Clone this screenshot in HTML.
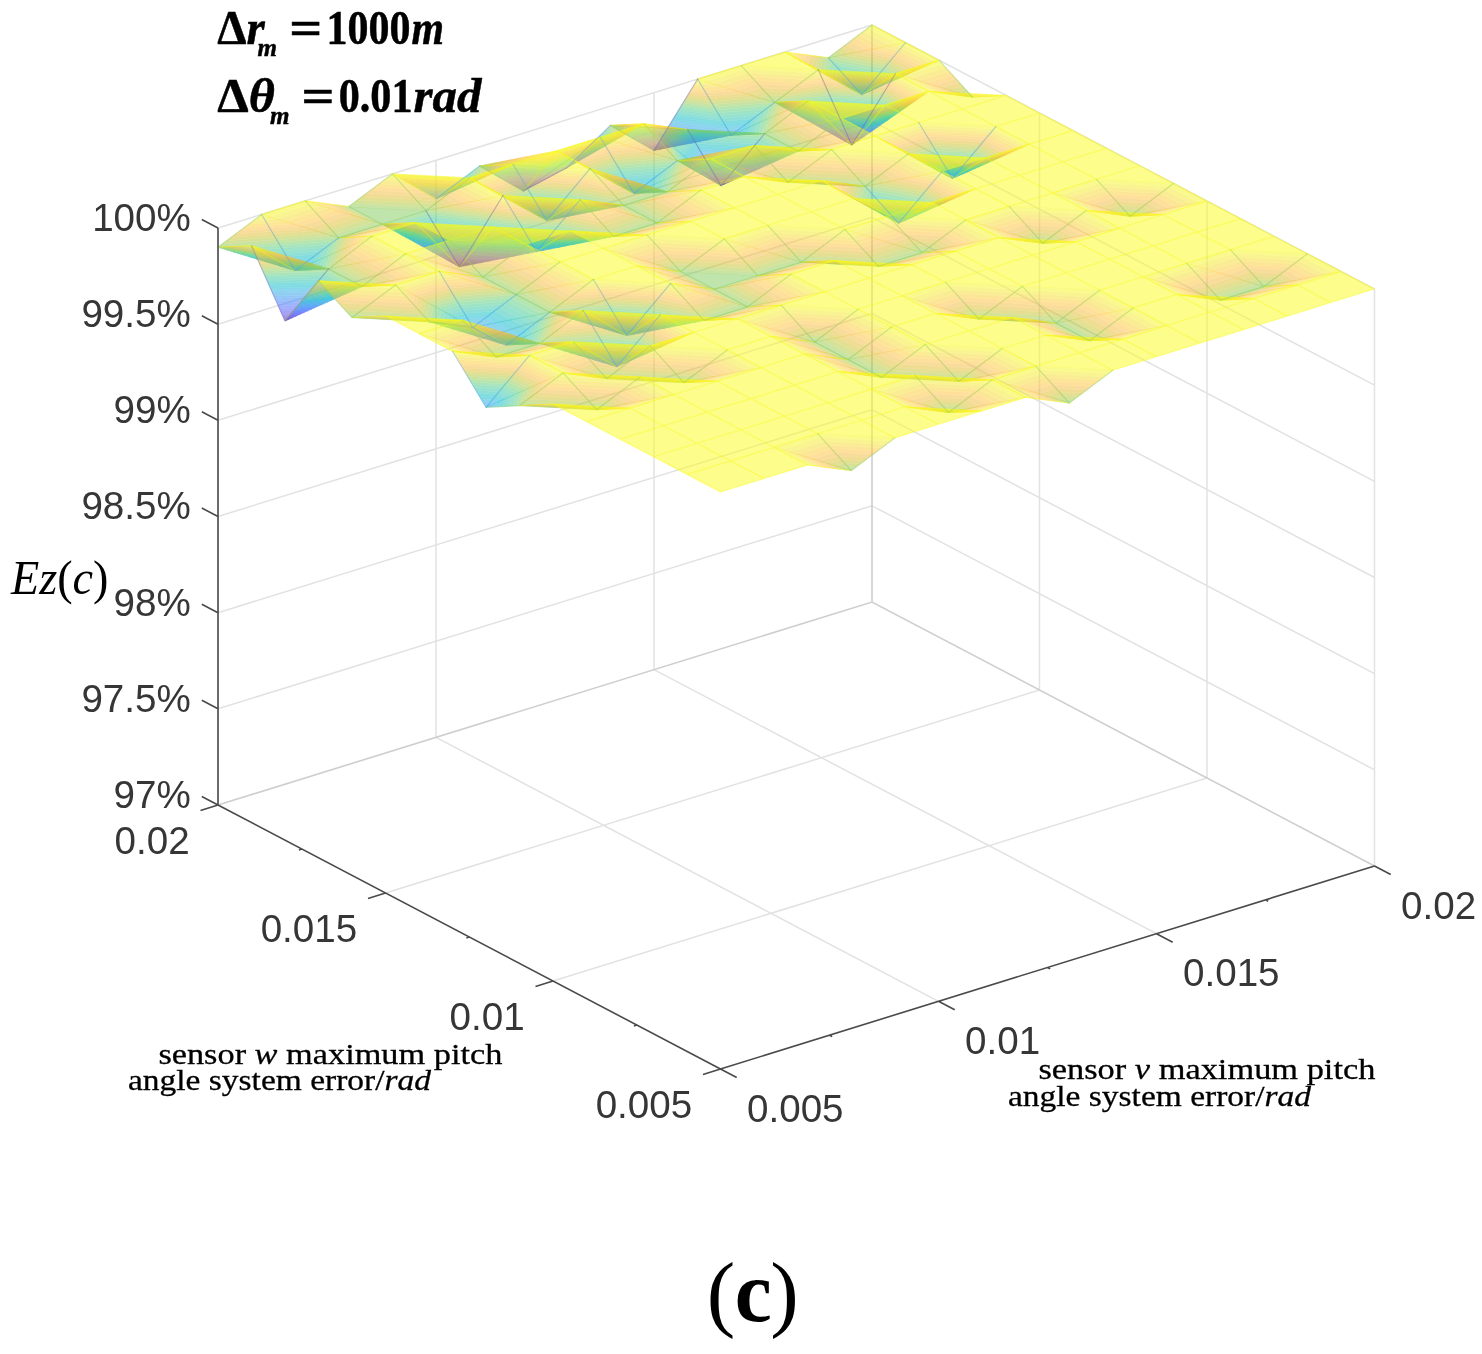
<!DOCTYPE html>
<html lang="en"><head><meta charset="utf-8"><title>Figure (c)</title><style>html,body{margin:0;padding:0;background:#fff}body{width:1482px;height:1354px;overflow:hidden}svg{display:block}</style></head><body>
<svg width="1482" height="1354" viewBox="0 0 1482 1354">
<rect width="1482" height="1354" fill="#fff"/>
<g stroke="#e2e2e2" stroke-width="1.5" fill="none">
<path d="M938.5,1001.3L436,737.3M553,981L1207,778M1156.5,933.7L654,669.7M385.5,893L1039.5,690M436,737.3L436,160.3M654,669.7L654,92.7M1207,778L1207,201M1039.5,690L1039.5,113M218,708.8L872,505.8M872,505.8L1374.5,769.8M218,612.7L872,409.7M872,409.7L1374.5,673.7M218,516.5L872,313.5M872,313.5L1374.5,577.5M218,420.3L872,217.3M872,217.3L1374.5,481.3M218,324.2L872,121.2M872,121.2L1374.5,385.2M218,228L872,25M872,25L1374.5,289M1374.5,866L1374.5,289"/>
</g>
<path d="M218,805L872,602L1374.5,866M872,602L872,25" stroke="#cecece" stroke-width="1.6" fill="none"/>
<path d="M918.8 122.5l43.6-13.6 -33.5-17.6 -43.6 13.6zM995.9 126.5l43.6-13.5 -33.5-17.6 -43.6 13.5zM875.2 136l43.6-13.5 -33.5-17.6 -43.6 13.5zM1029.4 144.1l43.6-13.5 -33.5-17.6 -43.6 13.5zM1062.9 161.7l43.6-13.5 -33.5-17.6 -43.6 13.5zM1019.3 175.3l43.6-13.6 -33.5-17.6 -43.6 13.6zM1096.4 179.3l43.6-13.5 -33.5-17.6 -43.6 13.5zM975.7 188.8l43.6-13.5 -33.5-17.6 -43.6 13.5zM1052.8 192.9l43.6-13.6 -33.5-17.6 -43.6 13.6zM1009.2 206.4l43.6-13.5 -33.5-17.6 -43.6 13.5zM734.3 207.7l43.6-13.5 -33.5-17.6 -43.6 13.5zM811.4 211.8l43.6-13.5 -33.5-17.6 -43.6 13.5zM965.6 219.9l43.6-13.5 -33.5-17.6 -43.6 13.5zM1196.9 232.1l43.6-13.5 -33.5-17.6 -43.6 13.5zM767.8 225.3l43.6-13.5 -33.5-17.6 -43.6 13.5zM844.9 229.4l43.6-13.5 -33.5-17.6 -43.6 13.5zM1153.3 245.7l43.6-13.6 -33.5-17.6 -43.6 13.6zM1230.4 249.7l43.6-13.5 -33.5-17.6 -43.6 13.5zM724.2 238.9l43.6-13.6 -33.5-17.6 -43.6 13.6zM1109.7 259.2l43.6-13.5 -33.5-17.6 -43.6 13.5zM1186.8 263.3l43.6-13.6 -33.5-17.6 -43.6 13.6zM989 268.7l43.6-13.6 -33.5-17.6 -43.6 13.6zM1066.1 272.7l43.6-13.5 -33.5-17.6 -43.6 13.5zM1143.2 276.8l43.6-13.5 -33.5-17.6 -43.6 13.5zM405.7 253.7l43.6-13.5 -33.5-17.6 -43.6 13.5zM559.9 261.9l43.6-13.6 -33.5-17.6 -43.6 13.6zM945.4 282.2l43.6-13.5 -33.5-17.6 -43.6 13.5zM1022.5 286.3l43.6-13.6 -33.5-17.6 -43.6 13.6zM1099.6 290.3l43.6-13.5 -33.5-17.6 -43.6 13.5zM1330.9 302.5l43.6-13.5 -33.5-17.6 -43.6 13.5zM593.4 279.5l43.6-13.6 -33.5-17.6 -43.6 13.6zM824.7 291.7l43.6-13.6 -33.5-17.6 -43.6 13.6zM901.8 295.7l43.6-13.5 -33.5-17.6 -43.6 13.5zM1133.1 307.9l43.6-13.5 -33.5-17.6 -43.6 13.5zM1287.3 316.1l43.6-13.6 -33.5-17.6 -43.6 13.6zM858.2 309.3l43.6-13.6 -33.5-17.6 -43.6 13.6zM1166.6 325.5l43.6-13.5 -33.5-17.6 -43.6 13.5zM1243.7 329.6l43.6-13.5 -33.5-17.6 -43.6 13.5zM891.7 326.9l43.6-13.6 -33.5-17.6 -43.6 13.6zM1200.1 343.1l43.6-13.5 -33.5-17.6 -43.6 13.5zM925.2 344.5l43.6-13.6 -33.5-17.6 -43.6 13.6zM1002.3 348.5l43.6-13.5 -33.5-17.6 -43.6 13.5zM1156.5 356.7l43.6-13.6 -33.5-17.6 -43.6 13.6zM727.4 349.9l43.6-13.6 -33.5-17.6 -43.6 13.6zM1035.8 366.1l43.6-13.5 -33.5-17.6 -43.6 13.5zM1112.9 370.2l43.6-13.5 -33.5-17.6 -43.6 13.5zM760.9 367.5l43.6-13.6 -33.5-17.6 -43.6 13.6zM794.4 385.1l43.6-13.6 -33.5-17.6 -43.6 13.6zM750.8 398.6l43.6-13.5 -33.5-17.6 -43.6 13.5zM827.9 402.7l43.6-13.6 -33.5-17.6 -43.6 13.6zM707.2 412.1l43.6-13.5 -33.5-17.6 -43.6 13.5zM784.3 416.2l43.6-13.5 -33.5-17.6 -43.6 13.5zM861.4 420.3l43.6-13.6 -33.5-17.6 -43.6 13.6zM663.6 425.7l43.6-13.6 -33.5-17.6 -43.6 13.6zM740.7 429.7l43.6-13.5 -33.5-17.6 -43.6 13.5zM817.8 433.8l43.6-13.5 -33.5-17.6 -43.6 13.5zM894.9 437.9l43.6-13.6 -33.5-17.6 -43.6 13.6zM620 439.2l43.6-13.5 -33.5-17.6 -43.6 13.5zM697.1 443.3l43.6-13.6 -33.5-17.6 -43.6 13.6zM774.2 447.3l43.6-13.5 -33.5-17.6 -43.6 13.5zM653.5 456.8l43.6-13.5 -33.5-17.6 -43.6 13.5zM730.6 460.9l43.6-13.6 -33.5-17.6 -43.6 13.6zM687 474.4l43.6-13.5 -33.5-17.6 -43.6 13.5zM764.1 478.5l43.6-13.6 -33.5-17.6 -43.6 13.6zM720.5 492l43.6-13.5 -33.5-17.6 -43.6 13.5z" fill="#f9fb15" fill-opacity="0.5"/>
<g stroke-width=".6" stroke-linejoin="round">
<g opacity="0.5">
<path d="M832.8 54.5l-4.4 3.3 7.7-1.5z" fill="#90ca4d" stroke="#90ca4d"/>
<path d="M837.1 51.2l-4.3 3.3 3.3 1.8 7.7-1.6z" fill="#adc638" stroke="#adc638"/>
<path d="M841.5 47.9l-4.4 3.3 6.7 3.5 7.7-1.5z" fill="#c8c129" stroke="#c8c129"/>
<path d="M845.8 44.7l-4.3 3.2 10 5.3 7.7-1.5z" fill="#e0bc2a" stroke="#e0bc2a"/>
<path d="M850.2 41.4l-4.4 3.3 13.4 7 7.8-1.5z" fill="#f3ba39" stroke="#f3ba39"/>
<path d="M854.6 38.1l-4.4 3.3 16.8 8.8 7.7-1.5z" fill="#fec13a" stroke="#fec13a"/>
<path d="M858.9 34.8l-4.3 3.3 20.1 10.6 7.7-1.5z" fill="#fdcd31" stroke="#fdcd31"/>
<path d="M863.3 31.6l-4.4 3.2 23.5 12.4 7.7-1.6z" fill="#f7db2b" stroke="#f7db2b"/>
<path d="M867.6 28.3l-4.3 3.3 26.8 14 7.7-1.5z" fill="#f5e825" stroke="#f5e825"/>
<path d="M905.5 42.6l-33.5-17.6 -4.4 3.3 30.2 15.8z" fill="#f7f51b" stroke="#f7f51b"/>
</g>
<g opacity="0.5">
<path d="M861.9 94.6l2.2-2.6 -5.6-1.1z" fill="#259ce7" stroke="#259ce7"/>
<path d="M864.1 92l2.2-2.6 -11.1-2.2 3.3 3.7z" fill="#1fa5e2" stroke="#1fa5e2"/>
<path d="M866.3 89.4l2.1-2.6 -16.5-3.2 3.3 3.6z" fill="#17aeda" stroke="#17aeda"/>
<path d="M868.4 86.8l2.2-2.6 -22.1-4.3 3.4 3.7z" fill="#05b6ce" stroke="#05b6ce"/>
<path d="M870.6 84.2l2.2-2.6 -27.7-5.4 3.4 3.7z" fill="#06bcc0" stroke="#06bcc0"/>
<path d="M872.8 81.6l2.2-2.6 -33.2-6.5 3.3 3.7z" fill="#1fc0b2" stroke="#1fc0b2"/>
<path d="M875 79l2.2-2.6 -38.8-7.6 3.4 3.7z" fill="#2fc5a2" stroke="#2fc5a2"/>
<path d="M877.2 76.4l2.1-2.6 -44.2-8.7 3.3 3.7z" fill="#3dc990" stroke="#3dc990"/>
<path d="M879.3 73.8l2.2-2.6 -49.7-9.7 3.3 3.6z" fill="#55cc7c" stroke="#55cc7c"/>
<path d="M881.5 71.2l2.2-2.6 -55.3-10.8 0 0 3.4 3.7z" fill="#71cd64" stroke="#71cd64"/>
<path d="M883.7 68.6l2.2-2.6 -49.8-9.7 -7.7 1.5 0 0z" fill="#90ca4d" stroke="#90ca4d"/>
<path d="M885.9 66l2.2-2.6 -44.3-8.7 -7.7 1.6z" fill="#adc638" stroke="#adc638"/>
<path d="M888.1 63.4l2.1-2.6 -38.7-7.6 -7.7 1.5z" fill="#c8c129" stroke="#c8c129"/>
<path d="M890.2 60.8l2.2-2.6 -33.2-6.5 -7.7 1.5z" fill="#e0bc2a" stroke="#e0bc2a"/>
<path d="M892.4 58.2l2.2-2.6 -27.6-5.4 -7.8 1.5z" fill="#f3ba39" stroke="#f3ba39"/>
<path d="M894.6 55.6l2.2-2.6 -22.1-4.3 -7.7 1.5z" fill="#fec13a" stroke="#fec13a"/>
<path d="M896.8 53l2.2-2.6 -16.6-3.2 -7.7 1.5z" fill="#fdcd31" stroke="#fdcd31"/>
<path d="M899 50.4l2.1-2.6 -11-2.2 -7.7 1.6z" fill="#f7db2b" stroke="#f7db2b"/>
<path d="M901.1 47.8l2.2-2.6 -5.5-1.1 -7.7 1.5z" fill="#f5e825" stroke="#f5e825"/>
<path d="M903.3 45.2l2.2-2.6 -7.7 1.5z" fill="#f7f51b" stroke="#f7f51b"/>
</g>
<g opacity="0.5">
<path d="M861.9 94.6l-3.4-3.7 -.5 1.6z" fill="#259ce7" stroke="#259ce7"/>
<path d="M858.5 90.9l-3.3-3.7 -1 3.1 3.8 2.2z" fill="#1fa5e2" stroke="#1fa5e2"/>
<path d="M855.2 87.2l-3.3-3.6 -1.6 4.6 3.9 2.1z" fill="#17aeda" stroke="#17aeda"/>
<path d="M851.9 83.6l-3.4-3.7 -2 6.2 3.8 2.1z" fill="#05b6ce" stroke="#05b6ce"/>
<path d="M848.5 79.9l-3.4-3.7 -2.5 7.8 3.9 2.1z" fill="#06bcc0" stroke="#06bcc0"/>
<path d="M845.1 76.2l-3.3-3.7 -3 9.3 3.8 2.2z" fill="#1fc0b2" stroke="#1fc0b2"/>
<path d="M841.8 72.5l-3.4-3.7 -3.5 10.9 3.9 2.1z" fill="#2fc5a2" stroke="#2fc5a2"/>
<path d="M838.4 68.8l-3.3-3.7 -4 12.5 3.8 2.1z" fill="#3dc990" stroke="#3dc990"/>
<path d="M835.1 65.1l-3.3-3.6 -4.6 14 3.9 2.1z" fill="#55cc7c" stroke="#55cc7c"/>
<path d="M831.8 61.5l-3.4-3.7 0 0 -5.1 15.5 3.9 2.2z" fill="#71cd64" stroke="#71cd64"/>
<path d="M828.4 57.8l0 0 -4.4-.6 -4.5 14 3.8 2.1z" fill="#90ca4d" stroke="#90ca4d"/>
<path d="M824 57.2l-4.3-.6 -4.1 12.5 3.9 2.1z" fill="#adc638" stroke="#adc638"/>
<path d="M819.7 56.6l-4.4-.5 -3.5 10.9 3.8 2.1z" fill="#c8c129" stroke="#c8c129"/>
<path d="M815.3 56.1l-4.3-.6 -3.1 9.3 3.9 2.2z" fill="#e0bc2a" stroke="#e0bc2a"/>
<path d="M811 55.5l-4.4-.6 -2.5 7.8 3.8 2.1z" fill="#f3ba39" stroke="#f3ba39"/>
<path d="M806.6 54.9l-4.4-.6 -2 6.3 3.9 2.1z" fill="#fec13a" stroke="#fec13a"/>
<path d="M802.2 54.3l-4.3-.5 -1.5 4.6 3.8 2.2z" fill="#fdcd31" stroke="#fdcd31"/>
<path d="M797.9 53.8l-4.4-.6 -1 3.1 3.9 2.1z" fill="#f7db2b" stroke="#f7db2b"/>
<path d="M793.5 53.2l-4.3-.6 -.5 1.6 3.8 2.1z" fill="#f5e825" stroke="#f5e825"/>
<path d="M789.2 52.6l-4.4-.5 3.9 2.1z" fill="#f7f51b" stroke="#f7f51b"/>
</g>
<g opacity="0.5">
<path d="M859.7 93.4l2.2 1.2 -3.9-2.1z" fill="#259ce7" stroke="#259ce7"/>
<path d="M857.5 92.1l2.2 1.3 -1.7-.9 -3.8-2.2z" fill="#1fa5e2" stroke="#1fa5e2"/>
<path d="M855.4 90.9l2.1 1.2 -3.3-1.8 -3.9-2.1z" fill="#17aeda" stroke="#17aeda"/>
<path d="M853.2 89.6l2.2 1.3 -5.1-2.7 -3.8-2.1z" fill="#05b6ce" stroke="#05b6ce"/>
<path d="M851 88.4l2.2 1.2 -6.7-3.5 -3.9-2.1z" fill="#06bcc0" stroke="#06bcc0"/>
<path d="M848.8 87.1l2.2 1.3 -8.4-4.4 -3.8-2.2z" fill="#1fc0b2" stroke="#1fc0b2"/>
<path d="M846.6 85.9l2.2 1.2 -10-5.3 -3.9-2.1z" fill="#2fc5a2" stroke="#2fc5a2"/>
<path d="M844.5 84.6l2.1 1.3 -11.7-6.2 -3.8-2.1z" fill="#3dc990" stroke="#3dc990"/>
<path d="M842.3 83.4l2.2 1.2 -13.4-7 -3.9-2.1z" fill="#55cc7c" stroke="#55cc7c"/>
<path d="M840.1 82.1l2.2 1.3 -15.1-7.9 -3.9-2.2z" fill="#71cd64" stroke="#71cd64"/>
<path d="M837.9 80.9l2.2 1.2 -16.8-8.8 -3.8-2.1z" fill="#90ca4d" stroke="#90ca4d"/>
<path d="M835.7 79.6l2.2 1.3 -18.4-9.7 -3.9-2.1z" fill="#adc638" stroke="#adc638"/>
<path d="M833.6 78.4l2.1 1.2 -20.1-10.5 -3.8-2.1z" fill="#c8c129" stroke="#c8c129"/>
<path d="M831.4 77.1l2.2 1.3 -21.8-11.4 -3.9-2.2z" fill="#e0bc2a" stroke="#e0bc2a"/>
<path d="M829.2 75.9l2.2 1.2 -23.5-12.3 -3.8-2.1z" fill="#f3ba39" stroke="#f3ba39"/>
<path d="M827 74.7l2.2 1.2 -25.1-13.2 -3.9-2.1z" fill="#fec13a" stroke="#fec13a"/>
<path d="M824.8 73.4l2.2 1.3 -26.8-14.1 -3.8-2.2z" fill="#fdcd31" stroke="#fdcd31"/>
<path d="M822.7 72.2l2.1 1.2 -28.4-15 -3.9-2.1z" fill="#f7db2b" stroke="#f7db2b"/>
<path d="M820.5 70.9l2.2 1.3 -30.2-15.9 -3.8-2.1z" fill="#f5e825" stroke="#f5e825"/>
<path d="M818.3 69.7l2.2 1.2 -31.8-16.7 -3.9-2.1z" fill="#f7f51b" stroke="#f7f51b"/>
</g>
<g opacity="0.5">
<path d="M864.1 92l-2.2 2.6 3.9-1.7z" fill="#259ce7" stroke="#259ce7"/>
<path d="M866.3 89.4l-2.2 2.6 1.7 .9 3.8-1.7z" fill="#1fa5e2" stroke="#1fa5e2"/>
<path d="M868.4 86.8l-2.1 2.6 3.3 1.8 3.9-1.8z" fill="#17aeda" stroke="#17aeda"/>
<path d="M870.6 84.2l-2.2 2.6 5.1 2.6 3.8-1.7z" fill="#05b6ce" stroke="#05b6ce"/>
<path d="M872.8 81.6l-2.2 2.6 6.7 3.5 3.9-1.7z" fill="#06bcc0" stroke="#06bcc0"/>
<path d="M875 79l-2.2 2.6 8.4 4.4 3.8-1.7z" fill="#1fc0b2" stroke="#1fc0b2"/>
<path d="M877.2 76.4l-2.2 2.6 10 5.3 3.9-1.7z" fill="#2fc5a2" stroke="#2fc5a2"/>
<path d="M879.3 73.8l-2.1 2.6 11.7 6.2 3.8-1.8z" fill="#3dc990" stroke="#3dc990"/>
<path d="M881.5 71.2l-2.2 2.6 13.4 7 3.9-1.7z" fill="#55cc7c" stroke="#55cc7c"/>
<path d="M883.7 68.6l-2.2 2.6 15.1 7.9 3.9-1.7z" fill="#71cd64" stroke="#71cd64"/>
<path d="M885.9 66l-2.2 2.6 16.8 8.8 3.8-1.7z" fill="#90ca4d" stroke="#90ca4d"/>
<path d="M888.1 63.4l-2.2 2.6 18.4 9.7 3.9-1.7z" fill="#adc638" stroke="#adc638"/>
<path d="M890.2 60.8l-2.1 2.6 20.1 10.6 3.8-1.8z" fill="#c8c129" stroke="#c8c129"/>
<path d="M892.4 58.2l-2.2 2.6 21.8 11.4 3.9-1.7z" fill="#e0bc2a" stroke="#e0bc2a"/>
<path d="M894.6 55.6l-2.2 2.6 23.5 12.3 3.8-1.7z" fill="#f3ba39" stroke="#f3ba39"/>
<path d="M896.8 53l-2.2 2.6 25.1 13.2 3.9-1.7z" fill="#fec13a" stroke="#fec13a"/>
<path d="M899 50.4l-2.2 2.6 26.8 14.1 3.8-1.7z" fill="#fdcd31" stroke="#fdcd31"/>
<path d="M901.1 47.8l-2.1 2.6 28.4 15 3.9-1.8z" fill="#f7db2b" stroke="#f7db2b"/>
<path d="M903.3 45.2l-2.2 2.6 30.2 15.8 3.8-1.7z" fill="#f5e825" stroke="#f5e825"/>
<path d="M939 60.2l-33.5-17.6 -2.2 2.6 31.8 16.7z" fill="#f7f51b" stroke="#f7f51b"/>
</g>
<g opacity="0.5">
<path d="M865.8 92.9l-3.9 1.7 1.7-1z" fill="#259ce7" stroke="#259ce7"/>
<path d="M869.6 91.2l-3.8 1.7 -2.2 .7 1.7-1.1z" fill="#1fa5e2" stroke="#1fa5e2"/>
<path d="M873.5 89.4l-3.9 1.8 -4.3 1.3 1.6-1z" fill="#17aeda" stroke="#17aeda"/>
<path d="M877.3 87.7l-3.8 1.7 -6.6 2.1 1.7-1.1z" fill="#05b6ce" stroke="#05b6ce"/>
<path d="M881.2 86l-3.9 1.7 -8.7 2.7 1.7-1z" fill="#06bcc0" stroke="#06bcc0"/>
<path d="M885 84.3l-3.8 1.7 -10.9 3.4 1.7-1.1z" fill="#1fc0b2" stroke="#1fc0b2"/>
<path d="M888.9 82.6l-3.9 1.7 -13 4 1.6-1z" fill="#2fc5a2" stroke="#2fc5a2"/>
<path d="M892.7 80.8l-3.8 1.8 -15.3 4.7 1.7-1z" fill="#3dc990" stroke="#3dc990"/>
<path d="M896.6 79.1l-3.9 1.7 -17.4 5.5 1.7-1.1z" fill="#55cc7c" stroke="#55cc7c"/>
<path d="M900.5 77.4l-3.9 1.7 -19.6 6.1 1.7-1z" fill="#71cd64" stroke="#71cd64"/>
<path d="M904.3 75.7l-3.8 1.7 -21.8 6.8 1.6-1.1z" fill="#90ca4d" stroke="#90ca4d"/>
<path d="M908.2 74l-3.9 1.7 -24 7.4 1.7-1z" fill="#adc638" stroke="#adc638"/>
<path d="M912 72.2l-3.8 1.8 -26.2 8.1 1.7-1.1z" fill="#c8c129" stroke="#c8c129"/>
<path d="M915.9 70.5l-3.9 1.7 -28.3 8.8 1.7-1z" fill="#e0bc2a" stroke="#e0bc2a"/>
<path d="M919.7 68.8l-3.8 1.7 -30.5 9.5 1.6-1.1z" fill="#f3ba39" stroke="#f3ba39"/>
<path d="M923.6 67.1l-3.9 1.7 -32.7 10.1 1.7-1z" fill="#fec13a" stroke="#fec13a"/>
<path d="M927.4 65.4l-3.8 1.7 -34.9 10.8 1.7-1z" fill="#fdcd31" stroke="#fdcd31"/>
<path d="M931.3 63.6l-3.9 1.8 -37 11.5 1.7-1.1z" fill="#f7db2b" stroke="#f7db2b"/>
<path d="M935.1 61.9l-3.8 1.7 -39.2 12.2 1.6-1z" fill="#f5e825" stroke="#f5e825"/>
<path d="M895.4 73.7l43.6-13.5 -3.9 1.7 -41.4 12.9z" fill="#f7f51b" stroke="#f7f51b"/>
</g>
<path d="M818.3 69.7l-33.5-17.6 -43.6 13.5z" fill="#f9fb15" fill-opacity="0.5" stroke="none"/>
<g opacity="0.5">
<path d="M774.7 102.4l4.4-3.2 -7.7-.4z" fill="#90ca4d" stroke="#90ca4d"/>
<path d="M779.1 99.2l4.3-3.3 -15.4-.8 3.4 3.7z" fill="#adc638" stroke="#adc638"/>
<path d="M783.4 95.9l4.4-3.3 -23.2-1.2 3.4 3.7z" fill="#c8c129" stroke="#c8c129"/>
<path d="M787.8 92.6l4.3-3.3 -30.8-1.6 3.3 3.7z" fill="#e0bc2a" stroke="#e0bc2a"/>
<path d="M792.1 89.3l4.4-3.3 -38.5-2 3.3 3.7z" fill="#f3ba39" stroke="#f3ba39"/>
<path d="M796.5 86l4.4-3.2 -46.3-2.5 3.4 3.7z" fill="#fec13a" stroke="#fec13a"/>
<path d="M800.9 82.8l4.3-3.3 -53.9-2.8 3.3 3.6z" fill="#fdcd31" stroke="#fdcd31"/>
<path d="M805.2 79.5l4.4-3.3 -61.7-3.2 3.4 3.7z" fill="#f7db2b" stroke="#f7db2b"/>
<path d="M809.6 76.2l4.3-3.3 -69.4-3.6 3.4 3.7z" fill="#f5e825" stroke="#f5e825"/>
<path d="M813.9 72.9l4.4-3.2 -77.1-4.1 3.3 3.7z" fill="#f7f51b" stroke="#f7f51b"/>
</g>
<g opacity="0.5">
<path d="M863.6 93.6l-1.7 1 -2.2-1.2z" fill="#259ce7" stroke="#259ce7"/>
<path d="M865.3 92.5l-1.7 1.1 -3.9-.2 -2.2-1.3z" fill="#1fa5e2" stroke="#1fa5e2"/>
<path d="M866.9 91.5l-1.6 1 -7.8-.4 -2.1-1.2z" fill="#17aeda" stroke="#17aeda"/>
<path d="M868.6 90.4l-1.7 1.1 -11.5-.6 -2.2-1.3z" fill="#05b6ce" stroke="#05b6ce"/>
<path d="M870.3 89.4l-1.7 1 -15.4-.8 -2.2-1.2z" fill="#06bcc0" stroke="#06bcc0"/>
<path d="M872 88.3l-1.7 1.1 -19.3-1 -2.2-1.3z" fill="#1fc0b2" stroke="#1fc0b2"/>
<path d="M873.6 87.3l-1.6 1 -23.2-1.2 -2.2-1.2z" fill="#2fc5a2" stroke="#2fc5a2"/>
<path d="M875.3 86.3l-1.7 1 -27-1.4 -2.1-1.3z" fill="#3dc990" stroke="#3dc990"/>
<path d="M877 85.2l-1.7 1.1 -30.8-1.7 -2.2-1.2z" fill="#55cc7c" stroke="#55cc7c"/>
<path d="M878.7 84.2l-1.7 1 -34.7-1.8 -2.2-1.3z" fill="#71cd64" stroke="#71cd64"/>
<path d="M880.3 83.1l-1.6 1.1 -38.6-2.1 -2.2-1.2z" fill="#90ca4d" stroke="#90ca4d"/>
<path d="M882 82.1l-1.7 1 -42.4-2.2 -2.2-1.3z" fill="#adc638" stroke="#adc638"/>
<path d="M883.7 81l-1.7 1.1 -46.3-2.5 -2.1-1.2z" fill="#c8c129" stroke="#c8c129"/>
<path d="M885.4 80l-1.7 1 -50.1-2.6 -2.2-1.3z" fill="#e0bc2a" stroke="#e0bc2a"/>
<path d="M887 78.9l-1.6 1.1 -54-2.9 -2.2-1.2z" fill="#f3ba39" stroke="#f3ba39"/>
<path d="M888.7 77.9l-1.7 1 -57.8-3 -2.2-1.2z" fill="#fec13a" stroke="#fec13a"/>
<path d="M890.4 76.9l-1.7 1 -61.7-3.2 -2.2-1.3z" fill="#fdcd31" stroke="#fdcd31"/>
<path d="M892.1 75.8l-1.7 1.1 -65.6-3.5 -2.1-1.2z" fill="#f7db2b" stroke="#f7db2b"/>
<path d="M893.7 74.8l-1.6 1 -69.4-3.6 -2.2-1.3z" fill="#f5e825" stroke="#f5e825"/>
<path d="M895.4 73.7l-1.7 1.1 -73.2-3.9 -2.2-1.2z" fill="#f7f51b" stroke="#f7f51b"/>
</g>
<g opacity="0.5">
<path d="M851.8 145l1.5-2.4 -2.6-.1z" fill="#402ab5" stroke="#402ab5"/>
<path d="M853.3 142.6l1.4-2.4 -5.1-.3 1.1 2.6z" fill="#4433cc" stroke="#4433cc"/>
<path d="M854.7 140.2l1.5-2.4 -7.8-.4 1.2 2.5z" fill="#463de0" stroke="#463de0"/>
<path d="M856.2 137.8l1.4-2.3 -10.3-.6 1.1 2.5z" fill="#4849ed" stroke="#4849ed"/>
<path d="M857.6 135.5l1.5-2.4 -12.9-.7 1.1 2.5z" fill="#4755f6" stroke="#4755f6"/>
<path d="M859.1 133.1l1.4-2.4 -15.4-.8 1.1 2.5z" fill="#4661fc" stroke="#4661fc"/>
<path d="M860.5 130.7l1.5-2.4 -18-.9 1.1 2.5z" fill="#406dfe" stroke="#406dfe"/>
<path d="M862 128.3l1.4-2.3 -20.5-1.1 1.1 2.5z" fill="#347afd" stroke="#347afd"/>
<path d="M863.4 126l1.5-2.4 -23.2-1.2 1.2 2.5z" fill="#2e86f7" stroke="#2e86f7"/>
<path d="M864.9 123.6l1.4-2.4 -25.7-1.3 1.1 2.5z" fill="#2b91ef" stroke="#2b91ef"/>
<path d="M866.3 121.2l1.5-2.4 -28.3-1.4 1.1 2.5z" fill="#259ce7" stroke="#259ce7"/>
<path d="M867.8 118.8l1.4-2.3 -30.8-1.7 1.1 2.6z" fill="#1fa5e2" stroke="#1fa5e2"/>
<path d="M869.2 116.5l1.5-2.4 -33.4-1.8 1.1 2.5z" fill="#17aeda" stroke="#17aeda"/>
<path d="M870.7 114.1l1.4-2.4 -35.9-1.9 1.1 2.5z" fill="#05b6ce" stroke="#05b6ce"/>
<path d="M872.1 111.7l1.5-2.4 -38.6-2 1.2 2.5z" fill="#06bcc0" stroke="#06bcc0"/>
<path d="M873.6 109.3l1.5-2.3 -41.2-2.2 1.1 2.5z" fill="#1fc0b2" stroke="#1fc0b2"/>
<path d="M875.1 107l1.4-2.4 -43.7-2.3 1.1 2.5z" fill="#2fc5a2" stroke="#2fc5a2"/>
<path d="M876.5 104.6l1.5-2.4 -46.3-2.4 1.1 2.5z" fill="#3dc990" stroke="#3dc990"/>
<path d="M878 102.2l1.4-2.3 -48.8-2.6 1.1 2.5z" fill="#55cc7c" stroke="#55cc7c"/>
<path d="M879.4 99.9l1.5-2.4 -51.4-2.7 1.1 2.5z" fill="#71cd64" stroke="#71cd64"/>
<path d="M880.9 97.5l1.4-2.4 -53.9-2.8 1.1 2.5z" fill="#90ca4d" stroke="#90ca4d"/>
<path d="M882.3 95.1l1.5-2.4 -56.6-3 1.2 2.6z" fill="#adc638" stroke="#adc638"/>
<path d="M883.8 92.7l1.4-2.3 -59.1-3.2 1.1 2.5z" fill="#c8c129" stroke="#c8c129"/>
<path d="M885.2 90.4l1.5-2.4 -61.7-3.3 1.1 2.5z" fill="#e0bc2a" stroke="#e0bc2a"/>
<path d="M886.7 88l1.4-2.4 -64.2-3.4 1.1 2.5z" fill="#f3ba39" stroke="#f3ba39"/>
<path d="M888.1 85.6l1.5-2.4 -66.8-3.5 1.1 2.5z" fill="#fec13a" stroke="#fec13a"/>
<path d="M889.6 83.2l1.4-2.3 -69.3-3.7 1.1 2.5z" fill="#fdcd31" stroke="#fdcd31"/>
<path d="M891 80.9l1.5-2.4 -72-3.8 1.2 2.5z" fill="#f7db2b" stroke="#f7db2b"/>
<path d="M892.5 78.5l1.4-2.4 -74.5-3.9 1.1 2.5z" fill="#f5e825" stroke="#f5e825"/>
<path d="M893.9 76.1l1.5-2.4 -77.1-4 1.1 2.5z" fill="#f7f51b" stroke="#f7f51b"/>
</g>
<g opacity="0.5">
<path d="M972.5 97l-3.3-3.6 -4.4 1.3z" fill="#90ca4d" stroke="#90ca4d"/>
<path d="M969.2 93.4l-3.4-3.7 -8.7 2.7 7.7 2.3z" fill="#adc638" stroke="#adc638"/>
<path d="M965.8 89.7l-3.4-3.7 -13 4 7.7 2.4z" fill="#c8c129" stroke="#c8c129"/>
<path d="M962.4 86l-3.3-3.7 -17.4 5.4 7.7 2.3z" fill="#e0bc2a" stroke="#e0bc2a"/>
<path d="M959.1 82.3l-3.3-3.7 -21.8 6.8 7.7 2.3z" fill="#f3ba39" stroke="#f3ba39"/>
<path d="M955.8 78.6l-3.4-3.7 -26.2 8.2 7.8 2.3z" fill="#fec13a" stroke="#fec13a"/>
<path d="M952.4 74.9l-3.3-3.6 -30.6 9.4 7.7 2.4z" fill="#fdcd31" stroke="#fdcd31"/>
<path d="M949.1 71.3l-3.4-3.7 -34.9 10.8 7.7 2.3z" fill="#f7db2b" stroke="#f7db2b"/>
<path d="M945.7 67.6l-3.4-3.7 -39.2 12.2 7.7 2.3z" fill="#f5e825" stroke="#f5e825"/>
<path d="M942.3 63.9l-3.3-3.7 -43.6 13.5 7.7 2.4z" fill="#f7f51b" stroke="#f7f51b"/>
</g>
<g opacity="0.5">
<path d="M968.1 96.5l4.4 .5 -7.7-2.3z" fill="#90ca4d" stroke="#90ca4d"/>
<path d="M963.8 95.9l4.3 .6 -3.3-1.8 -7.7-2.3z" fill="#adc638" stroke="#adc638"/>
<path d="M959.4 95.3l4.4 .6 -6.7-3.5 -7.7-2.4z" fill="#c8c129" stroke="#c8c129"/>
<path d="M955.1 94.8l4.3 .5 -10-5.3 -7.7-2.3z" fill="#e0bc2a" stroke="#e0bc2a"/>
<path d="M950.7 94.2l4.4 .6 -13.4-7.1 -7.7-2.3z" fill="#f3ba39" stroke="#f3ba39"/>
<path d="M946.3 93.6l4.4 .6 -16.7-8.8 -7.8-2.3z" fill="#fec13a" stroke="#fec13a"/>
<path d="M942 93l4.3 .6 -20.1-10.5 -7.7-2.4z" fill="#fdcd31" stroke="#fdcd31"/>
<path d="M937.6 92.5l4.4 .5 -23.5-12.3 -7.7-2.3z" fill="#f7db2b" stroke="#f7db2b"/>
<path d="M933.3 91.9l4.3 .6 -26.8-14.1 -7.7-2.3z" fill="#f5e825" stroke="#f5e825"/>
<path d="M928.9 91.3l4.4 .6 -30.2-15.8 -7.7-2.4z" fill="#f7f51b" stroke="#f7f51b"/>
</g>
<g opacity="0.5">
<path d="M774.7 102.4l-3.3-3.6 -4.4 1.3z" fill="#90ca4d" stroke="#90ca4d"/>
<path d="M771.4 98.8l-3.4-3.7 -8.7 2.7 7.7 2.3z" fill="#adc638" stroke="#adc638"/>
<path d="M768 95.1l-3.4-3.7 -13 4 7.7 2.4z" fill="#c8c129" stroke="#c8c129"/>
<path d="M764.6 91.4l-3.3-3.7 -17.4 5.4 7.7 2.3z" fill="#e0bc2a" stroke="#e0bc2a"/>
<path d="M761.3 87.7l-3.3-3.7 -21.8 6.8 7.7 2.3z" fill="#f3ba39" stroke="#f3ba39"/>
<path d="M758 84l-3.4-3.7 -26.2 8.2 7.8 2.3z" fill="#fec13a" stroke="#fec13a"/>
<path d="M754.6 80.3l-3.3-3.6 -30.6 9.4 7.7 2.4z" fill="#fdcd31" stroke="#fdcd31"/>
<path d="M751.3 76.7l-3.4-3.7 -34.9 10.8 7.7 2.3z" fill="#f7db2b" stroke="#f7db2b"/>
<path d="M747.9 73l-3.4-3.7 -39.2 12.2 7.7 2.3z" fill="#f5e825" stroke="#f5e825"/>
<path d="M744.5 69.3l-3.3-3.7 -43.6 13.5 7.7 2.4z" fill="#f7f51b" stroke="#f7f51b"/>
</g>
<g opacity="0.5">
<path d="M731.1 135.2l4.4-3.3 -6.1 .5z" fill="#259ce7" stroke="#259ce7"/>
<path d="M735.5 131.9l4.3-3.3 -12.1 1 1.7 2.8z" fill="#1fa5e2" stroke="#1fa5e2"/>
<path d="M739.8 128.6l4.4-3.2 -18.1 1.4 1.6 2.8z" fill="#17aeda" stroke="#17aeda"/>
<path d="M744.2 125.4l4.3-3.3 -24.1 1.9 1.7 2.8z" fill="#05b6ce" stroke="#05b6ce"/>
<path d="M748.5 122.1l4.4-3.3 -30.2 2.4 1.7 2.8z" fill="#06bcc0" stroke="#06bcc0"/>
<path d="M752.9 118.8l4.4-3.3 -36.3 2.9 1.7 2.8z" fill="#1fc0b2" stroke="#1fc0b2"/>
<path d="M757.3 115.5l4.3-3.2 -42.2 3.3 1.6 2.8z" fill="#2fc5a2" stroke="#2fc5a2"/>
<path d="M761.6 112.3l4.4-3.3 -48.3 3.8 1.7 2.8z" fill="#3dc990" stroke="#3dc990"/>
<path d="M766 109l4.3-3.3 -54.3 4.3 1.7 2.8z" fill="#55cc7c" stroke="#55cc7c"/>
<path d="M770.3 105.7l4.4-3.3 0 0 -60.4 4.8 1.7 2.8z" fill="#71cd64" stroke="#71cd64"/>
<path d="M774.7 102.4l0 0 -7.7-2.3 -54.3 4.3 1.6 2.8z" fill="#90ca4d" stroke="#90ca4d"/>
<path d="M767 100.1l-7.7-2.3 -48.3 3.8 1.7 2.8z" fill="#adc638" stroke="#adc638"/>
<path d="M759.3 97.8l-7.7-2.4 -42.3 3.4 1.7 2.8z" fill="#c8c129" stroke="#c8c129"/>
<path d="M751.6 95.4l-7.7-2.3 -36.2 2.9 1.6 2.8z" fill="#e0bc2a" stroke="#e0bc2a"/>
<path d="M743.9 93.1l-7.7-2.3 -30.2 2.3 1.7 2.9z" fill="#f3ba39" stroke="#f3ba39"/>
<path d="M736.2 90.8l-7.8-2.3 -24.1 1.8 1.7 2.8z" fill="#fec13a" stroke="#fec13a"/>
<path d="M728.4 88.5l-7.7-2.4 -18.1 1.4 1.7 2.8z" fill="#fdcd31" stroke="#fdcd31"/>
<path d="M720.7 86.1l-7.7-2.3 -12.1 .9 1.7 2.8z" fill="#f7db2b" stroke="#f7db2b"/>
<path d="M713 83.8l-7.7-2.3 -6 .4 1.6 2.8z" fill="#f5e825" stroke="#f5e825"/>
<path d="M705.3 81.5l-7.7-2.4 1.7 2.8z" fill="#f7f51b" stroke="#f7f51b"/>
</g>
<g opacity="0.5">
<path d="M851.8 145l-1.1-2.5 -2.8 .3z" fill="#402ab5" stroke="#402ab5"/>
<path d="M850.7 142.5l-1.1-2.6 -5.5 .8 3.8 2.1z" fill="#4433cc" stroke="#4433cc"/>
<path d="M849.6 139.9l-1.2-2.5 -8.2 1.2 3.9 2.1z" fill="#463de0" stroke="#463de0"/>
<path d="M848.4 137.4l-1.1-2.5 -10.9 1.6 3.8 2.1z" fill="#4849ed" stroke="#4849ed"/>
<path d="M847.3 134.9l-1.1-2.5 -13.7 1.9 3.9 2.2z" fill="#4755f6" stroke="#4755f6"/>
<path d="M846.2 132.4l-1.1-2.5 -16.4 2.3 3.8 2.1z" fill="#4661fc" stroke="#4661fc"/>
<path d="M845.1 129.9l-1.1-2.5 -19.2 2.7 3.9 2.1z" fill="#406dfe" stroke="#406dfe"/>
<path d="M844 127.4l-1.1-2.5 -21.9 3.1 3.8 2.1z" fill="#347afd" stroke="#347afd"/>
<path d="M842.9 124.9l-1.2-2.5 -24.6 3.4 3.9 2.2z" fill="#2e86f7" stroke="#2e86f7"/>
<path d="M841.7 122.4l-1.1-2.5 -27.3 3.8 3.8 2.1z" fill="#2b91ef" stroke="#2b91ef"/>
<path d="M840.6 119.9l-1.1-2.5 -30.1 4.2 3.9 2.1z" fill="#259ce7" stroke="#259ce7"/>
<path d="M839.5 117.4l-1.1-2.6 -32.9 4.6 3.9 2.2z" fill="#1fa5e2" stroke="#1fa5e2"/>
<path d="M838.4 114.8l-1.1-2.5 -35.6 5 3.8 2.1z" fill="#17aeda" stroke="#17aeda"/>
<path d="M837.3 112.3l-1.1-2.5 -38.4 5.4 3.9 2.1z" fill="#05b6ce" stroke="#05b6ce"/>
<path d="M836.2 109.8l-1.2-2.5 -41 5.8 3.8 2.1z" fill="#06bcc0" stroke="#06bcc0"/>
<path d="M835 107.3l-1.1-2.5 -43.8 6.1 3.9 2.2z" fill="#1fc0b2" stroke="#1fc0b2"/>
<path d="M833.9 104.8l-1.1-2.5 -46.5 6.5 3.8 2.1z" fill="#2fc5a2" stroke="#2fc5a2"/>
<path d="M832.8 102.3l-1.1-2.5 -49.3 6.9 3.9 2.1z" fill="#3dc990" stroke="#3dc990"/>
<path d="M831.7 99.8l-1.1-2.5 -52 7.3 3.8 2.1z" fill="#55cc7c" stroke="#55cc7c"/>
<path d="M830.6 97.3l-1.1-2.5 -54.8 7.6 0 0 3.9 2.2z" fill="#71cd64" stroke="#71cd64"/>
<path d="M829.5 94.8l-1.1-2.5 -49.3 6.9 -4.4 3.2 0 0z" fill="#90ca4d" stroke="#90ca4d"/>
<path d="M828.4 92.3l-1.2-2.6 -43.8 6.2 -4.3 3.3z" fill="#adc638" stroke="#adc638"/>
<path d="M827.2 89.7l-1.1-2.5 -38.3 5.4 -4.4 3.3z" fill="#c8c129" stroke="#c8c129"/>
<path d="M826.1 87.2l-1.1-2.5 -32.9 4.6 -4.3 3.3z" fill="#e0bc2a" stroke="#e0bc2a"/>
<path d="M825 84.7l-1.1-2.5 -27.4 3.8 -4.4 3.3z" fill="#f3ba39" stroke="#f3ba39"/>
<path d="M823.9 82.2l-1.1-2.5 -21.9 3.1 -4.4 3.2z" fill="#fec13a" stroke="#fec13a"/>
<path d="M822.8 79.7l-1.1-2.5 -16.5 2.3 -4.3 3.3z" fill="#fdcd31" stroke="#fdcd31"/>
<path d="M821.7 77.2l-1.2-2.5 -10.9 1.5 -4.4 3.3z" fill="#f7db2b" stroke="#f7db2b"/>
<path d="M820.5 74.7l-1.1-2.5 -5.5 .7 -4.3 3.3z" fill="#f5e825" stroke="#f5e825"/>
<path d="M819.4 72.2l-1.1-2.5 -4.4 3.2z" fill="#f7f51b" stroke="#f7f51b"/>
</g>
<g opacity="0.5">
<path d="M850.3 143.5l1.5 1.5 -3.9-2.2z" fill="#402ab5" stroke="#402ab5"/>
<path d="M848.9 142l1.4 1.5 -2.4-.7 -3.8-2.1z" fill="#4433cc" stroke="#4433cc"/>
<path d="M847.4 140.5l1.5 1.5 -4.8-1.3 -3.9-2.1z" fill="#463de0" stroke="#463de0"/>
<path d="M846 139.1l1.4 1.4 -7.2-1.9 -3.8-2.1z" fill="#4849ed" stroke="#4849ed"/>
<path d="M844.5 137.6l1.5 1.5 -9.6-2.6 -3.9-2.2z" fill="#4755f6" stroke="#4755f6"/>
<path d="M843.1 136.1l1.4 1.5 -12-3.3 -3.8-2.1z" fill="#4661fc" stroke="#4661fc"/>
<path d="M841.6 134.7l1.5 1.4 -14.4-3.9 -3.9-2.1z" fill="#406dfe" stroke="#406dfe"/>
<path d="M840.2 133.2l1.4 1.5 -16.8-4.6 -3.8-2.1z" fill="#347afd" stroke="#347afd"/>
<path d="M838.7 131.7l1.5 1.5 -19.2-5.2 -3.9-2.2z" fill="#2e86f7" stroke="#2e86f7"/>
<path d="M837.3 130.2l1.4 1.5 -21.6-5.9 -3.8-2.1z" fill="#2b91ef" stroke="#2b91ef"/>
<path d="M835.8 128.8l1.5 1.4 -24-6.5 -3.9-2.1z" fill="#259ce7" stroke="#259ce7"/>
<path d="M834.4 127.3l1.4 1.5 -26.4-7.2 -3.9-2.2z" fill="#1fa5e2" stroke="#1fa5e2"/>
<path d="M832.9 125.8l1.5 1.5 -28.9-7.9 -3.8-2.1z" fill="#17aeda" stroke="#17aeda"/>
<path d="M831.5 124.4l1.4 1.4 -31.2-8.5 -3.9-2.1z" fill="#05b6ce" stroke="#05b6ce"/>
<path d="M830 122.9l1.5 1.5 -33.7-9.2 -3.8-2.1z" fill="#06bcc0" stroke="#06bcc0"/>
<path d="M828.5 121.4l1.5 1.5 -36-9.8 -3.9-2.2z" fill="#1fc0b2" stroke="#1fc0b2"/>
<path d="M827.1 119.9l1.4 1.5 -38.4-10.5 -3.8-2.1z" fill="#2fc5a2" stroke="#2fc5a2"/>
<path d="M825.6 118.5l1.5 1.4 -40.8-11.1 -3.9-2.1z" fill="#3dc990" stroke="#3dc990"/>
<path d="M824.2 117l1.4 1.5 -43.2-11.8 -3.8-2.1z" fill="#55cc7c" stroke="#55cc7c"/>
<path d="M822.7 115.5l1.5 1.5 -45.6-12.4 -3.9-2.2 0 0z" fill="#71cd64" stroke="#71cd64"/>
<path d="M821.3 114.1l1.4 1.4 -48-13.1 0 0 3.3-.1z" fill="#90ca4d" stroke="#90ca4d"/>
<path d="M819.8 112.6l1.5 1.5 -43.3-11.8 3.4-.2z" fill="#adc638" stroke="#adc638"/>
<path d="M818.4 111.1l1.4 1.5 -38.4-10.5 3.4-.2z" fill="#c8c129" stroke="#c8c129"/>
<path d="M816.9 109.6l1.5 1.5 -33.6-9.2 3.3-.1z" fill="#e0bc2a" stroke="#e0bc2a"/>
<path d="M815.5 108.2l1.4 1.4 -28.8-7.8 3.3-.2z" fill="#f3ba39" stroke="#f3ba39"/>
<path d="M814 106.7l1.5 1.5 -24.1-6.6 3.4-.1z" fill="#fec13a" stroke="#fec13a"/>
<path d="M812.6 105.2l1.4 1.5 -19.2-5.2 3.3-.2z" fill="#fdcd31" stroke="#fdcd31"/>
<path d="M811.1 103.7l1.5 1.5 -14.5-3.9 3.4-.2z" fill="#f7db2b" stroke="#f7db2b"/>
<path d="M809.7 102.3l1.4 1.4 -9.6-2.6 3.4-.1z" fill="#f5e825" stroke="#f5e825"/>
<path d="M808.2 100.8l1.5 1.5 -4.8-1.3z" fill="#f7f51b" stroke="#f7f51b"/>
</g>
<g opacity="0.5">
<path d="M853.3 142.6l-1.5 2.4 2.6-1.8z" fill="#402ab5" stroke="#402ab5"/>
<path d="M854.7 140.2l-1.4 2.4 1.1 .6 2.5-1.8z" fill="#4433cc" stroke="#4433cc"/>
<path d="M856.2 137.8l-1.5 2.4 2.2 1.2 2.6-1.8z" fill="#463de0" stroke="#463de0"/>
<path d="M857.6 135.5l-1.4 2.3 3.3 1.8 2.6-1.8z" fill="#4849ed" stroke="#4849ed"/>
<path d="M859.1 133.1l-1.5 2.4 4.5 2.3 2.5-1.8z" fill="#4755f6" stroke="#4755f6"/>
<path d="M860.5 130.7l-1.4 2.4 5.5 2.9 2.6-1.8z" fill="#4661fc" stroke="#4661fc"/>
<path d="M862 128.3l-1.5 2.4 6.7 3.5 2.6-1.7z" fill="#406dfe" stroke="#406dfe"/>
<path d="M863.4 126l-1.4 2.3 7.8 4.2 2.6-1.8z" fill="#347afd" stroke="#347afd"/>
<path d="M864.9 123.6l-1.5 2.4 9 4.7 2.5-1.8z" fill="#2e86f7" stroke="#2e86f7"/>
<path d="M866.3 121.2l-1.4 2.4 10 5.3 2.6-1.8z" fill="#2b91ef" stroke="#2b91ef"/>
<path d="M867.8 118.8l-1.5 2.4 11.2 5.9 2.6-1.8z" fill="#259ce7" stroke="#259ce7"/>
<path d="M869.2 116.5l-1.4 2.3 12.3 6.5 2.5-1.8z" fill="#1fa5e2" stroke="#1fa5e2"/>
<path d="M870.7 114.1l-1.5 2.4 13.4 7 2.6-1.8z" fill="#17aeda" stroke="#17aeda"/>
<path d="M872.1 111.7l-1.4 2.4 14.5 7.6 2.6-1.8z" fill="#05b6ce" stroke="#05b6ce"/>
<path d="M873.6 109.3l-1.5 2.4 15.7 8.2 2.6-1.8z" fill="#06bcc0" stroke="#06bcc0"/>
<path d="M875.1 107l-1.5 2.3 16.8 8.8 2.5-1.7z" fill="#1fc0b2" stroke="#1fc0b2"/>
<path d="M876.5 104.6l-1.4 2.4 17.8 9.4 2.6-1.8z" fill="#2fc5a2" stroke="#2fc5a2"/>
<path d="M878 102.2l-1.5 2.4 19 10 2.6-1.8z" fill="#3dc990" stroke="#3dc990"/>
<path d="M879.4 99.9l-1.4 2.3 20.1 10.6 2.5-1.8z" fill="#55cc7c" stroke="#55cc7c"/>
<path d="M880.9 97.5l-1.5 2.4 21.2 11.1 2.6-1.8z" fill="#71cd64" stroke="#71cd64"/>
<path d="M882.3 95.1l-1.4 2.4 22.3 11.7 2.6-1.8z" fill="#90ca4d" stroke="#90ca4d"/>
<path d="M883.8 92.7l-1.5 2.4 23.5 12.3 2.5-1.8z" fill="#adc638" stroke="#adc638"/>
<path d="M885.2 90.4l-1.4 2.3 24.5 12.9 2.6-1.8z" fill="#c8c129" stroke="#c8c129"/>
<path d="M886.7 88l-1.5 2.4 25.7 13.4 2.6-1.7z" fill="#e0bc2a" stroke="#e0bc2a"/>
<path d="M888.1 85.6l-1.4 2.4 26.8 14.1 2.6-1.8z" fill="#f3ba39" stroke="#f3ba39"/>
<path d="M889.6 83.2l-1.5 2.4 28 14.7 2.5-1.8z" fill="#fec13a" stroke="#fec13a"/>
<path d="M891 80.9l-1.4 2.3 29 15.3 2.6-1.8z" fill="#fdcd31" stroke="#fdcd31"/>
<path d="M892.5 78.5l-1.5 2.4 30.2 15.8 2.6-1.8z" fill="#f7db2b" stroke="#f7db2b"/>
<path d="M893.9 76.1l-1.4 2.4 31.3 16.4 2.5-1.8z" fill="#f5e825" stroke="#f5e825"/>
<path d="M928.9 91.3l-33.5-17.6 -1.5 2.4 32.4 17z" fill="#f7f51b" stroke="#f7f51b"/>
</g>
<g opacity="0.5">
<path d="M854.4 143.2l-2.6 1.8 1.1-1.4z" fill="#402ab5" stroke="#402ab5"/>
<path d="M856.9 141.4l-2.5 1.8 -1.5 .4 1.1-1.3z" fill="#4433cc" stroke="#4433cc"/>
<path d="M859.5 139.6l-2.6 1.8 -2.9 .9 1.2-1.3z" fill="#463de0" stroke="#463de0"/>
<path d="M862.1 137.8l-2.6 1.8 -4.3 1.4 1.1-1.4z" fill="#4849ed" stroke="#4849ed"/>
<path d="M864.6 136l-2.5 1.8 -5.8 1.8 1.1-1.3z" fill="#4755f6" stroke="#4755f6"/>
<path d="M867.2 134.2l-2.6 1.8 -7.2 2.3 1.1-1.4z" fill="#4661fc" stroke="#4661fc"/>
<path d="M869.8 132.5l-2.6 1.7 -8.7 2.7 1.1-1.3z" fill="#406dfe" stroke="#406dfe"/>
<path d="M872.4 130.7l-2.6 1.8 -10.2 3.1 1.1-1.3z" fill="#347afd" stroke="#347afd"/>
<path d="M874.9 128.9l-2.5 1.8 -11.7 3.6 1.2-1.4z" fill="#2e86f7" stroke="#2e86f7"/>
<path d="M877.5 127.1l-2.6 1.8 -13 4 1.1-1.3z" fill="#2b91ef" stroke="#2b91ef"/>
<path d="M880.1 125.3l-2.6 1.8 -14.5 4.5 1.1-1.3z" fill="#259ce7" stroke="#259ce7"/>
<path d="M882.6 123.5l-2.5 1.8 -16 5 1.1-1.4z" fill="#1fa5e2" stroke="#1fa5e2"/>
<path d="M885.2 121.7l-2.6 1.8 -17.4 5.4 1.1-1.3z" fill="#17aeda" stroke="#17aeda"/>
<path d="M887.8 119.9l-2.6 1.8 -18.9 5.9 1.1-1.3z" fill="#05b6ce" stroke="#05b6ce"/>
<path d="M890.4 118.1l-2.6 1.8 -20.4 6.4 1.2-1.4z" fill="#06bcc0" stroke="#06bcc0"/>
<path d="M892.9 116.4l-2.5 1.7 -21.8 6.8 1.1-1.3z" fill="#1fc0b2" stroke="#1fc0b2"/>
<path d="M895.5 114.6l-2.6 1.8 -23.2 7.2 1.1-1.4z" fill="#2fc5a2" stroke="#2fc5a2"/>
<path d="M898.1 112.8l-2.6 1.8 -24.7 7.6 1.1-1.3z" fill="#3dc990" stroke="#3dc990"/>
<path d="M900.6 111l-2.5 1.8 -26.2 8.1 1.1-1.3z" fill="#55cc7c" stroke="#55cc7c"/>
<path d="M903.2 109.2l-2.6 1.8 -27.6 8.6 1.1-1.4z" fill="#71cd64" stroke="#71cd64"/>
<path d="M905.8 107.4l-2.6 1.8 -29.1 9 1.1-1.3z" fill="#90ca4d" stroke="#90ca4d"/>
<path d="M908.3 105.6l-2.5 1.8 -30.6 9.5 1.2-1.3z" fill="#adc638" stroke="#adc638"/>
<path d="M910.9 103.8l-2.6 1.8 -31.9 10 1.1-1.4z" fill="#c8c129" stroke="#c8c129"/>
<path d="M913.5 102.1l-2.6 1.7 -33.4 10.4 1.1-1.3z" fill="#e0bc2a" stroke="#e0bc2a"/>
<path d="M916.1 100.3l-2.6 1.8 -34.9 10.8 1.1-1.4z" fill="#f3ba39" stroke="#f3ba39"/>
<path d="M918.6 98.5l-2.5 1.8 -36.4 11.2 1.1-1.3z" fill="#fec13a" stroke="#fec13a"/>
<path d="M921.2 96.7l-2.6 1.8 -37.8 11.7 1.2-1.3z" fill="#fdcd31" stroke="#fdcd31"/>
<path d="M923.8 94.9l-2.6 1.8 -39.2 12.2 1.1-1.4z" fill="#f7db2b" stroke="#f7db2b"/>
<path d="M926.3 93.1l-2.5 1.8 -40.7 12.6 1.1-1.3z" fill="#f5e825" stroke="#f5e825"/>
<path d="M885.3 104.9l43.6-13.6 -2.6 1.8 -42.1 13.1z" fill="#f7f51b" stroke="#f7f51b"/>
</g>
<g opacity="0.5">
<path d="M975.8 96.9l-3.3 .1 -4.4-.5z" fill="#90ca4d" stroke="#90ca4d"/>
<path d="M979.2 96.7l-3.4 .2 -7.7-.4 -4.3-.6z" fill="#adc638" stroke="#adc638"/>
<path d="M982.6 96.5l-3.4 .2 -15.4-.8 -4.4-.6z" fill="#c8c129" stroke="#c8c129"/>
<path d="M985.9 96.4l-3.3 .1 -23.2-1.2 -4.3-.5z" fill="#e0bc2a" stroke="#e0bc2a"/>
<path d="M989.2 96.2l-3.3 .2 -30.8-1.6 -4.4-.6z" fill="#f3ba39" stroke="#f3ba39"/>
<path d="M992.6 96.1l-3.4 .1 -38.5-2 -4.4-.6z" fill="#fec13a" stroke="#fec13a"/>
<path d="M995.9 95.9l-3.3 .2 -46.3-2.5 -4.3-.6z" fill="#fdcd31" stroke="#fdcd31"/>
<path d="M999.3 95.7l-3.4 .2 -53.9-2.9 -4.4-.5z" fill="#f7db2b" stroke="#f7db2b"/>
<path d="M1002.7 95.6l-3.4 .1 -61.7-3.2 -4.3-.6z" fill="#f5e825" stroke="#f5e825"/>
<path d="M1006 95.4l-3.3 .2 -69.4-3.7 -4.4-.6z" fill="#f7f51b" stroke="#f7f51b"/>
</g>
<path d="M962.4 108.9l43.6-13.5 -77.1-4.1z" fill="#f9fb15" fill-opacity="0.5" stroke="none"/>
<g opacity="0.5">
<path d="M655.5 148l-1.5 2.4 7.7-1.6z" fill="#402ab5" stroke="#402ab5"/>
<path d="M656.9 145.6l-1.4 2.4 6.2 .8 7.7-1.5z" fill="#4433cc" stroke="#4433cc"/>
<path d="M658.4 143.2l-1.5 2.4 12.5 1.7 7.7-1.5z" fill="#463de0" stroke="#463de0"/>
<path d="M659.8 140.9l-1.4 2.3 18.7 2.6 7.7-1.5z" fill="#4849ed" stroke="#4849ed"/>
<path d="M661.3 138.5l-1.5 2.4 25 3.4 7.8-1.5z" fill="#4755f6" stroke="#4755f6"/>
<path d="M662.7 136.1l-1.4 2.4 31.3 4.3 7.7-1.5z" fill="#4661fc" stroke="#4661fc"/>
<path d="M664.2 133.7l-1.5 2.4 37.6 5.2 7.7-1.5z" fill="#406dfe" stroke="#406dfe"/>
<path d="M665.6 131.4l-1.4 2.3 43.8 6.1 7.7-1.6z" fill="#347afd" stroke="#347afd"/>
<path d="M667.1 129l-1.5 2.4 50.1 6.8 7.7-1.5z" fill="#2e86f7" stroke="#2e86f7"/>
<path d="M731.1 135.2l0 0 -62.6-8.6 -1.4 2.4 56.3 7.7z" fill="#2b91ef" stroke="#2b91ef"/>
<path d="M731.1 135.2l-1.7-2.8 -59.4-8.2 -1.5 2.4 62.6 8.6z" fill="#259ce7" stroke="#259ce7"/>
<path d="M729.4 132.4l-1.7-2.8 -56.3-7.7 -1.4 2.3z" fill="#1fa5e2" stroke="#1fa5e2"/>
<path d="M727.7 129.6l-1.6-2.8 -53.2-7.3 -1.5 2.4z" fill="#17aeda" stroke="#17aeda"/>
<path d="M726.1 126.8l-1.7-2.8 -50.1-6.9 -1.4 2.4z" fill="#05b6ce" stroke="#05b6ce"/>
<path d="M724.4 124l-1.7-2.8 -46.9-6.5 -1.5 2.4z" fill="#06bcc0" stroke="#06bcc0"/>
<path d="M722.7 121.2l-1.7-2.8 -43.7-6 -1.5 2.3z" fill="#1fc0b2" stroke="#1fc0b2"/>
<path d="M721 118.4l-1.6-2.8 -40.7-5.6 -1.4 2.4z" fill="#2fc5a2" stroke="#2fc5a2"/>
<path d="M719.4 115.6l-1.7-2.8 -37.5-5.2 -1.5 2.4z" fill="#3dc990" stroke="#3dc990"/>
<path d="M717.7 112.8l-1.7-2.8 -34.4-4.7 -1.4 2.3z" fill="#55cc7c" stroke="#55cc7c"/>
<path d="M716 110l-1.7-2.8 -31.2-4.3 -1.5 2.4z" fill="#71cd64" stroke="#71cd64"/>
<path d="M714.3 107.2l-1.6-2.8 -28.2-3.9 -1.4 2.4z" fill="#90ca4d" stroke="#90ca4d"/>
<path d="M712.7 104.4l-1.7-2.8 -25-3.5 -1.5 2.4z" fill="#adc638" stroke="#adc638"/>
<path d="M711 101.6l-1.7-2.8 -21.9-3 -1.4 2.3z" fill="#c8c129" stroke="#c8c129"/>
<path d="M709.3 98.8l-1.6-2.8 -18.8-2.6 -1.5 2.4z" fill="#e0bc2a" stroke="#e0bc2a"/>
<path d="M707.7 96l-1.7-2.9 -15.7-2.1 -1.4 2.4z" fill="#f3ba39" stroke="#f3ba39"/>
<path d="M706 93.1l-1.7-2.8 -12.5-1.7 -1.5 2.4z" fill="#fec13a" stroke="#fec13a"/>
<path d="M704.3 90.3l-1.7-2.8 -9.4-1.2 -1.4 2.3z" fill="#fdcd31" stroke="#fdcd31"/>
<path d="M702.6 87.5l-1.7-2.8 -6.2-.8 -1.5 2.4z" fill="#f7db2b" stroke="#f7db2b"/>
<path d="M700.9 84.7l-1.6-2.8 -3.2-.4 -1.4 2.4z" fill="#f5e825" stroke="#f5e825"/>
<path d="M699.3 81.9l-1.7-2.8 -1.5 2.4z" fill="#f7f51b" stroke="#f7f51b"/>
</g>
<g opacity="0.5">
<path d="M661.7 148.8l-7.7 1.6 1.7-1.1z" fill="#402ab5" stroke="#402ab5"/>
<path d="M669.4 147.3l-7.7 1.5 -6 .5 1.6-1z" fill="#4433cc" stroke="#4433cc"/>
<path d="M677.1 145.8l-7.7 1.5 -12.1 1 1.7-1.1z" fill="#463de0" stroke="#463de0"/>
<path d="M684.8 144.3l-7.7 1.5 -18.1 1.4 1.7-1z" fill="#4849ed" stroke="#4849ed"/>
<path d="M692.6 142.8l-7.8 1.5 -24.1 1.9 1.7-1.1z" fill="#4755f6" stroke="#4755f6"/>
<path d="M700.3 141.3l-7.7 1.5 -30.2 2.3 1.7-1z" fill="#4661fc" stroke="#4661fc"/>
<path d="M708 139.8l-7.7 1.5 -36.2 2.8 1.6-1z" fill="#406dfe" stroke="#406dfe"/>
<path d="M715.7 138.2l-7.7 1.6 -42.3 3.3 1.7-1.1z" fill="#347afd" stroke="#347afd"/>
<path d="M723.4 136.7l-7.7 1.5 -48.3 3.8 1.7-1z" fill="#2e86f7" stroke="#2e86f7"/>
<path d="M731.1 135.2l0 0 -7.7 1.5 -54.3 4.3 1.6-1.1z" fill="#2b91ef" stroke="#2b91ef"/>
<path d="M726.7 134.6l4.4 .6 0 0 -60.4 4.7 1.7-1z" fill="#259ce7" stroke="#259ce7"/>
<path d="M722.4 134.1l4.3 .5 -54.3 4.3 1.7-1.1z" fill="#1fa5e2" stroke="#1fa5e2"/>
<path d="M718 133.5l4.4 .6 -48.3 3.7 1.7-1z" fill="#17aeda" stroke="#17aeda"/>
<path d="M713.7 132.9l4.3 .6 -42.2 3.3 1.6-1z" fill="#05b6ce" stroke="#05b6ce"/>
<path d="M709.3 132.3l4.4 .6 -36.3 2.9 1.7-1.1z" fill="#06bcc0" stroke="#06bcc0"/>
<path d="M704.9 131.8l4.4 .5 -30.2 2.4 1.7-1z" fill="#1fc0b2" stroke="#1fc0b2"/>
<path d="M700.6 131.2l4.3 .6 -24.1 1.9 1.7-1.1z" fill="#2fc5a2" stroke="#2fc5a2"/>
<path d="M696.2 130.6l4.4 .6 -18.1 1.4 1.6-1z" fill="#3dc990" stroke="#3dc990"/>
<path d="M691.9 130.1l4.3 .5 -12.1 1 1.7-1.1z" fill="#55cc7c" stroke="#55cc7c"/>
<path d="M687.5 129.5l4.4 .6 -6.1 .4z" fill="#71cd64" stroke="#71cd64"/>
</g>
<g opacity="0.5">
<path d="M735.5 131.9l-4.4 3.3 3.9-1.7z" fill="#259ce7" stroke="#259ce7"/>
<path d="M739.8 128.6l-4.3 3.3 -.5 1.6 3.8-1.7z" fill="#1fa5e2" stroke="#1fa5e2"/>
<path d="M744.2 125.4l-4.4 3.2 -1 3.2 3.9-1.8z" fill="#17aeda" stroke="#17aeda"/>
<path d="M748.5 122.1l-4.3 3.3 -1.5 4.6 3.8-1.7z" fill="#05b6ce" stroke="#05b6ce"/>
<path d="M752.9 118.8l-4.4 3.3 -2 6.2 3.9-1.7z" fill="#06bcc0" stroke="#06bcc0"/>
<path d="M757.3 115.5l-4.4 3.3 -2.5 7.8 3.8-1.7z" fill="#1fc0b2" stroke="#1fc0b2"/>
<path d="M761.6 112.3l-4.3 3.2 -3.1 9.4 3.9-1.7z" fill="#2fc5a2" stroke="#2fc5a2"/>
<path d="M766 109l-4.4 3.3 -3.5 10.9 3.8-1.8z" fill="#3dc990" stroke="#3dc990"/>
<path d="M770.3 105.7l-4.3 3.3 -4.1 12.4 3.9-1.7z" fill="#55cc7c" stroke="#55cc7c"/>
<path d="M774.7 102.4l0 0 -4.4 3.3 -4.5 14 3.9-1.7z" fill="#71cd64" stroke="#71cd64"/>
<path d="M778 102.3l-3.3 .1 0 0 -5 15.6 3.8-1.7z" fill="#90ca4d" stroke="#90ca4d"/>
<path d="M781.4 102.1l-3.4 .2 -4.5 14 3.9-1.7z" fill="#adc638" stroke="#adc638"/>
<path d="M784.8 101.9l-3.4 .2 -4 12.5 3.8-1.8z" fill="#c8c129" stroke="#c8c129"/>
<path d="M788.1 101.8l-3.3 .1 -3.6 10.9 3.9-1.7z" fill="#e0bc2a" stroke="#e0bc2a"/>
<path d="M791.4 101.6l-3.3 .2 -3 9.3 3.8-1.7z" fill="#f3ba39" stroke="#f3ba39"/>
<path d="M794.8 101.5l-3.4 .1 -2.5 7.8 3.9-1.7z" fill="#fec13a" stroke="#fec13a"/>
<path d="M798.1 101.3l-3.3 .2 -2 6.2 3.8-1.7z" fill="#fdcd31" stroke="#fdcd31"/>
<path d="M801.5 101.1l-3.4 .2 -1.5 4.7 3.9-1.8z" fill="#f7db2b" stroke="#f7db2b"/>
<path d="M804.9 101l-3.4 .1 -1 3.1 3.8-1.7z" fill="#f5e825" stroke="#f5e825"/>
<path d="M808.2 100.8l-3.3 .2 -.6 1.5z" fill="#f7f51b" stroke="#f7f51b"/>
</g>
<g opacity="0.5">
<path d="M735 133.5l-3.9 1.7 3.4-.2z" fill="#259ce7" stroke="#259ce7"/>
<path d="M738.8 131.8l-3.8 1.7 -.5 1.5 3.3-.1z" fill="#1fa5e2" stroke="#1fa5e2"/>
<path d="M742.7 130l-3.9 1.8 -1 3.1 3.3-.2z" fill="#17aeda" stroke="#17aeda"/>
<path d="M746.5 128.3l-3.8 1.7 -1.6 4.7 3.4-.2z" fill="#05b6ce" stroke="#05b6ce"/>
<path d="M750.4 126.6l-3.9 1.7 -2 6.2 3.4-.1z" fill="#06bcc0" stroke="#06bcc0"/>
<path d="M754.2 124.9l-3.8 1.7 -2.5 7.8 3.3-.2z" fill="#1fc0b2" stroke="#1fc0b2"/>
<path d="M758.1 123.2l-3.9 1.7 -3 9.3 3.4-.1z" fill="#2fc5a2" stroke="#2fc5a2"/>
<path d="M761.9 121.4l-3.8 1.8 -3.5 10.9 3.3-.2z" fill="#3dc990" stroke="#3dc990"/>
<path d="M765.8 119.7l-3.9 1.7 -4 12.5 3.3-.2z" fill="#55cc7c" stroke="#55cc7c"/>
<path d="M764.6 133.6l0 0 5.1-15.6 -3.9 1.7 -4.6 14z" fill="#71cd64" stroke="#71cd64"/>
<path d="M764.6 133.6l4.4-3.3 4.5-14 -3.8 1.7 -5.1 15.6z" fill="#90ca4d" stroke="#90ca4d"/>
<path d="M769 130.3l4.3-3.3 4.1-12.4 -3.9 1.7z" fill="#adc638" stroke="#adc638"/>
<path d="M773.3 127l4.4-3.3 3.5-10.9 -3.8 1.8z" fill="#c8c129" stroke="#c8c129"/>
<path d="M777.7 123.7l4.3-3.2 3.1-9.4 -3.9 1.7z" fill="#e0bc2a" stroke="#e0bc2a"/>
<path d="M782 120.5l4.4-3.3 2.5-7.8 -3.8 1.7z" fill="#f3ba39" stroke="#f3ba39"/>
<path d="M786.4 117.2l4.4-3.3 2-6.2 -3.9 1.7z" fill="#fec13a" stroke="#fec13a"/>
<path d="M790.8 113.9l4.3-3.3 1.5-4.6 -3.8 1.7z" fill="#fdcd31" stroke="#fdcd31"/>
<path d="M795.1 110.6l4.4-3.2 1-3.2 -3.9 1.8z" fill="#f7db2b" stroke="#f7db2b"/>
<path d="M799.5 107.4l4.3-3.3 .5-1.6 -3.8 1.7z" fill="#f5e825" stroke="#f5e825"/>
<path d="M803.8 104.1l4.4-3.3 -3.9 1.7z" fill="#f7f51b" stroke="#f7f51b"/>
</g>
<g opacity="0.5">
<path d="M852.9 143.6l-1.1 1.4 -1.5-1.5z" fill="#402ab5" stroke="#402ab5"/>
<path d="M854 142.3l-1.1 1.3 -2.6-.1 -1.4-1.5z" fill="#4433cc" stroke="#4433cc"/>
<path d="M855.2 141l-1.2 1.3 -5.1-.3 -1.5-1.5z" fill="#463de0" stroke="#463de0"/>
<path d="M856.3 139.6l-1.1 1.4 -7.8-.5 -1.4-1.4z" fill="#4849ed" stroke="#4849ed"/>
<path d="M857.4 138.3l-1.1 1.3 -10.3-.5 -1.5-1.5z" fill="#4755f6" stroke="#4755f6"/>
<path d="M858.5 136.9l-1.1 1.4 -12.9-.7 -1.4-1.5z" fill="#4661fc" stroke="#4661fc"/>
<path d="M859.6 135.6l-1.1 1.3 -15.4-.8 -1.5-1.4z" fill="#406dfe" stroke="#406dfe"/>
<path d="M860.7 134.3l-1.1 1.3 -18-.9 -1.4-1.5z" fill="#347afd" stroke="#347afd"/>
<path d="M861.9 132.9l-1.2 1.4 -20.5-1.1 -1.5-1.5z" fill="#2e86f7" stroke="#2e86f7"/>
<path d="M863 131.6l-1.1 1.3 -23.2-1.2 -1.4-1.5z" fill="#2b91ef" stroke="#2b91ef"/>
<path d="M864.1 130.3l-1.1 1.3 -25.7-1.4 -1.5-1.4z" fill="#259ce7" stroke="#259ce7"/>
<path d="M865.2 128.9l-1.1 1.4 -28.3-1.5 -1.4-1.5z" fill="#1fa5e2" stroke="#1fa5e2"/>
<path d="M866.3 127.6l-1.1 1.3 -30.8-1.6 -1.5-1.5z" fill="#17aeda" stroke="#17aeda"/>
<path d="M867.4 126.3l-1.1 1.3 -33.4-1.8 -1.4-1.4z" fill="#05b6ce" stroke="#05b6ce"/>
<path d="M868.6 124.9l-1.2 1.4 -35.9-1.9 -1.5-1.5z" fill="#06bcc0" stroke="#06bcc0"/>
<path d="M869.7 123.6l-1.1 1.3 -38.6-2 -1.5-1.5z" fill="#1fc0b2" stroke="#1fc0b2"/>
<path d="M870.8 122.2l-1.1 1.4 -41.2-2.2 -1.4-1.5z" fill="#2fc5a2" stroke="#2fc5a2"/>
<path d="M871.9 120.9l-1.1 1.3 -43.7-2.3 -1.5-1.4z" fill="#3dc990" stroke="#3dc990"/>
<path d="M873 119.6l-1.1 1.3 -46.3-2.4 -1.4-1.5z" fill="#55cc7c" stroke="#55cc7c"/>
<path d="M874.1 118.2l-1.1 1.4 -48.8-2.6 -1.5-1.5z" fill="#71cd64" stroke="#71cd64"/>
<path d="M875.2 116.9l-1.1 1.3 -51.4-2.7 -1.4-1.4z" fill="#90ca4d" stroke="#90ca4d"/>
<path d="M876.4 115.6l-1.2 1.3 -53.9-2.8 -1.5-1.5z" fill="#adc638" stroke="#adc638"/>
<path d="M877.5 114.2l-1.1 1.4 -56.6-3 -1.4-1.5z" fill="#c8c129" stroke="#c8c129"/>
<path d="M878.6 112.9l-1.1 1.3 -59.1-3.1 -1.5-1.5z" fill="#e0bc2a" stroke="#e0bc2a"/>
<path d="M879.7 111.5l-1.1 1.4 -61.7-3.3 -1.4-1.4z" fill="#f3ba39" stroke="#f3ba39"/>
<path d="M880.8 110.2l-1.1 1.3 -64.2-3.3 -1.5-1.5z" fill="#fec13a" stroke="#fec13a"/>
<path d="M882 108.9l-1.2 1.3 -66.8-3.5 -1.4-1.5z" fill="#fdcd31" stroke="#fdcd31"/>
<path d="M883.1 107.5l-1.1 1.4 -69.4-3.7 -1.5-1.5z" fill="#f7db2b" stroke="#f7db2b"/>
<path d="M884.2 106.2l-1.1 1.3 -72-3.8 -1.4-1.4z" fill="#f5e825" stroke="#f5e825"/>
<path d="M885.3 104.9l-1.1 1.3 -74.5-3.9 -1.5-1.5z" fill="#f7f51b" stroke="#f7f51b"/>
</g>
<path d="M841.7 118.4l43.6-13.5 -77.1-4.1z" fill="#f9fb15" fill-opacity="0.5" stroke="none"/>
<g opacity="0.5">
<path d="M655.7 149.3l-1.7 1.1 -2.2-1.3z" fill="#402ab5" stroke="#402ab5"/>
<path d="M657.3 148.3l-1.6 1 -3.9-.2 -2.2-1.2z" fill="#4433cc" stroke="#4433cc"/>
<path d="M659 147.2l-1.7 1.1 -7.7-.4 -2.1-1.3z" fill="#463de0" stroke="#463de0"/>
<path d="M660.7 146.2l-1.7 1 -11.5-.6 -2.2-1.2z" fill="#4849ed" stroke="#4849ed"/>
<path d="M662.4 145.1l-1.7 1.1 -15.4-.8 -2.2-1.3z" fill="#4755f6" stroke="#4755f6"/>
<path d="M664.1 144.1l-1.7 1 -19.3-1 -2.2-1.2z" fill="#4661fc" stroke="#4661fc"/>
<path d="M665.7 143.1l-1.6 1 -23.2-1.2 -2.2-1.3z" fill="#406dfe" stroke="#406dfe"/>
<path d="M667.4 142l-1.7 1.1 -27-1.5 -2.1-1.2z" fill="#347afd" stroke="#347afd"/>
<path d="M669.1 141l-1.7 1 -30.8-1.6 -2.2-1.3z" fill="#2e86f7" stroke="#2e86f7"/>
<path d="M670.7 139.9l-1.6 1.1 -34.7-1.9 -2.2-1.2z" fill="#2b91ef" stroke="#2b91ef"/>
<path d="M672.4 138.9l-1.7 1 -38.5-2 -2.2-1.2z" fill="#259ce7" stroke="#259ce7"/>
<path d="M674.1 137.8l-1.7 1.1 -42.4-2.2 -2.2-1.3z" fill="#1fa5e2" stroke="#1fa5e2"/>
<path d="M675.8 136.8l-1.7 1 -46.3-2.4 -2.1-1.2z" fill="#17aeda" stroke="#17aeda"/>
<path d="M677.4 135.8l-1.6 1 -50.1-2.6 -2.2-1.3z" fill="#05b6ce" stroke="#05b6ce"/>
<path d="M679.1 134.7l-1.7 1.1 -53.9-2.9 -2.2-1.2z" fill="#06bcc0" stroke="#06bcc0"/>
<path d="M680.8 133.7l-1.7 1 -57.8-3 -2.2-1.3z" fill="#1fc0b2" stroke="#1fc0b2"/>
<path d="M682.5 132.6l-1.7 1.1 -61.7-3.3 -2.2-1.2z" fill="#2fc5a2" stroke="#2fc5a2"/>
<path d="M684.1 131.6l-1.6 1 -65.6-3.4 -2.1-1.3z" fill="#3dc990" stroke="#3dc990"/>
<path d="M685.8 130.5l-1.7 1.1 -69.3-3.7 -2.2-1.2z" fill="#55cc7c" stroke="#55cc7c"/>
<path d="M687.5 129.5l-1.7 1 -73.2-3.8 -2.2-1.3z" fill="#71cd64" stroke="#71cd64"/>
</g>
<g opacity="0.5">
<path d="M683.1 128.9l4.4 .6 -77.1-4.1 3.3-.1z" fill="#90ca4d" stroke="#90ca4d"/>
<path d="M678.8 128.4l4.3 .5 -69.4-3.6 3.4-.2z" fill="#adc638" stroke="#adc638"/>
<path d="M674.4 127.8l4.4 .6 -61.7-3.3 3.4-.2z" fill="#c8c129" stroke="#c8c129"/>
<path d="M670.1 127.2l4.3 .6 -53.9-2.9 3.3-.1z" fill="#e0bc2a" stroke="#e0bc2a"/>
<path d="M665.7 126.6l4.4 .6 -46.3-2.4 3.4-.2z" fill="#f3ba39" stroke="#f3ba39"/>
<path d="M661.3 126.1l4.4 .5 -38.5-2 3.3-.1z" fill="#fec13a" stroke="#fec13a"/>
<path d="M657 125.5l4.3 .6 -30.8-1.6 3.3-.2z" fill="#fdcd31" stroke="#fdcd31"/>
<path d="M652.6 124.9l4.4 .6 -23.2-1.2 3.4-.2z" fill="#f7db2b" stroke="#f7db2b"/>
<path d="M648.3 124.4l4.3 .5 -15.4-.8 3.4-.1z" fill="#f5e825" stroke="#f5e825"/>
<path d="M643.9 123.8l4.4 .6 -7.7-.4z" fill="#f7f51b" stroke="#f7f51b"/>
</g>
<g opacity="0.5">
<path d="M734.5 135l-3.4 .2 -4.4-.6z" fill="#259ce7" stroke="#259ce7"/>
<path d="M737.8 134.9l-3.3 .1 -7.8-.4 -4.3-.5z" fill="#1fa5e2" stroke="#1fa5e2"/>
<path d="M741.1 134.7l-3.3 .2 -15.4-.8 -4.4-.6z" fill="#17aeda" stroke="#17aeda"/>
<path d="M744.5 134.5l-3.4 .2 -23.1-1.2 -4.3-.6z" fill="#05b6ce" stroke="#05b6ce"/>
<path d="M747.9 134.4l-3.4 .1 -30.8-1.6 -4.4-.6z" fill="#06bcc0" stroke="#06bcc0"/>
<path d="M751.2 134.2l-3.3 .2 -38.6-2.1 -4.4-.5z" fill="#1fc0b2" stroke="#1fc0b2"/>
<path d="M754.6 134.1l-3.4 .1 -46.3-2.4 -4.3-.6z" fill="#2fc5a2" stroke="#2fc5a2"/>
<path d="M757.9 133.9l-3.3 .2 -54-2.9 -4.4-.6z" fill="#3dc990" stroke="#3dc990"/>
<path d="M761.2 133.7l-3.3 .2 -61.7-3.3 -4.3-.5z" fill="#55cc7c" stroke="#55cc7c"/>
<path d="M764.6 133.6l-3.4 .1 -69.3-3.6 -4.4-.6z" fill="#71cd64" stroke="#71cd64"/>
</g>
<g opacity="0.5">
<path d="M721 185.6l2.2-2.6 -3.9-.2z" fill="#402ab5" stroke="#402ab5"/>
<path d="M723.2 183l2.2-2.6 -7.7-.4 1.6 2.8z" fill="#4433cc" stroke="#4433cc"/>
<path d="M725.4 180.4l2.1-2.6 -11.5-.6 1.7 2.8z" fill="#463de0" stroke="#463de0"/>
<path d="M727.5 177.8l2.2-2.6 -15.4-.8 1.7 2.8z" fill="#4849ed" stroke="#4849ed"/>
<path d="M729.7 175.2l2.2-2.6 -19.3-1 1.7 2.8z" fill="#4755f6" stroke="#4755f6"/>
<path d="M731.9 172.6l2.2-2.6 -23.2-1.3 1.7 2.9z" fill="#4661fc" stroke="#4661fc"/>
<path d="M734.1 170l2.2-2.6 -27-1.5 1.6 2.8z" fill="#406dfe" stroke="#406dfe"/>
<path d="M736.3 167.4l2.1-2.6 -30.8-1.7 1.7 2.8z" fill="#347afd" stroke="#347afd"/>
<path d="M738.4 164.8l2.2-2.6 -34.7-1.9 1.7 2.8z" fill="#2e86f7" stroke="#2e86f7"/>
<path d="M740.6 162.2l2.2-2.6 -38.5-2.1 1.6 2.8z" fill="#2b91ef" stroke="#2b91ef"/>
<path d="M742.8 159.6l2.2-2.6 -42.4-2.3 1.7 2.8z" fill="#259ce7" stroke="#259ce7"/>
<path d="M745 157l2.2-2.6 -46.3-2.5 1.7 2.8z" fill="#1fa5e2" stroke="#1fa5e2"/>
<path d="M747.2 154.4l2.1-2.6 -50.1-2.7 1.7 2.8z" fill="#17aeda" stroke="#17aeda"/>
<path d="M749.3 151.8l2.2-2.6 -53.9-2.9 1.6 2.8z" fill="#05b6ce" stroke="#05b6ce"/>
<path d="M751.5 149.2l2.2-2.6 -57.8-3.1 1.7 2.8z" fill="#06bcc0" stroke="#06bcc0"/>
<path d="M753.7 146.6l2.2-2.6 -61.7-3.3 1.7 2.8z" fill="#1fc0b2" stroke="#1fc0b2"/>
<path d="M755.9 144l2.2-2.6 -65.6-3.5 1.7 2.8z" fill="#2fc5a2" stroke="#2fc5a2"/>
<path d="M758.1 141.4l2.1-2.6 -69.3-3.7 1.6 2.8z" fill="#3dc990" stroke="#3dc990"/>
<path d="M760.2 138.8l2.2-2.6 -73.2-3.9 1.7 2.8z" fill="#55cc7c" stroke="#55cc7c"/>
<path d="M762.4 136.2l2.2-2.6 -77.1-4.1 1.7 2.8z" fill="#71cd64" stroke="#71cd64"/>
</g>
<g opacity="0.5">
<path d="M769 130.3l-4.4 3.3 7.7-1.5z" fill="#90ca4d" stroke="#90ca4d"/>
<path d="M773.3 127l-4.3 3.3 3.3 1.8 7.7-1.6z" fill="#adc638" stroke="#adc638"/>
<path d="M777.7 123.7l-4.4 3.3 6.7 3.5 7.7-1.5z" fill="#c8c129" stroke="#c8c129"/>
<path d="M782 120.5l-4.3 3.2 10 5.3 7.7-1.5z" fill="#e0bc2a" stroke="#e0bc2a"/>
<path d="M786.4 117.2l-4.4 3.3 13.4 7 7.8-1.5z" fill="#f3ba39" stroke="#f3ba39"/>
<path d="M790.8 113.9l-4.4 3.3 16.8 8.8 7.7-1.5z" fill="#fec13a" stroke="#fec13a"/>
<path d="M795.1 110.6l-4.3 3.3 20.1 10.6 7.7-1.5z" fill="#fdcd31" stroke="#fdcd31"/>
<path d="M799.5 107.4l-4.4 3.2 23.5 12.4 7.7-1.6z" fill="#f7db2b" stroke="#f7db2b"/>
<path d="M803.8 104.1l-4.3 3.3 26.8 14 7.7-1.5z" fill="#f5e825" stroke="#f5e825"/>
<path d="M841.7 118.4l-33.5-17.6 -4.4 3.3 30.2 15.8z" fill="#f7f51b" stroke="#f7f51b"/>
</g>
<g opacity="0.5">
<path d="M798.1 151.2l4.4-3.3 -30.2-15.8 -7.7 1.5z" fill="#90ca4d" stroke="#90ca4d"/>
<path d="M802.5 147.9l4.3-3.3 -26.8-14.1 -7.7 1.6z" fill="#adc638" stroke="#adc638"/>
<path d="M806.8 144.6l4.4-3.3 -23.5-12.3 -7.7 1.5z" fill="#c8c129" stroke="#c8c129"/>
<path d="M811.2 141.3l4.3-3.2 -20.1-10.6 -7.7 1.5z" fill="#e0bc2a" stroke="#e0bc2a"/>
<path d="M815.5 138.1l4.4-3.3 -16.7-8.8 -7.8 1.5z" fill="#f3ba39" stroke="#f3ba39"/>
<path d="M819.9 134.8l4.4-3.3 -13.4-7 -7.7 1.5z" fill="#fec13a" stroke="#fec13a"/>
<path d="M824.3 131.5l4.3-3.3 -10-5.2 -7.7 1.5z" fill="#fdcd31" stroke="#fdcd31"/>
<path d="M828.6 128.2l4.4-3.2 -6.7-3.6 -7.7 1.6z" fill="#f7db2b" stroke="#f7db2b"/>
<path d="M833 125l4.3-3.3 -3.3-1.8 -7.7 1.5z" fill="#f5e825" stroke="#f5e825"/>
<path d="M837.3 121.7l4.4-3.3 -7.7 1.5z" fill="#f7f51b" stroke="#f7f51b"/>
</g>
<path d="M995.9 126.5l-33.5-17.6 -43.6 13.6z" fill="#f9fb15" fill-opacity="0.5" stroke="none"/>
<g opacity="0.5">
<path d="M952.3 178.5l2.2-2.6 -3.9-.2z" fill="#259ce7" stroke="#259ce7"/>
<path d="M954.5 175.9l2.2-2.6 -7.8-.4 1.7 2.8z" fill="#1fa5e2" stroke="#1fa5e2"/>
<path d="M956.7 173.3l2.1-2.6 -11.5-.6 1.6 2.8z" fill="#17aeda" stroke="#17aeda"/>
<path d="M958.8 170.7l2.2-2.6 -15.4-.8 1.7 2.8z" fill="#05b6ce" stroke="#05b6ce"/>
<path d="M961 168.1l2.2-2.6 -19.3-1 1.7 2.8z" fill="#06bcc0" stroke="#06bcc0"/>
<path d="M963.2 165.5l2.2-2.6 -23.2-1.2 1.7 2.8z" fill="#1fc0b2" stroke="#1fc0b2"/>
<path d="M965.4 162.9l2.2-2.6 -27-1.4 1.6 2.8z" fill="#2fc5a2" stroke="#2fc5a2"/>
<path d="M967.6 160.3l2.1-2.6 -30.8-1.6 1.7 2.8z" fill="#3dc990" stroke="#3dc990"/>
<path d="M969.7 157.7l2.2-2.6 -34.7-1.8 1.7 2.8z" fill="#55cc7c" stroke="#55cc7c"/>
<path d="M971.9 155.1l2.2-2.6 -38.6-2 1.7 2.8z" fill="#71cd64" stroke="#71cd64"/>
<path d="M974.1 152.5l2.2-2.6 -42.4-2.2 1.6 2.8z" fill="#90ca4d" stroke="#90ca4d"/>
<path d="M976.3 149.9l2.2-2.6 -46.3-2.4 1.7 2.8z" fill="#adc638" stroke="#adc638"/>
<path d="M978.5 147.3l2.1-2.6 -50.1-2.6 1.7 2.8z" fill="#c8c129" stroke="#c8c129"/>
<path d="M980.6 144.7l2.2-2.6 -53.9-2.8 1.6 2.8z" fill="#e0bc2a" stroke="#e0bc2a"/>
<path d="M982.8 142.1l2.2-2.6 -57.8-3 1.7 2.8z" fill="#f3ba39" stroke="#f3ba39"/>
<path d="M985 139.5l2.2-2.6 -61.7-3.2 1.7 2.8z" fill="#fec13a" stroke="#fec13a"/>
<path d="M987.2 136.9l2.2-2.6 -65.6-3.4 1.7 2.8z" fill="#fdcd31" stroke="#fdcd31"/>
<path d="M989.4 134.3l2.1-2.6 -69.4-3.6 1.7 2.8z" fill="#f7db2b" stroke="#f7db2b"/>
<path d="M991.5 131.7l2.2-2.6 -73.2-3.8 1.6 2.8z" fill="#f5e825" stroke="#f5e825"/>
<path d="M993.7 129.1l2.2-2.6 -77.1-4 1.7 2.8z" fill="#f7f51b" stroke="#f7f51b"/>
</g>
<g opacity="0.5">
<path d="M569.7 165l-2.9 2.8 3.1-1.7z" fill="#4661fc" stroke="#4661fc"/>
<path d="M572.6 162.2l-2.9 2.8 .2 1.1 3.1-1.8z" fill="#406dfe" stroke="#406dfe"/>
<path d="M575.5 159.3l-2.9 2.9 .4 2.1 3.1-1.8z" fill="#347afd" stroke="#347afd"/>
<path d="M578.4 156.5l-2.9 2.8 .6 3.2 3-1.7z" fill="#2e86f7" stroke="#2e86f7"/>
<path d="M581.3 153.7l-2.9 2.8 .7 4.3 3.1-1.8z" fill="#2b91ef" stroke="#2b91ef"/>
<path d="M584.2 150.9l-2.9 2.8 .9 5.3 3.1-1.7z" fill="#259ce7" stroke="#259ce7"/>
<path d="M587.1 148l-2.9 2.9 1.1 6.4 3.1-1.8z" fill="#1fa5e2" stroke="#1fa5e2"/>
<path d="M590.1 145.2l-3 2.8 1.3 7.5 3.1-1.8z" fill="#17aeda" stroke="#17aeda"/>
<path d="M593 142.4l-2.9 2.8 1.4 8.5 3.1-1.7z" fill="#05b6ce" stroke="#05b6ce"/>
<path d="M595.9 139.6l-2.9 2.8 1.6 9.6 3-1.8z" fill="#06bcc0" stroke="#06bcc0"/>
<path d="M598.8 136.7l-2.9 2.9 1.7 10.6 3.1-1.8z" fill="#1fc0b2" stroke="#1fc0b2"/>
<path d="M601.7 133.9l-2.9 2.8 1.9 11.7 3.1-1.7z" fill="#2fc5a2" stroke="#2fc5a2"/>
<path d="M604.6 131.1l-2.9 2.8 2.1 12.8 3.1-1.8z" fill="#3dc990" stroke="#3dc990"/>
<path d="M607.5 128.3l-2.9 2.8 2.3 13.8 3.1-1.7z" fill="#55cc7c" stroke="#55cc7c"/>
<path d="M610.4 125.4l0 0 -2.9 2.9 2.5 14.9 3.1-1.8z" fill="#71cd64" stroke="#71cd64"/>
<path d="M613.7 125.3l-3.3 .1 0 0 2.7 16 3-1.8z" fill="#90ca4d" stroke="#90ca4d"/>
<path d="M617.1 125.1l-3.4 .2 2.4 14.3 3.1-1.7z" fill="#adc638" stroke="#adc638"/>
<path d="M620.5 124.9l-3.4 .2 2.1 12.8 3.1-1.8z" fill="#c8c129" stroke="#c8c129"/>
<path d="M623.8 124.8l-3.3 .1 1.8 11.2 3.1-1.7z" fill="#e0bc2a" stroke="#e0bc2a"/>
<path d="M627.2 124.6l-3.4 .2 1.6 9.6 3.1-1.8z" fill="#f3ba39" stroke="#f3ba39"/>
<path d="M630.5 124.5l-3.3 .1 1.3 8 3.1-1.8z" fill="#fec13a" stroke="#fec13a"/>
<path d="M633.8 124.3l-3.3 .2 1.1 6.3 3-1.7z" fill="#fdcd31" stroke="#fdcd31"/>
<path d="M637.2 124.1l-3.4 .2 .8 4.8 3.1-1.8z" fill="#f7db2b" stroke="#f7db2b"/>
<path d="M640.6 124l-3.4 .1 .5 3.2 3.1-1.7z" fill="#f5e825" stroke="#f5e825"/>
<path d="M643.9 123.8l-3.3 .2 .2 1.6z" fill="#f7f51b" stroke="#f7f51b"/>
</g>
<g opacity="0.5">
<path d="M569.9 166.1l-3.1 1.7 1.3-1.2z" fill="#4661fc" stroke="#4661fc"/>
<path d="M573 164.3l-3.1 1.8 -1.8 .5 1.4-1.2z" fill="#406dfe" stroke="#406dfe"/>
<path d="M576.1 162.5l-3.1 1.8 -3.5 1.1 1.3-1.2z" fill="#347afd" stroke="#347afd"/>
<path d="M579.1 160.8l-3 1.7 -5.3 1.7 1.4-1.3z" fill="#2e86f7" stroke="#2e86f7"/>
<path d="M582.2 159l-3.1 1.8 -6.9 2.1 1.3-1.2z" fill="#2b91ef" stroke="#2b91ef"/>
<path d="M585.3 157.3l-3.1 1.7 -8.7 2.7 1.3-1.2z" fill="#259ce7" stroke="#259ce7"/>
<path d="M588.4 155.5l-3.1 1.8 -10.5 3.2 1.4-1.2z" fill="#1fa5e2" stroke="#1fa5e2"/>
<path d="M591.5 153.7l-3.1 1.8 -12.2 3.8 1.3-1.2z" fill="#17aeda" stroke="#17aeda"/>
<path d="M594.6 152l-3.1 1.7 -14 4.4 1.4-1.3z" fill="#05b6ce" stroke="#05b6ce"/>
<path d="M597.6 150.2l-3 1.8 -15.7 4.8 1.3-1.2z" fill="#06bcc0" stroke="#06bcc0"/>
<path d="M600.7 148.4l-3.1 1.8 -17.4 5.4 1.3-1.2z" fill="#1fc0b2" stroke="#1fc0b2"/>
<path d="M603.8 146.7l-3.1 1.7 -19.2 6 1.4-1.2z" fill="#2fc5a2" stroke="#2fc5a2"/>
<path d="M606.9 144.9l-3.1 1.8 -20.9 6.5 1.3-1.2z" fill="#3dc990" stroke="#3dc990"/>
<path d="M610 143.2l-3.1 1.7 -22.7 7.1 1.4-1.3z" fill="#55cc7c" stroke="#55cc7c"/>
<path d="M613.1 141.4l-3.1 1.8 -24.4 7.5 1.3-1.2z" fill="#71cd64" stroke="#71cd64"/>
<path d="M616.1 139.6l-3 1.8 -26.2 8.1 1.3-1.2z" fill="#90ca4d" stroke="#90ca4d"/>
<path d="M619.2 137.9l-3.1 1.7 -27.9 8.7 1.4-1.2z" fill="#adc638" stroke="#adc638"/>
<path d="M622.3 136.1l-3.1 1.8 -29.6 9.2 1.3-1.2z" fill="#c8c129" stroke="#c8c129"/>
<path d="M625.4 134.4l-3.1 1.7 -31.4 9.8 1.4-1.3z" fill="#e0bc2a" stroke="#e0bc2a"/>
<path d="M628.5 132.6l-3.1 1.8 -33.1 10.2 1.3-1.2z" fill="#f3ba39" stroke="#f3ba39"/>
<path d="M631.6 130.8l-3.1 1.8 -34.9 10.8 1.3-1.2z" fill="#fec13a" stroke="#fec13a"/>
<path d="M634.6 129.1l-3 1.7 -36.7 11.4 1.4-1.2z" fill="#fdcd31" stroke="#fdcd31"/>
<path d="M637.7 127.3l-3.1 1.8 -38.3 11.9 1.3-1.2z" fill="#f7db2b" stroke="#f7db2b"/>
<path d="M640.8 125.6l-3.1 1.7 -40.1 12.5 1.4-1.2z" fill="#f5e825" stroke="#f5e825"/>
<path d="M600.3 137.3l43.6-13.5 -3.1 1.8 -41.8 13z" fill="#f7f51b" stroke="#f7f51b"/>
</g>
<g opacity="0.5">
<path d="M721 185.6l-1.7-2.8 -.9 .7z" fill="#402ab5" stroke="#402ab5"/>
<path d="M719.3 182.8l-1.6-2.8 -1.8 1.4 2.5 2.1z" fill="#4433cc" stroke="#4433cc"/>
<path d="M717.7 180l-1.7-2.8 -2.7 2.2 2.6 2z" fill="#463de0" stroke="#463de0"/>
<path d="M716 177.2l-1.7-2.8 -3.6 2.9 2.6 2.1z" fill="#4849ed" stroke="#4849ed"/>
<path d="M714.3 174.4l-1.7-2.8 -4.4 3.7 2.5 2z" fill="#4755f6" stroke="#4755f6"/>
<path d="M712.6 171.6l-1.7-2.9 -5.3 4.5 2.6 2.1z" fill="#4661fc" stroke="#4661fc"/>
<path d="M710.9 168.7l-1.6-2.8 -6.3 5.3 2.6 2z" fill="#406dfe" stroke="#406dfe"/>
<path d="M709.3 165.9l-1.7-2.8 -7.2 6 2.6 2.1z" fill="#347afd" stroke="#347afd"/>
<path d="M707.6 163.1l-1.7-2.8 -8 6.7 2.5 2.1z" fill="#2e86f7" stroke="#2e86f7"/>
<path d="M705.9 160.3l-1.6-2.8 -9 7.5 2.6 2z" fill="#2b91ef" stroke="#2b91ef"/>
<path d="M704.3 157.5l-1.7-2.8 -9.9 8.2 2.6 2.1z" fill="#259ce7" stroke="#259ce7"/>
<path d="M702.6 154.7l-1.7-2.8 -10.7 9 2.5 2z" fill="#1fa5e2" stroke="#1fa5e2"/>
<path d="M700.9 151.9l-1.7-2.8 -11.6 9.7 2.6 2.1z" fill="#17aeda" stroke="#17aeda"/>
<path d="M699.2 149.1l-1.6-2.8 -12.6 10.4 2.6 2.1z" fill="#05b6ce" stroke="#05b6ce"/>
<path d="M697.6 146.3l-1.7-2.8 -13.5 11.2 2.6 2z" fill="#06bcc0" stroke="#06bcc0"/>
<path d="M695.9 143.5l-1.7-2.8 -14.3 11.9 2.5 2.1z" fill="#1fc0b2" stroke="#1fc0b2"/>
<path d="M694.2 140.7l-1.7-2.8 -15.2 12.7 2.6 2z" fill="#2fc5a2" stroke="#2fc5a2"/>
<path d="M692.5 137.9l-1.6-2.8 -16.2 13.4 2.6 2.1z" fill="#3dc990" stroke="#3dc990"/>
<path d="M690.9 135.1l-1.7-2.8 -17 14.1 2.5 2.1z" fill="#55cc7c" stroke="#55cc7c"/>
<path d="M689.2 132.3l-1.7-2.8 0 0 -17.9 14.9 2.6 2z" fill="#71cd64" stroke="#71cd64"/>
<path d="M687.5 129.5l0 0 -4.4-.6 -16.1 13.4 2.6 2.1z" fill="#90ca4d" stroke="#90ca4d"/>
<path d="M683.1 128.9l-4.3-.5 -14.3 11.9 2.5 2z" fill="#adc638" stroke="#adc638"/>
<path d="M678.8 128.4l-4.4-.6 -12.5 10.4 2.6 2.1z" fill="#c8c129" stroke="#c8c129"/>
<path d="M674.4 127.8l-4.3-.6 -10.8 9 2.6 2z" fill="#e0bc2a" stroke="#e0bc2a"/>
<path d="M670.1 127.2l-4.4-.6 -9 7.5 2.6 2.1z" fill="#f3ba39" stroke="#f3ba39"/>
<path d="M665.7 126.6l-4.4-.5 -7.1 5.9 2.5 2.1z" fill="#fec13a" stroke="#fec13a"/>
<path d="M661.3 126.1l-4.3-.6 -5.4 4.5 2.6 2z" fill="#fdcd31" stroke="#fdcd31"/>
<path d="M657 125.5l-4.4-.6 -3.6 3 2.6 2.1z" fill="#f7db2b" stroke="#f7db2b"/>
<path d="M652.6 124.9l-4.3-.5 -1.8 1.5 2.5 2z" fill="#f5e825" stroke="#f5e825"/>
<path d="M648.3 124.4l-4.4-.6 2.6 2.1z" fill="#f7f51b" stroke="#f7f51b"/>
</g>
<g opacity="0.5">
<path d="M718.8 184.3l2.2 1.3 -2.6-2.1z" fill="#402ab5" stroke="#402ab5"/>
<path d="M716.6 183.1l2.2 1.2 -.4-.8 -2.5-2.1z" fill="#4433cc" stroke="#4433cc"/>
<path d="M714.5 181.8l2.1 1.3 -.7-1.7 -2.6-2z" fill="#463de0" stroke="#463de0"/>
<path d="M712.3 180.6l2.2 1.2 -1.2-2.4 -2.6-2.1z" fill="#4849ed" stroke="#4849ed"/>
<path d="M710.1 179.3l2.2 1.3 -1.6-3.3 -2.5-2z" fill="#4755f6" stroke="#4755f6"/>
<path d="M707.9 178.1l2.2 1.2 -1.9-4 -2.6-2.1z" fill="#4661fc" stroke="#4661fc"/>
<path d="M705.7 176.8l2.2 1.3 -2.3-4.9 -2.6-2z" fill="#406dfe" stroke="#406dfe"/>
<path d="M703.6 175.6l2.1 1.2 -2.7-5.6 -2.6-2.1z" fill="#347afd" stroke="#347afd"/>
<path d="M701.4 174.3l2.2 1.3 -3.2-6.5 -2.5-2.1z" fill="#2e86f7" stroke="#2e86f7"/>
<path d="M699.2 173.1l2.2 1.2 -3.5-7.3 -2.6-2z" fill="#2b91ef" stroke="#2b91ef"/>
<path d="M697 171.9l2.2 1.2 -3.9-8.1 -2.6-2.1z" fill="#259ce7" stroke="#259ce7"/>
<path d="M694.8 170.6l2.2 1.3 -4.3-9 -2.5-2z" fill="#1fa5e2" stroke="#1fa5e2"/>
<path d="M692.7 169.4l2.1 1.2 -4.6-9.7 -2.6-2.1z" fill="#17aeda" stroke="#17aeda"/>
<path d="M690.5 168.1l2.2 1.3 -5.1-10.6 -2.6-2.1z" fill="#05b6ce" stroke="#05b6ce"/>
<path d="M688.3 166.9l2.2 1.2 -5.5-11.4 -2.6-2z" fill="#06bcc0" stroke="#06bcc0"/>
<path d="M686.1 165.6l2.2 1.3 -5.9-12.2 -2.5-2.1z" fill="#1fc0b2" stroke="#1fc0b2"/>
<path d="M683.9 164.4l2.2 1.2 -6.2-13 -2.6-2z" fill="#2fc5a2" stroke="#2fc5a2"/>
<path d="M681.8 163.1l2.1 1.3 -6.6-13.8 -2.6-2.1z" fill="#3dc990" stroke="#3dc990"/>
<path d="M679.6 161.9l2.2 1.2 -7.1-14.6 -2.5-2.1z" fill="#55cc7c" stroke="#55cc7c"/>
<path d="M677.4 160.6l2.2 1.3 -7.4-15.5 -2.6-2 7.8 16.2z" fill="#71cd64" stroke="#71cd64"/>
<path d="M677.4 160.6l0 0 -7.8-16.2 -2.6-2.1 7.1 14.7z" fill="#90ca4d" stroke="#90ca4d"/>
<path d="M667 142.3l-2.5-2 6.2 13 3.4 3.7z" fill="#adc638" stroke="#adc638"/>
<path d="M664.5 140.3l-2.6-2.1 5.4 11.4 3.4 3.7z" fill="#c8c129" stroke="#c8c129"/>
<path d="M661.9 138.2l-2.6-2 4.7 9.7 3.3 3.7z" fill="#e0bc2a" stroke="#e0bc2a"/>
<path d="M659.3 136.2l-2.6-2.1 4 8.1 3.3 3.7z" fill="#f3ba39" stroke="#f3ba39"/>
<path d="M656.7 134.1l-2.5-2.1 3.1 6.5 3.4 3.7z" fill="#fec13a" stroke="#fec13a"/>
<path d="M654.2 132l-2.6-2 2.4 4.9 3.3 3.6z" fill="#fdcd31" stroke="#fdcd31"/>
<path d="M651.6 130l-2.6-2.1 1.6 3.3 3.4 3.7z" fill="#f7db2b" stroke="#f7db2b"/>
<path d="M649 127.9l-2.5-2 .7 1.6 3.4 3.7z" fill="#f5e825" stroke="#f5e825"/>
<path d="M646.5 125.9l-2.6-2.1 3.3 3.7z" fill="#f7f51b" stroke="#f7f51b"/>
</g>
<g opacity="0.5">
<path d="M723.2 183l-2.2 2.6 3.9-1.8z" fill="#402ab5" stroke="#402ab5"/>
<path d="M725.4 180.4l-2.2 2.6 1.7 .8 3.8-1.7z" fill="#4433cc" stroke="#4433cc"/>
<path d="M727.5 177.8l-2.1 2.6 3.3 1.7 3.9-1.7z" fill="#463de0" stroke="#463de0"/>
<path d="M729.7 175.2l-2.2 2.6 5.1 2.6 3.8-1.7z" fill="#4849ed" stroke="#4849ed"/>
<path d="M731.9 172.6l-2.2 2.6 6.7 3.5 3.9-1.7z" fill="#4755f6" stroke="#4755f6"/>
<path d="M734.1 170l-2.2 2.6 8.4 4.4 3.8-1.8z" fill="#4661fc" stroke="#4661fc"/>
<path d="M736.3 167.4l-2.2 2.6 10 5.2 3.9-1.7z" fill="#406dfe" stroke="#406dfe"/>
<path d="M738.4 164.8l-2.1 2.6 11.7 6.1 3.8-1.7z" fill="#347afd" stroke="#347afd"/>
<path d="M740.6 162.2l-2.2 2.6 13.4 7 3.9-1.7z" fill="#2e86f7" stroke="#2e86f7"/>
<path d="M742.8 159.6l-2.2 2.6 15.1 7.9 3.8-1.7z" fill="#2b91ef" stroke="#2b91ef"/>
<path d="M745 157l-2.2 2.6 16.7 8.8 3.9-1.8z" fill="#259ce7" stroke="#259ce7"/>
<path d="M747.2 154.4l-2.2 2.6 18.4 9.6 3.9-1.7z" fill="#1fa5e2" stroke="#1fa5e2"/>
<path d="M749.3 151.8l-2.1 2.6 20.1 10.5 3.8-1.7z" fill="#17aeda" stroke="#17aeda"/>
<path d="M751.5 149.2l-2.2 2.6 21.8 11.4 3.9-1.7z" fill="#05b6ce" stroke="#05b6ce"/>
<path d="M753.7 146.6l-2.2 2.6 23.5 12.3 3.8-1.7z" fill="#06bcc0" stroke="#06bcc0"/>
<path d="M755.9 144l-2.2 2.6 25.1 13.2 3.9-1.8z" fill="#1fc0b2" stroke="#1fc0b2"/>
<path d="M758.1 141.4l-2.2 2.6 26.8 14 3.8-1.7z" fill="#2fc5a2" stroke="#2fc5a2"/>
<path d="M760.2 138.8l-2.1 2.6 28.4 14.9 3.9-1.7z" fill="#3dc990" stroke="#3dc990"/>
<path d="M762.4 136.2l-2.2 2.6 30.2 15.8 3.8-1.7z" fill="#55cc7c" stroke="#55cc7c"/>
<path d="M798.1 151.2l-33.5-17.6 -2.2 2.6 31.8 16.7z" fill="#71cd64" stroke="#71cd64"/>
</g>
<g opacity="0.5">
<path d="M724.9 183.8l-3.9 1.8 1.1-1.4z" fill="#402ab5" stroke="#402ab5"/>
<path d="M728.7 182.1l-3.8 1.7 -2.8 .4 1.1-1.3z" fill="#4433cc" stroke="#4433cc"/>
<path d="M732.6 180.4l-3.9 1.7 -5.5 .8 1.2-1.3z" fill="#463de0" stroke="#463de0"/>
<path d="M736.4 178.7l-3.8 1.7 -8.2 1.2 1.1-1.4z" fill="#4849ed" stroke="#4849ed"/>
<path d="M740.3 177l-3.9 1.7 -10.9 1.5 1.1-1.3z" fill="#4755f6" stroke="#4755f6"/>
<path d="M744.1 175.2l-3.8 1.8 -13.7 1.9 1.1-1.4z" fill="#4661fc" stroke="#4661fc"/>
<path d="M748 173.5l-3.9 1.7 -16.4 2.3 1.1-1.3z" fill="#406dfe" stroke="#406dfe"/>
<path d="M751.8 171.8l-3.8 1.7 -19.2 2.7 1.1-1.3z" fill="#347afd" stroke="#347afd"/>
<path d="M755.7 170.1l-3.9 1.7 -21.9 3.1 1.2-1.4z" fill="#2e86f7" stroke="#2e86f7"/>
<path d="M759.5 168.4l-3.8 1.7 -24.6 3.4 1.1-1.3z" fill="#2b91ef" stroke="#2b91ef"/>
<path d="M763.4 166.6l-3.9 1.8 -27.3 3.8 1.1-1.3z" fill="#259ce7" stroke="#259ce7"/>
<path d="M767.3 164.9l-3.9 1.7 -30.1 4.3 1.1-1.4z" fill="#1fa5e2" stroke="#1fa5e2"/>
<path d="M771.1 163.2l-3.8 1.7 -32.9 4.6 1.1-1.3z" fill="#17aeda" stroke="#17aeda"/>
<path d="M775 161.5l-3.9 1.7 -35.6 5 1.1-1.3z" fill="#05b6ce" stroke="#05b6ce"/>
<path d="M778.8 159.8l-3.8 1.7 -38.4 5.4 1.2-1.4z" fill="#06bcc0" stroke="#06bcc0"/>
<path d="M782.7 158l-3.9 1.8 -41 5.7 1.1-1.3z" fill="#1fc0b2" stroke="#1fc0b2"/>
<path d="M786.5 156.3l-3.8 1.7 -43.8 6.2 1.1-1.4z" fill="#2fc5a2" stroke="#2fc5a2"/>
<path d="M790.4 154.6l-3.9 1.7 -46.5 6.5 1.1-1.3z" fill="#3dc990" stroke="#3dc990"/>
<path d="M794.2 152.9l-3.8 1.7 -49.3 6.9 1.1-1.3z" fill="#55cc7c" stroke="#55cc7c"/>
<path d="M798.1 151.2l0 0 -3.9 1.7 -52 7.3 1.1-1.4z" fill="#71cd64" stroke="#71cd64"/>
<path d="M793.7 150.6l4.4 .6 0 0 -54.8 7.6 1.1-1.3z" fill="#90ca4d" stroke="#90ca4d"/>
<path d="M789.4 150l4.3 .6 -49.3 6.9 1.2-1.3z" fill="#adc638" stroke="#adc638"/>
<path d="M785 149.5l4.4 .5 -43.8 6.2 1.1-1.4z" fill="#c8c129" stroke="#c8c129"/>
<path d="M780.7 148.9l4.3 .6 -38.3 5.3 1.1-1.3z" fill="#e0bc2a" stroke="#e0bc2a"/>
<path d="M776.3 148.3l4.4 .6 -32.9 4.6 1.1-1.4z" fill="#f3ba39" stroke="#f3ba39"/>
<path d="M771.9 147.7l4.4 .6 -27.4 3.8 1.1-1.3z" fill="#fec13a" stroke="#fec13a"/>
<path d="M767.6 147.2l4.3 .5 -21.9 3.1 1.1-1.3z" fill="#fdcd31" stroke="#fdcd31"/>
<path d="M763.2 146.6l4.4 .6 -16.5 2.3 1.2-1.4z" fill="#f7db2b" stroke="#f7db2b"/>
<path d="M758.9 146l4.3 .6 -10.9 1.5 1.1-1.3z" fill="#f5e825" stroke="#f5e825"/>
<path d="M754.5 145.5l4.4 .5 -5.5 .8z" fill="#f7f51b" stroke="#f7f51b"/>
</g>
<g opacity="0.5">
<path d="M802.5 147.9l-4.4 3.3 7.7-1.5z" fill="#90ca4d" stroke="#90ca4d"/>
<path d="M806.8 144.6l-4.3 3.3 3.3 1.8 7.7-1.6z" fill="#adc638" stroke="#adc638"/>
<path d="M811.2 141.3l-4.4 3.3 6.7 3.5 7.7-1.5z" fill="#c8c129" stroke="#c8c129"/>
<path d="M815.5 138.1l-4.3 3.2 10 5.3 7.7-1.5z" fill="#e0bc2a" stroke="#e0bc2a"/>
<path d="M819.9 134.8l-4.4 3.3 13.4 7 7.7-1.5z" fill="#f3ba39" stroke="#f3ba39"/>
<path d="M824.3 131.5l-4.4 3.3 16.7 8.8 7.8-1.5z" fill="#fec13a" stroke="#fec13a"/>
<path d="M828.6 128.2l-4.3 3.3 20.1 10.6 7.7-1.5z" fill="#fdcd31" stroke="#fdcd31"/>
<path d="M833 125l-4.4 3.2 23.5 12.4 7.7-1.6z" fill="#f7db2b" stroke="#f7db2b"/>
<path d="M837.3 121.7l-4.3 3.3 26.8 14 7.7-1.5z" fill="#f5e825" stroke="#f5e825"/>
<path d="M875.2 136l-33.5-17.6 -4.4 3.3 30.2 15.8z" fill="#f7f51b" stroke="#f7f51b"/>
</g>
<g opacity="0.5">
<path d="M805.8 149.7l-7.7 1.5 3.3-.2z" fill="#90ca4d" stroke="#90ca4d"/>
<path d="M813.5 148.1l-7.7 1.6 -4.4 1.3 3.4-.2z" fill="#adc638" stroke="#adc638"/>
<path d="M821.2 146.6l-7.7 1.5 -8.7 2.7 3.4-.1z" fill="#c8c129" stroke="#c8c129"/>
<path d="M828.9 145.1l-7.7 1.5 -13 4.1 3.3-.2z" fill="#e0bc2a" stroke="#e0bc2a"/>
<path d="M836.6 143.6l-7.7 1.5 -17.4 5.4 3.3-.2z" fill="#f3ba39" stroke="#f3ba39"/>
<path d="M844.4 142.1l-7.8 1.5 -21.8 6.7 3.4-.1z" fill="#fec13a" stroke="#fec13a"/>
<path d="M852.1 140.6l-7.7 1.5 -26.2 8.1 3.3-.2z" fill="#fdcd31" stroke="#fdcd31"/>
<path d="M859.8 139l-7.7 1.6 -30.6 9.4 3.4-.1z" fill="#f7db2b" stroke="#f7db2b"/>
<path d="M867.5 137.5l-7.7 1.5 -34.9 10.9 3.4-.2z" fill="#f5e825" stroke="#f5e825"/>
<path d="M831.6 149.5l43.6-13.5 -7.7 1.5 -39.2 12.2z" fill="#f7f51b" stroke="#f7f51b"/>
</g>
<g opacity="0.5">
<path d="M952.3 178.5l-1.7-2.8 -2.2 .7z" fill="#259ce7" stroke="#259ce7"/>
<path d="M950.6 175.7l-1.7-2.8 -4.3 1.4 3.8 2.1z" fill="#1fa5e2" stroke="#1fa5e2"/>
<path d="M948.9 172.9l-1.6-2.8 -6.6 2.1 3.9 2.1z" fill="#17aeda" stroke="#17aeda"/>
<path d="M947.3 170.1l-1.7-2.8 -8.7 2.7 3.8 2.2z" fill="#05b6ce" stroke="#05b6ce"/>
<path d="M945.6 167.3l-1.7-2.8 -10.9 3.4 3.9 2.1z" fill="#06bcc0" stroke="#06bcc0"/>
<path d="M943.9 164.5l-1.7-2.8 -13 4.1 3.8 2.1z" fill="#1fc0b2" stroke="#1fc0b2"/>
<path d="M942.2 161.7l-1.6-2.8 -15.3 4.7 3.9 2.2z" fill="#2fc5a2" stroke="#2fc5a2"/>
<path d="M940.6 158.9l-1.7-2.8 -17.4 5.4 3.8 2.1z" fill="#3dc990" stroke="#3dc990"/>
<path d="M938.9 156.1l-1.7-2.8 -19.6 6.1 3.9 2.1z" fill="#55cc7c" stroke="#55cc7c"/>
<path d="M937.2 153.3l-1.7-2.8 -21.8 6.8 3.9 2.1z" fill="#71cd64" stroke="#71cd64"/>
<path d="M935.5 150.5l-1.6-2.8 -24 7.4 3.8 2.2z" fill="#90ca4d" stroke="#90ca4d"/>
<path d="M933.9 147.7l-1.7-2.8 -26.2 8.1 3.9 2.1z" fill="#adc638" stroke="#adc638"/>
<path d="M932.2 144.9l-1.7-2.8 -28.3 8.8 3.8 2.1z" fill="#c8c129" stroke="#c8c129"/>
<path d="M930.5 142.1l-1.6-2.8 -30.6 9.5 3.9 2.1z" fill="#e0bc2a" stroke="#e0bc2a"/>
<path d="M928.9 139.3l-1.7-2.8 -32.7 10.1 3.8 2.2z" fill="#f3ba39" stroke="#f3ba39"/>
<path d="M927.2 136.5l-1.7-2.8 -34.9 10.8 3.9 2.1z" fill="#fec13a" stroke="#fec13a"/>
<path d="M925.5 133.7l-1.7-2.8 -37 11.5 3.8 2.1z" fill="#fdcd31" stroke="#fdcd31"/>
<path d="M923.8 130.9l-1.7-2.8 -39.2 12.2 3.9 2.1z" fill="#f7db2b" stroke="#f7db2b"/>
<path d="M922.1 128.1l-1.6-2.8 -41.4 12.8 3.8 2.2z" fill="#f5e825" stroke="#f5e825"/>
<path d="M920.5 125.3l-1.7-2.8 -43.6 13.5 3.9 2.1z" fill="#f7f51b" stroke="#f7f51b"/>
</g>
<g opacity="0.5">
<path d="M950.1 177.3l2.2 1.2 -3.9-2.1z" fill="#259ce7" stroke="#259ce7"/>
<path d="M947.9 176l2.2 1.3 -1.7-.9 -3.8-2.1z" fill="#1fa5e2" stroke="#1fa5e2"/>
<path d="M945.8 174.8l2.1 1.2 -3.3-1.7 -3.9-2.1z" fill="#17aeda" stroke="#17aeda"/>
<path d="M943.6 173.5l2.2 1.3 -5.1-2.6 -3.8-2.2z" fill="#05b6ce" stroke="#05b6ce"/>
<path d="M941.4 172.3l2.2 1.2 -6.7-3.5 -3.9-2.1z" fill="#06bcc0" stroke="#06bcc0"/>
<path d="M939.2 171.1l2.2 1.2 -8.4-4.4 -3.8-2.1z" fill="#1fc0b2" stroke="#1fc0b2"/>
<path d="M937 169.8l2.2 1.3 -10-5.3 -3.9-2.2z" fill="#2fc5a2" stroke="#2fc5a2"/>
<path d="M934.9 168.6l2.1 1.2 -11.7-6.2 -3.8-2.1z" fill="#3dc990" stroke="#3dc990"/>
<path d="M932.7 167.3l2.2 1.3 -13.4-7.1 -3.9-2.1z" fill="#55cc7c" stroke="#55cc7c"/>
<path d="M930.5 166.1l2.2 1.2 -15.1-7.9 -3.9-2.1z" fill="#71cd64" stroke="#71cd64"/>
<path d="M928.3 164.8l2.2 1.3 -16.8-8.8 -3.8-2.2z" fill="#90ca4d" stroke="#90ca4d"/>
<path d="M926.1 163.6l2.2 1.2 -18.4-9.7 -3.9-2.1z" fill="#adc638" stroke="#adc638"/>
<path d="M924 162.3l2.1 1.3 -20.1-10.6 -3.8-2.1z" fill="#c8c129" stroke="#c8c129"/>
<path d="M921.8 161.1l2.2 1.2 -21.8-11.4 -3.9-2.1z" fill="#e0bc2a" stroke="#e0bc2a"/>
<path d="M919.6 159.8l2.2 1.3 -23.5-12.3 -3.8-2.2z" fill="#f3ba39" stroke="#f3ba39"/>
<path d="M917.4 158.6l2.2 1.2 -25.1-13.2 -3.9-2.1z" fill="#fec13a" stroke="#fec13a"/>
<path d="M915.2 157.3l2.2 1.3 -26.8-14.1 -3.8-2.1z" fill="#fdcd31" stroke="#fdcd31"/>
<path d="M913.1 156.1l2.1 1.2 -28.4-14.9 -3.9-2.1z" fill="#f7db2b" stroke="#f7db2b"/>
<path d="M910.9 154.8l2.2 1.3 -30.2-15.8 -3.8-2.2z" fill="#f5e825" stroke="#f5e825"/>
<path d="M908.7 153.6l2.2 1.2 -31.8-16.7 -3.9-2.1z" fill="#f7f51b" stroke="#f7f51b"/>
</g>
<g opacity="0.5">
<path d="M954.5 175.9l-2.2 2.6 3.9-1.7z" fill="#259ce7" stroke="#259ce7"/>
<path d="M956.7 173.3l-2.2 2.6 1.7 .9 3.8-1.7z" fill="#1fa5e2" stroke="#1fa5e2"/>
<path d="M958.8 170.7l-2.1 2.6 3.3 1.8 3.9-1.7z" fill="#17aeda" stroke="#17aeda"/>
<path d="M961 168.1l-2.2 2.6 5.1 2.7 3.8-1.7z" fill="#05b6ce" stroke="#05b6ce"/>
<path d="M963.2 165.5l-2.2 2.6 6.7 3.6 3.9-1.8z" fill="#06bcc0" stroke="#06bcc0"/>
<path d="M965.4 162.9l-2.2 2.6 8.4 4.4 3.8-1.7z" fill="#1fc0b2" stroke="#1fc0b2"/>
<path d="M967.6 160.3l-2.2 2.6 10 5.3 3.9-1.7z" fill="#2fc5a2" stroke="#2fc5a2"/>
<path d="M969.7 157.7l-2.1 2.6 11.7 6.2 3.8-1.7z" fill="#3dc990" stroke="#3dc990"/>
<path d="M971.9 155.1l-2.2 2.6 13.4 7.1 3.9-1.7z" fill="#55cc7c" stroke="#55cc7c"/>
<path d="M974.1 152.5l-2.2 2.6 15.1 8 3.9-1.8z" fill="#71cd64" stroke="#71cd64"/>
<path d="M976.3 149.9l-2.2 2.6 16.8 8.8 3.8-1.7z" fill="#90ca4d" stroke="#90ca4d"/>
<path d="M978.5 147.3l-2.2 2.6 18.4 9.7 3.9-1.7z" fill="#adc638" stroke="#adc638"/>
<path d="M980.6 144.7l-2.1 2.6 20.1 10.6 3.8-1.7z" fill="#c8c129" stroke="#c8c129"/>
<path d="M982.8 142.1l-2.2 2.6 21.8 11.5 3.9-1.7z" fill="#e0bc2a" stroke="#e0bc2a"/>
<path d="M985 139.5l-2.2 2.6 23.5 12.4 3.8-1.8z" fill="#f3ba39" stroke="#f3ba39"/>
<path d="M987.2 136.9l-2.2 2.6 25.1 13.2 3.9-1.7z" fill="#fec13a" stroke="#fec13a"/>
<path d="M989.4 134.3l-2.2 2.6 26.8 14.1 3.8-1.7z" fill="#fdcd31" stroke="#fdcd31"/>
<path d="M991.5 131.7l-2.1 2.6 28.4 15 3.9-1.7z" fill="#f7db2b" stroke="#f7db2b"/>
<path d="M993.7 129.1l-2.2 2.6 30.2 15.9 3.8-1.7z" fill="#f5e825" stroke="#f5e825"/>
<path d="M1029.4 144.1l-33.5-17.6 -2.2 2.6 31.8 16.8z" fill="#f7f51b" stroke="#f7f51b"/>
</g>
<g opacity="0.5">
<path d="M956.2 176.8l-3.9 1.7 1.7-1z" fill="#259ce7" stroke="#259ce7"/>
<path d="M960 175.1l-3.8 1.7 -2.2 .7 1.7-1.1z" fill="#1fa5e2" stroke="#1fa5e2"/>
<path d="M963.9 173.4l-3.9 1.7 -4.3 1.3 1.6-1z" fill="#17aeda" stroke="#17aeda"/>
<path d="M967.7 171.7l-3.8 1.7 -6.6 2 1.7-1z" fill="#05b6ce" stroke="#05b6ce"/>
<path d="M971.6 169.9l-3.9 1.8 -8.7 2.7 1.7-1.1z" fill="#06bcc0" stroke="#06bcc0"/>
<path d="M975.4 168.2l-3.8 1.7 -10.9 3.4 1.7-1z" fill="#1fc0b2" stroke="#1fc0b2"/>
<path d="M979.3 166.5l-3.9 1.7 -13 4.1 1.6-1.1z" fill="#2fc5a2" stroke="#2fc5a2"/>
<path d="M983.1 164.8l-3.8 1.7 -15.3 4.7 1.7-1z" fill="#3dc990" stroke="#3dc990"/>
<path d="M987 163.1l-3.9 1.7 -17.4 5.4 1.7-1.1z" fill="#55cc7c" stroke="#55cc7c"/>
<path d="M990.9 161.3l-3.9 1.8 -19.6 6 1.7-1z" fill="#71cd64" stroke="#71cd64"/>
<path d="M994.7 159.6l-3.8 1.7 -21.8 6.8 1.6-1z" fill="#90ca4d" stroke="#90ca4d"/>
<path d="M998.6 157.9l-3.9 1.7 -24 7.5 1.7-1.1z" fill="#adc638" stroke="#adc638"/>
<path d="M1002.4 156.2l-3.8 1.7 -26.2 8.1 1.7-1z" fill="#c8c129" stroke="#c8c129"/>
<path d="M1006.3 154.5l-3.9 1.7 -28.3 8.8 1.7-1.1z" fill="#e0bc2a" stroke="#e0bc2a"/>
<path d="M1010.1 152.7l-3.8 1.8 -30.5 9.4 1.6-1z" fill="#f3ba39" stroke="#f3ba39"/>
<path d="M1014 151l-3.9 1.7 -32.7 10.2 1.7-1.1z" fill="#fec13a" stroke="#fec13a"/>
<path d="M1017.8 149.3l-3.8 1.7 -34.9 10.8 1.7-1z" fill="#fdcd31" stroke="#fdcd31"/>
<path d="M1021.7 147.6l-3.9 1.7 -37 11.5 1.7-1z" fill="#f7db2b" stroke="#f7db2b"/>
<path d="M1025.5 145.9l-3.8 1.7 -39.2 12.2 1.6-1.1z" fill="#f5e825" stroke="#f5e825"/>
<path d="M985.8 157.7l43.6-13.6 -3.9 1.8 -41.4 12.8z" fill="#f7f51b" stroke="#f7f51b"/>
</g>
<g opacity="0.5">
<path d="M531.9 186.3l-8.7 4.7 2.6-1.8z" fill="#402ab5" stroke="#402ab5"/>
<path d="M540.6 181.7l-8.7 4.6 -6.1 2.9 2.5-1.8z" fill="#4433cc" stroke="#4433cc"/>
<path d="M549.4 177.1l-8.8 4.6 -12.3 5.7 2.6-1.8z" fill="#463de0" stroke="#463de0"/>
<path d="M558.1 172.4l-8.7 4.7 -18.5 8.5 2.6-1.8z" fill="#4849ed" stroke="#4849ed"/>
<path d="M566.8 167.8l0 0 -8.7 4.6 -24.6 11.4 2.5-1.8z" fill="#4755f6" stroke="#4755f6"/>
<path d="M568.1 166.6l-1.3 1.2 0 0 -30.8 14.2 2.6-1.8z" fill="#4661fc" stroke="#4661fc"/>
<path d="M569.5 165.4l-1.4 1.2 -29.5 13.6 2.6-1.7z" fill="#406dfe" stroke="#406dfe"/>
<path d="M570.8 164.2l-1.3 1.2 -28.3 13.1 2.6-1.8z" fill="#347afd" stroke="#347afd"/>
<path d="M572.2 162.9l-1.4 1.3 -27 12.5 2.5-1.8z" fill="#2e86f7" stroke="#2e86f7"/>
<path d="M573.5 161.7l-1.3 1.2 -25.9 12 2.6-1.8z" fill="#2b91ef" stroke="#2b91ef"/>
<path d="M574.8 160.5l-1.3 1.2 -24.6 11.4 2.6-1.8z" fill="#259ce7" stroke="#259ce7"/>
<path d="M576.2 159.3l-1.4 1.2 -23.3 10.8 2.5-1.8z" fill="#1fa5e2" stroke="#1fa5e2"/>
<path d="M577.5 158.1l-1.3 1.2 -22.2 10.2 2.6-1.8z" fill="#17aeda" stroke="#17aeda"/>
<path d="M578.9 156.8l-1.4 1.3 -20.9 9.6 2.6-1.8z" fill="#05b6ce" stroke="#05b6ce"/>
<path d="M580.2 155.6l-1.3 1.2 -19.7 9.1 2.6-1.8z" fill="#06bcc0" stroke="#06bcc0"/>
<path d="M581.5 154.4l-1.3 1.2 -18.4 8.5 2.5-1.7z" fill="#1fc0b2" stroke="#1fc0b2"/>
<path d="M582.9 153.2l-1.4 1.2 -17.2 8 2.6-1.8z" fill="#2fc5a2" stroke="#2fc5a2"/>
<path d="M584.2 152l-1.3 1.2 -16 7.4 2.6-1.8z" fill="#3dc990" stroke="#3dc990"/>
<path d="M585.6 150.7l-1.4 1.3 -14.7 6.8 2.5-1.8z" fill="#55cc7c" stroke="#55cc7c"/>
<path d="M586.9 149.5l-1.3 1.2 -13.6 6.3 2.6-1.8z" fill="#71cd64" stroke="#71cd64"/>
<path d="M588.2 148.3l-1.3 1.2 -12.3 5.7 2.6-1.8z" fill="#90ca4d" stroke="#90ca4d"/>
<path d="M589.6 147.1l-1.4 1.2 -11 5.1 2.5-1.8z" fill="#adc638" stroke="#adc638"/>
<path d="M590.9 145.9l-1.3 1.2 -9.9 4.5 2.6-1.8z" fill="#c8c129" stroke="#c8c129"/>
<path d="M592.3 144.6l-1.4 1.3 -8.6 3.9 2.6-1.7z" fill="#e0bc2a" stroke="#e0bc2a"/>
<path d="M593.6 143.4l-1.3 1.2 -7.4 3.5 2.6-1.8z" fill="#f3ba39" stroke="#f3ba39"/>
<path d="M594.9 142.2l-1.3 1.2 -6.1 2.9 2.5-1.8z" fill="#fec13a" stroke="#fec13a"/>
<path d="M596.3 141l-1.4 1.2 -4.9 2.3 2.6-1.8z" fill="#fdcd31" stroke="#fdcd31"/>
<path d="M597.6 139.8l-1.3 1.2 -3.7 1.7 2.6-1.8z" fill="#f7db2b" stroke="#f7db2b"/>
<path d="M599 138.6l-1.4 1.2 -2.4 1.1 2.5-1.8z" fill="#f5e825" stroke="#f5e825"/>
<path d="M600.3 137.3l-1.3 1.3 -1.3 .5z" fill="#f7f51b" stroke="#f7f51b"/>
</g>
<g opacity="0.5">
<path d="M525.8 189.2l-2.6 1.8 1.1-1.4z" fill="#402ab5" stroke="#402ab5"/>
<path d="M528.3 187.4l-2.5 1.8 -1.5 .4 1.1-1.3z" fill="#4433cc" stroke="#4433cc"/>
<path d="M530.9 185.6l-2.6 1.8 -2.9 .9 1.2-1.3z" fill="#463de0" stroke="#463de0"/>
<path d="M533.5 183.8l-2.6 1.8 -4.3 1.4 1.1-1.4z" fill="#4849ed" stroke="#4849ed"/>
<path d="M536 182l-2.5 1.8 -5.8 1.8 1.1-1.3z" fill="#4755f6" stroke="#4755f6"/>
<path d="M538.6 180.2l-2.6 1.8 -7.2 2.3 1.1-1.4z" fill="#4661fc" stroke="#4661fc"/>
<path d="M541.2 178.5l-2.6 1.7 -8.7 2.7 1.1-1.3z" fill="#406dfe" stroke="#406dfe"/>
<path d="M543.8 176.7l-2.6 1.8 -10.2 3.1 1.1-1.3z" fill="#347afd" stroke="#347afd"/>
<path d="M546.3 174.9l-2.5 1.8 -11.7 3.6 1.2-1.4z" fill="#2e86f7" stroke="#2e86f7"/>
<path d="M548.9 173.1l-2.6 1.8 -13 4 1.1-1.3z" fill="#2b91ef" stroke="#2b91ef"/>
<path d="M551.5 171.3l-2.6 1.8 -14.5 4.5 1.1-1.3z" fill="#259ce7" stroke="#259ce7"/>
<path d="M554 169.5l-2.5 1.8 -16 5 1.1-1.4z" fill="#1fa5e2" stroke="#1fa5e2"/>
<path d="M556.6 167.7l-2.6 1.8 -17.4 5.4 1.1-1.3z" fill="#17aeda" stroke="#17aeda"/>
<path d="M559.2 165.9l-2.6 1.8 -18.9 5.9 1.1-1.3z" fill="#05b6ce" stroke="#05b6ce"/>
<path d="M561.8 164.1l-2.6 1.8 -20.4 6.4 1.2-1.4z" fill="#06bcc0" stroke="#06bcc0"/>
<path d="M564.3 162.4l-2.5 1.7 -21.8 6.8 1.1-1.3z" fill="#1fc0b2" stroke="#1fc0b2"/>
<path d="M566.9 160.6l-2.6 1.8 -23.2 7.2 1.1-1.4z" fill="#2fc5a2" stroke="#2fc5a2"/>
<path d="M569.5 158.8l-2.6 1.8 -24.7 7.6 1.1-1.3z" fill="#3dc990" stroke="#3dc990"/>
<path d="M572 157l-2.5 1.8 -26.2 8.1 1.1-1.3z" fill="#55cc7c" stroke="#55cc7c"/>
<path d="M574.6 155.2l-2.6 1.8 -27.6 8.6 1.1-1.4z" fill="#71cd64" stroke="#71cd64"/>
<path d="M577.2 153.4l-2.6 1.8 -29.1 9 1.1-1.3z" fill="#90ca4d" stroke="#90ca4d"/>
<path d="M579.7 151.6l-2.5 1.8 -30.6 9.5 1.2-1.3z" fill="#adc638" stroke="#adc638"/>
<path d="M582.3 149.8l-2.6 1.8 -31.9 10 1.1-1.4z" fill="#c8c129" stroke="#c8c129"/>
<path d="M584.9 148.1l-2.6 1.7 -33.4 10.4 1.1-1.3z" fill="#e0bc2a" stroke="#e0bc2a"/>
<path d="M587.5 146.3l-2.6 1.8 -34.9 10.8 1.1-1.4z" fill="#f3ba39" stroke="#f3ba39"/>
<path d="M590 144.5l-2.5 1.8 -36.4 11.2 1.1-1.3z" fill="#fec13a" stroke="#fec13a"/>
<path d="M592.6 142.7l-2.6 1.8 -37.8 11.7 1.1-1.3z" fill="#fdcd31" stroke="#fdcd31"/>
<path d="M595.2 140.9l-2.6 1.8 -39.3 12.2 1.2-1.4z" fill="#f7db2b" stroke="#f7db2b"/>
<path d="M597.7 139.1l-2.5 1.8 -40.7 12.6 1.1-1.3z" fill="#f5e825" stroke="#f5e825"/>
<path d="M556.7 150.9l43.6-13.6 -2.6 1.8 -42.1 13.1z" fill="#f7f51b" stroke="#f7f51b"/>
</g>
<g opacity="0.5">
<path d="M677.4 160.6l-3.3-3.6 -4.4 1.3z" fill="#90ca4d" stroke="#90ca4d"/>
<path d="M674.1 157l-3.4-3.7 -8.7 2.7 7.7 2.3z" fill="#adc638" stroke="#adc638"/>
<path d="M670.7 153.3l-3.4-3.7 -13 4 7.7 2.4z" fill="#c8c129" stroke="#c8c129"/>
<path d="M667.3 149.6l-3.3-3.7 -17.4 5.4 7.7 2.3z" fill="#e0bc2a" stroke="#e0bc2a"/>
<path d="M664 145.9l-3.3-3.7 -21.9 6.8 7.8 2.3z" fill="#f3ba39" stroke="#f3ba39"/>
<path d="M660.7 142.2l-3.4-3.7 -26.2 8.2 7.7 2.3z" fill="#fec13a" stroke="#fec13a"/>
<path d="M657.3 138.5l-3.3-3.6 -30.6 9.4 7.7 2.4z" fill="#fdcd31" stroke="#fdcd31"/>
<path d="M654 134.9l-3.4-3.7 -34.9 10.8 7.7 2.3z" fill="#f7db2b" stroke="#f7db2b"/>
<path d="M650.6 131.2l-3.4-3.7 -39.2 12.2 7.7 2.3z" fill="#f5e825" stroke="#f5e825"/>
<path d="M647.2 127.5l-3.3-3.7 -43.6 13.5 7.7 2.4z" fill="#f7f51b" stroke="#f7f51b"/>
</g>
<g opacity="0.5">
<path d="M633.8 193.4l4.4-3.3 -6.1 .5z" fill="#259ce7" stroke="#259ce7"/>
<path d="M638.2 190.1l4.3-3.3 -12.1 1 1.7 2.8z" fill="#1fa5e2" stroke="#1fa5e2"/>
<path d="M642.5 186.8l4.4-3.2 -18.1 1.4 1.6 2.8z" fill="#17aeda" stroke="#17aeda"/>
<path d="M646.9 183.6l4.3-3.3 -24.1 1.9 1.7 2.8z" fill="#05b6ce" stroke="#05b6ce"/>
<path d="M651.2 180.3l4.4-3.3 -30.2 2.4 1.7 2.8z" fill="#06bcc0" stroke="#06bcc0"/>
<path d="M655.6 177l4.4-3.3 -36.3 2.9 1.7 2.8z" fill="#1fc0b2" stroke="#1fc0b2"/>
<path d="M660 173.7l4.3-3.2 -42.2 3.3 1.6 2.8z" fill="#2fc5a2" stroke="#2fc5a2"/>
<path d="M664.3 170.5l4.4-3.3 -48.3 3.8 1.7 2.8z" fill="#3dc990" stroke="#3dc990"/>
<path d="M668.7 167.2l4.3-3.3 -54.3 4.3 1.7 2.8z" fill="#55cc7c" stroke="#55cc7c"/>
<path d="M673 163.9l4.4-3.3 0 0 -60.4 4.8 1.7 2.8z" fill="#71cd64" stroke="#71cd64"/>
<path d="M677.4 160.6l0 0 -7.7-2.3 -54.3 4.3 1.6 2.8z" fill="#90ca4d" stroke="#90ca4d"/>
<path d="M669.7 158.3l-7.7-2.3 -48.3 3.8 1.7 2.8z" fill="#adc638" stroke="#adc638"/>
<path d="M662 156l-7.7-2.4 -42.3 3.4 1.7 2.8z" fill="#c8c129" stroke="#c8c129"/>
<path d="M654.3 153.6l-7.7-2.3 -36.2 2.9 1.6 2.8z" fill="#e0bc2a" stroke="#e0bc2a"/>
<path d="M646.6 151.3l-7.8-2.3 -30.1 2.3 1.7 2.9z" fill="#f3ba39" stroke="#f3ba39"/>
<path d="M638.8 149l-7.7-2.3 -24.1 1.8 1.7 2.8z" fill="#fec13a" stroke="#fec13a"/>
<path d="M631.1 146.7l-7.7-2.4 -18.1 1.4 1.7 2.8z" fill="#fdcd31" stroke="#fdcd31"/>
<path d="M623.4 144.3l-7.7-2.3 -12.1 .9 1.7 2.8z" fill="#f7db2b" stroke="#f7db2b"/>
<path d="M615.7 142l-7.7-2.3 -6 .4 1.6 2.8z" fill="#f5e825" stroke="#f5e825"/>
<path d="M608 139.7l-7.7-2.4 1.7 2.8z" fill="#f7f51b" stroke="#f7f51b"/>
</g>
<g opacity="0.5">
<path d="M722.1 184.2l-1.1 1.4 -2.2-1.3z" fill="#402ab5" stroke="#402ab5"/>
<path d="M723.2 182.9l-1.1 1.3 -3.3 .1 -2.2-1.2z" fill="#4433cc" stroke="#4433cc"/>
<path d="M724.4 181.6l-1.2 1.3 -6.6 .2 -2.1-1.3z" fill="#463de0" stroke="#463de0"/>
<path d="M725.5 180.2l-1.1 1.4 -9.9 .2 -2.2-1.2z" fill="#4849ed" stroke="#4849ed"/>
<path d="M726.6 178.9l-1.1 1.3 -13.2 .4 -2.2-1.3z" fill="#4755f6" stroke="#4755f6"/>
<path d="M727.7 177.5l-1.1 1.4 -16.5 .4 -2.2-1.2z" fill="#4661fc" stroke="#4661fc"/>
<path d="M728.8 176.2l-1.1 1.3 -19.8 .6 -2.2-1.3z" fill="#406dfe" stroke="#406dfe"/>
<path d="M729.9 174.9l-1.1 1.3 -23.1 .6 -2.1-1.2z" fill="#347afd" stroke="#347afd"/>
<path d="M731.1 173.5l-1.2 1.4 -26.3 .7 -2.2-1.3z" fill="#2e86f7" stroke="#2e86f7"/>
<path d="M732.2 172.2l-1.1 1.3 -29.7 .8 -2.2-1.2z" fill="#2b91ef" stroke="#2b91ef"/>
<path d="M733.3 170.9l-1.1 1.3 -33 .9 -2.2-1.2z" fill="#259ce7" stroke="#259ce7"/>
<path d="M734.4 169.5l-1.1 1.4 -36.3 1 -2.2-1.3z" fill="#1fa5e2" stroke="#1fa5e2"/>
<path d="M735.5 168.2l-1.1 1.3 -39.6 1.1 -2.1-1.2z" fill="#17aeda" stroke="#17aeda"/>
<path d="M736.6 166.9l-1.1 1.3 -42.8 1.2 -2.2-1.3z" fill="#05b6ce" stroke="#05b6ce"/>
<path d="M737.8 165.5l-1.2 1.4 -46.1 1.2 -2.2-1.2z" fill="#06bcc0" stroke="#06bcc0"/>
<path d="M738.9 164.2l-1.1 1.3 -49.5 1.4 -2.2-1.3z" fill="#1fc0b2" stroke="#1fc0b2"/>
<path d="M740 162.8l-1.1 1.4 -52.8 1.4 -2.2-1.2z" fill="#2fc5a2" stroke="#2fc5a2"/>
<path d="M741.1 161.5l-1.1 1.3 -56.1 1.6 -2.1-1.3z" fill="#3dc990" stroke="#3dc990"/>
<path d="M742.2 160.2l-1.1 1.3 -59.3 1.6 -2.2-1.2z" fill="#55cc7c" stroke="#55cc7c"/>
<path d="M743.3 158.8l-1.1 1.4 -62.6 1.7 -2.2-1.3 0 0z" fill="#71cd64" stroke="#71cd64"/>
<path d="M744.4 157.5l-1.1 1.3 -65.9 1.8 0 0 7.7-1.5z" fill="#90ca4d" stroke="#90ca4d"/>
<path d="M745.6 156.2l-1.2 1.3 -59.3 1.6 7.7-1.5z" fill="#adc638" stroke="#adc638"/>
<path d="M746.7 154.8l-1.1 1.4 -52.8 1.4 7.7-1.5z" fill="#c8c129" stroke="#c8c129"/>
<path d="M747.8 153.5l-1.1 1.3 -46.2 1.3 7.7-1.5z" fill="#e0bc2a" stroke="#e0bc2a"/>
<path d="M748.9 152.1l-1.1 1.4 -39.6 1.1 7.8-1.6z" fill="#f3ba39" stroke="#f3ba39"/>
<path d="M750 150.8l-1.1 1.3 -32.9 .9 7.7-1.5z" fill="#fec13a" stroke="#fec13a"/>
<path d="M751.1 149.5l-1.1 1.3 -26.3 .7 7.7-1.5z" fill="#fdcd31" stroke="#fdcd31"/>
<path d="M752.3 148.1l-1.2 1.4 -19.7 .5 7.7-1.5z" fill="#f7db2b" stroke="#f7db2b"/>
<path d="M753.4 146.8l-1.1 1.3 -13.2 .4 7.7-1.5z" fill="#f5e825" stroke="#f5e825"/>
<path d="M754.5 145.5l-1.1 1.3 -6.6 .2z" fill="#f7f51b" stroke="#f7f51b"/>
</g>
<g opacity="0.5">
<path d="M685.1 159.1l-7.7 1.5 3.3-.1z" fill="#90ca4d" stroke="#90ca4d"/>
<path d="M692.8 157.6l-7.7 1.5 -4.4 1.4 3.4-.2z" fill="#adc638" stroke="#adc638"/>
<path d="M700.5 156.1l-7.7 1.5 -8.7 2.7 3.4-.2z" fill="#c8c129" stroke="#c8c129"/>
<path d="M708.2 154.6l-7.7 1.5 -13 4 3.3-.1z" fill="#e0bc2a" stroke="#e0bc2a"/>
<path d="M716 153l-7.8 1.6 -17.4 5.4 3.4-.2z" fill="#f3ba39" stroke="#f3ba39"/>
<path d="M723.7 151.5l-7.7 1.5 -21.8 6.8 3.3-.1z" fill="#fec13a" stroke="#fec13a"/>
<path d="M731.4 150l-7.7 1.5 -26.2 8.2 3.3-.2z" fill="#fdcd31" stroke="#fdcd31"/>
<path d="M739.1 148.5l-7.7 1.5 -30.6 9.5 3.4-.2z" fill="#f7db2b" stroke="#f7db2b"/>
<path d="M746.8 147l-7.7 1.5 -34.9 10.8 3.4-.1z" fill="#f5e825" stroke="#f5e825"/>
<path d="M710.9 159l43.6-13.5 -7.7 1.5 -39.2 12.2z" fill="#f7f51b" stroke="#f7f51b"/>
</g>
<g opacity="0.5">
<path d="M801.4 151l-3.3 .2 -4.4-.6z" fill="#90ca4d" stroke="#90ca4d"/>
<path d="M804.8 150.8l-3.4 .2 -7.7-.4 -4.3-.6z" fill="#adc638" stroke="#adc638"/>
<path d="M808.2 150.7l-3.4 .1 -15.4-.8 -4.4-.5z" fill="#c8c129" stroke="#c8c129"/>
<path d="M811.5 150.5l-3.3 .2 -23.2-1.2 -4.3-.6z" fill="#e0bc2a" stroke="#e0bc2a"/>
<path d="M814.8 150.3l-3.3 .2 -30.8-1.6 -4.4-.6z" fill="#f3ba39" stroke="#f3ba39"/>
<path d="M818.2 150.2l-3.4 .1 -38.5-2 -4.4-.6z" fill="#fec13a" stroke="#fec13a"/>
<path d="M821.5 150l-3.3 .2 -46.3-2.5 -4.3-.5z" fill="#fdcd31" stroke="#fdcd31"/>
<path d="M824.9 149.9l-3.4 .1 -53.9-2.8 -4.4-.6z" fill="#f7db2b" stroke="#f7db2b"/>
<path d="M828.3 149.7l-3.4 .2 -61.7-3.3 -4.3-.6z" fill="#f5e825" stroke="#f5e825"/>
<path d="M831.6 149.5l-3.3 .2 -69.4-3.7 -4.4-.5z" fill="#f7f51b" stroke="#f7f51b"/>
</g>
<g opacity="0.5">
<path d="M788 182.3l4.4-3.3 -7.7-.4z" fill="#90ca4d" stroke="#90ca4d"/>
<path d="M792.4 179l4.3-3.3 -15.4-.8 3.4 3.7z" fill="#adc638" stroke="#adc638"/>
<path d="M796.7 175.7l4.4-3.2 -23.2-1.3 3.4 3.7z" fill="#c8c129" stroke="#c8c129"/>
<path d="M801.1 172.5l4.3-3.3 -30.8-1.6 3.3 3.6z" fill="#e0bc2a" stroke="#e0bc2a"/>
<path d="M805.4 169.2l4.4-3.3 -38.6-2 3.4 3.7z" fill="#f3ba39" stroke="#f3ba39"/>
<path d="M809.8 165.9l4.4-3.3 -46.3-2.4 3.3 3.7z" fill="#fec13a" stroke="#fec13a"/>
<path d="M814.2 162.6l4.3-3.2 -53.9-2.9 3.3 3.7z" fill="#fdcd31" stroke="#fdcd31"/>
<path d="M818.5 159.4l4.4-3.3 -61.7-3.3 3.4 3.7z" fill="#f7db2b" stroke="#f7db2b"/>
<path d="M822.9 156.1l4.3-3.3 -69.4-3.7 3.4 3.7z" fill="#f5e825" stroke="#f5e825"/>
<path d="M827.2 152.8l4.4-3.3 -77.1-4 3.3 3.6z" fill="#f7f51b" stroke="#f7f51b"/>
</g>
<path d="M908.7 153.6l-33.5-17.6 -43.6 13.5z" fill="#f9fb15" fill-opacity="0.5" stroke="none"/>
<g opacity="0.5">
<path d="M865.1 186.4l4.4-3.3 -7.7-.4z" fill="#90ca4d" stroke="#90ca4d"/>
<path d="M869.5 183.1l4.3-3.3 -15.4-.8 3.4 3.7z" fill="#adc638" stroke="#adc638"/>
<path d="M873.8 179.8l4.4-3.3 -23.2-1.2 3.4 3.7z" fill="#c8c129" stroke="#c8c129"/>
<path d="M878.2 176.5l4.3-3.2 -30.8-1.7 3.3 3.7z" fill="#e0bc2a" stroke="#e0bc2a"/>
<path d="M882.5 173.3l4.4-3.3 -38.5-2.1 3.3 3.7z" fill="#f3ba39" stroke="#f3ba39"/>
<path d="M886.9 170l4.4-3.3 -46.3-2.4 3.4 3.6z" fill="#fec13a" stroke="#fec13a"/>
<path d="M891.3 166.7l4.3-3.3 -53.9-2.8 3.3 3.7z" fill="#fdcd31" stroke="#fdcd31"/>
<path d="M895.6 163.4l4.4-3.2 -61.7-3.3 3.4 3.7z" fill="#f7db2b" stroke="#f7db2b"/>
<path d="M900 160.2l4.3-3.3 -69.4-3.7 3.4 3.7z" fill="#f5e825" stroke="#f5e825"/>
<path d="M904.3 156.9l4.4-3.3 -77.1-4.1 3.3 3.7z" fill="#f7f51b" stroke="#f7f51b"/>
</g>
<g opacity="0.5">
<path d="M954 177.5l-1.7 1 -2.2-1.2z" fill="#259ce7" stroke="#259ce7"/>
<path d="M955.7 176.4l-1.7 1.1 -3.9-.2 -2.2-1.3z" fill="#1fa5e2" stroke="#1fa5e2"/>
<path d="M957.3 175.4l-1.6 1 -7.8-.4 -2.1-1.2z" fill="#17aeda" stroke="#17aeda"/>
<path d="M959 174.4l-1.7 1 -11.5-.6 -2.2-1.3z" fill="#05b6ce" stroke="#05b6ce"/>
<path d="M960.7 173.3l-1.7 1.1 -15.4-.9 -2.2-1.2z" fill="#06bcc0" stroke="#06bcc0"/>
<path d="M962.4 172.3l-1.7 1 -19.3-1 -2.2-1.2z" fill="#1fc0b2" stroke="#1fc0b2"/>
<path d="M964 171.2l-1.6 1.1 -23.2-1.2 -2.2-1.3z" fill="#2fc5a2" stroke="#2fc5a2"/>
<path d="M965.7 170.2l-1.7 1 -27-1.4 -2.1-1.2z" fill="#3dc990" stroke="#3dc990"/>
<path d="M967.4 169.1l-1.7 1.1 -30.8-1.6 -2.2-1.3z" fill="#55cc7c" stroke="#55cc7c"/>
<path d="M969.1 168.1l-1.7 1 -34.7-1.8 -2.2-1.2z" fill="#71cd64" stroke="#71cd64"/>
<path d="M970.7 167.1l-1.6 1 -38.6-2 -2.2-1.3z" fill="#90ca4d" stroke="#90ca4d"/>
<path d="M972.4 166l-1.7 1.1 -42.4-2.3 -2.2-1.2z" fill="#adc638" stroke="#adc638"/>
<path d="M974.1 165l-1.7 1 -46.3-2.4 -2.1-1.3z" fill="#c8c129" stroke="#c8c129"/>
<path d="M975.8 163.9l-1.7 1.1 -50.1-2.7 -2.2-1.2z" fill="#e0bc2a" stroke="#e0bc2a"/>
<path d="M977.4 162.9l-1.6 1 -54-2.8 -2.2-1.3z" fill="#f3ba39" stroke="#f3ba39"/>
<path d="M979.1 161.8l-1.7 1.1 -57.8-3.1 -2.2-1.2z" fill="#fec13a" stroke="#fec13a"/>
<path d="M980.8 160.8l-1.7 1 -61.7-3.2 -2.2-1.3z" fill="#fdcd31" stroke="#fdcd31"/>
<path d="M982.5 159.8l-1.7 1 -65.6-3.5 -2.1-1.2z" fill="#f7db2b" stroke="#f7db2b"/>
<path d="M984.1 158.7l-1.6 1.1 -69.4-3.7 -2.2-1.3z" fill="#f5e825" stroke="#f5e825"/>
<path d="M985.8 157.7l-1.7 1 -73.2-3.9 -2.2-1.2z" fill="#f7f51b" stroke="#f7f51b"/>
</g>
<path d="M942.2 171.2l43.6-13.5 -77.1-4.1z" fill="#f9fb15" fill-opacity="0.5" stroke="none"/>
<g opacity="0.5">
<path d="M524.3 189.6l-1.1 1.4 -2.2-1.3z" fill="#402ab5" stroke="#402ab5"/>
<path d="M525.4 188.3l-1.1 1.3 -3.3 .1 -2.2-1.2z" fill="#4433cc" stroke="#4433cc"/>
<path d="M526.6 187l-1.2 1.3 -6.6 .2 -2.1-1.3z" fill="#463de0" stroke="#463de0"/>
<path d="M527.7 185.6l-1.1 1.4 -9.9 .2 -2.2-1.2z" fill="#4849ed" stroke="#4849ed"/>
<path d="M528.8 184.3l-1.1 1.3 -13.2 .4 -2.2-1.3z" fill="#4755f6" stroke="#4755f6"/>
<path d="M529.9 182.9l-1.1 1.4 -16.5 .4 -2.2-1.2z" fill="#4661fc" stroke="#4661fc"/>
<path d="M531 181.6l-1.1 1.3 -19.8 .6 -2.2-1.3z" fill="#406dfe" stroke="#406dfe"/>
<path d="M532.1 180.3l-1.1 1.3 -23.1 .6 -2.1-1.2z" fill="#347afd" stroke="#347afd"/>
<path d="M533.3 178.9l-1.2 1.4 -26.3 .7 -2.2-1.3z" fill="#2e86f7" stroke="#2e86f7"/>
<path d="M534.4 177.6l-1.1 1.3 -29.7 .8 -2.2-1.2z" fill="#2b91ef" stroke="#2b91ef"/>
<path d="M535.5 176.3l-1.1 1.3 -33 .9 -2.2-1.2z" fill="#259ce7" stroke="#259ce7"/>
<path d="M536.6 174.9l-1.1 1.4 -36.3 1 -2.2-1.3z" fill="#1fa5e2" stroke="#1fa5e2"/>
<path d="M537.7 173.6l-1.1 1.3 -39.6 1.1 -2.1-1.2z" fill="#17aeda" stroke="#17aeda"/>
<path d="M538.8 172.3l-1.1 1.3 -42.8 1.2 -2.2-1.3z" fill="#05b6ce" stroke="#05b6ce"/>
<path d="M540 170.9l-1.2 1.4 -46.1 1.2 -2.2-1.2z" fill="#06bcc0" stroke="#06bcc0"/>
<path d="M541.1 169.6l-1.1 1.3 -49.5 1.4 -2.2-1.3z" fill="#1fc0b2" stroke="#1fc0b2"/>
<path d="M542.2 168.2l-1.1 1.4 -52.8 1.4 -2.2-1.2z" fill="#2fc5a2" stroke="#2fc5a2"/>
<path d="M543.3 166.9l-1.1 1.3 -56.1 1.6 -2.1-1.3z" fill="#3dc990" stroke="#3dc990"/>
<path d="M544.4 165.6l-1.1 1.3 -59.3 1.6 -2.2-1.2z" fill="#55cc7c" stroke="#55cc7c"/>
<path d="M545.5 164.2l-1.1 1.4 -62.6 1.7 -2.2-1.3 0 0z" fill="#71cd64" stroke="#71cd64"/>
<path d="M546.6 162.9l-1.1 1.3 -65.9 1.8 0 0 7.7-1.5z" fill="#90ca4d" stroke="#90ca4d"/>
<path d="M547.8 161.6l-1.2 1.3 -59.3 1.6 7.7-1.5z" fill="#adc638" stroke="#adc638"/>
<path d="M548.9 160.2l-1.1 1.4 -52.8 1.4 7.7-1.5z" fill="#c8c129" stroke="#c8c129"/>
<path d="M550 158.9l-1.1 1.3 -46.2 1.3 7.7-1.5z" fill="#e0bc2a" stroke="#e0bc2a"/>
<path d="M551.1 157.5l-1.1 1.4 -39.6 1.1 7.8-1.6z" fill="#f3ba39" stroke="#f3ba39"/>
<path d="M552.2 156.2l-1.1 1.3 -32.9 .9 7.7-1.5z" fill="#fec13a" stroke="#fec13a"/>
<path d="M553.3 154.9l-1.1 1.3 -26.3 .7 7.7-1.5z" fill="#fdcd31" stroke="#fdcd31"/>
<path d="M554.5 153.5l-1.2 1.4 -19.7 .5 7.7-1.5z" fill="#f7db2b" stroke="#f7db2b"/>
<path d="M555.6 152.2l-1.1 1.3 -13.2 .4 7.7-1.5z" fill="#f5e825" stroke="#f5e825"/>
<path d="M556.7 150.9l-1.1 1.3 -6.6 .2z" fill="#f7f51b" stroke="#f7f51b"/>
</g>
<g opacity="0.5">
<path d="M487.3 164.5l-7.7 1.5 3.3-.1z" fill="#90ca4d" stroke="#90ca4d"/>
<path d="M495 163l-7.7 1.5 -4.4 1.4 3.4-.2z" fill="#adc638" stroke="#adc638"/>
<path d="M502.7 161.5l-7.7 1.5 -8.7 2.7 3.4-.2z" fill="#c8c129" stroke="#c8c129"/>
<path d="M510.4 160l-7.7 1.5 -13 4 3.3-.1z" fill="#e0bc2a" stroke="#e0bc2a"/>
<path d="M518.2 158.4l-7.8 1.6 -17.4 5.4 3.4-.2z" fill="#f3ba39" stroke="#f3ba39"/>
<path d="M525.9 156.9l-7.7 1.5 -21.8 6.8 3.3-.1z" fill="#fec13a" stroke="#fec13a"/>
<path d="M533.6 155.4l-7.7 1.5 -26.2 8.2 3.3-.2z" fill="#fdcd31" stroke="#fdcd31"/>
<path d="M541.3 153.9l-7.7 1.5 -30.6 9.5 3.4-.2z" fill="#f7db2b" stroke="#f7db2b"/>
<path d="M549 152.4l-7.7 1.5 -34.9 10.8 3.4-.1z" fill="#f5e825" stroke="#f5e825"/>
<path d="M513.1 164.4l43.6-13.5 -7.7 1.5 -39.2 12.2z" fill="#f7f51b" stroke="#f7f51b"/>
</g>
<g opacity="0.5">
<path d="M633.8 193.4l-1.7-2.8 -2.2 .7z" fill="#259ce7" stroke="#259ce7"/>
<path d="M632.1 190.6l-1.7-2.8 -4.3 1.3 3.8 2.2z" fill="#1fa5e2" stroke="#1fa5e2"/>
<path d="M630.4 187.8l-1.6-2.8 -6.6 2 3.9 2.1z" fill="#17aeda" stroke="#17aeda"/>
<path d="M628.8 185l-1.7-2.8 -8.7 2.7 3.8 2.1z" fill="#05b6ce" stroke="#05b6ce"/>
<path d="M627.1 182.2l-1.7-2.8 -10.9 3.4 3.9 2.1z" fill="#06bcc0" stroke="#06bcc0"/>
<path d="M625.4 179.4l-1.7-2.8 -13 4 3.8 2.2z" fill="#1fc0b2" stroke="#1fc0b2"/>
<path d="M623.7 176.6l-1.6-2.8 -15.3 4.7 3.9 2.1z" fill="#2fc5a2" stroke="#2fc5a2"/>
<path d="M622.1 173.8l-1.7-2.8 -17.4 5.4 3.8 2.1z" fill="#3dc990" stroke="#3dc990"/>
<path d="M620.4 171l-1.7-2.8 -19.6 6.1 3.9 2.1z" fill="#55cc7c" stroke="#55cc7c"/>
<path d="M618.7 168.2l-1.7-2.8 -21.8 6.7 3.9 2.2z" fill="#71cd64" stroke="#71cd64"/>
<path d="M617 165.4l-1.6-2.8 -24 7.4 3.8 2.1z" fill="#90ca4d" stroke="#90ca4d"/>
<path d="M615.4 162.6l-1.7-2.8 -26.2 8.1 3.9 2.1z" fill="#adc638" stroke="#adc638"/>
<path d="M613.7 159.8l-1.7-2.8 -28.3 8.8 3.8 2.1z" fill="#c8c129" stroke="#c8c129"/>
<path d="M612 157l-1.6-2.8 -30.6 9.4 3.9 2.2z" fill="#e0bc2a" stroke="#e0bc2a"/>
<path d="M610.4 154.2l-1.7-2.9 -32.7 10.2 3.8 2.1z" fill="#f3ba39" stroke="#f3ba39"/>
<path d="M608.7 151.3l-1.7-2.8 -34.9 10.9 3.9 2.1z" fill="#fec13a" stroke="#fec13a"/>
<path d="M607 148.5l-1.7-2.8 -37 11.5 3.8 2.2z" fill="#fdcd31" stroke="#fdcd31"/>
<path d="M605.3 145.7l-1.7-2.8 -39.2 12.2 3.9 2.1z" fill="#f7db2b" stroke="#f7db2b"/>
<path d="M603.6 142.9l-1.6-2.8 -41.4 12.9 3.8 2.1z" fill="#f5e825" stroke="#f5e825"/>
<path d="M602 140.1l-1.7-2.8 -43.6 13.6 3.9 2.1z" fill="#f7f51b" stroke="#f7f51b"/>
</g>
<g opacity="0.5">
<path d="M631.6 192.2l2.2 1.2 -3.9-2.1z" fill="#259ce7" stroke="#259ce7"/>
<path d="M629.4 190.9l2.2 1.3 -1.7-.9 -3.8-2.2z" fill="#1fa5e2" stroke="#1fa5e2"/>
<path d="M627.3 189.7l2.1 1.2 -3.3-1.8 -3.9-2.1z" fill="#17aeda" stroke="#17aeda"/>
<path d="M625.1 188.4l2.2 1.3 -5.1-2.7 -3.8-2.1z" fill="#05b6ce" stroke="#05b6ce"/>
<path d="M622.9 187.2l2.2 1.2 -6.7-3.5 -3.9-2.1z" fill="#06bcc0" stroke="#06bcc0"/>
<path d="M620.7 185.9l2.2 1.3 -8.4-4.4 -3.8-2.2z" fill="#1fc0b2" stroke="#1fc0b2"/>
<path d="M618.5 184.7l2.2 1.2 -10-5.3 -3.9-2.1z" fill="#2fc5a2" stroke="#2fc5a2"/>
<path d="M616.4 183.4l2.1 1.3 -11.7-6.2 -3.8-2.1z" fill="#3dc990" stroke="#3dc990"/>
<path d="M614.2 182.2l2.2 1.2 -13.4-7 -3.9-2.1z" fill="#55cc7c" stroke="#55cc7c"/>
<path d="M612 180.9l2.2 1.3 -15.1-7.9 -3.9-2.2z" fill="#71cd64" stroke="#71cd64"/>
<path d="M609.8 179.7l2.2 1.2 -16.8-8.8 -3.8-2.1z" fill="#90ca4d" stroke="#90ca4d"/>
<path d="M607.6 178.4l2.2 1.3 -18.4-9.7 -3.9-2.1z" fill="#adc638" stroke="#adc638"/>
<path d="M605.5 177.2l2.1 1.2 -20.1-10.5 -3.8-2.1z" fill="#c8c129" stroke="#c8c129"/>
<path d="M603.3 175.9l2.2 1.3 -21.8-11.4 -3.9-2.2z" fill="#e0bc2a" stroke="#e0bc2a"/>
<path d="M601.1 174.7l2.2 1.2 -23.5-12.3 -3.8-2.1z" fill="#f3ba39" stroke="#f3ba39"/>
<path d="M598.9 173.5l2.2 1.2 -25.1-13.2 -3.9-2.1z" fill="#fec13a" stroke="#fec13a"/>
<path d="M596.7 172.2l2.2 1.3 -26.8-14.1 -3.8-2.2z" fill="#fdcd31" stroke="#fdcd31"/>
<path d="M594.6 171l2.1 1.2 -28.4-15 -3.9-2.1z" fill="#f7db2b" stroke="#f7db2b"/>
<path d="M592.4 169.7l2.2 1.3 -30.2-15.9 -3.8-2.1z" fill="#f5e825" stroke="#f5e825"/>
<path d="M590.2 168.5l2.2 1.2 -31.8-16.7 -3.9-2.1z" fill="#f7f51b" stroke="#f7f51b"/>
</g>
<g opacity="0.5">
<path d="M638.2 190.1l-4.4 3.3 3.9-1.7z" fill="#259ce7" stroke="#259ce7"/>
<path d="M642.5 186.8l-4.3 3.3 -.5 1.6 3.8-1.7z" fill="#1fa5e2" stroke="#1fa5e2"/>
<path d="M646.9 183.6l-4.4 3.2 -1 3.2 3.9-1.8z" fill="#17aeda" stroke="#17aeda"/>
<path d="M651.2 180.3l-4.3 3.3 -1.5 4.6 3.8-1.7z" fill="#05b6ce" stroke="#05b6ce"/>
<path d="M655.6 177l-4.4 3.3 -2 6.2 3.9-1.7z" fill="#06bcc0" stroke="#06bcc0"/>
<path d="M660 173.7l-4.4 3.3 -2.5 7.8 3.8-1.7z" fill="#1fc0b2" stroke="#1fc0b2"/>
<path d="M664.3 170.5l-4.3 3.2 -3.1 9.4 3.9-1.7z" fill="#2fc5a2" stroke="#2fc5a2"/>
<path d="M668.7 167.2l-4.4 3.3 -3.5 10.9 3.8-1.8z" fill="#3dc990" stroke="#3dc990"/>
<path d="M673 163.9l-4.3 3.3 -4.1 12.4 3.9-1.7z" fill="#55cc7c" stroke="#55cc7c"/>
<path d="M677.4 160.6l0 0 -4.4 3.3 -4.5 14 3.9-1.7z" fill="#71cd64" stroke="#71cd64"/>
<path d="M680.7 160.5l-3.3 .1 0 0 -5 15.6 3.8-1.7z" fill="#90ca4d" stroke="#90ca4d"/>
<path d="M684.1 160.3l-3.4 .2 -4.5 14 3.9-1.7z" fill="#adc638" stroke="#adc638"/>
<path d="M687.5 160.1l-3.4 .2 -4 12.5 3.8-1.8z" fill="#c8c129" stroke="#c8c129"/>
<path d="M690.8 160l-3.3 .1 -3.6 10.9 3.9-1.7z" fill="#e0bc2a" stroke="#e0bc2a"/>
<path d="M694.2 159.8l-3.4 .2 -3 9.3 3.8-1.7z" fill="#f3ba39" stroke="#f3ba39"/>
<path d="M697.5 159.7l-3.3 .1 -2.6 7.8 3.9-1.7z" fill="#fec13a" stroke="#fec13a"/>
<path d="M700.8 159.5l-3.3 .2 -2 6.2 3.8-1.7z" fill="#fdcd31" stroke="#fdcd31"/>
<path d="M704.2 159.3l-3.4 .2 -1.5 4.7 3.9-1.8z" fill="#f7db2b" stroke="#f7db2b"/>
<path d="M707.6 159.2l-3.4 .1 -1 3.1 3.8-1.7z" fill="#f5e825" stroke="#f5e825"/>
<path d="M710.9 159l-3.3 .2 -.6 1.5z" fill="#f7f51b" stroke="#f7f51b"/>
</g>
<g opacity="0.5">
<path d="M637.7 191.7l-3.9 1.7 3.4-.2z" fill="#259ce7" stroke="#259ce7"/>
<path d="M641.5 190l-3.8 1.7 -.5 1.5 3.3-.1z" fill="#1fa5e2" stroke="#1fa5e2"/>
<path d="M645.4 188.2l-3.9 1.8 -1 3.1 3.3-.2z" fill="#17aeda" stroke="#17aeda"/>
<path d="M649.2 186.5l-3.8 1.7 -1.6 4.7 3.4-.2z" fill="#05b6ce" stroke="#05b6ce"/>
<path d="M653.1 184.8l-3.9 1.7 -2 6.2 3.4-.1z" fill="#06bcc0" stroke="#06bcc0"/>
<path d="M656.9 183.1l-3.8 1.7 -2.5 7.8 3.3-.2z" fill="#1fc0b2" stroke="#1fc0b2"/>
<path d="M660.8 181.4l-3.9 1.7 -3 9.3 3.4-.1z" fill="#2fc5a2" stroke="#2fc5a2"/>
<path d="M664.6 179.6l-3.8 1.8 -3.5 10.9 3.3-.2z" fill="#3dc990" stroke="#3dc990"/>
<path d="M668.5 177.9l-3.9 1.7 -4 12.5 3.3-.2z" fill="#55cc7c" stroke="#55cc7c"/>
<path d="M667.3 191.8l0 0 5.1-15.6 -3.9 1.7 -4.6 14z" fill="#71cd64" stroke="#71cd64"/>
<path d="M667.3 191.8l4.4-3.3 4.5-14 -3.8 1.7 -5.1 15.6z" fill="#90ca4d" stroke="#90ca4d"/>
<path d="M671.7 188.5l4.3-3.3 4.1-12.4 -3.9 1.7z" fill="#adc638" stroke="#adc638"/>
<path d="M676 185.2l4.4-3.3 3.5-10.9 -3.8 1.8z" fill="#c8c129" stroke="#c8c129"/>
<path d="M680.4 181.9l4.3-3.2 3.1-9.4 -3.9 1.7z" fill="#e0bc2a" stroke="#e0bc2a"/>
<path d="M684.7 178.7l4.4-3.3 2.5-7.8 -3.8 1.7z" fill="#f3ba39" stroke="#f3ba39"/>
<path d="M689.1 175.4l4.4-3.3 2-6.2 -3.9 1.7z" fill="#fec13a" stroke="#fec13a"/>
<path d="M693.5 172.1l4.3-3.3 1.5-4.6 -3.8 1.7z" fill="#fdcd31" stroke="#fdcd31"/>
<path d="M697.8 168.8l4.4-3.2 1-3.2 -3.9 1.8z" fill="#f7db2b" stroke="#f7db2b"/>
<path d="M702.2 165.6l4.3-3.3 .5-1.6 -3.8 1.7z" fill="#f5e825" stroke="#f5e825"/>
<path d="M706.5 162.3l4.4-3.3 -3.9 1.7z" fill="#f7f51b" stroke="#f7f51b"/>
</g>
<g opacity="0.5">
<path d="M788 182.3l-3.3-3.7 -4.4 1.4z" fill="#90ca4d" stroke="#90ca4d"/>
<path d="M784.7 178.6l-3.4-3.7 -8.7 2.7 7.7 2.4z" fill="#adc638" stroke="#adc638"/>
<path d="M781.3 174.9l-3.4-3.7 -13 4.1 7.7 2.3z" fill="#c8c129" stroke="#c8c129"/>
<path d="M777.9 171.2l-3.3-3.6 -17.4 5.4 7.7 2.3z" fill="#e0bc2a" stroke="#e0bc2a"/>
<path d="M774.6 167.6l-3.4-3.7 -21.8 6.7 7.8 2.4z" fill="#f3ba39" stroke="#f3ba39"/>
<path d="M771.2 163.9l-3.3-3.7 -26.2 8.1 7.7 2.3z" fill="#fec13a" stroke="#fec13a"/>
<path d="M767.9 160.2l-3.3-3.7 -30.6 9.5 7.7 2.3z" fill="#fdcd31" stroke="#fdcd31"/>
<path d="M764.6 156.5l-3.4-3.7 -34.9 10.9 7.7 2.3z" fill="#f7db2b" stroke="#f7db2b"/>
<path d="M761.2 152.8l-3.4-3.7 -39.2 12.2 7.7 2.4z" fill="#f5e825" stroke="#f5e825"/>
<path d="M757.8 149.1l-3.3-3.6 -43.6 13.5 7.7 2.3z" fill="#f7f51b" stroke="#f7f51b"/>
</g>
<g opacity="0.5">
<path d="M783.6 181.7l4.4 .6 -7.7-2.3z" fill="#90ca4d" stroke="#90ca4d"/>
<path d="M779.3 181.2l4.3 .5 -3.3-1.7 -7.7-2.4z" fill="#adc638" stroke="#adc638"/>
<path d="M774.9 180.6l4.4 .6 -6.7-3.6 -7.7-2.3z" fill="#c8c129" stroke="#c8c129"/>
<path d="M770.6 180l4.3 .6 -10-5.3 -7.7-2.3z" fill="#e0bc2a" stroke="#e0bc2a"/>
<path d="M766.2 179.4l4.4 .6 -13.4-7 -7.8-2.4z" fill="#f3ba39" stroke="#f3ba39"/>
<path d="M761.8 178.9l4.4 .5 -16.8-8.8 -7.7-2.3z" fill="#fec13a" stroke="#fec13a"/>
<path d="M757.5 178.3l4.3 .6 -20.1-10.6 -7.7-2.3z" fill="#fdcd31" stroke="#fdcd31"/>
<path d="M753.1 177.7l4.4 .6 -23.5-12.3 -7.7-2.3z" fill="#f7db2b" stroke="#f7db2b"/>
<path d="M748.8 177.2l4.3 .5 -26.8-14 -7.7-2.4z" fill="#f5e825" stroke="#f5e825"/>
<path d="M744.4 176.6l4.4 .6 -30.2-15.9 -7.7-2.3z" fill="#f7f51b" stroke="#f7f51b"/>
</g>
<g opacity="0.5">
<path d="M865.1 186.4l-3.3-3.7 -69.4-3.7 -4.4 3.3z" fill="#90ca4d" stroke="#90ca4d"/>
<path d="M861.8 182.7l-3.4-3.7 -61.7-3.3 -4.3 3.3z" fill="#adc638" stroke="#adc638"/>
<path d="M858.4 179l-3.4-3.7 -53.9-2.8 -4.4 3.2z" fill="#c8c129" stroke="#c8c129"/>
<path d="M855 175.3l-3.3-3.7 -46.3-2.4 -4.3 3.3z" fill="#e0bc2a" stroke="#e0bc2a"/>
<path d="M851.7 171.6l-3.3-3.7 -38.6-2 -4.4 3.3z" fill="#f3ba39" stroke="#f3ba39"/>
<path d="M848.4 167.9l-3.4-3.6 -30.8-1.7 -4.4 3.3z" fill="#fec13a" stroke="#fec13a"/>
<path d="M845 164.3l-3.3-3.7 -23.2-1.2 -4.3 3.2z" fill="#fdcd31" stroke="#fdcd31"/>
<path d="M841.7 160.6l-3.4-3.7 -15.4-.8 -4.4 3.3z" fill="#f7db2b" stroke="#f7db2b"/>
<path d="M838.3 156.9l-3.4-3.7 -7.7-.4 -4.3 3.3z" fill="#f5e825" stroke="#f5e825"/>
<path d="M834.9 153.2l-3.3-3.7 -4.4 3.3z" fill="#f7f51b" stroke="#f7f51b"/>
</g>
<g opacity="0.5">
<path d="M860.7 185.8l4.4 .6 -77.1-4.1 3.3-.2z" fill="#90ca4d" stroke="#90ca4d"/>
<path d="M856.4 185.2l4.3 .6 -69.4-3.7 3.4-.1z" fill="#adc638" stroke="#adc638"/>
<path d="M852 184.7l4.4 .5 -61.7-3.2 3.4-.2z" fill="#c8c129" stroke="#c8c129"/>
<path d="M847.7 184.1l4.3 .6 -53.9-2.9 3.3-.2z" fill="#e0bc2a" stroke="#e0bc2a"/>
<path d="M843.3 183.5l4.4 .6 -46.3-2.5 3.4-.1z" fill="#f3ba39" stroke="#f3ba39"/>
<path d="M838.9 182.9l4.4 .6 -38.5-2 3.3-.2z" fill="#fec13a" stroke="#fec13a"/>
<path d="M834.6 182.4l4.3 .5 -30.8-1.6 3.3-.1z" fill="#fdcd31" stroke="#fdcd31"/>
<path d="M830.2 181.8l4.4 .6 -23.2-1.2 3.4-.2z" fill="#f7db2b" stroke="#f7db2b"/>
<path d="M825.9 181.2l4.3 .6 -15.4-.8 3.4-.2z" fill="#f5e825" stroke="#f5e825"/>
<path d="M821.5 180.7l4.4 .5 -7.7-.4z" fill="#f7f51b" stroke="#f7f51b"/>
</g>
<g opacity="0.5">
<path d="M869.5 183.1l-4.4 3.3 7.7-1.5z" fill="#90ca4d" stroke="#90ca4d"/>
<path d="M873.8 179.8l-4.3 3.3 3.3 1.8 7.7-1.6z" fill="#adc638" stroke="#adc638"/>
<path d="M878.2 176.5l-4.4 3.3 6.7 3.5 7.7-1.5z" fill="#c8c129" stroke="#c8c129"/>
<path d="M882.5 173.3l-4.3 3.2 10 5.3 7.7-1.5z" fill="#e0bc2a" stroke="#e0bc2a"/>
<path d="M886.9 170l-4.4 3.3 13.4 7 7.7-1.5z" fill="#f3ba39" stroke="#f3ba39"/>
<path d="M891.3 166.7l-4.4 3.3 16.7 8.8 7.8-1.5z" fill="#fec13a" stroke="#fec13a"/>
<path d="M895.6 163.4l-4.3 3.3 20.1 10.6 7.7-1.5z" fill="#fdcd31" stroke="#fdcd31"/>
<path d="M900 160.2l-4.4 3.2 23.5 12.4 7.7-1.6z" fill="#f7db2b" stroke="#f7db2b"/>
<path d="M904.3 156.9l-4.3 3.3 26.8 14 7.7-1.5z" fill="#f5e825" stroke="#f5e825"/>
<path d="M942.2 171.2l-33.5-17.6 -4.4 3.3 30.2 15.8z" fill="#f7f51b" stroke="#f7f51b"/>
</g>
<g opacity="0.5">
<path d="M898.6 223.2l2.2-2.6 -5.6-1.1z" fill="#259ce7" stroke="#259ce7"/>
<path d="M900.8 220.6l2.2-2.6 -11.1-2.2 3.3 3.7z" fill="#1fa5e2" stroke="#1fa5e2"/>
<path d="M903 218l2.1-2.6 -16.5-3.2 3.3 3.6z" fill="#17aeda" stroke="#17aeda"/>
<path d="M905.1 215.4l2.2-2.6 -22.1-4.3 3.4 3.7z" fill="#05b6ce" stroke="#05b6ce"/>
<path d="M907.3 212.8l2.2-2.6 -27.7-5.4 3.4 3.7z" fill="#06bcc0" stroke="#06bcc0"/>
<path d="M909.5 210.2l2.2-2.6 -33.2-6.5 3.3 3.7z" fill="#1fc0b2" stroke="#1fc0b2"/>
<path d="M911.7 207.6l2.2-2.6 -38.8-7.6 3.4 3.7z" fill="#2fc5a2" stroke="#2fc5a2"/>
<path d="M913.9 205l2.1-2.6 -44.2-8.7 3.3 3.7z" fill="#3dc990" stroke="#3dc990"/>
<path d="M916 202.4l2.2-2.6 -49.7-9.7 3.3 3.6z" fill="#55cc7c" stroke="#55cc7c"/>
<path d="M918.2 199.8l2.2-2.6 -55.3-10.8 0 0 3.4 3.7z" fill="#71cd64" stroke="#71cd64"/>
<path d="M920.4 197.2l2.2-2.6 -49.8-9.7 -7.7 1.5 0 0z" fill="#90ca4d" stroke="#90ca4d"/>
<path d="M922.6 194.6l2.2-2.6 -44.3-8.7 -7.7 1.6z" fill="#adc638" stroke="#adc638"/>
<path d="M924.8 192l2.1-2.6 -38.7-7.6 -7.7 1.5z" fill="#c8c129" stroke="#c8c129"/>
<path d="M926.9 189.4l2.2-2.6 -33.2-6.5 -7.7 1.5z" fill="#e0bc2a" stroke="#e0bc2a"/>
<path d="M929.1 186.8l2.2-2.6 -27.7-5.4 -7.7 1.5z" fill="#f3ba39" stroke="#f3ba39"/>
<path d="M931.3 184.2l2.2-2.6 -22.1-4.3 -7.8 1.5z" fill="#fec13a" stroke="#fec13a"/>
<path d="M933.5 181.6l2.2-2.6 -16.6-3.2 -7.7 1.5z" fill="#fdcd31" stroke="#fdcd31"/>
<path d="M935.7 179l2.1-2.6 -11-2.2 -7.7 1.6z" fill="#f7db2b" stroke="#f7db2b"/>
<path d="M937.8 176.4l2.2-2.6 -5.5-1.1 -7.7 1.5z" fill="#f5e825" stroke="#f5e825"/>
<path d="M940 173.8l2.2-2.6 -7.7 1.5z" fill="#f7f51b" stroke="#f7f51b"/>
</g>
<path d="M1173.5 183.4l-33.5-17.6 -43.6 13.5z" fill="#f9fb15" fill-opacity="0.5" stroke="none"/>
<g opacity="0.5">
<path d="M1129.9 216.2l4.4-3.3 -7.7-.4z" fill="#90ca4d" stroke="#90ca4d"/>
<path d="M1134.3 212.9l4.3-3.3 -15.4-.8 3.4 3.7z" fill="#adc638" stroke="#adc638"/>
<path d="M1138.6 209.6l4.4-3.3 -23.2-1.2 3.4 3.7z" fill="#c8c129" stroke="#c8c129"/>
<path d="M1143 206.3l4.3-3.2 -30.8-1.7 3.3 3.7z" fill="#e0bc2a" stroke="#e0bc2a"/>
<path d="M1147.3 203.1l4.4-3.3 -38.5-2.1 3.3 3.7z" fill="#f3ba39" stroke="#f3ba39"/>
<path d="M1151.7 199.8l4.4-3.3 -46.3-2.4 3.4 3.6z" fill="#fec13a" stroke="#fec13a"/>
<path d="M1156.1 196.5l4.3-3.3 -53.9-2.8 3.3 3.7z" fill="#fdcd31" stroke="#fdcd31"/>
<path d="M1160.4 193.2l4.4-3.2 -61.7-3.3 3.4 3.7z" fill="#f7db2b" stroke="#f7db2b"/>
<path d="M1164.8 190l4.3-3.3 -69.4-3.7 3.4 3.7z" fill="#f5e825" stroke="#f5e825"/>
<path d="M1169.1 186.7l4.4-3.3 -77.1-4.1 3.3 3.7z" fill="#f7f51b" stroke="#f7f51b"/>
</g>
<g opacity="0.5">
<path d="M440.4 195.5l-4.4 3.3 3.9-1.7z" fill="#259ce7" stroke="#259ce7"/>
<path d="M444.7 192.2l-4.3 3.3 -.5 1.6 3.8-1.7z" fill="#1fa5e2" stroke="#1fa5e2"/>
<path d="M449.1 189l-4.4 3.2 -1 3.2 3.9-1.8z" fill="#17aeda" stroke="#17aeda"/>
<path d="M453.4 185.7l-4.3 3.3 -1.5 4.6 3.8-1.7z" fill="#05b6ce" stroke="#05b6ce"/>
<path d="M457.8 182.4l-4.4 3.3 -2 6.2 3.9-1.7z" fill="#06bcc0" stroke="#06bcc0"/>
<path d="M462.2 179.1l-4.4 3.3 -2.5 7.8 3.8-1.7z" fill="#1fc0b2" stroke="#1fc0b2"/>
<path d="M466.5 175.9l-4.3 3.2 -3.1 9.4 3.9-1.7z" fill="#2fc5a2" stroke="#2fc5a2"/>
<path d="M470.9 172.6l-4.4 3.3 -3.5 10.9 3.8-1.8z" fill="#3dc990" stroke="#3dc990"/>
<path d="M475.2 169.3l-4.3 3.3 -4.1 12.4 3.9-1.7z" fill="#55cc7c" stroke="#55cc7c"/>
<path d="M479.6 166l0 0 -4.4 3.3 -4.5 14 3.9-1.7z" fill="#71cd64" stroke="#71cd64"/>
<path d="M482.9 165.9l-3.3 .1 0 0 -5 15.6 3.8-1.7z" fill="#90ca4d" stroke="#90ca4d"/>
<path d="M486.3 165.7l-3.4 .2 -4.5 14 3.9-1.7z" fill="#adc638" stroke="#adc638"/>
<path d="M489.7 165.5l-3.4 .2 -4 12.5 3.8-1.8z" fill="#c8c129" stroke="#c8c129"/>
<path d="M493 165.4l-3.3 .1 -3.6 10.9 3.9-1.7z" fill="#e0bc2a" stroke="#e0bc2a"/>
<path d="M496.4 165.2l-3.4 .2 -3 9.3 3.8-1.7z" fill="#f3ba39" stroke="#f3ba39"/>
<path d="M499.7 165.1l-3.3 .1 -2.6 7.8 3.9-1.7z" fill="#fec13a" stroke="#fec13a"/>
<path d="M503 164.9l-3.3 .2 -2 6.2 3.8-1.7z" fill="#fdcd31" stroke="#fdcd31"/>
<path d="M506.4 164.7l-3.4 .2 -1.5 4.7 3.9-1.8z" fill="#f7db2b" stroke="#f7db2b"/>
<path d="M509.8 164.6l-3.4 .1 -1 3.1 3.8-1.7z" fill="#f5e825" stroke="#f5e825"/>
<path d="M513.1 164.4l-3.3 .2 -.6 1.5z" fill="#f7f51b" stroke="#f7f51b"/>
</g>
<g opacity="0.5">
<path d="M439.9 197.1l-3.9 1.7 1.7-1z" fill="#259ce7" stroke="#259ce7"/>
<path d="M443.7 195.4l-3.8 1.7 -2.2 .7 1.7-1.1z" fill="#1fa5e2" stroke="#1fa5e2"/>
<path d="M447.6 193.6l-3.9 1.8 -4.3 1.3 1.6-1z" fill="#17aeda" stroke="#17aeda"/>
<path d="M451.4 191.9l-3.8 1.7 -6.6 2.1 1.7-1.1z" fill="#05b6ce" stroke="#05b6ce"/>
<path d="M455.3 190.2l-3.9 1.7 -8.7 2.7 1.7-1z" fill="#06bcc0" stroke="#06bcc0"/>
<path d="M459.1 188.5l-3.8 1.7 -10.9 3.4 1.7-1.1z" fill="#1fc0b2" stroke="#1fc0b2"/>
<path d="M463 186.8l-3.9 1.7 -13 4 1.6-1z" fill="#2fc5a2" stroke="#2fc5a2"/>
<path d="M466.8 185l-3.8 1.8 -15.3 4.7 1.7-1z" fill="#3dc990" stroke="#3dc990"/>
<path d="M470.7 183.3l-3.9 1.7 -17.4 5.5 1.7-1.1z" fill="#55cc7c" stroke="#55cc7c"/>
<path d="M474.6 181.6l-3.9 1.7 -19.6 6.1 1.7-1z" fill="#71cd64" stroke="#71cd64"/>
<path d="M478.4 179.9l-3.8 1.7 -21.8 6.8 1.6-1.1z" fill="#90ca4d" stroke="#90ca4d"/>
<path d="M482.3 178.2l-3.9 1.7 -24 7.4 1.7-1z" fill="#adc638" stroke="#adc638"/>
<path d="M486.1 176.4l-3.8 1.8 -26.2 8.1 1.7-1.1z" fill="#c8c129" stroke="#c8c129"/>
<path d="M490 174.7l-3.9 1.7 -28.3 8.8 1.6-1z" fill="#e0bc2a" stroke="#e0bc2a"/>
<path d="M493.8 173l-3.8 1.7 -30.6 9.5 1.7-1.1z" fill="#f3ba39" stroke="#f3ba39"/>
<path d="M497.7 171.3l-3.9 1.7 -32.7 10.1 1.7-1z" fill="#fec13a" stroke="#fec13a"/>
<path d="M501.5 169.6l-3.8 1.7 -34.9 10.8 1.7-1z" fill="#fdcd31" stroke="#fdcd31"/>
<path d="M505.4 167.8l-3.9 1.8 -37 11.5 1.7-1.1z" fill="#f7db2b" stroke="#f7db2b"/>
<path d="M509.2 166.1l-3.8 1.7 -39.2 12.2 1.6-1z" fill="#f5e825" stroke="#f5e825"/>
<path d="M469.5 177.9l43.6-13.5 -3.9 1.7 -41.4 12.9z" fill="#f7f51b" stroke="#f7f51b"/>
</g>
<path d="M590.2 168.5l-33.5-17.6 -43.6 13.5z" fill="#f9fb15" fill-opacity="0.5" stroke="none"/>
<g opacity="0.5">
<path d="M546.6 220.5l2.2-2.6 -3.9-.2z" fill="#259ce7" stroke="#259ce7"/>
<path d="M548.8 217.9l2.2-2.6 -7.8-.4 1.7 2.8z" fill="#1fa5e2" stroke="#1fa5e2"/>
<path d="M551 215.3l2.1-2.6 -11.5-.6 1.6 2.8z" fill="#17aeda" stroke="#17aeda"/>
<path d="M553.1 212.7l2.2-2.6 -15.4-.8 1.7 2.8z" fill="#05b6ce" stroke="#05b6ce"/>
<path d="M555.3 210.1l2.2-2.6 -19.3-1.1 1.7 2.9z" fill="#06bcc0" stroke="#06bcc0"/>
<path d="M557.5 207.5l2.2-2.6 -23.2-1.3 1.7 2.8z" fill="#1fc0b2" stroke="#1fc0b2"/>
<path d="M559.7 204.9l2.2-2.6 -27-1.5 1.6 2.8z" fill="#2fc5a2" stroke="#2fc5a2"/>
<path d="M561.9 202.3l2.1-2.6 -30.8-1.7 1.7 2.8z" fill="#3dc990" stroke="#3dc990"/>
<path d="M564 199.7l2.2-2.6 -34.7-1.9 1.7 2.8z" fill="#55cc7c" stroke="#55cc7c"/>
<path d="M566.2 197.1l2.2-2.6 -38.6-2.1 1.7 2.8z" fill="#71cd64" stroke="#71cd64"/>
<path d="M568.4 194.5l2.2-2.6 -42.4-2.3 1.6 2.8z" fill="#90ca4d" stroke="#90ca4d"/>
<path d="M570.6 191.9l2.2-2.6 -46.3-2.5 1.7 2.8z" fill="#adc638" stroke="#adc638"/>
<path d="M572.8 189.3l2.1-2.6 -50.1-2.7 1.7 2.8z" fill="#c8c129" stroke="#c8c129"/>
<path d="M574.9 186.7l2.2-2.6 -53.9-2.9 1.6 2.8z" fill="#e0bc2a" stroke="#e0bc2a"/>
<path d="M577.1 184.1l2.2-2.6 -57.8-3.1 1.7 2.8z" fill="#f3ba39" stroke="#f3ba39"/>
<path d="M579.3 181.5l2.2-2.6 -61.7-3.3 1.7 2.8z" fill="#fec13a" stroke="#fec13a"/>
<path d="M581.5 178.9l2.2-2.6 -65.6-3.5 1.7 2.8z" fill="#fdcd31" stroke="#fdcd31"/>
<path d="M583.7 176.3l2.1-2.6 -69.4-3.7 1.7 2.8z" fill="#f7db2b" stroke="#f7db2b"/>
<path d="M585.8 173.7l2.2-2.6 -73.2-3.9 1.6 2.8z" fill="#f5e825" stroke="#f5e825"/>
<path d="M588 171.1l2.2-2.6 -77.1-4.1 1.7 2.8z" fill="#f7f51b" stroke="#f7f51b"/>
</g>
<g opacity="0.5">
<path d="M637.2 193.2l-3.4 .2 -2.2-1.2z" fill="#259ce7" stroke="#259ce7"/>
<path d="M640.5 193.1l-3.3 .1 -5.6-1 -2.2-1.3z" fill="#1fa5e2" stroke="#1fa5e2"/>
<path d="M643.8 192.9l-3.3 .2 -11.1-2.2 -2.1-1.2z" fill="#17aeda" stroke="#17aeda"/>
<path d="M647.2 192.7l-3.4 .2 -16.5-3.2 -2.2-1.3z" fill="#05b6ce" stroke="#05b6ce"/>
<path d="M650.6 192.6l-3.4 .1 -22.1-4.3 -2.2-1.2z" fill="#06bcc0" stroke="#06bcc0"/>
<path d="M653.9 192.4l-3.3 .2 -27.7-5.4 -2.2-1.3z" fill="#1fc0b2" stroke="#1fc0b2"/>
<path d="M657.3 192.3l-3.4 .1 -33.2-6.5 -2.2-1.2z" fill="#2fc5a2" stroke="#2fc5a2"/>
<path d="M660.6 192.1l-3.3 .2 -38.8-7.6 -2.1-1.3z" fill="#3dc990" stroke="#3dc990"/>
<path d="M663.9 191.9l-3.3 .2 -44.2-8.7 -2.2-1.2z" fill="#55cc7c" stroke="#55cc7c"/>
<path d="M667.3 191.8l-3.4 .1 -49.7-9.7 -2.2-1.3 55.3 10.9z" fill="#71cd64" stroke="#71cd64"/>
<path d="M667.3 191.8l0 0 -55.3-10.9 -2.2-1.2 49.8 9.7z" fill="#90ca4d" stroke="#90ca4d"/>
<path d="M609.8 179.7l-2.2-1.3 44.3 8.7 7.7 2.3z" fill="#adc638" stroke="#adc638"/>
<path d="M607.6 178.4l-2.1-1.2 38.7 7.6 7.7 2.3z" fill="#c8c129" stroke="#c8c129"/>
<path d="M605.5 177.2l-2.2-1.3 33.2 6.5 7.7 2.4z" fill="#e0bc2a" stroke="#e0bc2a"/>
<path d="M603.3 175.9l-2.2-1.2 27.7 5.4 7.7 2.3z" fill="#f3ba39" stroke="#f3ba39"/>
<path d="M601.1 174.7l-2.2-1.2 22.1 4.3 7.8 2.3z" fill="#fec13a" stroke="#fec13a"/>
<path d="M598.9 173.5l-2.2-1.3 16.6 3.3 7.7 2.3z" fill="#fdcd31" stroke="#fdcd31"/>
<path d="M596.7 172.2l-2.1-1.2 11 2.1 7.7 2.4z" fill="#f7db2b" stroke="#f7db2b"/>
<path d="M594.6 171l-2.2-1.3 5.5 1.1 7.7 2.3z" fill="#f5e825" stroke="#f5e825"/>
<path d="M592.4 169.7l-2.2-1.2 7.7 2.3z" fill="#f7f51b" stroke="#f7f51b"/>
</g>
<g opacity="0.5">
<path d="M623.7 205.3l43.6-13.5 -7.7-2.4 -39.2 12.2z" fill="#90ca4d" stroke="#90ca4d"/>
<path d="M659.6 189.4l-7.7-2.3 -34.9 10.8 3.4 3.7z" fill="#adc638" stroke="#adc638"/>
<path d="M651.9 187.1l-7.7-2.3 -30.6 9.4 3.4 3.7z" fill="#c8c129" stroke="#c8c129"/>
<path d="M644.2 184.8l-7.7-2.4 -26.2 8.2 3.3 3.6z" fill="#e0bc2a" stroke="#e0bc2a"/>
<path d="M636.5 182.4l-7.7-2.3 -21.8 6.8 3.3 3.7z" fill="#f3ba39" stroke="#f3ba39"/>
<path d="M628.8 180.1l-7.8-2.3 -17.4 5.4 3.4 3.7z" fill="#fec13a" stroke="#fec13a"/>
<path d="M621 177.8l-7.7-2.3 -13 4 3.3 3.7z" fill="#fdcd31" stroke="#fdcd31"/>
<path d="M613.3 175.5l-7.7-2.4 -8.7 2.7 3.4 3.7z" fill="#f7db2b" stroke="#f7db2b"/>
<path d="M605.6 173.1l-7.7-2.3 -4.4 1.3 3.4 3.7z" fill="#f5e825" stroke="#f5e825"/>
<path d="M597.9 170.8l-7.7-2.3 3.3 3.6z" fill="#f7f51b" stroke="#f7f51b"/>
</g>
<g opacity="0.5">
<path d="M671.7 188.5l-4.4 3.3 7.7-1.5z" fill="#90ca4d" stroke="#90ca4d"/>
<path d="M676 185.2l-4.3 3.3 3.3 1.8 7.7-1.6z" fill="#adc638" stroke="#adc638"/>
<path d="M680.4 181.9l-4.4 3.3 6.7 3.5 7.7-1.5z" fill="#c8c129" stroke="#c8c129"/>
<path d="M684.7 178.7l-4.3 3.2 10 5.3 7.7-1.5z" fill="#e0bc2a" stroke="#e0bc2a"/>
<path d="M689.1 175.4l-4.4 3.3 13.4 7 7.7-1.5z" fill="#f3ba39" stroke="#f3ba39"/>
<path d="M693.5 172.1l-4.4 3.3 16.7 8.8 7.8-1.5z" fill="#fec13a" stroke="#fec13a"/>
<path d="M697.8 168.8l-4.3 3.3 20.1 10.6 7.7-1.5z" fill="#fdcd31" stroke="#fdcd31"/>
<path d="M702.2 165.6l-4.4 3.2 23.5 12.4 7.7-1.6z" fill="#f7db2b" stroke="#f7db2b"/>
<path d="M706.5 162.3l-4.3 3.3 26.8 14 7.7-1.5z" fill="#f5e825" stroke="#f5e825"/>
<path d="M744.4 176.6l-33.5-17.6 -4.4 3.3 30.2 15.8z" fill="#f7f51b" stroke="#f7f51b"/>
</g>
<g opacity="0.5">
<path d="M675 190.3l-7.7 1.5 3.3-.2z" fill="#90ca4d" stroke="#90ca4d"/>
<path d="M682.7 188.7l-7.7 1.6 -4.4 1.3 3.4-.2z" fill="#adc638" stroke="#adc638"/>
<path d="M690.4 187.2l-7.7 1.5 -8.7 2.7 3.4-.1z" fill="#c8c129" stroke="#c8c129"/>
<path d="M698.1 185.7l-7.7 1.5 -13 4.1 3.3-.2z" fill="#e0bc2a" stroke="#e0bc2a"/>
<path d="M705.8 184.2l-7.7 1.5 -17.4 5.4 3.3-.2z" fill="#f3ba39" stroke="#f3ba39"/>
<path d="M713.6 182.7l-7.8 1.5 -21.8 6.7 3.4-.1z" fill="#fec13a" stroke="#fec13a"/>
<path d="M721.3 181.2l-7.7 1.5 -26.2 8.1 3.3-.2z" fill="#fdcd31" stroke="#fdcd31"/>
<path d="M729 179.6l-7.7 1.6 -30.6 9.4 3.4-.1z" fill="#f7db2b" stroke="#f7db2b"/>
<path d="M736.7 178.1l-7.7 1.5 -34.9 10.9 3.4-.2z" fill="#f5e825" stroke="#f5e825"/>
<path d="M700.8 190.1l43.6-13.5 -7.7 1.5 -39.2 12.2z" fill="#f7f51b" stroke="#f7f51b"/>
</g>
<g opacity="0.5">
<path d="M791.3 182.1l-3.3 .2 -4.4-.6z" fill="#90ca4d" stroke="#90ca4d"/>
<path d="M794.7 182l-3.4 .1 -7.7-.4 -4.3-.5z" fill="#adc638" stroke="#adc638"/>
<path d="M798.1 181.8l-3.4 .2 -15.4-.8 -4.4-.6z" fill="#c8c129" stroke="#c8c129"/>
<path d="M801.4 181.6l-3.3 .2 -23.2-1.2 -4.3-.6z" fill="#e0bc2a" stroke="#e0bc2a"/>
<path d="M804.8 181.5l-3.4 .1 -30.8-1.6 -4.4-.6z" fill="#f3ba39" stroke="#f3ba39"/>
<path d="M808.1 181.3l-3.3 .2 -38.6-2.1 -4.4-.5z" fill="#fec13a" stroke="#fec13a"/>
<path d="M811.4 181.2l-3.3 .1 -46.3-2.4 -4.3-.6z" fill="#fdcd31" stroke="#fdcd31"/>
<path d="M814.8 181l-3.4 .2 -53.9-2.9 -4.4-.6z" fill="#f7db2b" stroke="#f7db2b"/>
<path d="M818.2 180.8l-3.4 .2 -61.7-3.3 -4.3-.5z" fill="#f5e825" stroke="#f5e825"/>
<path d="M821.5 180.7l-3.3 .1 -69.4-3.6 -4.4-.6z" fill="#f7f51b" stroke="#f7f51b"/>
</g>
<path d="M777.9 194.2l43.6-13.5 -77.1-4.1z" fill="#f9fb15" fill-opacity="0.5" stroke="none"/>
<g opacity="0.5">
<path d="M898.6 223.2l-3.4-3.7 -.5 1.6z" fill="#259ce7" stroke="#259ce7"/>
<path d="M895.2 219.5l-3.3-3.7 -1 3.1 3.8 2.2z" fill="#1fa5e2" stroke="#1fa5e2"/>
<path d="M891.9 215.8l-3.3-3.6 -1.6 4.6 3.9 2.1z" fill="#17aeda" stroke="#17aeda"/>
<path d="M888.6 212.2l-3.4-3.7 -2 6.2 3.8 2.1z" fill="#05b6ce" stroke="#05b6ce"/>
<path d="M885.2 208.5l-3.4-3.7 -2.5 7.8 3.9 2.1z" fill="#06bcc0" stroke="#06bcc0"/>
<path d="M881.8 204.8l-3.3-3.7 -3 9.3 3.8 2.2z" fill="#1fc0b2" stroke="#1fc0b2"/>
<path d="M878.5 201.1l-3.4-3.7 -3.5 10.9 3.9 2.1z" fill="#2fc5a2" stroke="#2fc5a2"/>
<path d="M875.1 197.4l-3.3-3.7 -4 12.5 3.8 2.1z" fill="#3dc990" stroke="#3dc990"/>
<path d="M871.8 193.7l-3.3-3.6 -4.6 14 3.9 2.1z" fill="#55cc7c" stroke="#55cc7c"/>
<path d="M868.5 190.1l-3.4-3.7 0 0 -5.1 15.5 3.9 2.2z" fill="#71cd64" stroke="#71cd64"/>
<path d="M865.1 186.4l0 0 -4.4-.6 -4.5 14 3.8 2.1z" fill="#90ca4d" stroke="#90ca4d"/>
<path d="M860.7 185.8l-4.3-.6 -4.1 12.5 3.9 2.1z" fill="#adc638" stroke="#adc638"/>
<path d="M856.4 185.2l-4.4-.5 -3.5 10.9 3.8 2.1z" fill="#c8c129" stroke="#c8c129"/>
<path d="M852 184.7l-4.3-.6 -3.1 9.3 3.9 2.2z" fill="#e0bc2a" stroke="#e0bc2a"/>
<path d="M847.7 184.1l-4.4-.6 -2.5 7.8 3.8 2.1z" fill="#f3ba39" stroke="#f3ba39"/>
<path d="M843.3 183.5l-4.4-.6 -2 6.3 3.9 2.1z" fill="#fec13a" stroke="#fec13a"/>
<path d="M838.9 182.9l-4.3-.5 -1.5 4.6 3.8 2.2z" fill="#fdcd31" stroke="#fdcd31"/>
<path d="M834.6 182.4l-4.4-.6 -1 3.1 3.9 2.1z" fill="#f7db2b" stroke="#f7db2b"/>
<path d="M830.2 181.8l-4.3-.6 -.5 1.6 3.8 2.1z" fill="#f5e825" stroke="#f5e825"/>
<path d="M825.9 181.2l-4.4-.5 3.9 2.1z" fill="#f7f51b" stroke="#f7f51b"/>
</g>
<g opacity="0.5">
<path d="M896.4 222l2.2 1.2 -3.9-2.1z" fill="#259ce7" stroke="#259ce7"/>
<path d="M894.2 220.7l2.2 1.3 -1.7-.9 -3.8-2.2z" fill="#1fa5e2" stroke="#1fa5e2"/>
<path d="M892.1 219.5l2.1 1.2 -3.3-1.8 -3.9-2.1z" fill="#17aeda" stroke="#17aeda"/>
<path d="M889.9 218.2l2.2 1.3 -5.1-2.7 -3.8-2.1z" fill="#05b6ce" stroke="#05b6ce"/>
<path d="M887.7 217l2.2 1.2 -6.7-3.5 -3.9-2.1z" fill="#06bcc0" stroke="#06bcc0"/>
<path d="M885.5 215.7l2.2 1.3 -8.4-4.4 -3.8-2.2z" fill="#1fc0b2" stroke="#1fc0b2"/>
<path d="M883.3 214.5l2.2 1.2 -10-5.3 -3.9-2.1z" fill="#2fc5a2" stroke="#2fc5a2"/>
<path d="M881.2 213.2l2.1 1.3 -11.7-6.2 -3.8-2.1z" fill="#3dc990" stroke="#3dc990"/>
<path d="M879 212l2.2 1.2 -13.4-7 -3.9-2.1z" fill="#55cc7c" stroke="#55cc7c"/>
<path d="M876.8 210.7l2.2 1.3 -15.1-7.9 -3.9-2.2z" fill="#71cd64" stroke="#71cd64"/>
<path d="M874.6 209.5l2.2 1.2 -16.8-8.8 -3.8-2.1z" fill="#90ca4d" stroke="#90ca4d"/>
<path d="M872.4 208.2l2.2 1.3 -18.4-9.7 -3.9-2.1z" fill="#adc638" stroke="#adc638"/>
<path d="M870.3 207l2.1 1.2 -20.1-10.5 -3.8-2.1z" fill="#c8c129" stroke="#c8c129"/>
<path d="M868.1 205.7l2.2 1.3 -21.8-11.4 -3.9-2.2z" fill="#e0bc2a" stroke="#e0bc2a"/>
<path d="M865.9 204.5l2.2 1.2 -23.5-12.3 -3.8-2.1z" fill="#f3ba39" stroke="#f3ba39"/>
<path d="M863.7 203.3l2.2 1.2 -25.1-13.2 -3.9-2.1z" fill="#fec13a" stroke="#fec13a"/>
<path d="M861.5 202l2.2 1.3 -26.8-14.1 -3.8-2.2z" fill="#fdcd31" stroke="#fdcd31"/>
<path d="M859.4 200.8l2.1 1.2 -28.4-15 -3.9-2.1z" fill="#f7db2b" stroke="#f7db2b"/>
<path d="M857.2 199.5l2.2 1.3 -30.2-15.9 -3.8-2.1z" fill="#f5e825" stroke="#f5e825"/>
<path d="M855 198.3l2.2 1.2 -31.8-16.7 -3.9-2.1z" fill="#f7f51b" stroke="#f7f51b"/>
</g>
<g opacity="0.5">
<path d="M900.8 220.6l-2.2 2.6 3.9-1.7z" fill="#259ce7" stroke="#259ce7"/>
<path d="M903 218l-2.2 2.6 1.7 .9 3.8-1.7z" fill="#1fa5e2" stroke="#1fa5e2"/>
<path d="M905.1 215.4l-2.1 2.6 3.3 1.8 3.9-1.8z" fill="#17aeda" stroke="#17aeda"/>
<path d="M907.3 212.8l-2.2 2.6 5.1 2.6 3.8-1.7z" fill="#05b6ce" stroke="#05b6ce"/>
<path d="M909.5 210.2l-2.2 2.6 6.7 3.5 3.9-1.7z" fill="#06bcc0" stroke="#06bcc0"/>
<path d="M911.7 207.6l-2.2 2.6 8.4 4.4 3.8-1.7z" fill="#1fc0b2" stroke="#1fc0b2"/>
<path d="M913.9 205l-2.2 2.6 10 5.3 3.9-1.7z" fill="#2fc5a2" stroke="#2fc5a2"/>
<path d="M916 202.4l-2.1 2.6 11.7 6.2 3.8-1.8z" fill="#3dc990" stroke="#3dc990"/>
<path d="M918.2 199.8l-2.2 2.6 13.4 7 3.9-1.7z" fill="#55cc7c" stroke="#55cc7c"/>
<path d="M920.4 197.2l-2.2 2.6 15.1 7.9 3.9-1.7z" fill="#71cd64" stroke="#71cd64"/>
<path d="M922.6 194.6l-2.2 2.6 16.8 8.8 3.8-1.7z" fill="#90ca4d" stroke="#90ca4d"/>
<path d="M924.8 192l-2.2 2.6 18.4 9.7 3.9-1.7z" fill="#adc638" stroke="#adc638"/>
<path d="M926.9 189.4l-2.1 2.6 20.1 10.6 3.8-1.8z" fill="#c8c129" stroke="#c8c129"/>
<path d="M929.1 186.8l-2.2 2.6 21.8 11.4 3.9-1.7z" fill="#e0bc2a" stroke="#e0bc2a"/>
<path d="M931.3 184.2l-2.2 2.6 23.5 12.3 3.8-1.7z" fill="#f3ba39" stroke="#f3ba39"/>
<path d="M933.5 181.6l-2.2 2.6 25.1 13.2 3.9-1.7z" fill="#fec13a" stroke="#fec13a"/>
<path d="M935.7 179l-2.2 2.6 26.8 14.1 3.8-1.7z" fill="#fdcd31" stroke="#fdcd31"/>
<path d="M937.8 176.4l-2.1 2.6 28.4 15 3.9-1.8z" fill="#f7db2b" stroke="#f7db2b"/>
<path d="M940 173.8l-2.2 2.6 30.2 15.8 3.8-1.7z" fill="#f5e825" stroke="#f5e825"/>
<path d="M975.7 188.8l-33.5-17.6 -2.2 2.6 31.8 16.7z" fill="#f7f51b" stroke="#f7f51b"/>
</g>
<g opacity="0.5">
<path d="M902.5 221.5l-3.9 1.7 1.7-1z" fill="#259ce7" stroke="#259ce7"/>
<path d="M906.3 219.8l-3.8 1.7 -2.2 .7 1.7-1.1z" fill="#1fa5e2" stroke="#1fa5e2"/>
<path d="M910.2 218l-3.9 1.8 -4.3 1.3 1.6-1z" fill="#17aeda" stroke="#17aeda"/>
<path d="M914 216.3l-3.8 1.7 -6.6 2.1 1.7-1.1z" fill="#05b6ce" stroke="#05b6ce"/>
<path d="M917.9 214.6l-3.9 1.7 -8.7 2.7 1.7-1z" fill="#06bcc0" stroke="#06bcc0"/>
<path d="M921.7 212.9l-3.8 1.7 -10.9 3.4 1.7-1.1z" fill="#1fc0b2" stroke="#1fc0b2"/>
<path d="M925.6 211.2l-3.9 1.7 -13.1 4 1.7-1z" fill="#2fc5a2" stroke="#2fc5a2"/>
<path d="M929.4 209.4l-3.8 1.8 -15.3 4.7 1.7-1z" fill="#3dc990" stroke="#3dc990"/>
<path d="M933.3 207.7l-3.9 1.7 -17.4 5.5 1.7-1.1z" fill="#55cc7c" stroke="#55cc7c"/>
<path d="M937.2 206l-3.9 1.7 -19.6 6.1 1.7-1z" fill="#71cd64" stroke="#71cd64"/>
<path d="M941 204.3l-3.8 1.7 -21.8 6.8 1.6-1.1z" fill="#90ca4d" stroke="#90ca4d"/>
<path d="M944.9 202.6l-3.9 1.7 -24 7.4 1.7-1z" fill="#adc638" stroke="#adc638"/>
<path d="M948.7 200.8l-3.8 1.8 -26.2 8.1 1.7-1.1z" fill="#c8c129" stroke="#c8c129"/>
<path d="M952.6 199.1l-3.9 1.7 -28.3 8.8 1.6-1z" fill="#e0bc2a" stroke="#e0bc2a"/>
<path d="M956.4 197.4l-3.8 1.7 -30.6 9.5 1.7-1.1z" fill="#f3ba39" stroke="#f3ba39"/>
<path d="M960.3 195.7l-3.9 1.7 -32.7 10.1 1.7-1z" fill="#fec13a" stroke="#fec13a"/>
<path d="M964.1 194l-3.8 1.7 -34.9 10.8 1.7-1z" fill="#fdcd31" stroke="#fdcd31"/>
<path d="M968 192.2l-3.9 1.8 -37 11.5 1.7-1.1z" fill="#f7db2b" stroke="#f7db2b"/>
<path d="M971.8 190.5l-3.8 1.7 -39.2 12.2 1.6-1z" fill="#f5e825" stroke="#f5e825"/>
<path d="M932.1 202.3l43.6-13.5 -3.9 1.7 -41.4 12.9z" fill="#f7f51b" stroke="#f7f51b"/>
</g>
<g opacity="0.5">
<path d="M1129.9 216.2l-3.3-3.7 -4.4 1.3z" fill="#90ca4d" stroke="#90ca4d"/>
<path d="M1126.6 212.5l-3.4-3.7 -8.7 2.7 7.7 2.3z" fill="#adc638" stroke="#adc638"/>
<path d="M1123.2 208.8l-3.4-3.7 -13 4.1 7.7 2.3z" fill="#c8c129" stroke="#c8c129"/>
<path d="M1119.8 205.1l-3.3-3.7 -17.4 5.4 7.7 2.4z" fill="#e0bc2a" stroke="#e0bc2a"/>
<path d="M1116.5 201.4l-3.3-3.7 -21.8 6.8 7.7 2.3z" fill="#f3ba39" stroke="#f3ba39"/>
<path d="M1113.2 197.7l-3.4-3.6 -26.2 8.1 7.8 2.3z" fill="#fec13a" stroke="#fec13a"/>
<path d="M1109.8 194.1l-3.3-3.7 -30.6 9.5 7.7 2.3z" fill="#fdcd31" stroke="#fdcd31"/>
<path d="M1106.5 190.4l-3.4-3.7 -34.9 10.8 7.7 2.4z" fill="#f7db2b" stroke="#f7db2b"/>
<path d="M1103.1 186.7l-3.4-3.7 -39.2 12.2 7.7 2.3z" fill="#f5e825" stroke="#f5e825"/>
<path d="M1099.7 183l-3.3-3.7 -43.6 13.6 7.7 2.3z" fill="#f7f51b" stroke="#f7f51b"/>
</g>
<g opacity="0.5">
<path d="M1125.5 215.6l4.4 .6 -7.7-2.4z" fill="#90ca4d" stroke="#90ca4d"/>
<path d="M1121.2 215l4.3 .6 -3.3-1.8 -7.7-2.3z" fill="#adc638" stroke="#adc638"/>
<path d="M1116.8 214.5l4.4 .5 -6.7-3.5 -7.7-2.3z" fill="#c8c129" stroke="#c8c129"/>
<path d="M1112.5 213.9l4.3 .6 -10-5.3 -7.7-2.4z" fill="#e0bc2a" stroke="#e0bc2a"/>
<path d="M1108.1 213.3l4.4 .6 -13.4-7.1 -7.7-2.3z" fill="#f3ba39" stroke="#f3ba39"/>
<path d="M1103.7 212.7l4.4 .6 -16.7-8.8 -7.8-2.3z" fill="#fec13a" stroke="#fec13a"/>
<path d="M1099.4 212.2l4.3 .5 -20.1-10.5 -7.7-2.3z" fill="#fdcd31" stroke="#fdcd31"/>
<path d="M1095 211.6l4.4 .6 -23.5-12.3 -7.7-2.4z" fill="#f7db2b" stroke="#f7db2b"/>
<path d="M1090.7 211l4.3 .6 -26.8-14.1 -7.7-2.3z" fill="#f5e825" stroke="#f5e825"/>
<path d="M1086.3 210.5l4.4 .5 -30.2-15.8 -7.7-2.3z" fill="#f7f51b" stroke="#f7f51b"/>
</g>
<g opacity="0.5">
<path d="M1134.3 212.9l-4.4 3.3 7.7-1.5z" fill="#90ca4d" stroke="#90ca4d"/>
<path d="M1138.6 209.6l-4.3 3.3 3.3 1.8 7.7-1.6z" fill="#adc638" stroke="#adc638"/>
<path d="M1143 206.3l-4.4 3.3 6.7 3.5 7.7-1.5z" fill="#c8c129" stroke="#c8c129"/>
<path d="M1147.3 203.1l-4.3 3.2 10 5.3 7.7-1.5z" fill="#e0bc2a" stroke="#e0bc2a"/>
<path d="M1151.7 199.8l-4.4 3.3 13.4 7 7.7-1.5z" fill="#f3ba39" stroke="#f3ba39"/>
<path d="M1156.1 196.5l-4.4 3.3 16.7 8.8 7.8-1.5z" fill="#fec13a" stroke="#fec13a"/>
<path d="M1160.4 193.2l-4.3 3.3 20.1 10.6 7.7-1.5z" fill="#fdcd31" stroke="#fdcd31"/>
<path d="M1164.8 190l-4.4 3.2 23.5 12.4 7.7-1.6z" fill="#f7db2b" stroke="#f7db2b"/>
<path d="M1169.1 186.7l-4.3 3.3 26.8 14 7.7-1.5z" fill="#f5e825" stroke="#f5e825"/>
<path d="M1207 201l-33.5-17.6 -4.4 3.3 30.2 15.8z" fill="#f7f51b" stroke="#f7f51b"/>
</g>
<g opacity="0.5">
<path d="M1137.6 214.7l-7.7 1.5 3.3-.2z" fill="#90ca4d" stroke="#90ca4d"/>
<path d="M1145.3 213.1l-7.7 1.6 -4.4 1.3 3.4-.2z" fill="#adc638" stroke="#adc638"/>
<path d="M1153 211.6l-7.7 1.5 -8.7 2.7 3.4-.1z" fill="#c8c129" stroke="#c8c129"/>
<path d="M1160.7 210.1l-7.7 1.5 -13 4.1 3.3-.2z" fill="#e0bc2a" stroke="#e0bc2a"/>
<path d="M1168.4 208.6l-7.7 1.5 -17.4 5.4 3.3-.2z" fill="#f3ba39" stroke="#f3ba39"/>
<path d="M1176.2 207.1l-7.8 1.5 -21.8 6.7 3.4-.1z" fill="#fec13a" stroke="#fec13a"/>
<path d="M1183.9 205.6l-7.7 1.5 -26.2 8.1 3.3-.2z" fill="#fdcd31" stroke="#fdcd31"/>
<path d="M1191.6 204l-7.7 1.6 -30.6 9.4 3.4-.1z" fill="#f7db2b" stroke="#f7db2b"/>
<path d="M1199.3 202.5l-7.7 1.5 -34.9 10.9 3.4-.2z" fill="#f5e825" stroke="#f5e825"/>
<path d="M1163.4 214.5l43.6-13.5 -7.7 1.5 -39.2 12.2z" fill="#f7f51b" stroke="#f7f51b"/>
</g>
<g opacity="0.5">
<path d="M437.7 197.8l-1.7 1 -2.2-1.2z" fill="#259ce7" stroke="#259ce7"/>
<path d="M439.4 196.7l-1.7 1.1 -3.9-.2 -2.2-1.3z" fill="#1fa5e2" stroke="#1fa5e2"/>
<path d="M441 195.7l-1.6 1 -7.8-.4 -2.1-1.2z" fill="#17aeda" stroke="#17aeda"/>
<path d="M442.7 194.6l-1.7 1.1 -11.5-.6 -2.2-1.3z" fill="#05b6ce" stroke="#05b6ce"/>
<path d="M444.4 193.6l-1.7 1 -15.4-.8 -2.2-1.2z" fill="#06bcc0" stroke="#06bcc0"/>
<path d="M446.1 192.5l-1.7 1.1 -19.3-1 -2.2-1.3z" fill="#1fc0b2" stroke="#1fc0b2"/>
<path d="M447.7 191.5l-1.6 1 -23.2-1.2 -2.2-1.2z" fill="#2fc5a2" stroke="#2fc5a2"/>
<path d="M449.4 190.5l-1.7 1 -27-1.4 -2.1-1.3z" fill="#3dc990" stroke="#3dc990"/>
<path d="M451.1 189.4l-1.7 1.1 -30.8-1.7 -2.2-1.2z" fill="#55cc7c" stroke="#55cc7c"/>
<path d="M452.8 188.4l-1.7 1 -34.7-1.8 -2.2-1.3z" fill="#71cd64" stroke="#71cd64"/>
<path d="M454.4 187.3l-1.6 1.1 -38.6-2.1 -2.2-1.2z" fill="#90ca4d" stroke="#90ca4d"/>
<path d="M456.1 186.3l-1.7 1 -42.4-2.2 -2.2-1.3z" fill="#adc638" stroke="#adc638"/>
<path d="M457.8 185.2l-1.7 1.1 -46.3-2.5 -2.1-1.2z" fill="#c8c129" stroke="#c8c129"/>
<path d="M459.4 184.2l-1.6 1 -50.1-2.6 -2.2-1.3z" fill="#e0bc2a" stroke="#e0bc2a"/>
<path d="M461.1 183.1l-1.7 1.1 -53.9-2.9 -2.2-1.2z" fill="#f3ba39" stroke="#f3ba39"/>
<path d="M462.8 182.1l-1.7 1 -57.8-3 -2.2-1.2z" fill="#fec13a" stroke="#fec13a"/>
<path d="M464.5 181.1l-1.7 1 -61.7-3.2 -2.2-1.3z" fill="#fdcd31" stroke="#fdcd31"/>
<path d="M466.2 180l-1.7 1.1 -65.6-3.5 -2.1-1.2z" fill="#f7db2b" stroke="#f7db2b"/>
<path d="M467.8 179l-1.6 1 -69.4-3.6 -2.2-1.3z" fill="#f5e825" stroke="#f5e825"/>
<path d="M469.5 177.9l-1.7 1.1 -73.2-3.9 -2.2-1.2z" fill="#f7f51b" stroke="#f7f51b"/>
</g>
<g opacity="0.5">
<path d="M425.9 210.7l4.4-3.3 -7.7-.4z" fill="#90ca4d" stroke="#90ca4d"/>
<path d="M430.3 207.4l4.3-3.3 -15.4-.8 3.4 3.7z" fill="#adc638" stroke="#adc638"/>
<path d="M434.6 204.1l4.4-3.2 -23.2-1.3 3.4 3.7z" fill="#c8c129" stroke="#c8c129"/>
<path d="M439 200.9l4.3-3.3 -30.8-1.6 3.3 3.6z" fill="#e0bc2a" stroke="#e0bc2a"/>
<path d="M443.3 197.6l4.4-3.3 -38.5-2 3.3 3.7z" fill="#f3ba39" stroke="#f3ba39"/>
<path d="M447.7 194.3l4.4-3.3 -46.3-2.4 3.4 3.7z" fill="#fec13a" stroke="#fec13a"/>
<path d="M452.1 191l4.3-3.2 -53.9-2.9 3.3 3.7z" fill="#fdcd31" stroke="#fdcd31"/>
<path d="M456.4 187.8l4.4-3.3 -61.7-3.3 3.4 3.7z" fill="#f7db2b" stroke="#f7db2b"/>
<path d="M460.8 184.5l4.3-3.3 -69.4-3.7 3.4 3.7z" fill="#f5e825" stroke="#f5e825"/>
<path d="M465.1 181.2l4.4-3.3 -77.1-4 3.3 3.6z" fill="#f7f51b" stroke="#f7f51b"/>
</g>
<g opacity="0.5">
<path d="M546.6 220.5l-1.7-2.8 -2.2 .6z" fill="#259ce7" stroke="#259ce7"/>
<path d="M544.9 217.7l-1.7-2.8 -4.3 1.3 3.8 2.1z" fill="#1fa5e2" stroke="#1fa5e2"/>
<path d="M543.2 214.9l-1.6-2.8 -6.6 2 3.9 2.1z" fill="#17aeda" stroke="#17aeda"/>
<path d="M541.6 212.1l-1.7-2.8 -8.7 2.7 3.8 2.1z" fill="#05b6ce" stroke="#05b6ce"/>
<path d="M539.9 209.3l-1.7-2.9 -10.9 3.4 3.9 2.2z" fill="#06bcc0" stroke="#06bcc0"/>
<path d="M538.2 206.4l-1.7-2.8 -13 4.1 3.8 2.1z" fill="#1fc0b2" stroke="#1fc0b2"/>
<path d="M536.5 203.6l-1.6-2.8 -15.3 4.8 3.9 2.1z" fill="#2fc5a2" stroke="#2fc5a2"/>
<path d="M534.9 200.8l-1.7-2.8 -17.4 5.5 3.8 2.1z" fill="#3dc990" stroke="#3dc990"/>
<path d="M533.2 198l-1.7-2.8 -19.6 6.1 3.9 2.2z" fill="#55cc7c" stroke="#55cc7c"/>
<path d="M531.5 195.2l-1.7-2.8 -21.8 6.8 3.9 2.1z" fill="#71cd64" stroke="#71cd64"/>
<path d="M529.8 192.4l-1.6-2.8 -24 7.5 3.8 2.1z" fill="#90ca4d" stroke="#90ca4d"/>
<path d="M528.2 189.6l-1.7-2.8 -26.2 8.1 3.9 2.2z" fill="#adc638" stroke="#adc638"/>
<path d="M526.5 186.8l-1.7-2.8 -28.3 8.8 3.8 2.1z" fill="#c8c129" stroke="#c8c129"/>
<path d="M524.8 184l-1.6-2.8 -30.6 9.5 3.9 2.1z" fill="#e0bc2a" stroke="#e0bc2a"/>
<path d="M523.2 181.2l-1.7-2.8 -32.7 10.2 3.8 2.1z" fill="#f3ba39" stroke="#f3ba39"/>
<path d="M521.5 178.4l-1.7-2.8 -34.9 10.8 3.9 2.2z" fill="#fec13a" stroke="#fec13a"/>
<path d="M519.8 175.6l-1.7-2.8 -37 11.5 3.8 2.1z" fill="#fdcd31" stroke="#fdcd31"/>
<path d="M518.1 172.8l-1.7-2.8 -39.2 12.2 3.9 2.1z" fill="#f7db2b" stroke="#f7db2b"/>
<path d="M516.4 170l-1.6-2.8 -41.4 12.9 3.8 2.1z" fill="#f5e825" stroke="#f5e825"/>
<path d="M514.8 167.2l-1.7-2.8 -43.6 13.5 3.9 2.2z" fill="#f7f51b" stroke="#f7f51b"/>
</g>
<g opacity="0.5">
<path d="M544.4 219.2l2.2 1.3 -3.9-2.2z" fill="#259ce7" stroke="#259ce7"/>
<path d="M542.2 218l2.2 1.2 -1.7-.9 -3.8-2.1z" fill="#1fa5e2" stroke="#1fa5e2"/>
<path d="M540.1 216.7l2.1 1.3 -3.3-1.8 -3.9-2.1z" fill="#17aeda" stroke="#17aeda"/>
<path d="M537.9 215.5l2.2 1.2 -5.1-2.6 -3.8-2.1z" fill="#05b6ce" stroke="#05b6ce"/>
<path d="M535.7 214.2l2.2 1.3 -6.7-3.5 -3.9-2.2z" fill="#06bcc0" stroke="#06bcc0"/>
<path d="M533.5 213l2.2 1.2 -8.4-4.4 -3.8-2.1z" fill="#1fc0b2" stroke="#1fc0b2"/>
<path d="M531.3 211.7l2.2 1.3 -10-5.3 -3.9-2.1z" fill="#2fc5a2" stroke="#2fc5a2"/>
<path d="M529.2 210.5l2.1 1.2 -11.7-6.1 -3.8-2.1z" fill="#3dc990" stroke="#3dc990"/>
<path d="M527 209.2l2.2 1.3 -13.4-7 -3.9-2.2z" fill="#55cc7c" stroke="#55cc7c"/>
<path d="M524.8 208l2.2 1.2 -15.1-7.9 -3.9-2.1z" fill="#71cd64" stroke="#71cd64"/>
<path d="M522.6 206.8l2.2 1.2 -16.8-8.8 -3.8-2.1z" fill="#90ca4d" stroke="#90ca4d"/>
<path d="M520.4 205.5l2.2 1.3 -18.4-9.7 -3.9-2.2z" fill="#adc638" stroke="#adc638"/>
<path d="M518.3 204.3l2.1 1.2 -20.1-10.6 -3.8-2.1z" fill="#c8c129" stroke="#c8c129"/>
<path d="M516.1 203l2.2 1.3 -21.8-11.5 -3.9-2.1z" fill="#e0bc2a" stroke="#e0bc2a"/>
<path d="M513.9 201.8l2.2 1.2 -23.5-12.3 -3.8-2.1z" fill="#f3ba39" stroke="#f3ba39"/>
<path d="M511.7 200.5l2.2 1.3 -25.1-13.2 -3.9-2.2z" fill="#fec13a" stroke="#fec13a"/>
<path d="M509.5 199.3l2.2 1.2 -26.8-14.1 -3.8-2.1z" fill="#fdcd31" stroke="#fdcd31"/>
<path d="M507.4 198l2.1 1.3 -28.4-15 -3.9-2.1z" fill="#f7db2b" stroke="#f7db2b"/>
<path d="M505.2 196.8l2.2 1.2 -30.2-15.8 -3.8-2.1z" fill="#f5e825" stroke="#f5e825"/>
<path d="M503 195.5l2.2 1.3 -31.8-16.7 -3.9-2.2z" fill="#f7f51b" stroke="#f7f51b"/>
</g>
<g opacity="0.5">
<path d="M548.8 217.9l-2.2 2.6 7.7-1.6z" fill="#259ce7" stroke="#259ce7"/>
<path d="M551 215.3l-2.2 2.6 5.5 1 7.7-1.5z" fill="#1fa5e2" stroke="#1fa5e2"/>
<path d="M553.1 212.7l-2.1 2.6 11 2.1 7.7-1.5z" fill="#17aeda" stroke="#17aeda"/>
<path d="M555.3 210.1l-2.2 2.6 16.6 3.2 7.7-1.5z" fill="#05b6ce" stroke="#05b6ce"/>
<path d="M557.5 207.5l-2.2 2.6 22.1 4.3 7.8-1.5z" fill="#06bcc0" stroke="#06bcc0"/>
<path d="M559.7 204.9l-2.2 2.6 27.7 5.4 7.7-1.5z" fill="#1fc0b2" stroke="#1fc0b2"/>
<path d="M561.9 202.3l-2.2 2.6 33.2 6.5 7.7-1.6z" fill="#2fc5a2" stroke="#2fc5a2"/>
<path d="M564 199.7l-2.1 2.6 38.7 7.5 7.7-1.5z" fill="#3dc990" stroke="#3dc990"/>
<path d="M566.2 197.1l-2.2 2.6 44.3 8.6 7.7-1.5z" fill="#55cc7c" stroke="#55cc7c"/>
<path d="M623.7 205.3l0 0 -55.3-10.8 -2.2 2.6 49.8 9.7z" fill="#71cd64" stroke="#71cd64"/>
<path d="M623.7 205.3l-3.3-3.7 -49.8-9.7 -2.2 2.6 55.3 10.8z" fill="#90ca4d" stroke="#90ca4d"/>
<path d="M620.4 201.6l-3.4-3.7 -44.2-8.6 -2.2 2.6z" fill="#adc638" stroke="#adc638"/>
<path d="M617 197.9l-3.4-3.7 -38.7-7.5 -2.1 2.6z" fill="#c8c129" stroke="#c8c129"/>
<path d="M613.6 194.2l-3.3-3.6 -33.2-6.5 -2.2 2.6z" fill="#e0bc2a" stroke="#e0bc2a"/>
<path d="M610.3 190.6l-3.3-3.7 -27.7-5.4 -2.2 2.6z" fill="#f3ba39" stroke="#f3ba39"/>
<path d="M607 186.9l-3.4-3.7 -22.1-4.3 -2.2 2.6z" fill="#fec13a" stroke="#fec13a"/>
<path d="M603.6 183.2l-3.3-3.7 -16.6-3.2 -2.2 2.6z" fill="#fdcd31" stroke="#fdcd31"/>
<path d="M600.3 179.5l-3.4-3.7 -11.1-2.1 -2.1 2.6z" fill="#f7db2b" stroke="#f7db2b"/>
<path d="M596.9 175.8l-3.4-3.7 -5.5-1 -2.2 2.6z" fill="#f5e825" stroke="#f5e825"/>
<path d="M593.5 172.1l-3.3-3.6 -2.2 2.6z" fill="#f7f51b" stroke="#f7f51b"/>
</g>
<g opacity="0.5">
<path d="M554.3 218.9l-7.7 1.6 1.7-1.1z" fill="#259ce7" stroke="#259ce7"/>
<path d="M562 217.4l-7.7 1.5 -6 .5 1.7-1z" fill="#1fa5e2" stroke="#1fa5e2"/>
<path d="M569.7 215.9l-7.7 1.5 -12 1 1.6-1.1z" fill="#17aeda" stroke="#17aeda"/>
<path d="M577.4 214.4l-7.7 1.5 -18.1 1.4 1.7-1z" fill="#05b6ce" stroke="#05b6ce"/>
<path d="M585.2 212.9l-7.8 1.5 -24.1 1.9 1.7-1.1z" fill="#06bcc0" stroke="#06bcc0"/>
<path d="M592.9 211.4l-7.7 1.5 -30.2 2.3 1.7-1z" fill="#1fc0b2" stroke="#1fc0b2"/>
<path d="M600.6 209.8l-7.7 1.6 -36.2 2.8 1.6-1z" fill="#2fc5a2" stroke="#2fc5a2"/>
<path d="M608.3 208.3l-7.7 1.5 -42.3 3.4 1.7-1.1z" fill="#3dc990" stroke="#3dc990"/>
<path d="M616 206.8l-7.7 1.5 -48.3 3.8 1.7-1z" fill="#55cc7c" stroke="#55cc7c"/>
<path d="M623.7 205.3l0 0 -7.7 1.5 -54.3 4.3 1.7-1.1z" fill="#71cd64" stroke="#71cd64"/>
<path d="M619.3 204.7l4.4 .6 0 0 -60.3 4.7 1.6-1z" fill="#90ca4d" stroke="#90ca4d"/>
<path d="M615 204.2l4.3 .5 -54.3 4.3 1.7-1.1z" fill="#adc638" stroke="#adc638"/>
<path d="M610.6 203.6l4.4 .6 -48.3 3.7 1.7-1z" fill="#c8c129" stroke="#c8c129"/>
<path d="M606.3 203l4.3 .6 -42.2 3.3 1.6-1z" fill="#e0bc2a" stroke="#e0bc2a"/>
<path d="M601.9 202.4l4.4 .6 -36.3 2.9 1.7-1.1z" fill="#f3ba39" stroke="#f3ba39"/>
<path d="M597.5 201.9l4.4 .5 -30.2 2.4 1.7-1z" fill="#fec13a" stroke="#fec13a"/>
<path d="M593.2 201.3l4.3 .6 -24.1 1.9 1.7-1.1z" fill="#fdcd31" stroke="#fdcd31"/>
<path d="M588.8 200.7l4.4 .6 -18.1 1.4 1.7-1z" fill="#f7db2b" stroke="#f7db2b"/>
<path d="M584.5 200.2l4.3 .5 -12 1 1.6-1.1z" fill="#f5e825" stroke="#f5e825"/>
<path d="M580.1 199.6l4.4 .6 -6.1 .4z" fill="#f7f51b" stroke="#f7f51b"/>
</g>
<g opacity="0.5">
<path d="M670.6 191.6l-3.3 .2 -43.6 13.5 7.7-1.5z" fill="#90ca4d" stroke="#90ca4d"/>
<path d="M674 191.4l-3.4 .2 -39.2 12.2 7.7-1.5z" fill="#adc638" stroke="#adc638"/>
<path d="M677.4 191.3l-3.4 .1 -34.9 10.9 7.7-1.6z" fill="#c8c129" stroke="#c8c129"/>
<path d="M680.7 191.1l-3.3 .2 -30.6 9.4 7.7-1.5z" fill="#e0bc2a" stroke="#e0bc2a"/>
<path d="M684 190.9l-3.3 .2 -26.2 8.1 7.7-1.5z" fill="#f3ba39" stroke="#f3ba39"/>
<path d="M687.4 190.8l-3.4 .1 -21.8 6.8 7.8-1.5z" fill="#fec13a" stroke="#fec13a"/>
<path d="M690.7 190.6l-3.3 .2 -17.4 5.4 7.7-1.5z" fill="#fdcd31" stroke="#fdcd31"/>
<path d="M694.1 190.5l-3.4 .1 -13 4.1 7.7-1.5z" fill="#f7db2b" stroke="#f7db2b"/>
<path d="M697.5 190.3l-3.4 .2 -8.7 2.7 7.7-1.6z" fill="#f5e825" stroke="#f5e825"/>
<path d="M700.8 190.1l-3.3 .2 -4.4 1.3z" fill="#f7f51b" stroke="#f7f51b"/>
</g>
<g opacity="0.5">
<path d="M657.2 222.9l4.4-3.3 -30.2-15.8 -7.7 1.5z" fill="#90ca4d" stroke="#90ca4d"/>
<path d="M661.6 219.6l4.3-3.3 -26.8-14 -7.7 1.5z" fill="#adc638" stroke="#adc638"/>
<path d="M665.9 216.3l4.4-3.2 -23.5-12.4 -7.7 1.6z" fill="#c8c129" stroke="#c8c129"/>
<path d="M670.3 213.1l4.3-3.3 -20.1-10.6 -7.7 1.5z" fill="#e0bc2a" stroke="#e0bc2a"/>
<path d="M674.6 209.8l4.4-3.3 -16.8-8.8 -7.7 1.5z" fill="#f3ba39" stroke="#f3ba39"/>
<path d="M679 206.5l4.4-3.3 -13.4-7 -7.8 1.5z" fill="#fec13a" stroke="#fec13a"/>
<path d="M683.4 203.2l4.3-3.2 -10-5.3 -7.7 1.5z" fill="#fdcd31" stroke="#fdcd31"/>
<path d="M687.7 200l4.4-3.3 -6.7-3.5 -7.7 1.5z" fill="#f7db2b" stroke="#f7db2b"/>
<path d="M692.1 196.7l4.3-3.3 -3.3-1.8 -7.7 1.6z" fill="#f5e825" stroke="#f5e825"/>
<path d="M696.4 193.4l4.4-3.3 -7.7 1.5z" fill="#f7f51b" stroke="#f7f51b"/>
</g>
<g opacity="0.5">
<path d="M900.3 222.2l-1.7 1 -2.2-1.2z" fill="#259ce7" stroke="#259ce7"/>
<path d="M902 221.1l-1.7 1.1 -3.9-.2 -2.2-1.3z" fill="#1fa5e2" stroke="#1fa5e2"/>
<path d="M903.6 220.1l-1.6 1 -7.8-.4 -2.1-1.2z" fill="#17aeda" stroke="#17aeda"/>
<path d="M905.3 219l-1.7 1.1 -11.5-.6 -2.2-1.3z" fill="#05b6ce" stroke="#05b6ce"/>
<path d="M907 218l-1.7 1 -15.4-.8 -2.2-1.2z" fill="#06bcc0" stroke="#06bcc0"/>
<path d="M908.7 216.9l-1.7 1.1 -19.3-1 -2.2-1.3z" fill="#1fc0b2" stroke="#1fc0b2"/>
<path d="M910.3 215.9l-1.7 1 -23.1-1.2 -2.2-1.2z" fill="#2fc5a2" stroke="#2fc5a2"/>
<path d="M912 214.9l-1.7 1 -27-1.4 -2.1-1.3z" fill="#3dc990" stroke="#3dc990"/>
<path d="M913.7 213.8l-1.7 1.1 -30.8-1.7 -2.2-1.2z" fill="#55cc7c" stroke="#55cc7c"/>
<path d="M915.4 212.8l-1.7 1 -34.7-1.8 -2.2-1.3z" fill="#71cd64" stroke="#71cd64"/>
<path d="M917 211.7l-1.6 1.1 -38.6-2.1 -2.2-1.2z" fill="#90ca4d" stroke="#90ca4d"/>
<path d="M918.7 210.7l-1.7 1 -42.4-2.2 -2.2-1.3z" fill="#adc638" stroke="#adc638"/>
<path d="M920.4 209.6l-1.7 1.1 -46.3-2.5 -2.1-1.2z" fill="#c8c129" stroke="#c8c129"/>
<path d="M922 208.6l-1.6 1 -50.1-2.6 -2.2-1.3z" fill="#e0bc2a" stroke="#e0bc2a"/>
<path d="M923.7 207.5l-1.7 1.1 -53.9-2.9 -2.2-1.2z" fill="#f3ba39" stroke="#f3ba39"/>
<path d="M925.4 206.5l-1.7 1 -57.8-3 -2.2-1.2z" fill="#fec13a" stroke="#fec13a"/>
<path d="M927.1 205.5l-1.7 1 -61.7-3.2 -2.2-1.3z" fill="#fdcd31" stroke="#fdcd31"/>
<path d="M928.8 204.4l-1.7 1.1 -65.6-3.5 -2.1-1.2z" fill="#f7db2b" stroke="#f7db2b"/>
<path d="M930.4 203.4l-1.6 1 -69.4-3.6 -2.2-1.3z" fill="#f5e825" stroke="#f5e825"/>
<path d="M932.1 202.3l-1.7 1.1 -73.2-3.9 -2.2-1.2z" fill="#f7f51b" stroke="#f7f51b"/>
</g>
<path d="M888.5 215.9l43.6-13.6 -77.1-4z" fill="#f9fb15" fill-opacity="0.5" stroke="none"/>
<path d="M1086.3 210.5l-33.5-17.6 -43.6 13.5z" fill="#f9fb15" fill-opacity="0.5" stroke="none"/>
<g opacity="0.5">
<path d="M1042.7 243.2l4.4-3.2 -7.7-.4z" fill="#90ca4d" stroke="#90ca4d"/>
<path d="M1047.1 240l4.3-3.3 -15.4-.8 3.4 3.7z" fill="#adc638" stroke="#adc638"/>
<path d="M1051.4 236.7l4.4-3.3 -23.2-1.2 3.4 3.7z" fill="#c8c129" stroke="#c8c129"/>
<path d="M1055.8 233.4l4.3-3.3 -30.8-1.6 3.3 3.7z" fill="#e0bc2a" stroke="#e0bc2a"/>
<path d="M1060.1 230.1l4.4-3.3 -38.5-2 3.3 3.7z" fill="#f3ba39" stroke="#f3ba39"/>
<path d="M1064.5 226.8l4.4-3.2 -46.3-2.5 3.4 3.7z" fill="#fec13a" stroke="#fec13a"/>
<path d="M1068.9 223.6l4.3-3.3 -53.9-2.8 3.3 3.6z" fill="#fdcd31" stroke="#fdcd31"/>
<path d="M1073.2 220.3l4.4-3.3 -61.7-3.2 3.4 3.7z" fill="#f7db2b" stroke="#f7db2b"/>
<path d="M1077.6 217l4.3-3.3 -69.4-3.6 3.4 3.7z" fill="#f5e825" stroke="#f5e825"/>
<path d="M1081.9 213.7l4.4-3.2 -77.1-4.1 3.3 3.7z" fill="#f7f51b" stroke="#f7f51b"/>
</g>
<g opacity="0.5">
<path d="M1133.2 216l-3.3 .2 -4.4-.6z" fill="#90ca4d" stroke="#90ca4d"/>
<path d="M1136.6 215.8l-3.4 .2 -7.7-.4 -4.3-.6z" fill="#adc638" stroke="#adc638"/>
<path d="M1140 215.7l-3.4 .1 -15.4-.8 -4.4-.5z" fill="#c8c129" stroke="#c8c129"/>
<path d="M1143.3 215.5l-3.3 .2 -23.2-1.2 -4.3-.6z" fill="#e0bc2a" stroke="#e0bc2a"/>
<path d="M1146.6 215.3l-3.3 .2 -30.8-1.6 -4.4-.6z" fill="#f3ba39" stroke="#f3ba39"/>
<path d="M1150 215.2l-3.4 .1 -38.5-2 -4.4-.6z" fill="#fec13a" stroke="#fec13a"/>
<path d="M1153.3 215l-3.3 .2 -46.3-2.5 -4.3-.5z" fill="#fdcd31" stroke="#fdcd31"/>
<path d="M1156.7 214.9l-3.4 .1 -53.9-2.8 -4.4-.6z" fill="#f7db2b" stroke="#f7db2b"/>
<path d="M1160.1 214.7l-3.4 .2 -61.7-3.3 -4.3-.6z" fill="#f5e825" stroke="#f5e825"/>
<path d="M1163.4 214.5l-3.3 .2 -69.4-3.7 -4.4-.5z" fill="#f7f51b" stroke="#f7f51b"/>
</g>
<path d="M1119.8 228.1l43.6-13.6 -77.1-4z" fill="#f9fb15" fill-opacity="0.5" stroke="none"/>
<g opacity="0.5">
<path d="M425.9 210.7l-3.3-3.7 -69.4-3.6 -4.4 3.2z" fill="#90ca4d" stroke="#90ca4d"/>
<path d="M422.6 207l-3.4-3.7 -61.7-3.2 -4.3 3.3z" fill="#adc638" stroke="#adc638"/>
<path d="M419.2 203.3l-3.4-3.7 -53.9-2.8 -4.4 3.3z" fill="#c8c129" stroke="#c8c129"/>
<path d="M415.8 199.6l-3.3-3.6 -46.3-2.5 -4.3 3.3z" fill="#e0bc2a" stroke="#e0bc2a"/>
<path d="M412.5 196l-3.3-3.7 -38.6-2.1 -4.4 3.3z" fill="#f3ba39" stroke="#f3ba39"/>
<path d="M409.2 192.3l-3.4-3.7 -30.8-1.6 -4.4 3.2z" fill="#fec13a" stroke="#fec13a"/>
<path d="M405.8 188.6l-3.3-3.7 -23.2-1.2 -4.3 3.3z" fill="#fdcd31" stroke="#fdcd31"/>
<path d="M402.5 184.9l-3.4-3.7 -15.4-.8 -4.4 3.3z" fill="#f7db2b" stroke="#f7db2b"/>
<path d="M399.1 181.2l-3.4-3.7 -7.7-.4 -4.3 3.3z" fill="#f5e825" stroke="#f5e825"/>
<path d="M395.7 177.5l-3.3-3.6 -4.4 3.2z" fill="#f7f51b" stroke="#f7f51b"/>
</g>
<path d="M382.3 224.2l43.6-13.5 -77.1-4.1z" fill="#81cc59" fill-opacity="0.5" stroke="none"/>
<g opacity="0.5">
<path d="M430.3 207.4l-4.4 3.3 7.7-1.5z" fill="#90ca4d" stroke="#90ca4d"/>
<path d="M434.6 204.1l-4.3 3.3 3.3 1.8 7.7-1.5z" fill="#adc638" stroke="#adc638"/>
<path d="M439 200.9l-4.4 3.2 6.7 3.6 7.7-1.6z" fill="#c8c129" stroke="#c8c129"/>
<path d="M443.3 197.6l-4.3 3.3 10 5.2 7.7-1.5z" fill="#e0bc2a" stroke="#e0bc2a"/>
<path d="M447.7 194.3l-4.4 3.3 13.4 7 7.7-1.5z" fill="#f3ba39" stroke="#f3ba39"/>
<path d="M452.1 191l-4.4 3.3 16.7 8.8 7.8-1.5z" fill="#fec13a" stroke="#fec13a"/>
<path d="M456.4 187.8l-4.3 3.2 20.1 10.6 7.7-1.5z" fill="#fdcd31" stroke="#fdcd31"/>
<path d="M460.8 184.5l-4.4 3.3 23.5 12.3 7.7-1.5z" fill="#f7db2b" stroke="#f7db2b"/>
<path d="M465.1 181.2l-4.3 3.3 26.8 14.1 7.7-1.6z" fill="#f5e825" stroke="#f5e825"/>
<path d="M503 195.5l-33.5-17.6 -4.4 3.3 30.2 15.8z" fill="#f7f51b" stroke="#f7f51b"/>
</g>
<g opacity="0.5">
<path d="M459.4 266.8l1.5-2.4 -3.2-.4z" fill="#402ab5" stroke="#402ab5"/>
<path d="M460.9 264.4l1.4-2.4 -6.2-.8 1.6 2.8z" fill="#4433cc" stroke="#4433cc"/>
<path d="M462.3 262l1.5-2.4 -9.4-1.2 1.7 2.8z" fill="#463de0" stroke="#463de0"/>
<path d="M463.8 259.6l1.4-2.3 -12.5-1.7 1.7 2.8z" fill="#4849ed" stroke="#4849ed"/>
<path d="M465.2 257.3l1.5-2.4 -15.7-2.1 1.7 2.8z" fill="#4755f6" stroke="#4755f6"/>
<path d="M466.7 254.9l1.4-2.4 -18.8-2.6 1.7 2.9z" fill="#4661fc" stroke="#4661fc"/>
<path d="M468.1 252.5l1.5-2.4 -21.9-3 1.6 2.8z" fill="#406dfe" stroke="#406dfe"/>
<path d="M469.6 250.1l1.4-2.3 -25-3.5 1.7 2.8z" fill="#347afd" stroke="#347afd"/>
<path d="M471 247.8l1.5-2.4 -28.2-3.9 1.7 2.8z" fill="#2e86f7" stroke="#2e86f7"/>
<path d="M472.5 245.4l1.4-2.4 -31.2-4.3 1.6 2.8z" fill="#2b91ef" stroke="#2b91ef"/>
<path d="M473.9 243l1.5-2.4 -34.4-4.7 1.7 2.8z" fill="#259ce7" stroke="#259ce7"/>
<path d="M475.4 240.6l1.4-2.3 -37.5-5.2 1.7 2.8z" fill="#1fa5e2" stroke="#1fa5e2"/>
<path d="M476.8 238.3l1.5-2.4 -40.7-5.6 1.7 2.8z" fill="#17aeda" stroke="#17aeda"/>
<path d="M478.3 235.9l1.4-2.4 -43.7-6 1.6 2.8z" fill="#05b6ce" stroke="#05b6ce"/>
<path d="M479.7 233.5l1.5-2.4 -46.9-6.4 1.7 2.8z" fill="#06bcc0" stroke="#06bcc0"/>
<path d="M481.2 231.1l1.5-2.3 -50.1-6.9 1.7 2.8z" fill="#1fc0b2" stroke="#1fc0b2"/>
<path d="M482.7 228.8l1.4-2.4 -53.2-7.3 1.7 2.8z" fill="#2fc5a2" stroke="#2fc5a2"/>
<path d="M484.1 226.4l1.5-2.4 -56.3-7.7 1.6 2.8z" fill="#3dc990" stroke="#3dc990"/>
<path d="M485.6 224l1.4-2.3 -59.4-8.2 1.7 2.8z" fill="#55cc7c" stroke="#55cc7c"/>
<path d="M487 221.7l1.5-2.4 -62.6-8.6 0 0 1.7 2.8z" fill="#71cd64" stroke="#71cd64"/>
<path d="M488.5 219.3l1.4-2.4 -56.3-7.7 -7.7 1.5 0 0z" fill="#90ca4d" stroke="#90ca4d"/>
<path d="M489.9 216.9l1.5-2.4 -50.1-6.8 -7.7 1.5z" fill="#adc638" stroke="#adc638"/>
<path d="M491.4 214.5l1.4-2.3 -43.8-6.1 -7.7 1.6z" fill="#c8c129" stroke="#c8c129"/>
<path d="M492.8 212.2l1.5-2.4 -37.6-5.2 -7.7 1.5z" fill="#e0bc2a" stroke="#e0bc2a"/>
<path d="M494.3 209.8l1.4-2.4 -31.3-4.3 -7.7 1.5z" fill="#f3ba39" stroke="#f3ba39"/>
<path d="M495.7 207.4l1.5-2.4 -25-3.4 -7.8 1.5z" fill="#fec13a" stroke="#fec13a"/>
<path d="M497.2 205l1.4-2.3 -18.7-2.6 -7.7 1.5z" fill="#fdcd31" stroke="#fdcd31"/>
<path d="M498.6 202.7l1.5-2.4 -12.5-1.7 -7.7 1.5z" fill="#f7db2b" stroke="#f7db2b"/>
<path d="M500.1 200.3l1.4-2.4 -6.2-.9 -7.7 1.6z" fill="#f5e825" stroke="#f5e825"/>
<path d="M501.5 197.9l1.5-2.4 -7.7 1.5z" fill="#f7f51b" stroke="#f7f51b"/>
</g>
<g opacity="0.5">
<path d="M548.3 219.4l-1.7 1.1 -2.2-1.3z" fill="#259ce7" stroke="#259ce7"/>
<path d="M550 218.4l-1.7 1 -3.9-.2 -2.2-1.2z" fill="#1fa5e2" stroke="#1fa5e2"/>
<path d="M551.6 217.3l-1.6 1.1 -7.8-.4 -2.1-1.3z" fill="#17aeda" stroke="#17aeda"/>
<path d="M553.3 216.3l-1.7 1 -11.5-.6 -2.2-1.2z" fill="#05b6ce" stroke="#05b6ce"/>
<path d="M555 215.2l-1.7 1.1 -15.4-.8 -2.2-1.3z" fill="#06bcc0" stroke="#06bcc0"/>
<path d="M556.7 214.2l-1.7 1 -19.3-1 -2.2-1.2z" fill="#1fc0b2" stroke="#1fc0b2"/>
<path d="M558.3 213.2l-1.6 1 -23.2-1.2 -2.2-1.3z" fill="#2fc5a2" stroke="#2fc5a2"/>
<path d="M560 212.1l-1.7 1.1 -27-1.5 -2.1-1.2z" fill="#3dc990" stroke="#3dc990"/>
<path d="M561.7 211.1l-1.7 1 -30.8-1.6 -2.2-1.3z" fill="#55cc7c" stroke="#55cc7c"/>
<path d="M563.4 210l-1.7 1.1 -34.7-1.9 -2.2-1.2z" fill="#71cd64" stroke="#71cd64"/>
<path d="M565 209l-1.6 1 -38.6-2 -2.2-1.2z" fill="#90ca4d" stroke="#90ca4d"/>
<path d="M566.7 207.9l-1.7 1.1 -42.4-2.2 -2.2-1.3z" fill="#adc638" stroke="#adc638"/>
<path d="M568.4 206.9l-1.7 1 -46.3-2.4 -2.1-1.2z" fill="#c8c129" stroke="#c8c129"/>
<path d="M570 205.9l-1.6 1 -50.1-2.6 -2.2-1.3z" fill="#e0bc2a" stroke="#e0bc2a"/>
<path d="M571.7 204.8l-1.7 1.1 -53.9-2.9 -2.2-1.2z" fill="#f3ba39" stroke="#f3ba39"/>
<path d="M573.4 203.8l-1.7 1 -57.8-3 -2.2-1.3z" fill="#fec13a" stroke="#fec13a"/>
<path d="M575.1 202.7l-1.7 1.1 -61.7-3.3 -2.2-1.2z" fill="#fdcd31" stroke="#fdcd31"/>
<path d="M576.8 201.7l-1.7 1 -65.6-3.4 -2.1-1.3z" fill="#f7db2b" stroke="#f7db2b"/>
<path d="M578.4 200.6l-1.6 1.1 -69.4-3.7 -2.2-1.2z" fill="#f5e825" stroke="#f5e825"/>
<path d="M580.1 199.6l-1.7 1 -73.2-3.8 -2.2-1.3z" fill="#f7f51b" stroke="#f7f51b"/>
</g>
<g opacity="0.5">
<path d="M536.5 251.6l2.2-2.6 -3.9-.2z" fill="#259ce7" stroke="#259ce7"/>
<path d="M538.7 249l2.2-2.6 -7.8-.4 1.7 2.8z" fill="#1fa5e2" stroke="#1fa5e2"/>
<path d="M540.9 246.4l2.1-2.6 -11.5-.6 1.6 2.8z" fill="#17aeda" stroke="#17aeda"/>
<path d="M543 243.8l2.2-2.6 -15.4-.8 1.7 2.8z" fill="#05b6ce" stroke="#05b6ce"/>
<path d="M545.2 241.2l2.2-2.6 -19.3-1 1.7 2.8z" fill="#06bcc0" stroke="#06bcc0"/>
<path d="M547.4 238.6l2.2-2.6 -23.2-1.2 1.7 2.8z" fill="#1fc0b2" stroke="#1fc0b2"/>
<path d="M549.6 236l2.2-2.6 -27-1.4 1.6 2.8z" fill="#2fc5a2" stroke="#2fc5a2"/>
<path d="M551.8 233.4l2.1-2.6 -30.8-1.6 1.7 2.8z" fill="#3dc990" stroke="#3dc990"/>
<path d="M553.9 230.8l2.2-2.6 -34.7-1.8 1.7 2.8z" fill="#55cc7c" stroke="#55cc7c"/>
<path d="M556.1 228.2l2.2-2.6 -38.6-2 1.7 2.8z" fill="#71cd64" stroke="#71cd64"/>
<path d="M558.3 225.6l2.2-2.6 -42.4-2.2 1.6 2.8z" fill="#90ca4d" stroke="#90ca4d"/>
<path d="M560.5 223l2.2-2.6 -46.3-2.4 1.7 2.8z" fill="#adc638" stroke="#adc638"/>
<path d="M562.7 220.4l2.1-2.6 -50.1-2.6 1.7 2.8z" fill="#c8c129" stroke="#c8c129"/>
<path d="M564.8 217.8l2.2-2.6 -53.9-2.8 1.6 2.8z" fill="#e0bc2a" stroke="#e0bc2a"/>
<path d="M567 215.2l2.2-2.6 -57.8-3.1 1.7 2.9z" fill="#f3ba39" stroke="#f3ba39"/>
<path d="M569.2 212.6l2.2-2.6 -61.7-3.3 1.7 2.8z" fill="#fec13a" stroke="#fec13a"/>
<path d="M571.4 210l2.2-2.6 -65.6-3.5 1.7 2.8z" fill="#fdcd31" stroke="#fdcd31"/>
<path d="M573.6 207.4l2.1-2.6 -69.4-3.7 1.7 2.8z" fill="#f7db2b" stroke="#f7db2b"/>
<path d="M575.7 204.8l2.2-2.6 -73.2-3.9 1.6 2.8z" fill="#f5e825" stroke="#f5e825"/>
<path d="M577.9 202.2l2.2-2.6 -77.1-4.1 1.7 2.8z" fill="#f7f51b" stroke="#f7f51b"/>
</g>
<g opacity="0.5">
<path d="M657.2 222.9l-33.5-17.6 -4.4-.6 30.2 15.9z" fill="#90ca4d" stroke="#90ca4d"/>
<path d="M619.3 204.7l-4.3-.5 26.8 14 7.7 2.4z" fill="#adc638" stroke="#adc638"/>
<path d="M615 204.2l-4.4-.6 23.5 12.3 7.7 2.3z" fill="#c8c129" stroke="#c8c129"/>
<path d="M610.6 203.6l-4.3-.6 20.1 10.6 7.7 2.3z" fill="#e0bc2a" stroke="#e0bc2a"/>
<path d="M606.3 203l-4.4-.6 16.8 8.8 7.7 2.4z" fill="#f3ba39" stroke="#f3ba39"/>
<path d="M601.9 202.4l-4.4-.5 13.4 7 7.8 2.3z" fill="#fec13a" stroke="#fec13a"/>
<path d="M597.5 201.9l-4.3-.6 10 5.3 7.7 2.3z" fill="#fdcd31" stroke="#fdcd31"/>
<path d="M593.2 201.3l-4.4-.6 6.7 3.6 7.7 2.3z" fill="#f7db2b" stroke="#f7db2b"/>
<path d="M588.8 200.7l-4.3-.5 3.3 1.7 7.7 2.4z" fill="#f5e825" stroke="#f5e825"/>
<path d="M584.5 200.2l-4.4-.6 7.7 2.3z" fill="#f7f51b" stroke="#f7f51b"/>
</g>
<g opacity="0.5">
<path d="M613.6 236.4l43.6-13.5 -7.7-2.3 -39.2 12.2z" fill="#90ca4d" stroke="#90ca4d"/>
<path d="M649.5 220.6l-7.7-2.4 -34.9 10.9 3.4 3.7z" fill="#adc638" stroke="#adc638"/>
<path d="M641.8 218.2l-7.7-2.3 -30.6 9.5 3.4 3.7z" fill="#c8c129" stroke="#c8c129"/>
<path d="M634.1 215.9l-7.7-2.3 -26.2 8.1 3.3 3.7z" fill="#e0bc2a" stroke="#e0bc2a"/>
<path d="M626.4 213.6l-7.7-2.4 -21.9 6.8 3.4 3.7z" fill="#f3ba39" stroke="#f3ba39"/>
<path d="M618.7 211.2l-7.8-2.3 -17.4 5.4 3.3 3.7z" fill="#fec13a" stroke="#fec13a"/>
<path d="M610.9 208.9l-7.7-2.3 -13 4.1 3.3 3.6z" fill="#fdcd31" stroke="#fdcd31"/>
<path d="M603.2 206.6l-7.7-2.3 -8.7 2.7 3.4 3.7z" fill="#f7db2b" stroke="#f7db2b"/>
<path d="M595.5 204.3l-7.7-2.4 -4.4 1.4 3.4 3.7z" fill="#f5e825" stroke="#f5e825"/>
<path d="M587.8 201.9l-7.7-2.3 3.3 3.7z" fill="#f7f51b" stroke="#f7f51b"/>
</g>
<g opacity="0.5">
<path d="M661.6 219.6l-4.4 3.3 7.7-1.5z" fill="#90ca4d" stroke="#90ca4d"/>
<path d="M665.9 216.3l-4.3 3.3 3.3 1.8 7.7-1.5z" fill="#adc638" stroke="#adc638"/>
<path d="M670.3 213.1l-4.4 3.2 6.7 3.6 7.7-1.6z" fill="#c8c129" stroke="#c8c129"/>
<path d="M674.6 209.8l-4.3 3.3 10 5.2 7.7-1.5z" fill="#e0bc2a" stroke="#e0bc2a"/>
<path d="M679 206.5l-4.4 3.3 13.4 7 7.8-1.5z" fill="#f3ba39" stroke="#f3ba39"/>
<path d="M683.4 203.2l-4.4 3.3 16.8 8.8 7.7-1.5z" fill="#fec13a" stroke="#fec13a"/>
<path d="M687.7 200l-4.3 3.2 20.1 10.6 7.7-1.5z" fill="#fdcd31" stroke="#fdcd31"/>
<path d="M692.1 196.7l-4.4 3.3 23.5 12.3 7.7-1.5z" fill="#f7db2b" stroke="#f7db2b"/>
<path d="M696.4 193.4l-4.3 3.3 26.8 14.1 7.7-1.6z" fill="#f5e825" stroke="#f5e825"/>
<path d="M734.3 207.7l-33.5-17.6 -4.4 3.3 30.2 15.8z" fill="#f7f51b" stroke="#f7f51b"/>
</g>
<g opacity="0.5">
<path d="M664.9 221.4l-7.7 1.5 3.3-.2z" fill="#90ca4d" stroke="#90ca4d"/>
<path d="M672.6 219.9l-7.7 1.5 -4.4 1.3 3.4-.1z" fill="#adc638" stroke="#adc638"/>
<path d="M680.3 218.3l-7.7 1.6 -8.7 2.7 3.4-.2z" fill="#c8c129" stroke="#c8c129"/>
<path d="M688 216.8l-7.7 1.5 -13 4.1 3.3-.2z" fill="#e0bc2a" stroke="#e0bc2a"/>
<path d="M695.8 215.3l-7.8 1.5 -17.4 5.4 3.4-.1z" fill="#f3ba39" stroke="#f3ba39"/>
<path d="M703.5 213.8l-7.7 1.5 -21.8 6.8 3.3-.2z" fill="#fec13a" stroke="#fec13a"/>
<path d="M711.2 212.3l-7.7 1.5 -26.2 8.1 3.3-.1z" fill="#fdcd31" stroke="#fdcd31"/>
<path d="M718.9 210.8l-7.7 1.5 -30.6 9.5 3.4-.2z" fill="#f7db2b" stroke="#f7db2b"/>
<path d="M726.6 209.2l-7.7 1.6 -34.9 10.8 3.4-.2z" fill="#f5e825" stroke="#f5e825"/>
<path d="M690.7 221.3l43.6-13.6 -7.7 1.5 -39.2 12.2z" fill="#f7f51b" stroke="#f7f51b"/>
</g>
<path d="M965.6 219.9l-33.5-17.6 -43.6 13.6z" fill="#f9fb15" fill-opacity="0.5" stroke="none"/>
<g opacity="0.5">
<path d="M922 252.7l4.4-3.3 -7.7-.4z" fill="#90ca4d" stroke="#90ca4d"/>
<path d="M926.4 249.4l4.3-3.3 -15.4-.8 3.4 3.7z" fill="#adc638" stroke="#adc638"/>
<path d="M930.7 246.1l4.4-3.2 -23.2-1.3 3.4 3.7z" fill="#c8c129" stroke="#c8c129"/>
<path d="M935.1 242.9l4.3-3.3 -30.8-1.6 3.3 3.6z" fill="#e0bc2a" stroke="#e0bc2a"/>
<path d="M939.4 239.6l4.4-3.3 -38.6-2 3.4 3.7z" fill="#f3ba39" stroke="#f3ba39"/>
<path d="M943.8 236.3l4.4-3.3 -46.3-2.4 3.3 3.7z" fill="#fec13a" stroke="#fec13a"/>
<path d="M948.2 233l4.3-3.2 -53.9-2.9 3.3 3.7z" fill="#fdcd31" stroke="#fdcd31"/>
<path d="M952.5 229.8l4.4-3.3 -61.7-3.3 3.4 3.7z" fill="#f7db2b" stroke="#f7db2b"/>
<path d="M956.9 226.5l4.3-3.3 -69.4-3.7 3.4 3.7z" fill="#f5e825" stroke="#f5e825"/>
<path d="M961.2 223.2l4.4-3.3 -77.1-4 3.3 3.6z" fill="#f7f51b" stroke="#f7f51b"/>
</g>
<g opacity="0.5">
<path d="M1042.7 243.2l-3.3-3.6 -4.4 1.3z" fill="#90ca4d" stroke="#90ca4d"/>
<path d="M1039.4 239.6l-3.4-3.7 -8.7 2.7 7.7 2.3z" fill="#adc638" stroke="#adc638"/>
<path d="M1036 235.9l-3.4-3.7 -13 4 7.7 2.4z" fill="#c8c129" stroke="#c8c129"/>
<path d="M1032.6 232.2l-3.3-3.7 -17.4 5.4 7.7 2.3z" fill="#e0bc2a" stroke="#e0bc2a"/>
<path d="M1029.3 228.5l-3.3-3.7 -21.8 6.8 7.7 2.3z" fill="#f3ba39" stroke="#f3ba39"/>
<path d="M1026 224.8l-3.4-3.7 -26.2 8.2 7.8 2.3z" fill="#fec13a" stroke="#fec13a"/>
<path d="M1022.6 221.1l-3.3-3.6 -30.6 9.4 7.7 2.4z" fill="#fdcd31" stroke="#fdcd31"/>
<path d="M1019.3 217.5l-3.4-3.7 -34.9 10.8 7.7 2.3z" fill="#f7db2b" stroke="#f7db2b"/>
<path d="M1015.9 213.8l-3.4-3.7 -39.2 12.2 7.7 2.3z" fill="#f5e825" stroke="#f5e825"/>
<path d="M1012.5 210.1l-3.3-3.7 -43.6 13.5 7.7 2.4z" fill="#f7f51b" stroke="#f7f51b"/>
</g>
<g opacity="0.5">
<path d="M1038.3 242.7l4.4 .5 -7.7-2.3z" fill="#90ca4d" stroke="#90ca4d"/>
<path d="M1034 242.1l4.3 .6 -3.3-1.8 -7.7-2.3z" fill="#adc638" stroke="#adc638"/>
<path d="M1029.6 241.5l4.4 .6 -6.7-3.5 -7.7-2.4z" fill="#c8c129" stroke="#c8c129"/>
<path d="M1025.3 241l4.3 .5 -10-5.3 -7.7-2.3z" fill="#e0bc2a" stroke="#e0bc2a"/>
<path d="M1020.9 240.4l4.4 .6 -13.4-7.1 -7.7-2.3z" fill="#f3ba39" stroke="#f3ba39"/>
<path d="M1016.5 239.8l4.4 .6 -16.7-8.8 -7.8-2.3z" fill="#fec13a" stroke="#fec13a"/>
<path d="M1012.2 239.2l4.3 .6 -20.1-10.5 -7.7-2.4z" fill="#fdcd31" stroke="#fdcd31"/>
<path d="M1007.8 238.7l4.4 .5 -23.5-12.3 -7.7-2.3z" fill="#f7db2b" stroke="#f7db2b"/>
<path d="M1003.5 238.1l4.3 .6 -26.8-14.1 -7.7-2.3z" fill="#f5e825" stroke="#f5e825"/>
<path d="M999.1 237.5l4.4 .6 -30.2-15.8 -7.7-2.4z" fill="#f7f51b" stroke="#f7f51b"/>
</g>
<g opacity="0.5">
<path d="M1047.1 240l-4.4 3.2 7.7-1.5z" fill="#90ca4d" stroke="#90ca4d"/>
<path d="M1051.4 236.7l-4.3 3.3 3.3 1.7 7.7-1.5z" fill="#adc638" stroke="#adc638"/>
<path d="M1055.8 233.4l-4.4 3.3 6.7 3.5 7.7-1.5z" fill="#c8c129" stroke="#c8c129"/>
<path d="M1060.1 230.1l-4.3 3.3 10 5.3 7.7-1.5z" fill="#e0bc2a" stroke="#e0bc2a"/>
<path d="M1064.5 226.8l-4.4 3.3 13.4 7.1 7.7-1.6z" fill="#f3ba39" stroke="#f3ba39"/>
<path d="M1068.9 223.6l-4.4 3.2 16.7 8.8 7.8-1.5z" fill="#fec13a" stroke="#fec13a"/>
<path d="M1073.2 220.3l-4.3 3.3 20.1 10.5 7.7-1.5z" fill="#fdcd31" stroke="#fdcd31"/>
<path d="M1077.6 217l-4.4 3.3 23.5 12.3 7.7-1.5z" fill="#f7db2b" stroke="#f7db2b"/>
<path d="M1081.9 213.7l-4.3 3.3 26.8 14.1 7.7-1.5z" fill="#f5e825" stroke="#f5e825"/>
<path d="M1119.8 228.1l-33.5-17.6 -4.4 3.2 30.2 15.9z" fill="#f7f51b" stroke="#f7f51b"/>
</g>
<g opacity="0.5">
<path d="M1050.4 241.7l-7.7 1.5 3.3-.1z" fill="#90ca4d" stroke="#90ca4d"/>
<path d="M1058.1 240.2l-7.7 1.5 -4.4 1.4 3.4-.2z" fill="#adc638" stroke="#adc638"/>
<path d="M1065.8 238.7l-7.7 1.5 -8.7 2.7 3.4-.2z" fill="#c8c129" stroke="#c8c129"/>
<path d="M1073.5 237.2l-7.7 1.5 -13 4 3.3-.1z" fill="#e0bc2a" stroke="#e0bc2a"/>
<path d="M1081.2 235.6l-7.7 1.6 -17.4 5.4 3.3-.2z" fill="#f3ba39" stroke="#f3ba39"/>
<path d="M1089 234.1l-7.8 1.5 -21.8 6.8 3.4-.1z" fill="#fec13a" stroke="#fec13a"/>
<path d="M1096.7 232.6l-7.7 1.5 -26.2 8.2 3.3-.2z" fill="#fdcd31" stroke="#fdcd31"/>
<path d="M1104.4 231.1l-7.7 1.5 -30.6 9.5 3.4-.2z" fill="#f7db2b" stroke="#f7db2b"/>
<path d="M1112.1 229.6l-7.7 1.5 -34.9 10.8 3.4-.1z" fill="#f5e825" stroke="#f5e825"/>
<path d="M1076.2 241.6l43.6-13.5 -7.7 1.5 -39.2 12.2z" fill="#f7f51b" stroke="#f7f51b"/>
</g>
<g opacity="0.5">
<path d="M382.3 224.2l-33.5-17.6 -4.4-.5 30.2 15.8z" fill="#90ca4d" stroke="#90ca4d"/>
<path d="M344.4 206.1l-4.3-.6 26.8 14.1 7.7 2.3z" fill="#adc638" stroke="#adc638"/>
<path d="M340.1 205.5l-4.4-.6 23.5 12.3 7.7 2.4z" fill="#c8c129" stroke="#c8c129"/>
<path d="M335.7 204.9l-4.3-.5 20.1 10.5 7.7 2.3z" fill="#e0bc2a" stroke="#e0bc2a"/>
<path d="M331.4 204.4l-4.4-.6 16.8 8.8 7.7 2.3z" fill="#f3ba39" stroke="#f3ba39"/>
<path d="M327 203.8l-4.4-.6 13.4 7.1 7.8 2.3z" fill="#fec13a" stroke="#fec13a"/>
<path d="M322.6 203.2l-4.3-.6 10 5.3 7.7 2.4z" fill="#fdcd31" stroke="#fdcd31"/>
<path d="M318.3 202.6l-4.4-.5 6.7 3.5 7.7 2.3z" fill="#f7db2b" stroke="#f7db2b"/>
<path d="M313.9 202.1l-4.3-.6 3.3 1.8 7.7 2.3z" fill="#f5e825" stroke="#f5e825"/>
<path d="M309.6 201.5l-4.4-.6 7.7 2.4z" fill="#f7f51b" stroke="#f7f51b"/>
</g>
<g opacity="0.5">
<path d="M338.7 237.8l43.6-13.6 -7.7-2.3 -39.2 12.2z" fill="#90ca4d" stroke="#90ca4d"/>
<path d="M374.6 221.9l-7.7-2.3 -34.9 10.8 3.4 3.7z" fill="#adc638" stroke="#adc638"/>
<path d="M366.9 219.6l-7.7-2.4 -30.6 9.5 3.4 3.7z" fill="#c8c129" stroke="#c8c129"/>
<path d="M359.2 217.2l-7.7-2.3 -26.2 8.1 3.3 3.7z" fill="#e0bc2a" stroke="#e0bc2a"/>
<path d="M351.5 214.9l-7.7-2.3 -21.8 6.7 3.3 3.7z" fill="#f3ba39" stroke="#f3ba39"/>
<path d="M343.8 212.6l-7.8-2.3 -17.4 5.4 3.4 3.6z" fill="#fec13a" stroke="#fec13a"/>
<path d="M336 210.3l-7.7-2.4 -13 4.1 3.3 3.7z" fill="#fdcd31" stroke="#fdcd31"/>
<path d="M328.3 207.9l-7.7-2.3 -8.7 2.7 3.4 3.7z" fill="#f7db2b" stroke="#f7db2b"/>
<path d="M320.6 205.6l-7.7-2.3 -4.4 1.3 3.4 3.7z" fill="#f5e825" stroke="#f5e825"/>
<path d="M312.9 203.3l-7.7-2.4 3.3 3.7z" fill="#f7f51b" stroke="#f7f51b"/>
</g>
<g opacity="0.5">
<path d="M459.4 266.8l-1.7-2.8 -2.2 .6z" fill="#402ab5" stroke="#402ab5"/>
<path d="M457.7 264l-1.6-2.8 -4.4 1.3 3.8 2.1z" fill="#4433cc" stroke="#4433cc"/>
<path d="M456.1 261.2l-1.7-2.8 -6.6 2 3.9 2.1z" fill="#463de0" stroke="#463de0"/>
<path d="M454.4 258.4l-1.7-2.8 -8.7 2.7 3.8 2.1z" fill="#4849ed" stroke="#4849ed"/>
<path d="M452.7 255.6l-1.7-2.8 -10.9 3.3 3.9 2.2z" fill="#4755f6" stroke="#4755f6"/>
<path d="M451 252.8l-1.7-2.9 -13 4.1 3.8 2.1z" fill="#4661fc" stroke="#4661fc"/>
<path d="M449.3 249.9l-1.6-2.8 -15.3 4.8 3.9 2.1z" fill="#406dfe" stroke="#406dfe"/>
<path d="M447.7 247.1l-1.7-2.8 -17.4 5.5 3.8 2.1z" fill="#347afd" stroke="#347afd"/>
<path d="M446 244.3l-1.7-2.8 -19.6 6.1 3.9 2.2z" fill="#2e86f7" stroke="#2e86f7"/>
<path d="M444.3 241.5l-1.6-2.8 -21.8 6.8 3.8 2.1z" fill="#2b91ef" stroke="#2b91ef"/>
<path d="M442.7 238.7l-1.7-2.8 -24 7.5 3.9 2.1z" fill="#259ce7" stroke="#259ce7"/>
<path d="M441 235.9l-1.7-2.8 -26.2 8.1 3.9 2.2z" fill="#1fa5e2" stroke="#1fa5e2"/>
<path d="M439.3 233.1l-1.7-2.8 -28.3 8.8 3.8 2.1z" fill="#17aeda" stroke="#17aeda"/>
<path d="M437.6 230.3l-1.6-2.8 -30.6 9.5 3.9 2.1z" fill="#05b6ce" stroke="#05b6ce"/>
<path d="M436 227.5l-1.7-2.8 -32.7 10.2 3.8 2.1z" fill="#06bcc0" stroke="#06bcc0"/>
<path d="M434.3 224.7l-1.7-2.8 -34.9 10.8 3.9 2.2z" fill="#1fc0b2" stroke="#1fc0b2"/>
<path d="M432.6 221.9l-1.7-2.8 -37 11.5 3.8 2.1z" fill="#2fc5a2" stroke="#2fc5a2"/>
<path d="M430.9 219.1l-1.6-2.8 -39.3 12.2 3.9 2.1z" fill="#3dc990" stroke="#3dc990"/>
<path d="M429.3 216.3l-1.7-2.8 -41.4 12.9 3.8 2.1z" fill="#55cc7c" stroke="#55cc7c"/>
<path d="M427.6 213.5l-1.7-2.8 -43.6 13.5 3.9 2.2z" fill="#71cd64" stroke="#71cd64"/>
</g>
<g opacity="0.5">
<path d="M457.9 265.3l1.5 1.5 -3.9-2.2z" fill="#402ab5" stroke="#402ab5"/>
<path d="M456.5 263.8l1.4 1.5 -2.4-.7 -3.8-2.1z" fill="#4433cc" stroke="#4433cc"/>
<path d="M455 262.3l1.5 1.5 -4.8-1.3 -3.9-2.1z" fill="#463de0" stroke="#463de0"/>
<path d="M453.6 260.9l1.4 1.4 -7.2-1.9 -3.8-2.1z" fill="#4849ed" stroke="#4849ed"/>
<path d="M452.1 259.4l1.5 1.5 -9.6-2.6 -3.9-2.2z" fill="#4755f6" stroke="#4755f6"/>
<path d="M450.7 257.9l1.4 1.5 -12-3.3 -3.8-2.1z" fill="#4661fc" stroke="#4661fc"/>
<path d="M449.2 256.5l1.5 1.4 -14.4-3.9 -3.9-2.1z" fill="#406dfe" stroke="#406dfe"/>
<path d="M447.8 255l1.4 1.5 -16.8-4.6 -3.8-2.1z" fill="#347afd" stroke="#347afd"/>
<path d="M446.3 253.5l1.5 1.5 -19.2-5.2 -3.9-2.2z" fill="#2e86f7" stroke="#2e86f7"/>
<path d="M444.9 252l1.4 1.5 -21.6-5.9 -3.8-2.1z" fill="#2b91ef" stroke="#2b91ef"/>
<path d="M443.4 250.6l1.5 1.4 -24-6.5 -3.9-2.1z" fill="#259ce7" stroke="#259ce7"/>
<path d="M442 249.1l1.4 1.5 -26.4-7.2 -3.9-2.2z" fill="#1fa5e2" stroke="#1fa5e2"/>
<path d="M440.5 247.6l1.5 1.5 -28.9-7.9 -3.8-2.1z" fill="#17aeda" stroke="#17aeda"/>
<path d="M439.1 246.2l1.4 1.4 -31.2-8.5 -3.9-2.1z" fill="#05b6ce" stroke="#05b6ce"/>
<path d="M437.6 244.7l1.5 1.5 -33.7-9.2 -3.8-2.1z" fill="#06bcc0" stroke="#06bcc0"/>
<path d="M436.1 243.2l1.5 1.5 -36-9.8 -3.9-2.2z" fill="#1fc0b2" stroke="#1fc0b2"/>
<path d="M434.7 241.7l1.4 1.5 -38.4-10.5 -3.8-2.1z" fill="#2fc5a2" stroke="#2fc5a2"/>
<path d="M433.2 240.3l1.5 1.4 -40.8-11.1 -3.9-2.1z" fill="#3dc990" stroke="#3dc990"/>
<path d="M431.8 238.8l1.4 1.5 -43.2-11.8 -3.8-2.1z" fill="#55cc7c" stroke="#55cc7c"/>
<path d="M430.3 237.3l1.5 1.5 -45.6-12.4 -3.9-2.2 0 0z" fill="#71cd64" stroke="#71cd64"/>
<path d="M428.9 235.9l1.4 1.4 -48-13.1 0 0 3.3-.1z" fill="#90ca4d" stroke="#90ca4d"/>
<path d="M427.4 234.4l1.5 1.5 -43.3-11.8 3.4-.2z" fill="#adc638" stroke="#adc638"/>
<path d="M426 232.9l1.4 1.5 -38.4-10.5 3.4-.2z" fill="#c8c129" stroke="#c8c129"/>
<path d="M424.5 231.4l1.5 1.5 -33.6-9.2 3.3-.1z" fill="#e0bc2a" stroke="#e0bc2a"/>
<path d="M423.1 230l1.4 1.4 -28.8-7.8 3.3-.2z" fill="#f3ba39" stroke="#f3ba39"/>
<path d="M421.6 228.5l1.5 1.5 -24.1-6.6 3.4-.1z" fill="#fec13a" stroke="#fec13a"/>
<path d="M420.2 227l1.4 1.5 -19.2-5.2 3.3-.2z" fill="#fdcd31" stroke="#fdcd31"/>
<path d="M418.7 225.5l1.5 1.5 -14.5-3.9 3.4-.2z" fill="#f7db2b" stroke="#f7db2b"/>
<path d="M417.3 224.1l1.4 1.4 -9.6-2.6 3.4-.1z" fill="#f5e825" stroke="#f5e825"/>
<path d="M415.8 222.6l1.5 1.5 -4.8-1.3z" fill="#f7f51b" stroke="#f7f51b"/>
</g>
<g opacity="0.5">
<path d="M460.9 264.4l-1.5 2.4 7.7-1.6z" fill="#402ab5" stroke="#402ab5"/>
<path d="M462.3 262l-1.4 2.4 6.2 .8 7.7-1.5z" fill="#4433cc" stroke="#4433cc"/>
<path d="M463.8 259.6l-1.5 2.4 12.5 1.7 7.7-1.5z" fill="#463de0" stroke="#463de0"/>
<path d="M465.2 257.3l-1.4 2.3 18.7 2.6 7.7-1.5z" fill="#4849ed" stroke="#4849ed"/>
<path d="M466.7 254.9l-1.5 2.4 25 3.4 7.8-1.5z" fill="#4755f6" stroke="#4755f6"/>
<path d="M468.1 252.5l-1.4 2.4 31.3 4.3 7.7-1.5z" fill="#4661fc" stroke="#4661fc"/>
<path d="M469.6 250.1l-1.5 2.4 37.6 5.2 7.7-1.5z" fill="#406dfe" stroke="#406dfe"/>
<path d="M471 247.8l-1.4 2.3 43.8 6.1 7.7-1.6z" fill="#347afd" stroke="#347afd"/>
<path d="M472.5 245.4l-1.5 2.4 50.1 6.8 7.7-1.5z" fill="#2e86f7" stroke="#2e86f7"/>
<path d="M536.5 251.6l0 0 -62.6-8.6 -1.4 2.4 56.3 7.7z" fill="#2b91ef" stroke="#2b91ef"/>
<path d="M536.5 251.6l-1.7-2.8 -59.4-8.2 -1.5 2.4 62.6 8.6z" fill="#259ce7" stroke="#259ce7"/>
<path d="M534.8 248.8l-1.7-2.8 -56.3-7.7 -1.4 2.3z" fill="#1fa5e2" stroke="#1fa5e2"/>
<path d="M533.1 246l-1.6-2.8 -53.2-7.3 -1.5 2.4z" fill="#17aeda" stroke="#17aeda"/>
<path d="M531.5 243.2l-1.7-2.8 -50.1-6.9 -1.4 2.4z" fill="#05b6ce" stroke="#05b6ce"/>
<path d="M529.8 240.4l-1.7-2.8 -46.9-6.5 -1.5 2.4z" fill="#06bcc0" stroke="#06bcc0"/>
<path d="M528.1 237.6l-1.7-2.8 -43.7-6 -1.5 2.3z" fill="#1fc0b2" stroke="#1fc0b2"/>
<path d="M526.4 234.8l-1.6-2.8 -40.7-5.6 -1.4 2.4z" fill="#2fc5a2" stroke="#2fc5a2"/>
<path d="M524.8 232l-1.7-2.8 -37.5-5.2 -1.5 2.4z" fill="#3dc990" stroke="#3dc990"/>
<path d="M523.1 229.2l-1.7-2.8 -34.4-4.7 -1.4 2.3z" fill="#55cc7c" stroke="#55cc7c"/>
<path d="M521.4 226.4l-1.7-2.8 -31.2-4.3 -1.5 2.4z" fill="#71cd64" stroke="#71cd64"/>
<path d="M519.7 223.6l-1.6-2.8 -28.2-3.9 -1.4 2.4z" fill="#90ca4d" stroke="#90ca4d"/>
<path d="M518.1 220.8l-1.7-2.8 -25-3.5 -1.5 2.4z" fill="#adc638" stroke="#adc638"/>
<path d="M516.4 218l-1.7-2.8 -21.9-3 -1.4 2.3z" fill="#c8c129" stroke="#c8c129"/>
<path d="M514.7 215.2l-1.6-2.8 -18.8-2.6 -1.5 2.4z" fill="#e0bc2a" stroke="#e0bc2a"/>
<path d="M513.1 212.4l-1.7-2.9 -15.7-2.1 -1.4 2.4z" fill="#f3ba39" stroke="#f3ba39"/>
<path d="M511.4 209.5l-1.7-2.8 -12.5-1.7 -1.5 2.4z" fill="#fec13a" stroke="#fec13a"/>
<path d="M509.7 206.7l-1.7-2.8 -9.4-1.2 -1.4 2.3z" fill="#fdcd31" stroke="#fdcd31"/>
<path d="M508 203.9l-1.7-2.8 -6.2-.8 -1.5 2.4z" fill="#f7db2b" stroke="#f7db2b"/>
<path d="M506.3 201.1l-1.6-2.8 -3.2-.4 -1.4 2.4z" fill="#f5e825" stroke="#f5e825"/>
<path d="M504.7 198.3l-1.7-2.8 -1.5 2.4z" fill="#f7f51b" stroke="#f7f51b"/>
</g>
<g opacity="0.5">
<path d="M467.1 265.2l-7.7 1.6 1.1-1.4z" fill="#402ab5" stroke="#402ab5"/>
<path d="M474.8 263.7l-7.7 1.5 -6.6 .2 1.1-1.3z" fill="#4433cc" stroke="#4433cc"/>
<path d="M482.5 262.2l-7.7 1.5 -13.2 .4 1.2-1.3z" fill="#463de0" stroke="#463de0"/>
<path d="M490.2 260.7l-7.7 1.5 -19.7 .6 1.1-1.4z" fill="#4849ed" stroke="#4849ed"/>
<path d="M498 259.2l-7.8 1.5 -26.3 .7 1.1-1.3z" fill="#4755f6" stroke="#4755f6"/>
<path d="M505.7 257.7l-7.7 1.5 -33 .9 1.1-1.4z" fill="#4661fc" stroke="#4661fc"/>
<path d="M513.4 256.2l-7.7 1.5 -39.6 1 1.1-1.3z" fill="#406dfe" stroke="#406dfe"/>
<path d="M521.1 254.6l-7.7 1.6 -46.2 1.2 1.1-1.3z" fill="#347afd" stroke="#347afd"/>
<path d="M528.8 253.1l-7.7 1.5 -52.8 1.5 1.2-1.4z" fill="#2e86f7" stroke="#2e86f7"/>
<path d="M536.5 251.6l0 0 -7.7 1.5 -59.3 1.6 1.1-1.3z" fill="#2b91ef" stroke="#2b91ef"/>
<path d="M534.3 250.4l2.2 1.2 0 0 -65.9 1.8 1.1-1.3z" fill="#259ce7" stroke="#259ce7"/>
<path d="M532.1 249.1l2.2 1.3 -62.6 1.7 1.1-1.4z" fill="#1fa5e2" stroke="#1fa5e2"/>
<path d="M530 247.9l2.1 1.2 -59.3 1.6 1.1-1.3z" fill="#17aeda" stroke="#17aeda"/>
<path d="M527.8 246.6l2.2 1.3 -56.1 1.5 1.1-1.3z" fill="#05b6ce" stroke="#05b6ce"/>
<path d="M525.6 245.4l2.2 1.2 -52.8 1.5 1.2-1.4z" fill="#06bcc0" stroke="#06bcc0"/>
<path d="M523.4 244.1l2.2 1.3 -49.4 1.3 1.1-1.3z" fill="#1fc0b2" stroke="#1fc0b2"/>
<path d="M521.2 242.9l2.2 1.2 -46.1 1.3 1.1-1.4z" fill="#2fc5a2" stroke="#2fc5a2"/>
<path d="M519.1 241.6l2.1 1.3 -42.8 1.1 1.1-1.3z" fill="#3dc990" stroke="#3dc990"/>
<path d="M516.9 240.4l2.2 1.2 -39.6 1.1 1.1-1.3z" fill="#55cc7c" stroke="#55cc7c"/>
<path d="M514.7 239.1l2.2 1.3 -36.3 1 1.1-1.4z" fill="#71cd64" stroke="#71cd64"/>
<path d="M512.5 237.9l2.2 1.2 -33 .9 1.1-1.3z" fill="#90ca4d" stroke="#90ca4d"/>
<path d="M510.3 236.6l2.2 1.3 -29.7 .8 1.2-1.3z" fill="#adc638" stroke="#adc638"/>
<path d="M508.2 235.4l2.1 1.2 -26.3 .8 1.1-1.4z" fill="#c8c129" stroke="#c8c129"/>
<path d="M506 234.1l2.2 1.3 -23.1 .6 1.1-1.3z" fill="#e0bc2a" stroke="#e0bc2a"/>
<path d="M503.8 232.9l2.2 1.2 -19.8 .6 1.1-1.4z" fill="#f3ba39" stroke="#f3ba39"/>
<path d="M501.6 231.7l2.2 1.2 -16.5 .4 1.1-1.3z" fill="#fec13a" stroke="#fec13a"/>
<path d="M499.4 230.4l2.2 1.3 -13.2 .3 1.1-1.3z" fill="#fdcd31" stroke="#fdcd31"/>
<path d="M497.3 229.2l2.1 1.2 -9.9 .3 1.2-1.4z" fill="#f7db2b" stroke="#f7db2b"/>
<path d="M495.1 227.9l2.2 1.3 -6.6 .1 1.1-1.3z" fill="#f5e825" stroke="#f5e825"/>
<path d="M492.9 226.7l2.2 1.2 -3.3 .1z" fill="#f7f51b" stroke="#f7f51b"/>
</g>
<g opacity="0.5">
<path d="M538.7 249l-2.2 2.6 7.7-1.5z" fill="#259ce7" stroke="#259ce7"/>
<path d="M540.9 246.4l-2.2 2.6 5.5 1.1 7.7-1.5z" fill="#1fa5e2" stroke="#1fa5e2"/>
<path d="M543 243.8l-2.1 2.6 11 2.2 7.7-1.5z" fill="#17aeda" stroke="#17aeda"/>
<path d="M545.2 241.2l-2.2 2.6 16.6 3.3 7.7-1.6z" fill="#05b6ce" stroke="#05b6ce"/>
<path d="M547.4 238.6l-2.2 2.6 22.1 4.3 7.8-1.5z" fill="#06bcc0" stroke="#06bcc0"/>
<path d="M549.6 236l-2.2 2.6 27.7 5.4 7.7-1.5z" fill="#1fc0b2" stroke="#1fc0b2"/>
<path d="M551.8 233.4l-2.2 2.6 33.2 6.5 7.7-1.5z" fill="#2fc5a2" stroke="#2fc5a2"/>
<path d="M553.9 230.8l-2.1 2.6 38.7 7.6 7.7-1.5z" fill="#3dc990" stroke="#3dc990"/>
<path d="M556.1 228.2l-2.2 2.6 44.3 8.7 7.7-1.6z" fill="#55cc7c" stroke="#55cc7c"/>
<path d="M613.6 236.4l0 0 -55.3-10.8 -2.2 2.6 49.8 9.7z" fill="#71cd64" stroke="#71cd64"/>
<path d="M613.6 236.4l-3.3-3.6 -49.8-9.8 -2.2 2.6 55.3 10.8z" fill="#90ca4d" stroke="#90ca4d"/>
<path d="M610.3 232.8l-3.4-3.7 -44.2-8.7 -2.2 2.6z" fill="#adc638" stroke="#adc638"/>
<path d="M606.9 229.1l-3.4-3.7 -38.7-7.6 -2.1 2.6z" fill="#c8c129" stroke="#c8c129"/>
<path d="M603.5 225.4l-3.3-3.7 -33.2-6.5 -2.2 2.6z" fill="#e0bc2a" stroke="#e0bc2a"/>
<path d="M600.2 221.7l-3.4-3.7 -27.6-5.4 -2.2 2.6z" fill="#f3ba39" stroke="#f3ba39"/>
<path d="M596.8 218l-3.3-3.7 -22.1-4.3 -2.2 2.6z" fill="#fec13a" stroke="#fec13a"/>
<path d="M593.5 214.3l-3.3-3.6 -16.6-3.3 -2.2 2.6z" fill="#fdcd31" stroke="#fdcd31"/>
<path d="M590.2 210.7l-3.4-3.7 -11.1-2.2 -2.1 2.6z" fill="#f7db2b" stroke="#f7db2b"/>
<path d="M586.8 207l-3.4-3.7 -5.5-1.1 -2.2 2.6z" fill="#f5e825" stroke="#f5e825"/>
<path d="M583.4 203.3l-3.3-3.7 -2.2 2.6z" fill="#f7f51b" stroke="#f7f51b"/>
</g>
<g opacity="0.5">
<path d="M544.2 250.1l-7.7 1.5 1.7-1z" fill="#259ce7" stroke="#259ce7"/>
<path d="M551.9 248.6l-7.7 1.5 -6 .5 1.7-1.1z" fill="#1fa5e2" stroke="#1fa5e2"/>
<path d="M559.6 247.1l-7.7 1.5 -12 .9 1.6-1z" fill="#17aeda" stroke="#17aeda"/>
<path d="M567.3 245.5l-7.7 1.6 -18.1 1.4 1.7-1.1z" fill="#05b6ce" stroke="#05b6ce"/>
<path d="M575.1 244l-7.8 1.5 -24.1 1.9 1.7-1z" fill="#06bcc0" stroke="#06bcc0"/>
<path d="M582.8 242.5l-7.7 1.5 -30.2 2.4 1.7-1.1z" fill="#1fc0b2" stroke="#1fc0b2"/>
<path d="M590.5 241l-7.7 1.5 -36.2 2.8 1.6-1z" fill="#2fc5a2" stroke="#2fc5a2"/>
<path d="M598.2 239.5l-7.7 1.5 -42.3 3.3 1.7-1z" fill="#3dc990" stroke="#3dc990"/>
<path d="M605.9 237.9l-7.7 1.6 -48.3 3.8 1.7-1.1z" fill="#55cc7c" stroke="#55cc7c"/>
<path d="M613.6 236.4l0 0 -7.7 1.5 -54.3 4.3 1.7-1z" fill="#71cd64" stroke="#71cd64"/>
<path d="M609.2 235.9l4.4 .5 0 0 -60.3 4.8 1.6-1.1z" fill="#90ca4d" stroke="#90ca4d"/>
<path d="M604.9 235.3l4.3 .6 -54.3 4.2 1.7-1z" fill="#adc638" stroke="#adc638"/>
<path d="M600.5 234.7l4.4 .6 -48.3 3.8 1.7-1.1z" fill="#c8c129" stroke="#c8c129"/>
<path d="M596.2 234.2l4.3 .5 -42.2 3.3 1.6-1z" fill="#e0bc2a" stroke="#e0bc2a"/>
<path d="M591.8 233.6l4.4 .6 -36.3 2.8 1.7-1.1z" fill="#f3ba39" stroke="#f3ba39"/>
<path d="M587.4 233l4.4 .6 -30.2 2.3 1.7-1z" fill="#fec13a" stroke="#fec13a"/>
<path d="M583.1 232.4l4.3 .6 -24.1 1.9 1.7-1z" fill="#fdcd31" stroke="#fdcd31"/>
<path d="M578.7 231.9l4.4 .5 -18.1 1.5 1.7-1.1z" fill="#f7db2b" stroke="#f7db2b"/>
<path d="M574.4 231.3l4.3 .6 -12 .9 1.6-1z" fill="#f5e825" stroke="#f5e825"/>
<path d="M570 230.7l4.4 .6 -6.1 .5z" fill="#f7f51b" stroke="#f7f51b"/>
</g>
<g opacity="0.5">
<path d="M660.5 222.7l-3.3 .2 -43.6 13.5 7.7-1.5z" fill="#90ca4d" stroke="#90ca4d"/>
<path d="M663.9 222.6l-3.4 .1 -39.2 12.2 7.7-1.5z" fill="#adc638" stroke="#adc638"/>
<path d="M667.3 222.4l-3.4 .2 -34.9 10.8 7.7-1.5z" fill="#c8c129" stroke="#c8c129"/>
<path d="M670.6 222.2l-3.3 .2 -30.6 9.5 7.7-1.5z" fill="#e0bc2a" stroke="#e0bc2a"/>
<path d="M674 222.1l-3.4 .1 -26.2 8.2 7.8-1.6z" fill="#f3ba39" stroke="#f3ba39"/>
<path d="M677.3 221.9l-3.3 .2 -21.8 6.7 7.7-1.5z" fill="#fec13a" stroke="#fec13a"/>
<path d="M680.6 221.8l-3.3 .1 -17.4 5.4 7.7-1.5z" fill="#fdcd31" stroke="#fdcd31"/>
<path d="M684 221.6l-3.4 .2 -13 4 7.7-1.5z" fill="#f7db2b" stroke="#f7db2b"/>
<path d="M687.4 221.4l-3.4 .2 -8.7 2.7 7.7-1.5z" fill="#f5e825" stroke="#f5e825"/>
<path d="M690.7 221.3l-3.3 .1 -4.4 1.4z" fill="#f7f51b" stroke="#f7f51b"/>
</g>
<g opacity="0.5">
<path d="M621.3 234.9l-7.7 1.5 3.3-.1z" fill="#90ca4d" stroke="#90ca4d"/>
<path d="M629 233.4l-7.7 1.5 -4.4 1.4 3.4-.2z" fill="#adc638" stroke="#adc638"/>
<path d="M636.7 231.9l-7.7 1.5 -8.7 2.7 3.4-.2z" fill="#c8c129" stroke="#c8c129"/>
<path d="M644.4 230.4l-7.7 1.5 -13 4 3.3-.1z" fill="#e0bc2a" stroke="#e0bc2a"/>
<path d="M652.2 228.8l-7.8 1.6 -17.4 5.4 3.4-.2z" fill="#f3ba39" stroke="#f3ba39"/>
<path d="M659.9 227.3l-7.7 1.5 -21.8 6.8 3.3-.1z" fill="#fec13a" stroke="#fec13a"/>
<path d="M667.6 225.8l-7.7 1.5 -26.2 8.2 3.3-.2z" fill="#fdcd31" stroke="#fdcd31"/>
<path d="M675.3 224.3l-7.7 1.5 -30.6 9.5 3.4-.2z" fill="#f7db2b" stroke="#f7db2b"/>
<path d="M683 222.8l-7.7 1.5 -34.9 10.8 3.4-.1z" fill="#f5e825" stroke="#f5e825"/>
<path d="M647.1 234.8l43.6-13.5 -7.7 1.5 -39.2 12.2z" fill="#f7f51b" stroke="#f7f51b"/>
</g>
<path d="M844.9 229.4l-33.5-17.6 -43.6 13.5z" fill="#f9fb15" fill-opacity="0.5" stroke="none"/>
<g opacity="0.5">
<path d="M801.3 262.2l4.4-3.3 -7.7-.4z" fill="#90ca4d" stroke="#90ca4d"/>
<path d="M805.7 258.9l4.3-3.3 -15.4-.8 3.4 3.7z" fill="#adc638" stroke="#adc638"/>
<path d="M810 255.6l4.4-3.3 -23.2-1.2 3.4 3.7z" fill="#c8c129" stroke="#c8c129"/>
<path d="M814.4 252.3l4.3-3.2 -30.8-1.7 3.3 3.7z" fill="#e0bc2a" stroke="#e0bc2a"/>
<path d="M818.7 249.1l4.4-3.3 -38.5-2.1 3.3 3.7z" fill="#f3ba39" stroke="#f3ba39"/>
<path d="M823.1 245.8l4.4-3.3 -46.3-2.4 3.4 3.6z" fill="#fec13a" stroke="#fec13a"/>
<path d="M827.5 242.5l4.3-3.3 -53.9-2.8 3.3 3.7z" fill="#fdcd31" stroke="#fdcd31"/>
<path d="M831.8 239.2l4.4-3.2 -61.7-3.3 3.4 3.7z" fill="#f7db2b" stroke="#f7db2b"/>
<path d="M836.2 236l4.3-3.3 -69.4-3.7 3.4 3.7z" fill="#f5e825" stroke="#f5e825"/>
<path d="M840.5 232.7l4.4-3.3 -77.1-4.1 3.3 3.7z" fill="#f7f51b" stroke="#f7f51b"/>
</g>
<g opacity="0.5">
<path d="M922 252.7l-3.3-3.7 -4.4 1.4z" fill="#90ca4d" stroke="#90ca4d"/>
<path d="M918.7 249l-3.4-3.7 -8.7 2.7 7.7 2.4z" fill="#adc638" stroke="#adc638"/>
<path d="M915.3 245.3l-3.4-3.7 -13 4.1 7.7 2.3z" fill="#c8c129" stroke="#c8c129"/>
<path d="M911.9 241.6l-3.3-3.6 -17.4 5.4 7.7 2.3z" fill="#e0bc2a" stroke="#e0bc2a"/>
<path d="M908.6 238l-3.4-3.7 -21.8 6.7 7.8 2.4z" fill="#f3ba39" stroke="#f3ba39"/>
<path d="M905.2 234.3l-3.3-3.7 -26.2 8.1 7.7 2.3z" fill="#fec13a" stroke="#fec13a"/>
<path d="M901.9 230.6l-3.3-3.7 -30.6 9.5 7.7 2.3z" fill="#fdcd31" stroke="#fdcd31"/>
<path d="M898.6 226.9l-3.4-3.7 -34.9 10.9 7.7 2.3z" fill="#f7db2b" stroke="#f7db2b"/>
<path d="M895.2 223.2l-3.4-3.7 -39.2 12.2 7.7 2.4z" fill="#f5e825" stroke="#f5e825"/>
<path d="M891.8 219.5l-3.3-3.6 -43.6 13.5 7.7 2.3z" fill="#f7f51b" stroke="#f7f51b"/>
</g>
<g opacity="0.5">
<path d="M878.4 266.2l43.6-13.5 -7.7-2.3 -39.2 12.2z" fill="#90ca4d" stroke="#90ca4d"/>
<path d="M914.3 250.4l-7.7-2.4 -34.9 10.9 3.4 3.7z" fill="#adc638" stroke="#adc638"/>
<path d="M906.6 248l-7.7-2.3 -30.6 9.5 3.4 3.7z" fill="#c8c129" stroke="#c8c129"/>
<path d="M898.9 245.7l-7.7-2.3 -26.2 8.1 3.3 3.7z" fill="#e0bc2a" stroke="#e0bc2a"/>
<path d="M891.2 243.4l-7.8-2.4 -21.8 6.8 3.4 3.7z" fill="#f3ba39" stroke="#f3ba39"/>
<path d="M883.4 241l-7.7-2.3 -17.4 5.4 3.3 3.7z" fill="#fec13a" stroke="#fec13a"/>
<path d="M875.7 238.7l-7.7-2.3 -13 4.1 3.3 3.6z" fill="#fdcd31" stroke="#fdcd31"/>
<path d="M868 236.4l-7.7-2.3 -8.7 2.7 3.4 3.7z" fill="#f7db2b" stroke="#f7db2b"/>
<path d="M860.3 234.1l-7.7-2.4 -4.4 1.4 3.4 3.7z" fill="#f5e825" stroke="#f5e825"/>
<path d="M852.6 231.7l-7.7-2.3 3.3 3.7z" fill="#f7f51b" stroke="#f7f51b"/>
</g>
<g opacity="0.5">
<path d="M926.4 249.4l-4.4 3.3 7.7-1.5z" fill="#90ca4d" stroke="#90ca4d"/>
<path d="M930.7 246.1l-4.3 3.3 3.3 1.8 7.7-1.5z" fill="#adc638" stroke="#adc638"/>
<path d="M935.1 242.9l-4.4 3.2 6.7 3.6 7.7-1.6z" fill="#c8c129" stroke="#c8c129"/>
<path d="M939.4 239.6l-4.3 3.3 10 5.2 7.7-1.5z" fill="#e0bc2a" stroke="#e0bc2a"/>
<path d="M943.8 236.3l-4.4 3.3 13.4 7 7.8-1.5z" fill="#f3ba39" stroke="#f3ba39"/>
<path d="M948.2 233l-4.4 3.3 16.8 8.8 7.7-1.5z" fill="#fec13a" stroke="#fec13a"/>
<path d="M952.5 229.8l-4.3 3.2 20.1 10.6 7.7-1.5z" fill="#fdcd31" stroke="#fdcd31"/>
<path d="M956.9 226.5l-4.4 3.3 23.5 12.3 7.7-1.5z" fill="#f7db2b" stroke="#f7db2b"/>
<path d="M961.2 223.2l-4.3 3.3 26.8 14.1 7.7-1.6z" fill="#f5e825" stroke="#f5e825"/>
<path d="M999.1 237.5l-33.5-17.6 -4.4 3.3 30.2 15.8z" fill="#f7f51b" stroke="#f7f51b"/>
</g>
<g opacity="0.5">
<path d="M929.7 251.2l-7.7 1.5 3.3-.2z" fill="#90ca4d" stroke="#90ca4d"/>
<path d="M937.4 249.7l-7.7 1.5 -4.4 1.3 3.4-.1z" fill="#adc638" stroke="#adc638"/>
<path d="M945.1 248.1l-7.7 1.6 -8.7 2.7 3.4-.2z" fill="#c8c129" stroke="#c8c129"/>
<path d="M952.8 246.6l-7.7 1.5 -13 4.1 3.3-.2z" fill="#e0bc2a" stroke="#e0bc2a"/>
<path d="M960.6 245.1l-7.8 1.5 -17.4 5.4 3.4-.1z" fill="#f3ba39" stroke="#f3ba39"/>
<path d="M968.3 243.6l-7.7 1.5 -21.8 6.8 3.3-.2z" fill="#fec13a" stroke="#fec13a"/>
<path d="M976 242.1l-7.7 1.5 -26.2 8.1 3.3-.1z" fill="#fdcd31" stroke="#fdcd31"/>
<path d="M983.7 240.6l-7.7 1.5 -30.6 9.5 3.4-.2z" fill="#f7db2b" stroke="#f7db2b"/>
<path d="M991.4 239l-7.7 1.6 -34.9 10.8 3.4-.2z" fill="#f5e825" stroke="#f5e825"/>
<path d="M955.5 251.1l43.6-13.6 -7.7 1.5 -39.2 12.2z" fill="#f7f51b" stroke="#f7f51b"/>
</g>
<g opacity="0.5">
<path d="M1046 243.1l-3.3 .1 -4.4-.5z" fill="#90ca4d" stroke="#90ca4d"/>
<path d="M1049.4 242.9l-3.4 .2 -7.7-.4 -4.3-.6z" fill="#adc638" stroke="#adc638"/>
<path d="M1052.8 242.7l-3.4 .2 -15.4-.8 -4.4-.6z" fill="#c8c129" stroke="#c8c129"/>
<path d="M1056.1 242.6l-3.3 .1 -23.2-1.2 -4.3-.5z" fill="#e0bc2a" stroke="#e0bc2a"/>
<path d="M1059.4 242.4l-3.3 .2 -30.8-1.6 -4.4-.6z" fill="#f3ba39" stroke="#f3ba39"/>
<path d="M1062.8 242.3l-3.4 .1 -38.5-2 -4.4-.6z" fill="#fec13a" stroke="#fec13a"/>
<path d="M1066.1 242.1l-3.3 .2 -46.3-2.5 -4.3-.6z" fill="#fdcd31" stroke="#fdcd31"/>
<path d="M1069.5 241.9l-3.4 .2 -53.9-2.9 -4.4-.5z" fill="#f7db2b" stroke="#f7db2b"/>
<path d="M1072.9 241.8l-3.4 .1 -61.7-3.2 -4.3-.6z" fill="#f5e825" stroke="#f5e825"/>
<path d="M1076.2 241.6l-3.3 .2 -69.4-3.7 -4.4-.6z" fill="#f7f51b" stroke="#f7f51b"/>
</g>
<path d="M1032.6 255.1l43.6-13.5 -77.1-4.1z" fill="#f9fb15" fill-opacity="0.5" stroke="none"/>
<path d="M1307.5 253.8l-33.5-17.6 -43.6 13.5z" fill="#f9fb15" fill-opacity="0.5" stroke="none"/>
<g opacity="0.5">
<path d="M1263.9 286.6l4.4-3.3 -7.7-.4z" fill="#90ca4d" stroke="#90ca4d"/>
<path d="M1268.3 283.3l4.3-3.3 -15.4-.8 3.4 3.7z" fill="#adc638" stroke="#adc638"/>
<path d="M1272.6 280l4.4-3.3 -23.2-1.2 3.4 3.7z" fill="#c8c129" stroke="#c8c129"/>
<path d="M1277 276.7l4.3-3.2 -30.8-1.7 3.3 3.7z" fill="#e0bc2a" stroke="#e0bc2a"/>
<path d="M1281.3 273.5l4.4-3.3 -38.5-2.1 3.3 3.7z" fill="#f3ba39" stroke="#f3ba39"/>
<path d="M1285.7 270.2l4.4-3.3 -46.3-2.4 3.4 3.6z" fill="#fec13a" stroke="#fec13a"/>
<path d="M1290.1 266.9l4.3-3.3 -53.9-2.8 3.3 3.7z" fill="#fdcd31" stroke="#fdcd31"/>
<path d="M1294.4 263.6l4.4-3.2 -61.7-3.3 3.4 3.7z" fill="#f7db2b" stroke="#f7db2b"/>
<path d="M1298.8 260.4l4.3-3.3 -69.4-3.7 3.4 3.7z" fill="#f5e825" stroke="#f5e825"/>
<path d="M1303.1 257.1l4.4-3.3 -77.1-4.1 3.3 3.7z" fill="#f7f51b" stroke="#f7f51b"/>
</g>
<g opacity="0.5">
<path d="M338.7 237.8l-3.3-3.7 -4.4 1.3z" fill="#90ca4d" stroke="#90ca4d"/>
<path d="M335.4 234.1l-3.4-3.7 -8.7 2.7 7.7 2.3z" fill="#adc638" stroke="#adc638"/>
<path d="M332 230.4l-3.4-3.7 -13 4.1 7.7 2.3z" fill="#c8c129" stroke="#c8c129"/>
<path d="M328.6 226.7l-3.3-3.7 -17.4 5.4 7.7 2.4z" fill="#e0bc2a" stroke="#e0bc2a"/>
<path d="M325.3 223l-3.3-3.7 -21.8 6.8 7.7 2.3z" fill="#f3ba39" stroke="#f3ba39"/>
<path d="M322 219.3l-3.4-3.6 -26.2 8.1 7.8 2.3z" fill="#fec13a" stroke="#fec13a"/>
<path d="M318.6 215.7l-3.3-3.7 -30.6 9.5 7.7 2.3z" fill="#fdcd31" stroke="#fdcd31"/>
<path d="M315.3 212l-3.4-3.7 -34.9 10.8 7.7 2.4z" fill="#f7db2b" stroke="#f7db2b"/>
<path d="M311.9 208.3l-3.4-3.7 -39.2 12.2 7.7 2.3z" fill="#f5e825" stroke="#f5e825"/>
<path d="M308.5 204.6l-3.3-3.7 -43.6 13.6 7.7 2.3z" fill="#f7f51b" stroke="#f7f51b"/>
</g>
<g opacity="0.5">
<path d="M295.1 270.5l4.4-3.2 -6.1 .4z" fill="#259ce7" stroke="#259ce7"/>
<path d="M299.5 267.3l4.3-3.3 -12.1 .9 1.7 2.8z" fill="#1fa5e2" stroke="#1fa5e2"/>
<path d="M303.8 264l4.4-3.3 -18.1 1.4 1.6 2.8z" fill="#17aeda" stroke="#17aeda"/>
<path d="M308.2 260.7l4.3-3.3 -24.1 1.9 1.7 2.8z" fill="#05b6ce" stroke="#05b6ce"/>
<path d="M312.5 257.4l4.4-3.3 -30.2 2.4 1.7 2.8z" fill="#06bcc0" stroke="#06bcc0"/>
<path d="M316.9 254.1l4.4-3.2 -36.3 2.8 1.7 2.8z" fill="#1fc0b2" stroke="#1fc0b2"/>
<path d="M321.3 250.9l4.3-3.3 -42.2 3.3 1.6 2.8z" fill="#2fc5a2" stroke="#2fc5a2"/>
<path d="M325.6 247.6l4.4-3.3 -48.3 3.8 1.7 2.8z" fill="#3dc990" stroke="#3dc990"/>
<path d="M330 244.3l4.3-3.3 -54.3 4.3 1.7 2.8z" fill="#55cc7c" stroke="#55cc7c"/>
<path d="M334.3 241l4.4-3.2 0 0 -60.4 4.7 1.7 2.8z" fill="#71cd64" stroke="#71cd64"/>
<path d="M338.7 237.8l0 0 -7.7-2.4 -54.3 4.3 1.6 2.8z" fill="#90ca4d" stroke="#90ca4d"/>
<path d="M331 235.4l-7.7-2.3 -48.3 3.8 1.7 2.8z" fill="#adc638" stroke="#adc638"/>
<path d="M323.3 233.1l-7.7-2.3 -42.3 3.3 1.7 2.8z" fill="#c8c129" stroke="#c8c129"/>
<path d="M315.6 230.8l-7.7-2.4 -36.2 2.9 1.6 2.8z" fill="#e0bc2a" stroke="#e0bc2a"/>
<path d="M307.9 228.4l-7.7-2.3 -30.2 2.4 1.7 2.8z" fill="#f3ba39" stroke="#f3ba39"/>
<path d="M300.2 226.1l-7.8-2.3 -24.1 1.9 1.7 2.8z" fill="#fec13a" stroke="#fec13a"/>
<path d="M292.4 223.8l-7.7-2.3 -18.1 1.4 1.7 2.8z" fill="#fdcd31" stroke="#fdcd31"/>
<path d="M284.7 221.5l-7.7-2.4 -12.1 1 1.7 2.8z" fill="#f7db2b" stroke="#f7db2b"/>
<path d="M277 219.1l-7.7-2.3 -6 .5 1.6 2.8z" fill="#f5e825" stroke="#f5e825"/>
<path d="M269.3 216.8l-7.7-2.3 1.7 2.8z" fill="#f7f51b" stroke="#f7f51b"/>
</g>
<g opacity="0.5">
<path d="M385.6 224.1l-3.3 .1 -43.6 13.6 7.7-1.5z" fill="#90ca4d" stroke="#90ca4d"/>
<path d="M389 223.9l-3.4 .2 -39.2 12.2 7.7-1.6z" fill="#adc638" stroke="#adc638"/>
<path d="M392.4 223.7l-3.4 .2 -34.9 10.8 7.7-1.5z" fill="#c8c129" stroke="#c8c129"/>
<path d="M395.7 223.6l-3.3 .1 -30.6 9.5 7.7-1.5z" fill="#e0bc2a" stroke="#e0bc2a"/>
<path d="M399 223.4l-3.3 .2 -26.2 8.1 7.7-1.5z" fill="#f3ba39" stroke="#f3ba39"/>
<path d="M402.4 223.3l-3.4 .1 -21.8 6.8 7.8-1.5z" fill="#fec13a" stroke="#fec13a"/>
<path d="M405.7 223.1l-3.3 .2 -17.4 5.4 7.7-1.5z" fill="#fdcd31" stroke="#fdcd31"/>
<path d="M409.1 222.9l-3.4 .2 -13 4.1 7.7-1.6z" fill="#f7db2b" stroke="#f7db2b"/>
<path d="M412.5 222.8l-3.4 .1 -8.7 2.7 7.7-1.5z" fill="#f5e825" stroke="#f5e825"/>
<path d="M415.8 222.6l-3.3 .2 -4.4 1.3z" fill="#f7f51b" stroke="#f7f51b"/>
</g>
<g opacity="0.5">
<path d="M346.4 236.3l-7.7 1.5 3.3-.2z" fill="#90ca4d" stroke="#90ca4d"/>
<path d="M354.1 234.7l-7.7 1.6 -4.4 1.3 3.4-.2z" fill="#adc638" stroke="#adc638"/>
<path d="M361.8 233.2l-7.7 1.5 -8.7 2.7 3.4-.1z" fill="#c8c129" stroke="#c8c129"/>
<path d="M369.5 231.7l-7.7 1.5 -13 4.1 3.3-.2z" fill="#e0bc2a" stroke="#e0bc2a"/>
<path d="M377.2 230.2l-7.7 1.5 -17.4 5.4 3.4-.2z" fill="#f3ba39" stroke="#f3ba39"/>
<path d="M385 228.7l-7.8 1.5 -21.7 6.7 3.3-.1z" fill="#fec13a" stroke="#fec13a"/>
<path d="M392.7 227.2l-7.7 1.5 -26.2 8.1 3.3-.2z" fill="#fdcd31" stroke="#fdcd31"/>
<path d="M400.4 225.6l-7.7 1.6 -30.6 9.4 3.4-.1z" fill="#f7db2b" stroke="#f7db2b"/>
<path d="M408.1 224.1l-7.7 1.5 -34.9 10.9 3.4-.2z" fill="#f5e825" stroke="#f5e825"/>
<path d="M372.2 236.1l43.6-13.5 -7.7 1.5 -39.2 12.2z" fill="#f7f51b" stroke="#f7f51b"/>
</g>
<g opacity="0.5">
<path d="M460.5 265.4l-1.1 1.4 -1.5-1.5z" fill="#402ab5" stroke="#402ab5"/>
<path d="M461.6 264.1l-1.1 1.3 -2.6-.1 -1.4-1.5z" fill="#4433cc" stroke="#4433cc"/>
<path d="M462.8 262.8l-1.2 1.3 -5.1-.3 -1.5-1.5z" fill="#463de0" stroke="#463de0"/>
<path d="M463.9 261.4l-1.1 1.4 -7.8-.5 -1.4-1.4z" fill="#4849ed" stroke="#4849ed"/>
<path d="M465 260.1l-1.1 1.3 -10.3-.5 -1.5-1.5z" fill="#4755f6" stroke="#4755f6"/>
<path d="M466.1 258.7l-1.1 1.4 -12.9-.7 -1.4-1.5z" fill="#4661fc" stroke="#4661fc"/>
<path d="M467.2 257.4l-1.1 1.3 -15.4-.8 -1.5-1.4z" fill="#406dfe" stroke="#406dfe"/>
<path d="M468.3 256.1l-1.1 1.3 -18-.9 -1.4-1.5z" fill="#347afd" stroke="#347afd"/>
<path d="M469.5 254.7l-1.2 1.4 -20.5-1.1 -1.5-1.5z" fill="#2e86f7" stroke="#2e86f7"/>
<path d="M470.6 253.4l-1.1 1.3 -23.2-1.2 -1.4-1.5z" fill="#2b91ef" stroke="#2b91ef"/>
<path d="M471.7 252.1l-1.1 1.3 -25.7-1.4 -1.5-1.4z" fill="#259ce7" stroke="#259ce7"/>
<path d="M472.8 250.7l-1.1 1.4 -28.3-1.5 -1.4-1.5z" fill="#1fa5e2" stroke="#1fa5e2"/>
<path d="M473.9 249.4l-1.1 1.3 -30.8-1.6 -1.5-1.5z" fill="#17aeda" stroke="#17aeda"/>
<path d="M475 248.1l-1.1 1.3 -33.4-1.8 -1.4-1.4z" fill="#05b6ce" stroke="#05b6ce"/>
<path d="M476.2 246.7l-1.2 1.4 -35.9-1.9 -1.5-1.5z" fill="#06bcc0" stroke="#06bcc0"/>
<path d="M477.3 245.4l-1.1 1.3 -38.6-2 -1.5-1.5z" fill="#1fc0b2" stroke="#1fc0b2"/>
<path d="M478.4 244l-1.1 1.4 -41.2-2.2 -1.4-1.5z" fill="#2fc5a2" stroke="#2fc5a2"/>
<path d="M479.5 242.7l-1.1 1.3 -43.7-2.3 -1.5-1.4z" fill="#3dc990" stroke="#3dc990"/>
<path d="M480.6 241.4l-1.1 1.3 -46.3-2.4 -1.4-1.5z" fill="#55cc7c" stroke="#55cc7c"/>
<path d="M481.7 240l-1.1 1.4 -48.8-2.6 -1.5-1.5z" fill="#71cd64" stroke="#71cd64"/>
<path d="M482.8 238.7l-1.1 1.3 -51.4-2.7 -1.4-1.4z" fill="#90ca4d" stroke="#90ca4d"/>
<path d="M484 237.4l-1.2 1.3 -53.9-2.8 -1.5-1.5z" fill="#adc638" stroke="#adc638"/>
<path d="M485.1 236l-1.1 1.4 -56.6-3 -1.4-1.5z" fill="#c8c129" stroke="#c8c129"/>
<path d="M486.2 234.7l-1.1 1.3 -59.1-3.1 -1.5-1.5z" fill="#e0bc2a" stroke="#e0bc2a"/>
<path d="M487.3 233.3l-1.1 1.4 -61.7-3.3 -1.4-1.4z" fill="#f3ba39" stroke="#f3ba39"/>
<path d="M488.4 232l-1.1 1.3 -64.2-3.3 -1.5-1.5z" fill="#fec13a" stroke="#fec13a"/>
<path d="M489.5 230.7l-1.1 1.3 -66.8-3.5 -1.4-1.5z" fill="#fdcd31" stroke="#fdcd31"/>
<path d="M490.7 229.3l-1.2 1.4 -69.3-3.7 -1.5-1.5z" fill="#f7db2b" stroke="#f7db2b"/>
<path d="M491.8 228l-1.1 1.3 -72-3.8 -1.4-1.4z" fill="#f5e825" stroke="#f5e825"/>
<path d="M492.9 226.7l-1.1 1.3 -74.5-3.9 -1.5-1.5z" fill="#f7f51b" stroke="#f7f51b"/>
</g>
<path d="M449.3 240.2l43.6-13.5 -77.1-4.1z" fill="#f9fb15" fill-opacity="0.5" stroke="none"/>
<g opacity="0.5">
<path d="M538.2 250.6l-1.7 1 -2.2-1.2z" fill="#259ce7" stroke="#259ce7"/>
<path d="M539.9 249.5l-1.7 1.1 -3.9-.2 -2.2-1.3z" fill="#1fa5e2" stroke="#1fa5e2"/>
<path d="M541.5 248.5l-1.6 1 -7.8-.4 -2.1-1.2z" fill="#17aeda" stroke="#17aeda"/>
<path d="M543.2 247.4l-1.7 1.1 -11.5-.6 -2.2-1.3z" fill="#05b6ce" stroke="#05b6ce"/>
<path d="M544.9 246.4l-1.7 1 -15.4-.8 -2.2-1.2z" fill="#06bcc0" stroke="#06bcc0"/>
<path d="M546.6 245.3l-1.7 1.1 -19.3-1 -2.2-1.3z" fill="#1fc0b2" stroke="#1fc0b2"/>
<path d="M548.2 244.3l-1.6 1 -23.2-1.2 -2.2-1.2z" fill="#2fc5a2" stroke="#2fc5a2"/>
<path d="M549.9 243.3l-1.7 1 -27-1.4 -2.1-1.3z" fill="#3dc990" stroke="#3dc990"/>
<path d="M551.6 242.2l-1.7 1.1 -30.8-1.7 -2.2-1.2z" fill="#55cc7c" stroke="#55cc7c"/>
<path d="M553.3 241.2l-1.7 1 -34.7-1.8 -2.2-1.3z" fill="#71cd64" stroke="#71cd64"/>
<path d="M554.9 240.1l-1.6 1.1 -38.6-2.1 -2.2-1.2z" fill="#90ca4d" stroke="#90ca4d"/>
<path d="M556.6 239.1l-1.7 1 -42.4-2.2 -2.2-1.3z" fill="#adc638" stroke="#adc638"/>
<path d="M558.3 238l-1.7 1.1 -46.3-2.5 -2.1-1.2z" fill="#c8c129" stroke="#c8c129"/>
<path d="M559.9 237l-1.6 1 -50.1-2.6 -2.2-1.3z" fill="#e0bc2a" stroke="#e0bc2a"/>
<path d="M561.6 235.9l-1.7 1.1 -53.9-2.9 -2.2-1.2z" fill="#f3ba39" stroke="#f3ba39"/>
<path d="M563.3 234.9l-1.7 1 -57.8-3 -2.2-1.2z" fill="#fec13a" stroke="#fec13a"/>
<path d="M565 233.9l-1.7 1 -61.7-3.2 -2.2-1.3z" fill="#fdcd31" stroke="#fdcd31"/>
<path d="M566.7 232.8l-1.7 1.1 -65.6-3.5 -2.1-1.2z" fill="#f7db2b" stroke="#f7db2b"/>
<path d="M568.3 231.8l-1.6 1 -69.4-3.6 -2.2-1.3z" fill="#f5e825" stroke="#f5e825"/>
<path d="M570 230.7l-1.7 1.1 -73.2-3.9 -2.2-1.2z" fill="#f7f51b" stroke="#f7f51b"/>
</g>
<path d="M526.4 244.3l43.6-13.6 -77.1-4z" fill="#f9fb15" fill-opacity="0.5" stroke="none"/>
<g opacity="0.5">
<path d="M616.9 236.3l-3.3 .1 -4.4-.5z" fill="#90ca4d" stroke="#90ca4d"/>
<path d="M620.3 236.1l-3.4 .2 -7.7-.4 -4.3-.6z" fill="#adc638" stroke="#adc638"/>
<path d="M623.7 235.9l-3.4 .2 -15.4-.8 -4.4-.6z" fill="#c8c129" stroke="#c8c129"/>
<path d="M627 235.8l-3.3 .1 -23.2-1.2 -4.3-.5z" fill="#e0bc2a" stroke="#e0bc2a"/>
<path d="M630.4 235.6l-3.4 .2 -30.8-1.6 -4.4-.6z" fill="#f3ba39" stroke="#f3ba39"/>
<path d="M633.7 235.5l-3.3 .1 -38.6-2 -4.4-.6z" fill="#fec13a" stroke="#fec13a"/>
<path d="M637 235.3l-3.3 .2 -46.3-2.5 -4.3-.6z" fill="#fdcd31" stroke="#fdcd31"/>
<path d="M640.4 235.1l-3.4 .2 -53.9-2.9 -4.4-.5z" fill="#f7db2b" stroke="#f7db2b"/>
<path d="M643.8 235l-3.4 .1 -61.7-3.2 -4.3-.6z" fill="#f5e825" stroke="#f5e825"/>
<path d="M647.1 234.8l-3.3 .2 -69.4-3.7 -4.4-.6z" fill="#f7f51b" stroke="#f7f51b"/>
</g>
<path d="M603.5 248.3l43.6-13.5 -77.1-4.1z" fill="#f9fb15" fill-opacity="0.5" stroke="none"/>
<path d="M724.2 238.9l-33.5-17.6 -43.6 13.5z" fill="#f9fb15" fill-opacity="0.5" stroke="none"/>
<g opacity="0.5">
<path d="M680.6 271.6l4.4-3.2 -7.7-.4z" fill="#90ca4d" stroke="#90ca4d"/>
<path d="M685 268.4l4.3-3.3 -15.4-.8 3.4 3.7z" fill="#adc638" stroke="#adc638"/>
<path d="M689.3 265.1l4.4-3.3 -23.2-1.2 3.4 3.7z" fill="#c8c129" stroke="#c8c129"/>
<path d="M693.7 261.8l4.3-3.3 -30.8-1.6 3.3 3.7z" fill="#e0bc2a" stroke="#e0bc2a"/>
<path d="M698 258.5l4.4-3.3 -38.6-2 3.4 3.7z" fill="#f3ba39" stroke="#f3ba39"/>
<path d="M702.4 255.2l4.4-3.2 -46.3-2.5 3.3 3.7z" fill="#fec13a" stroke="#fec13a"/>
<path d="M706.8 252l4.3-3.3 -53.9-2.8 3.3 3.6z" fill="#fdcd31" stroke="#fdcd31"/>
<path d="M711.1 248.7l4.4-3.3 -61.7-3.2 3.4 3.7z" fill="#f7db2b" stroke="#f7db2b"/>
<path d="M715.5 245.4l4.3-3.3 -69.4-3.6 3.4 3.7z" fill="#f5e825" stroke="#f5e825"/>
<path d="M719.8 242.1l4.4-3.2 -77.1-4.1 3.3 3.7z" fill="#f7f51b" stroke="#f7f51b"/>
</g>
<g opacity="0.5">
<path d="M801.3 262.2l-3.3-3.7 -4.4 1.3z" fill="#90ca4d" stroke="#90ca4d"/>
<path d="M798 258.5l-3.4-3.7 -8.7 2.7 7.7 2.3z" fill="#adc638" stroke="#adc638"/>
<path d="M794.6 254.8l-3.4-3.7 -13 4.1 7.7 2.3z" fill="#c8c129" stroke="#c8c129"/>
<path d="M791.2 251.1l-3.3-3.7 -17.4 5.4 7.7 2.4z" fill="#e0bc2a" stroke="#e0bc2a"/>
<path d="M787.9 247.4l-3.3-3.7 -21.8 6.8 7.7 2.3z" fill="#f3ba39" stroke="#f3ba39"/>
<path d="M784.6 243.7l-3.4-3.6 -26.2 8.1 7.8 2.3z" fill="#fec13a" stroke="#fec13a"/>
<path d="M781.2 240.1l-3.3-3.7 -30.6 9.5 7.7 2.3z" fill="#fdcd31" stroke="#fdcd31"/>
<path d="M777.9 236.4l-3.4-3.7 -34.9 10.8 7.7 2.4z" fill="#f7db2b" stroke="#f7db2b"/>
<path d="M774.5 232.7l-3.4-3.7 -39.2 12.2 7.7 2.3z" fill="#f5e825" stroke="#f5e825"/>
<path d="M771.1 229l-3.3-3.7 -43.6 13.6 7.7 2.3z" fill="#f7f51b" stroke="#f7f51b"/>
</g>
<g opacity="0.5">
<path d="M757.7 275.7l43.6-13.5 -7.7-2.4 -39.2 12.2z" fill="#90ca4d" stroke="#90ca4d"/>
<path d="M793.6 259.8l-7.7-2.3 -34.9 10.8 3.4 3.7z" fill="#adc638" stroke="#adc638"/>
<path d="M785.9 257.5l-7.7-2.3 -30.6 9.4 3.4 3.7z" fill="#c8c129" stroke="#c8c129"/>
<path d="M778.2 255.2l-7.7-2.4 -26.2 8.2 3.3 3.6z" fill="#e0bc2a" stroke="#e0bc2a"/>
<path d="M770.5 252.8l-7.7-2.3 -21.8 6.8 3.3 3.7z" fill="#f3ba39" stroke="#f3ba39"/>
<path d="M762.8 250.5l-7.8-2.3 -17.4 5.4 3.4 3.7z" fill="#fec13a" stroke="#fec13a"/>
<path d="M755 248.2l-7.7-2.3 -13 4 3.3 3.7z" fill="#fdcd31" stroke="#fdcd31"/>
<path d="M747.3 245.9l-7.7-2.4 -8.7 2.7 3.4 3.7z" fill="#f7db2b" stroke="#f7db2b"/>
<path d="M739.6 243.5l-7.7-2.3 -4.4 1.3 3.4 3.7z" fill="#f5e825" stroke="#f5e825"/>
<path d="M731.9 241.2l-7.7-2.3 3.3 3.6z" fill="#f7f51b" stroke="#f7f51b"/>
</g>
<g opacity="0.5">
<path d="M878.4 266.2l-3.3-3.6 -69.4-3.7 -4.4 3.3z" fill="#90ca4d" stroke="#90ca4d"/>
<path d="M875.1 262.6l-3.4-3.7 -61.7-3.3 -4.3 3.3z" fill="#adc638" stroke="#adc638"/>
<path d="M871.7 258.9l-3.4-3.7 -53.9-2.9 -4.4 3.3z" fill="#c8c129" stroke="#c8c129"/>
<path d="M868.3 255.2l-3.3-3.7 -46.3-2.4 -4.3 3.2z" fill="#e0bc2a" stroke="#e0bc2a"/>
<path d="M865 251.5l-3.4-3.7 -38.5-2 -4.4 3.3z" fill="#f3ba39" stroke="#f3ba39"/>
<path d="M861.6 247.8l-3.3-3.7 -30.8-1.6 -4.4 3.3z" fill="#fec13a" stroke="#fec13a"/>
<path d="M858.3 244.1l-3.3-3.6 -23.2-1.3 -4.3 3.3z" fill="#fdcd31" stroke="#fdcd31"/>
<path d="M855 240.5l-3.4-3.7 -15.4-.8 -4.4 3.2z" fill="#f7db2b" stroke="#f7db2b"/>
<path d="M851.6 236.8l-3.4-3.7 -7.7-.4 -4.3 3.3z" fill="#f5e825" stroke="#f5e825"/>
<path d="M848.2 233.1l-3.3-3.7 -4.4 3.3z" fill="#f7f51b" stroke="#f7f51b"/>
</g>
<g opacity="0.5">
<path d="M874 265.7l4.4 .5 -77.1-4 3.3-.2z" fill="#90ca4d" stroke="#90ca4d"/>
<path d="M869.7 265.1l4.3 .6 -69.4-3.7 3.4-.2z" fill="#adc638" stroke="#adc638"/>
<path d="M865.3 264.5l4.4 .6 -61.7-3.3 3.4-.1z" fill="#c8c129" stroke="#c8c129"/>
<path d="M861 264l4.3 .5 -53.9-2.8 3.3-.2z" fill="#e0bc2a" stroke="#e0bc2a"/>
<path d="M856.6 263.4l4.4 .6 -46.3-2.5 3.3-.2z" fill="#f3ba39" stroke="#f3ba39"/>
<path d="M852.2 262.8l4.4 .6 -38.6-2.1 3.4-.1z" fill="#fec13a" stroke="#fec13a"/>
<path d="M847.9 262.2l4.3 .6 -30.8-1.6 3.3-.2z" fill="#fdcd31" stroke="#fdcd31"/>
<path d="M843.5 261.7l4.4 .5 -23.2-1.2 3.4-.1z" fill="#f7db2b" stroke="#f7db2b"/>
<path d="M839.2 261.1l4.3 .6 -15.4-.8 3.4-.2z" fill="#f5e825" stroke="#f5e825"/>
<path d="M834.8 260.5l4.4 .6 -7.7-.4z" fill="#f7f51b" stroke="#f7f51b"/>
</g>
<g opacity="0.5">
<path d="M925.3 252.5l-3.3 .2 -43.6 13.5 7.7-1.5z" fill="#90ca4d" stroke="#90ca4d"/>
<path d="M928.7 252.4l-3.4 .1 -39.2 12.2 7.7-1.5z" fill="#adc638" stroke="#adc638"/>
<path d="M932.1 252.2l-3.4 .2 -34.9 10.8 7.7-1.5z" fill="#c8c129" stroke="#c8c129"/>
<path d="M935.4 252l-3.3 .2 -30.6 9.5 7.7-1.5z" fill="#e0bc2a" stroke="#e0bc2a"/>
<path d="M938.8 251.9l-3.4 .1 -26.2 8.2 7.8-1.6z" fill="#f3ba39" stroke="#f3ba39"/>
<path d="M942.1 251.7l-3.3 .2 -21.8 6.7 7.7-1.5z" fill="#fec13a" stroke="#fec13a"/>
<path d="M945.4 251.6l-3.3 .1 -17.4 5.4 7.7-1.5z" fill="#fdcd31" stroke="#fdcd31"/>
<path d="M948.8 251.4l-3.4 .2 -13 4 7.7-1.5z" fill="#f7db2b" stroke="#f7db2b"/>
<path d="M952.2 251.2l-3.4 .2 -8.7 2.7 7.7-1.5z" fill="#f5e825" stroke="#f5e825"/>
<path d="M955.5 251.1l-3.3 .1 -4.4 1.4z" fill="#f7f51b" stroke="#f7f51b"/>
</g>
<g opacity="0.5">
<path d="M886.1 264.7l-7.7 1.5 3.3-.1z" fill="#90ca4d" stroke="#90ca4d"/>
<path d="M893.8 263.2l-7.7 1.5 -4.4 1.4 3.4-.2z" fill="#adc638" stroke="#adc638"/>
<path d="M901.5 261.7l-7.7 1.5 -8.7 2.7 3.4-.2z" fill="#c8c129" stroke="#c8c129"/>
<path d="M909.2 260.2l-7.7 1.5 -13 4 3.3-.1z" fill="#e0bc2a" stroke="#e0bc2a"/>
<path d="M917 258.6l-7.8 1.6 -17.4 5.4 3.4-.2z" fill="#f3ba39" stroke="#f3ba39"/>
<path d="M924.7 257.1l-7.7 1.5 -21.8 6.8 3.3-.1z" fill="#fec13a" stroke="#fec13a"/>
<path d="M932.4 255.6l-7.7 1.5 -26.2 8.2 3.3-.2z" fill="#fdcd31" stroke="#fdcd31"/>
<path d="M940.1 254.1l-7.7 1.5 -30.6 9.5 3.4-.2z" fill="#f7db2b" stroke="#f7db2b"/>
<path d="M947.8 252.6l-7.7 1.5 -34.9 10.8 3.4-.1z" fill="#f5e825" stroke="#f5e825"/>
<path d="M911.9 264.6l43.6-13.5 -7.7 1.5 -39.2 12.2z" fill="#f7f51b" stroke="#f7f51b"/>
</g>
<g opacity="0.5">
<path d="M1263.9 286.6l-3.3-3.7 -4.4 1.3z" fill="#90ca4d" stroke="#90ca4d"/>
<path d="M1260.6 282.9l-3.4-3.7 -8.7 2.7 7.7 2.3z" fill="#adc638" stroke="#adc638"/>
<path d="M1257.2 279.2l-3.4-3.7 -13 4.1 7.7 2.3z" fill="#c8c129" stroke="#c8c129"/>
<path d="M1253.8 275.5l-3.3-3.7 -17.4 5.4 7.7 2.4z" fill="#e0bc2a" stroke="#e0bc2a"/>
<path d="M1250.5 271.8l-3.3-3.7 -21.8 6.8 7.7 2.3z" fill="#f3ba39" stroke="#f3ba39"/>
<path d="M1247.2 268.1l-3.4-3.6 -26.2 8.1 7.8 2.3z" fill="#fec13a" stroke="#fec13a"/>
<path d="M1243.8 264.5l-3.3-3.7 -30.6 9.5 7.7 2.3z" fill="#fdcd31" stroke="#fdcd31"/>
<path d="M1240.5 260.8l-3.4-3.7 -34.9 10.8 7.7 2.4z" fill="#f7db2b" stroke="#f7db2b"/>
<path d="M1237.1 257.1l-3.4-3.7 -39.2 12.2 7.7 2.3z" fill="#f5e825" stroke="#f5e825"/>
<path d="M1233.7 253.4l-3.3-3.7 -43.6 13.6 7.7 2.3z" fill="#f7f51b" stroke="#f7f51b"/>
</g>
<g opacity="0.5">
<path d="M1220.3 300.1l43.6-13.5 -7.7-2.4 -39.2 12.2z" fill="#90ca4d" stroke="#90ca4d"/>
<path d="M1256.2 284.2l-7.7-2.3 -34.9 10.8 3.4 3.7z" fill="#adc638" stroke="#adc638"/>
<path d="M1248.5 281.9l-7.7-2.3 -30.6 9.4 3.4 3.7z" fill="#c8c129" stroke="#c8c129"/>
<path d="M1240.8 279.6l-7.7-2.4 -26.2 8.2 3.3 3.6z" fill="#e0bc2a" stroke="#e0bc2a"/>
<path d="M1233.1 277.2l-7.7-2.3 -21.8 6.8 3.3 3.7z" fill="#f3ba39" stroke="#f3ba39"/>
<path d="M1225.4 274.9l-7.8-2.3 -17.4 5.4 3.4 3.7z" fill="#fec13a" stroke="#fec13a"/>
<path d="M1217.6 272.6l-7.7-2.3 -13 4 3.3 3.7z" fill="#fdcd31" stroke="#fdcd31"/>
<path d="M1209.9 270.3l-7.7-2.4 -8.7 2.7 3.4 3.7z" fill="#f7db2b" stroke="#f7db2b"/>
<path d="M1202.2 267.9l-7.7-2.3 -4.4 1.3 3.4 3.7z" fill="#f5e825" stroke="#f5e825"/>
<path d="M1194.5 265.6l-7.7-2.3 3.3 3.6z" fill="#f7f51b" stroke="#f7f51b"/>
</g>
<g opacity="0.5">
<path d="M1268.3 283.3l-4.4 3.3 7.7-1.5z" fill="#90ca4d" stroke="#90ca4d"/>
<path d="M1272.6 280l-4.3 3.3 3.3 1.8 7.7-1.6z" fill="#adc638" stroke="#adc638"/>
<path d="M1277 276.7l-4.4 3.3 6.7 3.5 7.7-1.5z" fill="#c8c129" stroke="#c8c129"/>
<path d="M1281.3 273.5l-4.3 3.2 10 5.3 7.7-1.5z" fill="#e0bc2a" stroke="#e0bc2a"/>
<path d="M1285.7 270.2l-4.4 3.3 13.4 7 7.7-1.5z" fill="#f3ba39" stroke="#f3ba39"/>
<path d="M1290.1 266.9l-4.4 3.3 16.7 8.8 7.8-1.5z" fill="#fec13a" stroke="#fec13a"/>
<path d="M1294.4 263.6l-4.3 3.3 20.1 10.6 7.7-1.5z" fill="#fdcd31" stroke="#fdcd31"/>
<path d="M1298.8 260.4l-4.4 3.2 23.5 12.4 7.7-1.6z" fill="#f7db2b" stroke="#f7db2b"/>
<path d="M1303.1 257.1l-4.3 3.3 26.8 14 7.7-1.5z" fill="#f5e825" stroke="#f5e825"/>
<path d="M1341 271.4l-33.5-17.6 -4.4 3.3 30.2 15.8z" fill="#f7f51b" stroke="#f7f51b"/>
</g>
<g opacity="0.5">
<path d="M1271.6 285.1l-7.7 1.5 3.3-.2z" fill="#90ca4d" stroke="#90ca4d"/>
<path d="M1279.3 283.5l-7.7 1.6 -4.4 1.3 3.4-.2z" fill="#adc638" stroke="#adc638"/>
<path d="M1287 282l-7.7 1.5 -8.7 2.7 3.4-.1z" fill="#c8c129" stroke="#c8c129"/>
<path d="M1294.7 280.5l-7.7 1.5 -13 4.1 3.3-.2z" fill="#e0bc2a" stroke="#e0bc2a"/>
<path d="M1302.4 279l-7.7 1.5 -17.4 5.4 3.3-.2z" fill="#f3ba39" stroke="#f3ba39"/>
<path d="M1310.2 277.5l-7.8 1.5 -21.8 6.7 3.4-.1z" fill="#fec13a" stroke="#fec13a"/>
<path d="M1317.9 276l-7.7 1.5 -26.2 8.1 3.3-.2z" fill="#fdcd31" stroke="#fdcd31"/>
<path d="M1325.6 274.4l-7.7 1.6 -30.6 9.4 3.4-.1z" fill="#f7db2b" stroke="#f7db2b"/>
<path d="M1333.3 272.9l-7.7 1.5 -34.9 10.9 3.4-.2z" fill="#f5e825" stroke="#f5e825"/>
<path d="M1297.4 284.9l43.6-13.5 -7.7 1.5 -39.2 12.2z" fill="#f7f51b" stroke="#f7f51b"/>
</g>
<g opacity="0.5">
<path d="M295.1 270.5l-1.7-2.8 -6 .5z" fill="#259ce7" stroke="#259ce7"/>
<path d="M293.4 267.7l-1.7-2.8 -12 1 7.7 2.3z" fill="#1fa5e2" stroke="#1fa5e2"/>
<path d="M291.7 264.9l-1.6-2.8 -18.1 1.4 7.7 2.4z" fill="#17aeda" stroke="#17aeda"/>
<path d="M290.1 262.1l-1.7-2.8 -24.1 1.9 7.7 2.3z" fill="#05b6ce" stroke="#05b6ce"/>
<path d="M288.4 259.3l-1.7-2.8 -30.2 2.4 7.8 2.3z" fill="#06bcc0" stroke="#06bcc0"/>
<path d="M286.7 256.5l-1.7-2.8 -36.2 2.9 7.7 2.3z" fill="#1fc0b2" stroke="#1fc0b2"/>
<path d="M285 253.7l-1.6-2.8 -42.3 3.3 7.7 2.4z" fill="#2fc5a2" stroke="#2fc5a2"/>
<path d="M283.4 250.9l-1.7-2.8 -48.3 3.8 7.7 2.3z" fill="#3dc990" stroke="#3dc990"/>
<path d="M281.7 248.1l-1.7-2.8 -54.3 4.3 7.7 2.3z" fill="#55cc7c" stroke="#55cc7c"/>
<path d="M280 245.3l-1.7-2.8 -60.3 4.7 0 0 7.7 2.4z" fill="#71cd64" stroke="#71cd64"/>
<path d="M278.3 242.5l-1.6-2.8 -54.3 4.3 -4.4 3.2 0 0z" fill="#90ca4d" stroke="#90ca4d"/>
<path d="M276.7 239.7l-1.7-2.8 -48.3 3.8 -4.3 3.3z" fill="#adc638" stroke="#adc638"/>
<path d="M275 236.9l-1.7-2.8 -42.2 3.3 -4.4 3.3z" fill="#c8c129" stroke="#c8c129"/>
<path d="M273.3 234.1l-1.6-2.8 -36.3 2.8 -4.3 3.3z" fill="#e0bc2a" stroke="#e0bc2a"/>
<path d="M271.7 231.3l-1.7-2.8 -30.2 2.3 -4.4 3.3z" fill="#f3ba39" stroke="#f3ba39"/>
<path d="M270 228.5l-1.7-2.8 -24.1 1.9 -4.4 3.2z" fill="#fec13a" stroke="#fec13a"/>
<path d="M268.3 225.7l-1.7-2.8 -18.1 1.4 -4.3 3.3z" fill="#fdcd31" stroke="#fdcd31"/>
<path d="M266.6 222.9l-1.7-2.8 -12 .9 -4.4 3.3z" fill="#f7db2b" stroke="#f7db2b"/>
<path d="M264.9 220.1l-1.6-2.8 -6.1 .4 -4.3 3.3z" fill="#f5e825" stroke="#f5e825"/>
<path d="M263.3 217.3l-1.7-2.8 -4.4 3.2z" fill="#f7f51b" stroke="#f7f51b"/>
</g>
<g opacity="0.5">
<path d="M292.9 269.3l2.2 1.2 -7.7-2.3z" fill="#259ce7" stroke="#259ce7"/>
<path d="M290.7 268l2.2 1.3 -5.5-1.1 -7.7-2.3z" fill="#1fa5e2" stroke="#1fa5e2"/>
<path d="M288.6 266.8l2.1 1.2 -11-2.1 -7.7-2.4z" fill="#17aeda" stroke="#17aeda"/>
<path d="M286.4 265.5l2.2 1.3 -16.6-3.3 -7.7-2.3z" fill="#05b6ce" stroke="#05b6ce"/>
<path d="M284.2 264.3l2.2 1.2 -22.1-4.3 -7.8-2.3z" fill="#06bcc0" stroke="#06bcc0"/>
<path d="M282 263.1l2.2 1.2 -27.7-5.4 -7.7-2.3z" fill="#1fc0b2" stroke="#1fc0b2"/>
<path d="M279.8 261.8l2.2 1.3 -33.2-6.5 -7.7-2.4z" fill="#2fc5a2" stroke="#2fc5a2"/>
<path d="M277.7 260.6l2.1 1.2 -38.7-7.6 -7.7-2.3z" fill="#3dc990" stroke="#3dc990"/>
<path d="M275.5 259.3l2.2 1.3 -44.3-8.7 -7.7-2.3z" fill="#55cc7c" stroke="#55cc7c"/>
<path d="M273.3 258.1l2.2 1.2 -49.8-9.7 -7.7-2.4 0 0z" fill="#71cd64" stroke="#71cd64"/>
<path d="M271.1 256.8l2.2 1.3 -55.3-10.9 0 0 3.3-.1z" fill="#90ca4d" stroke="#90ca4d"/>
<path d="M268.9 255.6l2.2 1.2 -49.8-9.7 3.4-.2z" fill="#adc638" stroke="#adc638"/>
<path d="M266.8 254.3l2.1 1.3 -44.2-8.7 3.4-.2z" fill="#c8c129" stroke="#c8c129"/>
<path d="M264.6 253.1l2.2 1.2 -38.7-7.6 3.3-.1z" fill="#e0bc2a" stroke="#e0bc2a"/>
<path d="M262.4 251.8l2.2 1.3 -33.2-6.5 3.4-.2z" fill="#f3ba39" stroke="#f3ba39"/>
<path d="M260.2 250.6l2.2 1.2 -27.6-5.4 3.3-.1z" fill="#fec13a" stroke="#fec13a"/>
<path d="M258 249.3l2.2 1.3 -22.1-4.3 3.3-.2z" fill="#fdcd31" stroke="#fdcd31"/>
<path d="M255.9 248.1l2.1 1.2 -16.6-3.2 3.4-.2z" fill="#f7db2b" stroke="#f7db2b"/>
<path d="M253.7 246.8l2.2 1.3 -11.1-2.2 3.4-.1z" fill="#f5e825" stroke="#f5e825"/>
<path d="M251.5 245.6l2.2 1.2 -5.5-1z" fill="#f7f51b" stroke="#f7f51b"/>
</g>
<g opacity="0.5">
<path d="M299.5 267.3l-4.4 3.2 3.9-1.7z" fill="#259ce7" stroke="#259ce7"/>
<path d="M303.8 264l-4.3 3.3 -.5 1.5 3.8-1.7z" fill="#1fa5e2" stroke="#1fa5e2"/>
<path d="M308.2 260.7l-4.4 3.3 -1 3.1 3.9-1.7z" fill="#17aeda" stroke="#17aeda"/>
<path d="M312.5 257.4l-4.3 3.3 -1.5 4.7 3.8-1.7z" fill="#05b6ce" stroke="#05b6ce"/>
<path d="M316.9 254.1l-4.4 3.3 -2 6.3 3.9-1.8z" fill="#06bcc0" stroke="#06bcc0"/>
<path d="M321.3 250.9l-4.4 3.2 -2.5 7.8 3.8-1.7z" fill="#1fc0b2" stroke="#1fc0b2"/>
<path d="M325.6 247.6l-4.3 3.3 -3.1 9.3 3.9-1.7z" fill="#2fc5a2" stroke="#2fc5a2"/>
<path d="M330 244.3l-4.4 3.3 -3.5 10.9 3.8-1.7z" fill="#3dc990" stroke="#3dc990"/>
<path d="M334.3 241l-4.3 3.3 -4.1 12.5 3.9-1.7z" fill="#55cc7c" stroke="#55cc7c"/>
<path d="M338.7 237.8l0 0 -4.4 3.2 -4.5 14.1 3.9-1.8z" fill="#71cd64" stroke="#71cd64"/>
<path d="M342 237.6l-3.3 .2 0 0 -5 15.5 3.8-1.7z" fill="#90ca4d" stroke="#90ca4d"/>
<path d="M345.4 237.4l-3.4 .2 -4.5 14 3.9-1.7z" fill="#adc638" stroke="#adc638"/>
<path d="M348.8 237.3l-3.4 .1 -4 12.5 3.8-1.7z" fill="#c8c129" stroke="#c8c129"/>
<path d="M352.1 237.1l-3.3 .2 -3.6 10.9 3.9-1.7z" fill="#e0bc2a" stroke="#e0bc2a"/>
<path d="M355.5 236.9l-3.4 .2 -3 9.4 3.8-1.8z" fill="#f3ba39" stroke="#f3ba39"/>
<path d="M358.8 236.8l-3.3 .1 -2.6 7.8 3.9-1.7z" fill="#fec13a" stroke="#fec13a"/>
<path d="M362.1 236.6l-3.3 .2 -2 6.2 3.8-1.7z" fill="#fdcd31" stroke="#fdcd31"/>
<path d="M365.5 236.5l-3.4 .1 -1.5 4.7 3.9-1.7z" fill="#f7db2b" stroke="#f7db2b"/>
<path d="M368.9 236.3l-3.4 .2 -1 3.1 3.8-1.7z" fill="#f5e825" stroke="#f5e825"/>
<path d="M372.2 236.1l-3.3 .2 -.6 1.6z" fill="#f7f51b" stroke="#f7f51b"/>
</g>
<g opacity="0.5">
<path d="M299 268.8l-3.9 1.7 3.4-.1z" fill="#259ce7" stroke="#259ce7"/>
<path d="M302.8 267.1l-3.8 1.7 -.5 1.6 3.3-.2z" fill="#1fa5e2" stroke="#1fa5e2"/>
<path d="M306.7 265.4l-3.9 1.7 -1 3.1 3.3-.2z" fill="#17aeda" stroke="#17aeda"/>
<path d="M310.5 263.7l-3.8 1.7 -1.6 4.6 3.4-.1z" fill="#05b6ce" stroke="#05b6ce"/>
<path d="M314.4 261.9l-3.9 1.8 -2 6.2 3.4-.2z" fill="#06bcc0" stroke="#06bcc0"/>
<path d="M318.2 260.2l-3.8 1.7 -2.5 7.8 3.3-.1z" fill="#1fc0b2" stroke="#1fc0b2"/>
<path d="M322.1 258.5l-3.9 1.7 -3 9.4 3.4-.2z" fill="#2fc5a2" stroke="#2fc5a2"/>
<path d="M325.9 256.8l-3.8 1.7 -3.5 10.9 3.3-.2z" fill="#3dc990" stroke="#3dc990"/>
<path d="M329.8 255.1l-3.9 1.7 -4 12.4 3.3-.1z" fill="#55cc7c" stroke="#55cc7c"/>
<path d="M328.6 268.9l0 0 5.1-15.6 -3.9 1.8 -4.6 14z" fill="#71cd64" stroke="#71cd64"/>
<path d="M328.6 268.9l4.4-3.3 4.5-14 -3.8 1.7 -5.1 15.6z" fill="#90ca4d" stroke="#90ca4d"/>
<path d="M333 265.6l4.3-3.3 4.1-12.4 -3.9 1.7z" fill="#adc638" stroke="#adc638"/>
<path d="M337.3 262.3l4.4-3.2 3.5-10.9 -3.8 1.7z" fill="#c8c129" stroke="#c8c129"/>
<path d="M341.7 259.1l4.3-3.3 3.1-9.3 -3.9 1.7z" fill="#e0bc2a" stroke="#e0bc2a"/>
<path d="M346 255.8l4.4-3.3 2.5-7.8 -3.8 1.8z" fill="#f3ba39" stroke="#f3ba39"/>
<path d="M350.4 252.5l4.4-3.3 2-6.2 -3.9 1.7z" fill="#fec13a" stroke="#fec13a"/>
<path d="M354.8 249.2l4.3-3.2 1.5-4.7 -3.8 1.7z" fill="#fdcd31" stroke="#fdcd31"/>
<path d="M359.1 246l4.4-3.3 1-3.1 -3.9 1.7z" fill="#f7db2b" stroke="#f7db2b"/>
<path d="M363.5 242.7l4.3-3.3 .5-1.5 -3.8 1.7z" fill="#f5e825" stroke="#f5e825"/>
<path d="M367.8 239.4l4.4-3.3 -3.9 1.8z" fill="#f7f51b" stroke="#f7f51b"/>
</g>
<path d="M526.4 244.3l-33.5-17.6 -43.6 13.5z" fill="#f9fb15" fill-opacity="0.5" stroke="none"/>
<g opacity="0.5">
<path d="M482.8 277l4.4-3.2 -7.7-.4z" fill="#90ca4d" stroke="#90ca4d"/>
<path d="M487.2 273.8l4.3-3.3 -15.4-.8 3.4 3.7z" fill="#adc638" stroke="#adc638"/>
<path d="M491.5 270.5l4.4-3.3 -23.2-1.2 3.4 3.7z" fill="#c8c129" stroke="#c8c129"/>
<path d="M495.9 267.2l4.3-3.3 -30.8-1.6 3.3 3.7z" fill="#e0bc2a" stroke="#e0bc2a"/>
<path d="M500.2 263.9l4.4-3.3 -38.6-2 3.4 3.7z" fill="#f3ba39" stroke="#f3ba39"/>
<path d="M504.6 260.6l4.4-3.2 -46.3-2.5 3.3 3.7z" fill="#fec13a" stroke="#fec13a"/>
<path d="M509 257.4l4.3-3.3 -53.9-2.8 3.3 3.6z" fill="#fdcd31" stroke="#fdcd31"/>
<path d="M513.3 254.1l4.4-3.3 -61.7-3.2 3.4 3.7z" fill="#f7db2b" stroke="#f7db2b"/>
<path d="M517.7 250.8l4.3-3.3 -69.4-3.6 3.4 3.7z" fill="#f5e825" stroke="#f5e825"/>
<path d="M522 247.5l4.4-3.2 -77.1-4.1 3.3 3.7z" fill="#f7f51b" stroke="#f7f51b"/>
</g>
<g opacity="0.5">
<path d="M680.6 271.6l-3.3-3.6 -4.4 1.3z" fill="#90ca4d" stroke="#90ca4d"/>
<path d="M677.3 268l-3.4-3.7 -8.7 2.7 7.7 2.3z" fill="#adc638" stroke="#adc638"/>
<path d="M673.9 264.3l-3.4-3.7 -13 4 7.7 2.4z" fill="#c8c129" stroke="#c8c129"/>
<path d="M670.5 260.6l-3.3-3.7 -17.4 5.4 7.7 2.3z" fill="#e0bc2a" stroke="#e0bc2a"/>
<path d="M667.2 256.9l-3.4-3.7 -21.7 6.8 7.7 2.3z" fill="#f3ba39" stroke="#f3ba39"/>
<path d="M663.8 253.2l-3.3-3.7 -26.2 8.2 7.7 2.3z" fill="#fec13a" stroke="#fec13a"/>
<path d="M660.5 249.5l-3.3-3.6 -30.6 9.4 7.7 2.4z" fill="#fdcd31" stroke="#fdcd31"/>
<path d="M657.2 245.9l-3.4-3.7 -34.9 10.8 7.7 2.3z" fill="#f7db2b" stroke="#f7db2b"/>
<path d="M653.8 242.2l-3.4-3.7 -39.2 12.2 7.7 2.3z" fill="#f5e825" stroke="#f5e825"/>
<path d="M650.4 238.5l-3.3-3.7 -43.6 13.5 7.7 2.4z" fill="#f7f51b" stroke="#f7f51b"/>
</g>
<g opacity="0.5">
<path d="M676.2 271.1l4.4 .5 -7.7-2.3z" fill="#90ca4d" stroke="#90ca4d"/>
<path d="M671.9 270.5l4.3 .6 -3.3-1.8 -7.7-2.3z" fill="#adc638" stroke="#adc638"/>
<path d="M667.5 269.9l4.4 .6 -6.7-3.5 -7.7-2.4z" fill="#c8c129" stroke="#c8c129"/>
<path d="M663.2 269.4l4.3 .5 -10-5.3 -7.7-2.3z" fill="#e0bc2a" stroke="#e0bc2a"/>
<path d="M658.8 268.8l4.4 .6 -13.4-7.1 -7.7-2.3z" fill="#f3ba39" stroke="#f3ba39"/>
<path d="M654.4 268.2l4.4 .6 -16.8-8.8 -7.7-2.3z" fill="#fec13a" stroke="#fec13a"/>
<path d="M650.1 267.6l4.3 .6 -20.1-10.5 -7.7-2.4z" fill="#fdcd31" stroke="#fdcd31"/>
<path d="M645.7 267.1l4.4 .5 -23.5-12.3 -7.7-2.3z" fill="#f7db2b" stroke="#f7db2b"/>
<path d="M641.4 266.5l4.3 .6 -26.8-14.1 -7.7-2.3z" fill="#f5e825" stroke="#f5e825"/>
<path d="M637 265.9l4.4 .6 -30.2-15.8 -7.7-2.4z" fill="#f7f51b" stroke="#f7f51b"/>
</g>
<g opacity="0.5">
<path d="M757.7 275.7l-3.3-3.7 -69.4-3.6 -4.4 3.2z" fill="#90ca4d" stroke="#90ca4d"/>
<path d="M754.4 272l-3.4-3.7 -61.7-3.2 -4.3 3.3z" fill="#adc638" stroke="#adc638"/>
<path d="M751 268.3l-3.4-3.7 -53.9-2.8 -4.4 3.3z" fill="#c8c129" stroke="#c8c129"/>
<path d="M747.6 264.6l-3.3-3.6 -46.3-2.5 -4.3 3.3z" fill="#e0bc2a" stroke="#e0bc2a"/>
<path d="M744.3 261l-3.3-3.7 -38.6-2.1 -4.4 3.3z" fill="#f3ba39" stroke="#f3ba39"/>
<path d="M741 257.3l-3.4-3.7 -30.8-1.6 -4.4 3.2z" fill="#fec13a" stroke="#fec13a"/>
<path d="M737.6 253.6l-3.3-3.7 -23.2-1.2 -4.3 3.3z" fill="#fdcd31" stroke="#fdcd31"/>
<path d="M734.3 249.9l-3.4-3.7 -15.4-.8 -4.4 3.3z" fill="#f7db2b" stroke="#f7db2b"/>
<path d="M730.9 246.2l-3.4-3.7 -7.7-.4 -4.3 3.3z" fill="#f5e825" stroke="#f5e825"/>
<path d="M727.5 242.5l-3.3-3.6 -4.4 3.2z" fill="#f7f51b" stroke="#f7f51b"/>
</g>
<path d="M714.1 289.2l43.6-13.5 -77.1-4.1z" fill="#81cc59" fill-opacity="0.5" stroke="none"/>
<g opacity="0.5">
<path d="M804.6 262l-3.3 .2 -43.6 13.5 7.7-1.5z" fill="#90ca4d" stroke="#90ca4d"/>
<path d="M808 261.8l-3.4 .2 -39.2 12.2 7.7-1.5z" fill="#adc638" stroke="#adc638"/>
<path d="M811.4 261.7l-3.4 .1 -34.9 10.9 7.7-1.6z" fill="#c8c129" stroke="#c8c129"/>
<path d="M814.7 261.5l-3.3 .2 -30.6 9.4 7.7-1.5z" fill="#e0bc2a" stroke="#e0bc2a"/>
<path d="M818 261.3l-3.3 .2 -26.2 8.1 7.7-1.5z" fill="#f3ba39" stroke="#f3ba39"/>
<path d="M821.4 261.2l-3.4 .1 -21.8 6.8 7.8-1.5z" fill="#fec13a" stroke="#fec13a"/>
<path d="M824.7 261l-3.3 .2 -17.4 5.4 7.7-1.5z" fill="#fdcd31" stroke="#fdcd31"/>
<path d="M828.1 260.9l-3.4 .1 -13 4.1 7.7-1.5z" fill="#f7db2b" stroke="#f7db2b"/>
<path d="M831.5 260.7l-3.4 .2 -8.7 2.7 7.7-1.6z" fill="#f5e825" stroke="#f5e825"/>
<path d="M834.8 260.5l-3.3 .2 -4.4 1.3z" fill="#f7f51b" stroke="#f7f51b"/>
</g>
<g opacity="0.5">
<path d="M765.4 274.2l-7.7 1.5 3.3-.2z" fill="#90ca4d" stroke="#90ca4d"/>
<path d="M773.1 272.7l-7.7 1.5 -4.4 1.3 3.4-.1z" fill="#adc638" stroke="#adc638"/>
<path d="M780.8 271.1l-7.7 1.6 -8.7 2.7 3.4-.2z" fill="#c8c129" stroke="#c8c129"/>
<path d="M788.5 269.6l-7.7 1.5 -13 4.1 3.3-.2z" fill="#e0bc2a" stroke="#e0bc2a"/>
<path d="M796.2 268.1l-7.7 1.5 -17.4 5.4 3.3-.1z" fill="#f3ba39" stroke="#f3ba39"/>
<path d="M804 266.6l-7.8 1.5 -21.8 6.8 3.4-.2z" fill="#fec13a" stroke="#fec13a"/>
<path d="M811.7 265.1l-7.7 1.5 -26.2 8.1 3.3-.1z" fill="#fdcd31" stroke="#fdcd31"/>
<path d="M819.4 263.6l-7.7 1.5 -30.6 9.5 3.4-.2z" fill="#f7db2b" stroke="#f7db2b"/>
<path d="M827.1 262l-7.7 1.6 -34.9 10.8 3.4-.2z" fill="#f5e825" stroke="#f5e825"/>
<path d="M791.2 274.1l43.6-13.6 -7.7 1.5 -39.2 12.2z" fill="#f7f51b" stroke="#f7f51b"/>
</g>
<g opacity="0.5">
<path d="M881.7 266.1l-3.3 .1 -4.4-.5z" fill="#90ca4d" stroke="#90ca4d"/>
<path d="M885.1 265.9l-3.4 .2 -7.7-.4 -4.3-.6z" fill="#adc638" stroke="#adc638"/>
<path d="M888.5 265.7l-3.4 .2 -15.4-.8 -4.4-.6z" fill="#c8c129" stroke="#c8c129"/>
<path d="M891.8 265.6l-3.3 .1 -23.2-1.2 -4.3-.5z" fill="#e0bc2a" stroke="#e0bc2a"/>
<path d="M895.2 265.4l-3.4 .2 -30.8-1.6 -4.4-.6z" fill="#f3ba39" stroke="#f3ba39"/>
<path d="M898.5 265.3l-3.3 .1 -38.6-2 -4.4-.6z" fill="#fec13a" stroke="#fec13a"/>
<path d="M901.8 265.1l-3.3 .2 -46.3-2.5 -4.3-.6z" fill="#fdcd31" stroke="#fdcd31"/>
<path d="M905.2 264.9l-3.4 .2 -53.9-2.9 -4.4-.5z" fill="#f7db2b" stroke="#f7db2b"/>
<path d="M908.6 264.8l-3.4 .1 -61.7-3.2 -4.3-.6z" fill="#f5e825" stroke="#f5e825"/>
<path d="M911.9 264.6l-3.3 .2 -69.4-3.7 -4.4-.6z" fill="#f7f51b" stroke="#f7f51b"/>
</g>
<path d="M868.3 278.1l43.6-13.5 -77.1-4.1z" fill="#f9fb15" fill-opacity="0.5" stroke="none"/>
<g opacity="0.5">
<path d="M1220.3 300.1l-3.3-3.7 -4.4 1.4z" fill="#90ca4d" stroke="#90ca4d"/>
<path d="M1217 296.4l-3.4-3.7 -8.7 2.7 7.7 2.4z" fill="#adc638" stroke="#adc638"/>
<path d="M1213.6 292.7l-3.4-3.7 -13 4.1 7.7 2.3z" fill="#c8c129" stroke="#c8c129"/>
<path d="M1210.2 289l-3.3-3.6 -17.4 5.4 7.7 2.3z" fill="#e0bc2a" stroke="#e0bc2a"/>
<path d="M1206.9 285.4l-3.3-3.7 -21.8 6.7 7.7 2.4z" fill="#f3ba39" stroke="#f3ba39"/>
<path d="M1203.6 281.7l-3.4-3.7 -26.2 8.1 7.8 2.3z" fill="#fec13a" stroke="#fec13a"/>
<path d="M1200.2 278l-3.3-3.7 -30.6 9.5 7.7 2.3z" fill="#fdcd31" stroke="#fdcd31"/>
<path d="M1196.9 274.3l-3.4-3.7 -34.9 10.9 7.7 2.3z" fill="#f7db2b" stroke="#f7db2b"/>
<path d="M1193.5 270.6l-3.4-3.7 -39.2 12.2 7.7 2.4z" fill="#f5e825" stroke="#f5e825"/>
<path d="M1190.1 266.9l-3.3-3.6 -43.6 13.5 7.7 2.3z" fill="#f7f51b" stroke="#f7f51b"/>
</g>
<g opacity="0.5">
<path d="M1215.9 299.5l4.4 .6 -7.7-2.3z" fill="#90ca4d" stroke="#90ca4d"/>
<path d="M1211.6 299l4.3 .5 -3.3-1.7 -7.7-2.4z" fill="#adc638" stroke="#adc638"/>
<path d="M1207.2 298.4l4.4 .6 -6.7-3.6 -7.7-2.3z" fill="#c8c129" stroke="#c8c129"/>
<path d="M1202.9 297.8l4.3 .6 -10-5.3 -7.7-2.3z" fill="#e0bc2a" stroke="#e0bc2a"/>
<path d="M1198.5 297.2l4.4 .6 -13.4-7 -7.7-2.4z" fill="#f3ba39" stroke="#f3ba39"/>
<path d="M1194.1 296.7l4.4 .5 -16.7-8.8 -7.8-2.3z" fill="#fec13a" stroke="#fec13a"/>
<path d="M1189.8 296.1l4.3 .6 -20.1-10.6 -7.7-2.3z" fill="#fdcd31" stroke="#fdcd31"/>
<path d="M1185.4 295.5l4.4 .6 -23.5-12.3 -7.7-2.3z" fill="#f7db2b" stroke="#f7db2b"/>
<path d="M1181.1 295l4.3 .5 -26.8-14 -7.7-2.4z" fill="#f5e825" stroke="#f5e825"/>
<path d="M1176.7 294.4l4.4 .6 -30.2-15.9 -7.7-2.3z" fill="#f7f51b" stroke="#f7f51b"/>
</g>
<g opacity="0.5">
<path d="M1267.2 286.4l-3.3 .2 -43.6 13.5 7.7-1.5z" fill="#90ca4d" stroke="#90ca4d"/>
<path d="M1270.6 286.2l-3.4 .2 -39.2 12.2 7.7-1.5z" fill="#adc638" stroke="#adc638"/>
<path d="M1274 286.1l-3.4 .1 -34.9 10.9 7.7-1.6z" fill="#c8c129" stroke="#c8c129"/>
<path d="M1277.3 285.9l-3.3 .2 -30.6 9.4 7.7-1.5z" fill="#e0bc2a" stroke="#e0bc2a"/>
<path d="M1280.6 285.7l-3.3 .2 -26.2 8.1 7.8-1.5z" fill="#f3ba39" stroke="#f3ba39"/>
<path d="M1284 285.6l-3.4 .1 -21.7 6.8 7.7-1.5z" fill="#fec13a" stroke="#fec13a"/>
<path d="M1287.3 285.4l-3.3 .2 -17.4 5.4 7.7-1.5z" fill="#fdcd31" stroke="#fdcd31"/>
<path d="M1290.7 285.3l-3.4 .1 -13 4.1 7.7-1.5z" fill="#f7db2b" stroke="#f7db2b"/>
<path d="M1294.1 285.1l-3.4 .2 -8.7 2.7 7.7-1.6z" fill="#f5e825" stroke="#f5e825"/>
<path d="M1297.4 284.9l-3.3 .2 -4.4 1.3z" fill="#f7f51b" stroke="#f7f51b"/>
</g>
<g opacity="0.5">
<path d="M1228 298.6l-7.7 1.5 3.3-.2z" fill="#90ca4d" stroke="#90ca4d"/>
<path d="M1235.7 297.1l-7.7 1.5 -4.4 1.3 3.4-.1z" fill="#adc638" stroke="#adc638"/>
<path d="M1243.4 295.5l-7.7 1.6 -8.7 2.7 3.4-.2z" fill="#c8c129" stroke="#c8c129"/>
<path d="M1251.1 294l-7.7 1.5 -13 4.1 3.3-.2z" fill="#e0bc2a" stroke="#e0bc2a"/>
<path d="M1258.9 292.5l-7.8 1.5 -17.4 5.4 3.4-.1z" fill="#f3ba39" stroke="#f3ba39"/>
<path d="M1266.6 291l-7.7 1.5 -21.8 6.8 3.3-.2z" fill="#fec13a" stroke="#fec13a"/>
<path d="M1274.3 289.5l-7.7 1.5 -26.2 8.1 3.3-.1z" fill="#fdcd31" stroke="#fdcd31"/>
<path d="M1282 288l-7.7 1.5 -30.6 9.5 3.4-.2z" fill="#f7db2b" stroke="#f7db2b"/>
<path d="M1289.7 286.4l-7.7 1.6 -34.9 10.8 3.4-.2z" fill="#f5e825" stroke="#f5e825"/>
<path d="M1253.8 298.5l43.6-13.6 -7.7 1.5 -39.2 12.2z" fill="#f7f51b" stroke="#f7f51b"/>
</g>
<g opacity="0.5">
<path d="M298.5 270.4l-3.4 .1 -2.2-1.2z" fill="#259ce7" stroke="#259ce7"/>
<path d="M301.8 270.2l-3.3 .2 -5.6-1.1 -2.2-1.3z" fill="#1fa5e2" stroke="#1fa5e2"/>
<path d="M305.1 270l-3.3 .2 -11.1-2.2 -2.1-1.2z" fill="#17aeda" stroke="#17aeda"/>
<path d="M308.5 269.9l-3.4 .1 -16.5-3.2 -2.2-1.3z" fill="#05b6ce" stroke="#05b6ce"/>
<path d="M311.9 269.7l-3.4 .2 -22.1-4.4 -2.2-1.2z" fill="#06bcc0" stroke="#06bcc0"/>
<path d="M315.2 269.6l-3.3 .1 -27.7-5.4 -2.2-1.2z" fill="#1fc0b2" stroke="#1fc0b2"/>
<path d="M318.6 269.4l-3.4 .2 -33.2-6.5 -2.2-1.3z" fill="#2fc5a2" stroke="#2fc5a2"/>
<path d="M321.9 269.2l-3.3 .2 -38.8-7.6 -2.1-1.2z" fill="#3dc990" stroke="#3dc990"/>
<path d="M325.2 269.1l-3.3 .1 -44.2-8.6 -2.2-1.3z" fill="#55cc7c" stroke="#55cc7c"/>
<path d="M328.6 268.9l-3.4 .2 -49.7-9.8 -2.2-1.2 55.3 10.8z" fill="#71cd64" stroke="#71cd64"/>
<path d="M328.6 268.9l0 0 -55.3-10.8 -2.2-1.3 49.8 9.8z" fill="#90ca4d" stroke="#90ca4d"/>
<path d="M271.1 256.8l-2.2-1.2 44.3 8.6 7.7 2.4z" fill="#adc638" stroke="#adc638"/>
<path d="M268.9 255.6l-2.1-1.3 38.7 7.6 7.7 2.3z" fill="#c8c129" stroke="#c8c129"/>
<path d="M266.8 254.3l-2.2-1.2 33.2 6.5 7.7 2.3z" fill="#e0bc2a" stroke="#e0bc2a"/>
<path d="M264.6 253.1l-2.2-1.3 27.7 5.4 7.7 2.4z" fill="#f3ba39" stroke="#f3ba39"/>
<path d="M262.4 251.8l-2.2-1.2 22.1 4.3 7.7 2.3z" fill="#fec13a" stroke="#fec13a"/>
<path d="M260.2 250.6l-2.2-1.3 16.6 3.3 7.7 2.3z" fill="#fdcd31" stroke="#fdcd31"/>
<path d="M258 249.3l-2.1-1.2 11 2.2 7.7 2.3z" fill="#f7db2b" stroke="#f7db2b"/>
<path d="M255.9 248.1l-2.2-1.3 5.5 1.1 7.7 2.4z" fill="#f5e825" stroke="#f5e825"/>
<path d="M253.7 246.8l-2.2-1.2 7.7 2.3z" fill="#f7f51b" stroke="#f7f51b"/>
</g>
<g opacity="0.5">
<path d="M285 320.9l2.2-2.6 -3.3 .1z" fill="#402ab5" stroke="#402ab5"/>
<path d="M287.2 318.3l2.2-2.6 -6.6 .2 1.1 2.5z" fill="#4433cc" stroke="#4433cc"/>
<path d="M289.4 315.7l2.1-2.6 -9.9 .3 1.2 2.5z" fill="#463de0" stroke="#463de0"/>
<path d="M291.5 313.1l2.2-2.6 -13.2 .4 1.1 2.5z" fill="#4849ed" stroke="#4849ed"/>
<path d="M293.7 310.5l2.2-2.6 -16.5 .5 1.1 2.5z" fill="#4755f6" stroke="#4755f6"/>
<path d="M295.9 307.9l2.2-2.6 -19.8 .5 1.1 2.6z" fill="#4661fc" stroke="#4661fc"/>
<path d="M298.1 305.3l2.2-2.6 -23.1 .6 1.1 2.5z" fill="#406dfe" stroke="#406dfe"/>
<path d="M300.3 302.7l2.1-2.6 -26.3 .7 1.1 2.5z" fill="#347afd" stroke="#347afd"/>
<path d="M302.4 300.1l2.2-2.6 -29.7 .8 1.2 2.5z" fill="#2e86f7" stroke="#2e86f7"/>
<path d="M304.6 297.5l2.2-2.6 -33 .9 1.1 2.5z" fill="#2b91ef" stroke="#2b91ef"/>
<path d="M306.8 294.9l2.2-2.6 -36.3 1 1.1 2.5z" fill="#259ce7" stroke="#259ce7"/>
<path d="M309 292.3l2.2-2.6 -39.6 1.1 1.1 2.5z" fill="#1fa5e2" stroke="#1fa5e2"/>
<path d="M311.2 289.7l2.1-2.6 -42.8 1.2 1.1 2.5z" fill="#17aeda" stroke="#17aeda"/>
<path d="M313.3 287.1l2.2-2.6 -46.1 1.3 1.1 2.5z" fill="#05b6ce" stroke="#05b6ce"/>
<path d="M315.5 284.5l2.2-2.6 -49.5 1.3 1.2 2.6z" fill="#06bcc0" stroke="#06bcc0"/>
<path d="M317.7 281.9l2.2-2.6 -52.8 1.4 1.1 2.5z" fill="#1fc0b2" stroke="#1fc0b2"/>
<path d="M319.9 279.3l2.2-2.6 -56.1 1.5 1.1 2.5z" fill="#2fc5a2" stroke="#2fc5a2"/>
<path d="M322.1 276.7l2.1-2.6 -59.3 1.6 1.1 2.5z" fill="#3dc990" stroke="#3dc990"/>
<path d="M324.2 274.1l2.2-2.6 -62.6 1.7 1.1 2.5z" fill="#55cc7c" stroke="#55cc7c"/>
<path d="M326.4 271.5l2.2-2.6 0 0 -65.9 1.8 1.1 2.5z" fill="#71cd64" stroke="#71cd64"/>
<path d="M328.6 268.9l0 0 -7.7-2.3 -59.3 1.6 1.1 2.5z" fill="#90ca4d" stroke="#90ca4d"/>
<path d="M320.9 266.6l-7.7-2.4 -52.8 1.5 1.2 2.5z" fill="#adc638" stroke="#adc638"/>
<path d="M313.2 264.2l-7.7-2.3 -46.2 1.3 1.1 2.5z" fill="#c8c129" stroke="#c8c129"/>
<path d="M305.5 261.9l-7.7-2.3 -39.6 1.1 1.1 2.5z" fill="#e0bc2a" stroke="#e0bc2a"/>
<path d="M297.8 259.6l-7.8-2.4 -32.9 .9 1.1 2.6z" fill="#f3ba39" stroke="#f3ba39"/>
<path d="M290 257.2l-7.7-2.3 -26.3 .7 1.1 2.5z" fill="#fec13a" stroke="#fec13a"/>
<path d="M282.3 254.9l-7.7-2.3 -19.7 .5 1.1 2.5z" fill="#fdcd31" stroke="#fdcd31"/>
<path d="M274.6 252.6l-7.7-2.3 -13.2 .3 1.2 2.5z" fill="#f7db2b" stroke="#f7db2b"/>
<path d="M266.9 250.3l-7.7-2.4 -6.6 .2 1.1 2.5z" fill="#f5e825" stroke="#f5e825"/>
<path d="M259.2 247.9l-7.7-2.3 1.1 2.5z" fill="#f7f51b" stroke="#f7f51b"/>
</g>
<g opacity="0.5">
<path d="M333 265.6l-4.4 3.3 7.7-1.5z" fill="#90ca4d" stroke="#90ca4d"/>
<path d="M337.3 262.3l-4.3 3.3 3.3 1.8 7.7-1.5z" fill="#adc638" stroke="#adc638"/>
<path d="M341.7 259.1l-4.4 3.2 6.7 3.6 7.7-1.6z" fill="#c8c129" stroke="#c8c129"/>
<path d="M346 255.8l-4.3 3.3 10 5.2 7.7-1.5z" fill="#e0bc2a" stroke="#e0bc2a"/>
<path d="M350.4 252.5l-4.4 3.3 13.4 7 7.8-1.5z" fill="#f3ba39" stroke="#f3ba39"/>
<path d="M354.8 249.2l-4.4 3.3 16.8 8.8 7.7-1.5z" fill="#fec13a" stroke="#fec13a"/>
<path d="M359.1 246l-4.3 3.2 20.1 10.6 7.7-1.5z" fill="#fdcd31" stroke="#fdcd31"/>
<path d="M363.5 242.7l-4.4 3.3 23.5 12.3 7.7-1.5z" fill="#f7db2b" stroke="#f7db2b"/>
<path d="M367.8 239.4l-4.3 3.3 26.8 14.1 7.7-1.6z" fill="#f5e825" stroke="#f5e825"/>
<path d="M405.7 253.7l-33.5-17.6 -4.4 3.3 30.2 15.8z" fill="#f7f51b" stroke="#f7f51b"/>
</g>
<g opacity="0.5">
<path d="M362.1 286.5l4.4-3.3 -30.2-15.8 -7.7 1.5z" fill="#90ca4d" stroke="#90ca4d"/>
<path d="M366.5 283.2l4.3-3.3 -26.8-14 -7.7 1.5z" fill="#adc638" stroke="#adc638"/>
<path d="M370.8 279.9l4.4-3.2 -23.5-12.4 -7.7 1.6z" fill="#c8c129" stroke="#c8c129"/>
<path d="M375.2 276.7l4.3-3.3 -20.1-10.6 -7.7 1.5z" fill="#e0bc2a" stroke="#e0bc2a"/>
<path d="M379.5 273.4l4.4-3.3 -16.7-8.8 -7.8 1.5z" fill="#f3ba39" stroke="#f3ba39"/>
<path d="M383.9 270.1l4.4-3.3 -13.4-7 -7.7 1.5z" fill="#fec13a" stroke="#fec13a"/>
<path d="M388.3 266.8l4.3-3.2 -10-5.3 -7.7 1.5z" fill="#fdcd31" stroke="#fdcd31"/>
<path d="M392.6 263.6l4.4-3.3 -6.7-3.5 -7.7 1.5z" fill="#f7db2b" stroke="#f7db2b"/>
<path d="M397 260.3l4.3-3.3 -3.3-1.8 -7.7 1.6z" fill="#f5e825" stroke="#f5e825"/>
<path d="M401.3 257l4.4-3.3 -7.7 1.5z" fill="#f7f51b" stroke="#f7f51b"/>
</g>
<g opacity="0.5">
<path d="M482.8 277l-3.3-3.6 -4.4 1.3z" fill="#90ca4d" stroke="#90ca4d"/>
<path d="M479.5 273.4l-3.4-3.7 -8.7 2.7 7.7 2.3z" fill="#adc638" stroke="#adc638"/>
<path d="M476.1 269.7l-3.4-3.7 -13 4 7.7 2.4z" fill="#c8c129" stroke="#c8c129"/>
<path d="M472.7 266l-3.3-3.7 -17.4 5.4 7.7 2.3z" fill="#e0bc2a" stroke="#e0bc2a"/>
<path d="M469.4 262.3l-3.4-3.7 -21.8 6.8 7.8 2.3z" fill="#f3ba39" stroke="#f3ba39"/>
<path d="M466 258.6l-3.3-3.7 -26.2 8.2 7.7 2.3z" fill="#fec13a" stroke="#fec13a"/>
<path d="M462.7 254.9l-3.3-3.6 -30.6 9.4 7.7 2.4z" fill="#fdcd31" stroke="#fdcd31"/>
<path d="M459.4 251.3l-3.4-3.7 -34.9 10.8 7.7 2.3z" fill="#f7db2b" stroke="#f7db2b"/>
<path d="M456 247.6l-3.4-3.7 -39.2 12.2 7.7 2.3z" fill="#f5e825" stroke="#f5e825"/>
<path d="M452.6 243.9l-3.3-3.7 -43.6 13.5 7.7 2.4z" fill="#f7f51b" stroke="#f7f51b"/>
</g>
<g opacity="0.5">
<path d="M478.4 276.5l4.4 .5 -7.7-2.3z" fill="#90ca4d" stroke="#90ca4d"/>
<path d="M474.1 275.9l4.3 .6 -3.3-1.8 -7.7-2.3z" fill="#adc638" stroke="#adc638"/>
<path d="M469.7 275.3l4.4 .6 -6.7-3.5 -7.7-2.4z" fill="#c8c129" stroke="#c8c129"/>
<path d="M465.4 274.8l4.3 .5 -10-5.3 -7.7-2.3z" fill="#e0bc2a" stroke="#e0bc2a"/>
<path d="M461 274.2l4.4 .6 -13.4-7.1 -7.8-2.3z" fill="#f3ba39" stroke="#f3ba39"/>
<path d="M456.6 273.6l4.4 .6 -16.8-8.8 -7.7-2.3z" fill="#fec13a" stroke="#fec13a"/>
<path d="M452.3 273l4.3 .6 -20.1-10.5 -7.7-2.4z" fill="#fdcd31" stroke="#fdcd31"/>
<path d="M447.9 272.5l4.4 .5 -23.5-12.3 -7.7-2.3z" fill="#f7db2b" stroke="#f7db2b"/>
<path d="M443.6 271.9l4.3 .6 -26.8-14.1 -7.7-2.3z" fill="#f5e825" stroke="#f5e825"/>
<path d="M439.2 271.3l4.4 .6 -30.2-15.8 -7.7-2.4z" fill="#f7f51b" stroke="#f7f51b"/>
</g>
<g opacity="0.5">
<path d="M487.2 273.8l-4.4 3.2 7.7-1.5z" fill="#90ca4d" stroke="#90ca4d"/>
<path d="M491.5 270.5l-4.3 3.3 3.3 1.7 7.7-1.5z" fill="#adc638" stroke="#adc638"/>
<path d="M495.9 267.2l-4.4 3.3 6.7 3.5 7.7-1.5z" fill="#c8c129" stroke="#c8c129"/>
<path d="M500.2 263.9l-4.3 3.3 10 5.3 7.7-1.5z" fill="#e0bc2a" stroke="#e0bc2a"/>
<path d="M504.6 260.6l-4.4 3.3 13.4 7.1 7.7-1.6z" fill="#f3ba39" stroke="#f3ba39"/>
<path d="M509 257.4l-4.4 3.2 16.7 8.8 7.8-1.5z" fill="#fec13a" stroke="#fec13a"/>
<path d="M513.3 254.1l-4.3 3.3 20.1 10.5 7.7-1.5z" fill="#fdcd31" stroke="#fdcd31"/>
<path d="M517.7 250.8l-4.4 3.3 23.5 12.3 7.7-1.5z" fill="#f7db2b" stroke="#f7db2b"/>
<path d="M522 247.5l-4.3 3.3 26.8 14.1 7.7-1.5z" fill="#f5e825" stroke="#f5e825"/>
<path d="M559.9 261.9l-33.5-17.6 -4.4 3.2 30.2 15.9z" fill="#f7f51b" stroke="#f7f51b"/>
</g>
<g opacity="0.5">
<path d="M516.3 294.6l4.4-3.2 -30.2-15.9 -7.7 1.5z" fill="#90ca4d" stroke="#90ca4d"/>
<path d="M520.7 291.4l4.3-3.3 -26.8-14.1 -7.7 1.5z" fill="#adc638" stroke="#adc638"/>
<path d="M525 288.1l4.4-3.3 -23.5-12.3 -7.7 1.5z" fill="#c8c129" stroke="#c8c129"/>
<path d="M529.4 284.8l4.3-3.3 -20.1-10.5 -7.7 1.5z" fill="#e0bc2a" stroke="#e0bc2a"/>
<path d="M533.7 281.5l4.4-3.3 -16.8-8.8 -7.7 1.6z" fill="#f3ba39" stroke="#f3ba39"/>
<path d="M538.1 278.2l4.4-3.2 -13.4-7.1 -7.8 1.5z" fill="#fec13a" stroke="#fec13a"/>
<path d="M542.5 275l4.3-3.3 -10-5.3 -7.7 1.5z" fill="#fdcd31" stroke="#fdcd31"/>
<path d="M546.8 271.7l4.4-3.3 -6.7-3.5 -7.7 1.5z" fill="#f7db2b" stroke="#f7db2b"/>
<path d="M551.2 268.4l4.3-3.3 -3.3-1.7 -7.7 1.5z" fill="#f5e825" stroke="#f5e825"/>
<path d="M555.5 265.1l4.4-3.2 -7.7 1.5z" fill="#f7f51b" stroke="#f7f51b"/>
</g>
<g opacity="0.5">
<path d="M714.1 289.2l-33.5-17.6 -4.4-.5 30.2 15.8z" fill="#90ca4d" stroke="#90ca4d"/>
<path d="M676.2 271.1l-4.3-.6 26.8 14.1 7.7 2.3z" fill="#adc638" stroke="#adc638"/>
<path d="M671.9 270.5l-4.4-.6 23.5 12.3 7.7 2.4z" fill="#c8c129" stroke="#c8c129"/>
<path d="M667.5 269.9l-4.3-.5 20.1 10.5 7.7 2.3z" fill="#e0bc2a" stroke="#e0bc2a"/>
<path d="M663.2 269.4l-4.4-.6 16.8 8.8 7.7 2.3z" fill="#f3ba39" stroke="#f3ba39"/>
<path d="M658.8 268.8l-4.4-.6 13.4 7.1 7.8 2.3z" fill="#fec13a" stroke="#fec13a"/>
<path d="M654.4 268.2l-4.3-.6 10 5.3 7.7 2.4z" fill="#fdcd31" stroke="#fdcd31"/>
<path d="M650.1 267.6l-4.4-.5 6.7 3.5 7.7 2.3z" fill="#f7db2b" stroke="#f7db2b"/>
<path d="M645.7 267.1l-4.3-.6 3.3 1.8 7.7 2.3z" fill="#f5e825" stroke="#f5e825"/>
<path d="M641.4 266.5l-4.4-.6 7.7 2.4z" fill="#f7f51b" stroke="#f7f51b"/>
</g>
<g opacity="0.5">
<path d="M709.7 288.7l4.4 .5 -7.7-2.3z" fill="#90ca4d" stroke="#90ca4d"/>
<path d="M705.4 288.1l4.3 .6 -3.3-1.8 -7.7-2.3z" fill="#adc638" stroke="#adc638"/>
<path d="M701 287.5l4.4 .6 -6.7-3.5 -7.7-2.4z" fill="#c8c129" stroke="#c8c129"/>
<path d="M696.7 287l4.3 .5 -10-5.3 -7.7-2.3z" fill="#e0bc2a" stroke="#e0bc2a"/>
<path d="M692.3 286.4l4.4 .6 -13.4-7.1 -7.7-2.3z" fill="#f3ba39" stroke="#f3ba39"/>
<path d="M687.9 285.8l4.4 .6 -16.7-8.8 -7.8-2.3z" fill="#fec13a" stroke="#fec13a"/>
<path d="M683.6 285.2l4.3 .6 -20.1-10.5 -7.7-2.4z" fill="#fdcd31" stroke="#fdcd31"/>
<path d="M679.2 284.7l4.4 .5 -23.5-12.3 -7.7-2.3z" fill="#f7db2b" stroke="#f7db2b"/>
<path d="M674.9 284.1l4.3 .6 -26.8-14.1 -7.7-2.3z" fill="#f5e825" stroke="#f5e825"/>
<path d="M670.5 283.5l4.4 .6 -30.2-15.8 -7.7-2.4z" fill="#f7f51b" stroke="#f7f51b"/>
</g>
<g opacity="0.5">
<path d="M761 275.5l-3.3 .2 -43.6 13.5 7.7-1.5z" fill="#90ca4d" stroke="#90ca4d"/>
<path d="M764.4 275.4l-3.4 .1 -39.2 12.2 7.7-1.5z" fill="#adc638" stroke="#adc638"/>
<path d="M767.8 275.2l-3.4 .2 -34.9 10.8 7.7-1.5z" fill="#c8c129" stroke="#c8c129"/>
<path d="M771.1 275l-3.3 .2 -30.6 9.5 7.7-1.5z" fill="#e0bc2a" stroke="#e0bc2a"/>
<path d="M774.4 274.9l-3.3 .1 -26.2 8.2 7.7-1.6z" fill="#f3ba39" stroke="#f3ba39"/>
<path d="M777.8 274.7l-3.4 .2 -21.7 6.7 7.7-1.5z" fill="#fec13a" stroke="#fec13a"/>
<path d="M781.1 274.6l-3.3 .1 -17.4 5.4 7.7-1.5z" fill="#fdcd31" stroke="#fdcd31"/>
<path d="M784.5 274.4l-3.4 .2 -13 4 7.7-1.5z" fill="#f7db2b" stroke="#f7db2b"/>
<path d="M787.9 274.2l-3.4 .2 -8.7 2.7 7.7-1.5z" fill="#f5e825" stroke="#f5e825"/>
<path d="M791.2 274.1l-3.3 .1 -4.4 1.4z" fill="#f7f51b" stroke="#f7f51b"/>
</g>
<g opacity="0.5">
<path d="M747.6 306.8l4.4-3.2 -30.2-15.9 -7.7 1.5z" fill="#90ca4d" stroke="#90ca4d"/>
<path d="M752 303.6l4.3-3.3 -26.8-14.1 -7.7 1.5z" fill="#adc638" stroke="#adc638"/>
<path d="M756.3 300.3l4.4-3.3 -23.5-12.3 -7.7 1.5z" fill="#c8c129" stroke="#c8c129"/>
<path d="M760.7 297l4.3-3.3 -20.1-10.5 -7.7 1.5z" fill="#e0bc2a" stroke="#e0bc2a"/>
<path d="M765 293.7l4.4-3.3 -16.8-8.8 -7.7 1.6z" fill="#f3ba39" stroke="#f3ba39"/>
<path d="M769.4 290.4l4.4-3.2 -13.4-7.1 -7.7 1.5z" fill="#fec13a" stroke="#fec13a"/>
<path d="M773.8 287.2l4.3-3.3 -10-5.3 -7.7 1.5z" fill="#fdcd31" stroke="#fdcd31"/>
<path d="M778.1 283.9l4.4-3.3 -6.7-3.5 -7.7 1.5z" fill="#f7db2b" stroke="#f7db2b"/>
<path d="M782.5 280.6l4.3-3.3 -3.3-1.7 -7.7 1.5z" fill="#f5e825" stroke="#f5e825"/>
<path d="M786.8 277.3l4.4-3.2 -7.7 1.5z" fill="#f7f51b" stroke="#f7f51b"/>
</g>
<path d="M1022.5 286.3l-33.5-17.6 -43.6 13.5z" fill="#f9fb15" fill-opacity="0.5" stroke="none"/>
<g opacity="0.5">
<path d="M978.9 319l4.4-3.2 -7.7-.4z" fill="#90ca4d" stroke="#90ca4d"/>
<path d="M983.3 315.8l4.3-3.3 -15.4-.8 3.4 3.7z" fill="#adc638" stroke="#adc638"/>
<path d="M987.6 312.5l4.4-3.3 -23.2-1.2 3.4 3.7z" fill="#c8c129" stroke="#c8c129"/>
<path d="M992 309.2l4.3-3.3 -30.8-1.6 3.3 3.7z" fill="#e0bc2a" stroke="#e0bc2a"/>
<path d="M996.3 305.9l4.4-3.3 -38.5-2 3.3 3.7z" fill="#f3ba39" stroke="#f3ba39"/>
<path d="M1000.7 302.6l4.4-3.2 -46.3-2.5 3.4 3.7z" fill="#fec13a" stroke="#fec13a"/>
<path d="M1005.1 299.4l4.3-3.3 -53.9-2.8 3.3 3.6z" fill="#fdcd31" stroke="#fdcd31"/>
<path d="M1009.4 296.1l4.4-3.3 -61.7-3.2 3.4 3.7z" fill="#f7db2b" stroke="#f7db2b"/>
<path d="M1013.8 292.8l4.3-3.3 -69.4-3.6 3.4 3.7z" fill="#f5e825" stroke="#f5e825"/>
<path d="M1018.1 289.5l4.4-3.2 -77.1-4.1 3.3 3.7z" fill="#f7f51b" stroke="#f7f51b"/>
</g>
<path d="M1099.6 290.3l-33.5-17.6 -43.6 13.6z" fill="#f9fb15" fill-opacity="0.5" stroke="none"/>
<g opacity="0.5">
<path d="M1056 323.1l4.4-3.3 -7.7-.4z" fill="#90ca4d" stroke="#90ca4d"/>
<path d="M1060.4 319.8l4.3-3.3 -15.4-.8 3.4 3.7z" fill="#adc638" stroke="#adc638"/>
<path d="M1064.7 316.5l4.4-3.2 -23.2-1.3 3.4 3.7z" fill="#c8c129" stroke="#c8c129"/>
<path d="M1069.1 313.3l4.3-3.3 -30.8-1.6 3.3 3.6z" fill="#e0bc2a" stroke="#e0bc2a"/>
<path d="M1073.4 310l4.4-3.3 -38.6-2 3.4 3.7z" fill="#f3ba39" stroke="#f3ba39"/>
<path d="M1077.8 306.7l4.4-3.3 -46.3-2.4 3.3 3.7z" fill="#fec13a" stroke="#fec13a"/>
<path d="M1082.2 303.4l4.3-3.2 -53.9-2.9 3.3 3.7z" fill="#fdcd31" stroke="#fdcd31"/>
<path d="M1086.5 300.2l4.4-3.3 -61.7-3.3 3.4 3.7z" fill="#f7db2b" stroke="#f7db2b"/>
<path d="M1090.9 296.9l4.3-3.3 -69.4-3.7 3.4 3.7z" fill="#f5e825" stroke="#f5e825"/>
<path d="M1095.2 293.6l4.4-3.3 -77.1-4 3.3 3.6z" fill="#f7f51b" stroke="#f7f51b"/>
</g>
<g opacity="0.5">
<path d="M1223.6 299.9l-3.3 .2 -4.4-.6z" fill="#90ca4d" stroke="#90ca4d"/>
<path d="M1227 299.8l-3.4 .1 -7.7-.4 -4.3-.5z" fill="#adc638" stroke="#adc638"/>
<path d="M1230.4 299.6l-3.4 .2 -15.4-.8 -4.4-.6z" fill="#c8c129" stroke="#c8c129"/>
<path d="M1233.7 299.4l-3.3 .2 -23.2-1.2 -4.3-.6z" fill="#e0bc2a" stroke="#e0bc2a"/>
<path d="M1237.1 299.3l-3.4 .1 -30.8-1.6 -4.4-.6z" fill="#f3ba39" stroke="#f3ba39"/>
<path d="M1240.4 299.1l-3.3 .2 -38.6-2.1 -4.4-.5z" fill="#fec13a" stroke="#fec13a"/>
<path d="M1243.7 299l-3.3 .1 -46.3-2.4 -4.3-.6z" fill="#fdcd31" stroke="#fdcd31"/>
<path d="M1247.1 298.8l-3.4 .2 -53.9-2.9 -4.4-.6z" fill="#f7db2b" stroke="#f7db2b"/>
<path d="M1250.5 298.6l-3.4 .2 -61.7-3.3 -4.3-.5z" fill="#f5e825" stroke="#f5e825"/>
<path d="M1253.8 298.5l-3.3 .1 -69.4-3.6 -4.4-.6z" fill="#f7f51b" stroke="#f7f51b"/>
</g>
<path d="M1210.2 312l43.6-13.5 -77.1-4.1z" fill="#f9fb15" fill-opacity="0.5" stroke="none"/>
<g opacity="0.5">
<path d="M287.2 318.3l-2.2 2.6 3.9-1.7z" fill="#402ab5" stroke="#402ab5"/>
<path d="M289.4 315.7l-2.2 2.6 1.7 .9 3.8-1.7z" fill="#4433cc" stroke="#4433cc"/>
<path d="M291.5 313.1l-2.1 2.6 3.3 1.8 3.9-1.8z" fill="#463de0" stroke="#463de0"/>
<path d="M293.7 310.5l-2.2 2.6 5.1 2.6 3.8-1.7z" fill="#4849ed" stroke="#4849ed"/>
<path d="M295.9 307.9l-2.2 2.6 6.7 3.5 3.9-1.7z" fill="#4755f6" stroke="#4755f6"/>
<path d="M298.1 305.3l-2.2 2.6 8.4 4.4 3.8-1.7z" fill="#4661fc" stroke="#4661fc"/>
<path d="M300.3 302.7l-2.2 2.6 10 5.3 3.9-1.7z" fill="#406dfe" stroke="#406dfe"/>
<path d="M302.4 300.1l-2.1 2.6 11.7 6.2 3.8-1.8z" fill="#347afd" stroke="#347afd"/>
<path d="M304.6 297.5l-2.2 2.6 13.4 7 3.9-1.7z" fill="#2e86f7" stroke="#2e86f7"/>
<path d="M306.8 294.9l-2.2 2.6 15.1 7.9 3.8-1.7z" fill="#2b91ef" stroke="#2b91ef"/>
<path d="M309 292.3l-2.2 2.6 16.7 8.8 3.9-1.7z" fill="#259ce7" stroke="#259ce7"/>
<path d="M311.2 289.7l-2.2 2.6 18.4 9.7 3.9-1.7z" fill="#1fa5e2" stroke="#1fa5e2"/>
<path d="M313.3 287.1l-2.1 2.6 20.1 10.6 3.8-1.8z" fill="#17aeda" stroke="#17aeda"/>
<path d="M315.5 284.5l-2.2 2.6 21.8 11.4 3.9-1.7z" fill="#05b6ce" stroke="#05b6ce"/>
<path d="M317.7 281.9l-2.2 2.6 23.5 12.3 3.8-1.7z" fill="#06bcc0" stroke="#06bcc0"/>
<path d="M319.9 279.3l-2.2 2.6 25.1 13.2 3.9-1.7z" fill="#1fc0b2" stroke="#1fc0b2"/>
<path d="M322.1 276.7l-2.2 2.6 26.8 14.1 3.8-1.7z" fill="#2fc5a2" stroke="#2fc5a2"/>
<path d="M324.2 274.1l-2.1 2.6 28.4 15 3.9-1.8z" fill="#3dc990" stroke="#3dc990"/>
<path d="M326.4 271.5l-2.2 2.6 30.2 15.8 3.8-1.7z" fill="#55cc7c" stroke="#55cc7c"/>
<path d="M362.1 286.5l-33.5-17.6 -2.2 2.6 31.8 16.7z" fill="#71cd64" stroke="#71cd64"/>
</g>
<g opacity="0.5">
<path d="M288.9 319.2l-3.9 1.7 1.1-1.3z" fill="#402ab5" stroke="#402ab5"/>
<path d="M292.7 317.5l-3.8 1.7 -2.8 .4 1.1-1.4z" fill="#4433cc" stroke="#4433cc"/>
<path d="M296.6 315.7l-3.9 1.8 -5.5 .7 1.2-1.3z" fill="#463de0" stroke="#463de0"/>
<path d="M300.4 314l-3.8 1.7 -8.2 1.2 1.1-1.3z" fill="#4849ed" stroke="#4849ed"/>
<path d="M304.3 312.3l-3.9 1.7 -10.9 1.6 1.1-1.4z" fill="#4755f6" stroke="#4755f6"/>
<path d="M308.1 310.6l-3.8 1.7 -13.7 1.9 1.1-1.3z" fill="#4661fc" stroke="#4661fc"/>
<path d="M312 308.9l-3.9 1.7 -16.4 2.3 1.1-1.4z" fill="#406dfe" stroke="#406dfe"/>
<path d="M315.8 307.1l-3.8 1.8 -19.2 2.6 1.1-1.3z" fill="#347afd" stroke="#347afd"/>
<path d="M319.7 305.4l-3.9 1.7 -21.9 3.1 1.2-1.3z" fill="#2e86f7" stroke="#2e86f7"/>
<path d="M323.5 303.7l-3.8 1.7 -24.6 3.5 1.1-1.4z" fill="#2b91ef" stroke="#2b91ef"/>
<path d="M327.4 302l-3.9 1.7 -27.3 3.8 1.1-1.3z" fill="#259ce7" stroke="#259ce7"/>
<path d="M331.3 300.3l-3.9 1.7 -30.1 4.2 1.1-1.3z" fill="#1fa5e2" stroke="#1fa5e2"/>
<path d="M335.1 298.5l-3.8 1.8 -32.9 4.6 1.1-1.4z" fill="#17aeda" stroke="#17aeda"/>
<path d="M339 296.8l-3.9 1.7 -35.6 5 1.1-1.3z" fill="#05b6ce" stroke="#05b6ce"/>
<path d="M342.8 295.1l-3.8 1.7 -38.4 5.4 1.2-1.4z" fill="#06bcc0" stroke="#06bcc0"/>
<path d="M346.7 293.4l-3.9 1.7 -41 5.7 1.1-1.3z" fill="#1fc0b2" stroke="#1fc0b2"/>
<path d="M350.5 291.7l-3.8 1.7 -43.8 6.1 1.1-1.3z" fill="#2fc5a2" stroke="#2fc5a2"/>
<path d="M354.4 289.9l-3.9 1.8 -46.5 6.5 1.1-1.4z" fill="#3dc990" stroke="#3dc990"/>
<path d="M358.2 288.2l-3.8 1.7 -49.3 6.9 1.1-1.3z" fill="#55cc7c" stroke="#55cc7c"/>
<path d="M362.1 286.5l0 0 -3.9 1.7 -52 7.3 1.1-1.3z" fill="#71cd64" stroke="#71cd64"/>
<path d="M357.7 285.9l4.4 .6 0 0 -54.8 7.7 1.1-1.4z" fill="#90ca4d" stroke="#90ca4d"/>
<path d="M353.4 285.4l4.3 .5 -49.3 6.9 1.2-1.3z" fill="#adc638" stroke="#adc638"/>
<path d="M349 284.8l4.4 .6 -43.8 6.1 1.1-1.3z" fill="#c8c129" stroke="#c8c129"/>
<path d="M344.7 284.2l4.3 .6 -38.3 5.4 1.1-1.4z" fill="#e0bc2a" stroke="#e0bc2a"/>
<path d="M340.3 283.6l4.4 .6 -32.9 4.6 1.1-1.3z" fill="#f3ba39" stroke="#f3ba39"/>
<path d="M335.9 283.1l4.4 .5 -27.4 3.9 1.1-1.4z" fill="#fec13a" stroke="#fec13a"/>
<path d="M331.6 282.5l4.3 .6 -21.9 3 1.1-1.3z" fill="#fdcd31" stroke="#fdcd31"/>
<path d="M327.2 281.9l4.4 .6 -16.5 2.3 1.2-1.3z" fill="#f7db2b" stroke="#f7db2b"/>
<path d="M322.9 281.4l4.3 .5 -10.9 1.6 1.1-1.4z" fill="#f5e825" stroke="#f5e825"/>
<path d="M318.5 280.8l4.4 .6 -5.5 .7z" fill="#f7f51b" stroke="#f7f51b"/>
</g>
<g opacity="0.5">
<path d="M366.5 283.2l-4.4 3.3 7.7-1.5z" fill="#90ca4d" stroke="#90ca4d"/>
<path d="M370.8 279.9l-4.3 3.3 3.3 1.8 7.7-1.5z" fill="#adc638" stroke="#adc638"/>
<path d="M375.2 276.7l-4.4 3.2 6.7 3.6 7.7-1.6z" fill="#c8c129" stroke="#c8c129"/>
<path d="M379.5 273.4l-4.3 3.3 10 5.2 7.7-1.5z" fill="#e0bc2a" stroke="#e0bc2a"/>
<path d="M383.9 270.1l-4.4 3.3 13.4 7 7.8-1.5z" fill="#f3ba39" stroke="#f3ba39"/>
<path d="M388.3 266.8l-4.4 3.3 16.8 8.8 7.7-1.5z" fill="#fec13a" stroke="#fec13a"/>
<path d="M392.6 263.6l-4.3 3.2 20.1 10.6 7.7-1.5z" fill="#fdcd31" stroke="#fdcd31"/>
<path d="M397 260.3l-4.4 3.3 23.5 12.3 7.7-1.5z" fill="#f7db2b" stroke="#f7db2b"/>
<path d="M401.3 257l-4.3 3.3 26.8 14.1 7.7-1.6z" fill="#f5e825" stroke="#f5e825"/>
<path d="M439.2 271.3l-33.5-17.6 -4.4 3.3 30.2 15.8z" fill="#f7f51b" stroke="#f7f51b"/>
</g>
<g opacity="0.5">
<path d="M369.8 285l-7.7 1.5 3.3-.2z" fill="#90ca4d" stroke="#90ca4d"/>
<path d="M377.5 283.5l-7.7 1.5 -4.4 1.3 3.4-.1z" fill="#adc638" stroke="#adc638"/>
<path d="M385.2 281.9l-7.7 1.6 -8.7 2.7 3.4-.2z" fill="#c8c129" stroke="#c8c129"/>
<path d="M392.9 280.4l-7.7 1.5 -13 4.1 3.3-.2z" fill="#e0bc2a" stroke="#e0bc2a"/>
<path d="M400.6 278.9l-7.7 1.5 -17.4 5.4 3.3-.1z" fill="#f3ba39" stroke="#f3ba39"/>
<path d="M408.4 277.4l-7.7 1.5 -21.9 6.8 3.4-.2z" fill="#fec13a" stroke="#fec13a"/>
<path d="M416.1 275.9l-7.7 1.5 -26.2 8.1 3.3-.1z" fill="#fdcd31" stroke="#fdcd31"/>
<path d="M423.8 274.4l-7.7 1.5 -30.6 9.5 3.4-.2z" fill="#f7db2b" stroke="#f7db2b"/>
<path d="M431.5 272.8l-7.7 1.6 -34.9 10.8 3.4-.2z" fill="#f5e825" stroke="#f5e825"/>
<path d="M395.6 284.9l43.6-13.6 -7.7 1.5 -39.2 12.2z" fill="#f7f51b" stroke="#f7f51b"/>
</g>
<g opacity="0.5">
<path d="M516.3 294.6l-33.5-17.6 -4.4-.5 30.2 15.8z" fill="#90ca4d" stroke="#90ca4d"/>
<path d="M478.4 276.5l-4.3-.6 26.8 14.1 7.7 2.3z" fill="#adc638" stroke="#adc638"/>
<path d="M474.1 275.9l-4.4-.6 23.5 12.3 7.7 2.4z" fill="#c8c129" stroke="#c8c129"/>
<path d="M469.7 275.3l-4.3-.5 20.1 10.5 7.7 2.3z" fill="#e0bc2a" stroke="#e0bc2a"/>
<path d="M465.4 274.8l-4.4-.6 16.8 8.8 7.7 2.3z" fill="#f3ba39" stroke="#f3ba39"/>
<path d="M461 274.2l-4.4-.6 13.4 7.1 7.8 2.3z" fill="#fec13a" stroke="#fec13a"/>
<path d="M456.6 273.6l-4.3-.6 10 5.3 7.7 2.4z" fill="#fdcd31" stroke="#fdcd31"/>
<path d="M452.3 273l-4.4-.5 6.7 3.5 7.7 2.3z" fill="#f7db2b" stroke="#f7db2b"/>
<path d="M447.9 272.5l-4.3-.6 3.3 1.8 7.7 2.3z" fill="#f5e825" stroke="#f5e825"/>
<path d="M443.6 271.9l-4.4-.6 7.7 2.4z" fill="#f7f51b" stroke="#f7f51b"/>
</g>
<g opacity="0.5">
<path d="M472.7 327.4l4.4-3.3 -6.1 .5z" fill="#259ce7" stroke="#259ce7"/>
<path d="M477.1 324.1l4.3-3.3 -12.1 1 1.7 2.8z" fill="#1fa5e2" stroke="#1fa5e2"/>
<path d="M481.4 320.8l4.4-3.2 -18.1 1.4 1.6 2.8z" fill="#17aeda" stroke="#17aeda"/>
<path d="M485.8 317.6l4.3-3.3 -24.1 1.9 1.7 2.8z" fill="#05b6ce" stroke="#05b6ce"/>
<path d="M490.1 314.3l4.4-3.3 -30.2 2.4 1.7 2.8z" fill="#06bcc0" stroke="#06bcc0"/>
<path d="M494.5 311l4.4-3.3 -36.3 2.9 1.7 2.8z" fill="#1fc0b2" stroke="#1fc0b2"/>
<path d="M498.9 307.7l4.3-3.2 -42.2 3.3 1.6 2.8z" fill="#2fc5a2" stroke="#2fc5a2"/>
<path d="M503.2 304.5l4.4-3.3 -48.3 3.8 1.7 2.8z" fill="#3dc990" stroke="#3dc990"/>
<path d="M507.6 301.2l4.3-3.3 -54.3 4.3 1.7 2.8z" fill="#55cc7c" stroke="#55cc7c"/>
<path d="M511.9 297.9l4.4-3.3 0 0 -60.4 4.8 1.7 2.8z" fill="#71cd64" stroke="#71cd64"/>
<path d="M516.3 294.6l0 0 -7.7-2.3 -54.3 4.3 1.6 2.8z" fill="#90ca4d" stroke="#90ca4d"/>
<path d="M508.6 292.3l-7.7-2.3 -48.3 3.8 1.7 2.8z" fill="#adc638" stroke="#adc638"/>
<path d="M500.9 290l-7.7-2.4 -42.3 3.4 1.7 2.8z" fill="#c8c129" stroke="#c8c129"/>
<path d="M493.2 287.6l-7.7-2.3 -36.2 2.9 1.6 2.8z" fill="#e0bc2a" stroke="#e0bc2a"/>
<path d="M485.5 285.3l-7.7-2.3 -30.2 2.3 1.7 2.9z" fill="#f3ba39" stroke="#f3ba39"/>
<path d="M477.8 283l-7.8-2.3 -24.1 1.8 1.7 2.8z" fill="#fec13a" stroke="#fec13a"/>
<path d="M470 280.7l-7.7-2.4 -18.1 1.4 1.7 2.8z" fill="#fdcd31" stroke="#fdcd31"/>
<path d="M462.3 278.3l-7.7-2.3 -12.1 .9 1.7 2.8z" fill="#f7db2b" stroke="#f7db2b"/>
<path d="M454.6 276l-7.7-2.3 -6 .4 1.6 2.8z" fill="#f5e825" stroke="#f5e825"/>
<path d="M446.9 273.7l-7.7-2.4 1.7 2.8z" fill="#f7f51b" stroke="#f7f51b"/>
</g>
<g opacity="0.5">
<path d="M520.7 291.4l-4.4 3.2 7.7-1.5z" fill="#90ca4d" stroke="#90ca4d"/>
<path d="M525 288.1l-4.3 3.3 3.3 1.7 7.7-1.5z" fill="#adc638" stroke="#adc638"/>
<path d="M529.4 284.8l-4.4 3.3 6.7 3.5 7.7-1.5z" fill="#c8c129" stroke="#c8c129"/>
<path d="M533.7 281.5l-4.3 3.3 10 5.3 7.7-1.5z" fill="#e0bc2a" stroke="#e0bc2a"/>
<path d="M538.1 278.2l-4.4 3.3 13.4 7.1 7.7-1.6z" fill="#f3ba39" stroke="#f3ba39"/>
<path d="M542.5 275l-4.4 3.2 16.7 8.8 7.8-1.5z" fill="#fec13a" stroke="#fec13a"/>
<path d="M546.8 271.7l-4.3 3.3 20.1 10.5 7.7-1.5z" fill="#fdcd31" stroke="#fdcd31"/>
<path d="M551.2 268.4l-4.4 3.3 23.5 12.3 7.7-1.5z" fill="#f7db2b" stroke="#f7db2b"/>
<path d="M555.5 265.1l-4.3 3.3 26.8 14.1 7.7-1.5z" fill="#f5e825" stroke="#f5e825"/>
<path d="M593.4 279.5l-33.5-17.6 -4.4 3.2 30.2 15.9z" fill="#f7f51b" stroke="#f7f51b"/>
</g>
<g opacity="0.5">
<path d="M549.8 312.2l4.4-3.2 -30.2-15.9 -7.7 1.5z" fill="#90ca4d" stroke="#90ca4d"/>
<path d="M554.2 309l4.3-3.3 -26.8-14.1 -7.7 1.5z" fill="#adc638" stroke="#adc638"/>
<path d="M558.5 305.7l4.4-3.3 -23.5-12.3 -7.7 1.5z" fill="#c8c129" stroke="#c8c129"/>
<path d="M562.9 302.4l4.3-3.3 -20.1-10.5 -7.7 1.5z" fill="#e0bc2a" stroke="#e0bc2a"/>
<path d="M567.2 299.1l4.4-3.3 -16.8-8.8 -7.7 1.6z" fill="#f3ba39" stroke="#f3ba39"/>
<path d="M571.6 295.8l4.4-3.2 -13.4-7.1 -7.8 1.5z" fill="#fec13a" stroke="#fec13a"/>
<path d="M576 292.6l4.3-3.3 -10-5.3 -7.7 1.5z" fill="#fdcd31" stroke="#fdcd31"/>
<path d="M580.3 289.3l4.4-3.3 -6.7-3.5 -7.7 1.5z" fill="#f7db2b" stroke="#f7db2b"/>
<path d="M584.7 286l4.3-3.3 -3.3-1.7 -7.7 1.5z" fill="#f5e825" stroke="#f5e825"/>
<path d="M589 282.7l4.4-3.2 -7.7 1.5z" fill="#f7f51b" stroke="#f7f51b"/>
</g>
<path d="M670.5 283.5l-33.5-17.6 -43.6 13.6z" fill="#f9fb15" fill-opacity="0.5" stroke="none"/>
<g opacity="0.5">
<path d="M626.9 335.5l2.2-2.6 -3.9-.2z" fill="#259ce7" stroke="#259ce7"/>
<path d="M629.1 332.9l2.2-2.6 -7.8-.4 1.7 2.8z" fill="#1fa5e2" stroke="#1fa5e2"/>
<path d="M631.3 330.3l2.1-2.6 -11.5-.6 1.6 2.8z" fill="#17aeda" stroke="#17aeda"/>
<path d="M633.4 327.7l2.2-2.6 -15.4-.8 1.7 2.8z" fill="#05b6ce" stroke="#05b6ce"/>
<path d="M635.6 325.1l2.2-2.6 -19.3-1 1.7 2.8z" fill="#06bcc0" stroke="#06bcc0"/>
<path d="M637.8 322.5l2.2-2.6 -23.2-1.2 1.7 2.8z" fill="#1fc0b2" stroke="#1fc0b2"/>
<path d="M640 319.9l2.2-2.6 -27-1.4 1.6 2.8z" fill="#2fc5a2" stroke="#2fc5a2"/>
<path d="M642.2 317.3l2.1-2.6 -30.8-1.6 1.7 2.8z" fill="#3dc990" stroke="#3dc990"/>
<path d="M644.3 314.7l2.2-2.6 -34.7-1.8 1.7 2.8z" fill="#55cc7c" stroke="#55cc7c"/>
<path d="M646.5 312.1l2.2-2.6 -38.6-2 1.7 2.8z" fill="#71cd64" stroke="#71cd64"/>
<path d="M648.7 309.5l2.2-2.6 -42.4-2.2 1.6 2.8z" fill="#90ca4d" stroke="#90ca4d"/>
<path d="M650.9 306.9l2.2-2.6 -46.3-2.4 1.7 2.8z" fill="#adc638" stroke="#adc638"/>
<path d="M653.1 304.3l2.1-2.6 -50.1-2.6 1.7 2.8z" fill="#c8c129" stroke="#c8c129"/>
<path d="M655.2 301.7l2.2-2.6 -53.9-2.8 1.6 2.8z" fill="#e0bc2a" stroke="#e0bc2a"/>
<path d="M657.4 299.1l2.2-2.6 -57.8-3 1.7 2.8z" fill="#f3ba39" stroke="#f3ba39"/>
<path d="M659.6 296.5l2.2-2.6 -61.7-3.2 1.7 2.8z" fill="#fec13a" stroke="#fec13a"/>
<path d="M661.8 293.9l2.2-2.6 -65.6-3.4 1.7 2.8z" fill="#fdcd31" stroke="#fdcd31"/>
<path d="M664 291.3l2.1-2.6 -69.4-3.6 1.7 2.8z" fill="#f7db2b" stroke="#f7db2b"/>
<path d="M666.1 288.7l2.2-2.6 -73.2-3.8 1.6 2.8z" fill="#f5e825" stroke="#f5e825"/>
<path d="M668.3 286.1l2.2-2.6 -77.1-4 1.7 2.8z" fill="#f7f51b" stroke="#f7f51b"/>
</g>
<g opacity="0.5">
<path d="M747.6 306.8l-33.5-17.6 -4.4-.5 30.2 15.8z" fill="#90ca4d" stroke="#90ca4d"/>
<path d="M709.7 288.7l-4.3-.6 26.8 14.1 7.7 2.3z" fill="#adc638" stroke="#adc638"/>
<path d="M705.4 288.1l-4.4-.6 23.5 12.3 7.7 2.4z" fill="#c8c129" stroke="#c8c129"/>
<path d="M701 287.5l-4.3-.5 20.1 10.5 7.7 2.3z" fill="#e0bc2a" stroke="#e0bc2a"/>
<path d="M696.7 287l-4.4-.6 16.8 8.8 7.7 2.3z" fill="#f3ba39" stroke="#f3ba39"/>
<path d="M692.3 286.4l-4.4-.6 13.4 7.1 7.7 2.3z" fill="#fec13a" stroke="#fec13a"/>
<path d="M687.9 285.8l-4.3-.6 10 5.3 7.7 2.4z" fill="#fdcd31" stroke="#fdcd31"/>
<path d="M683.6 285.2l-4.4-.5 6.7 3.5 7.7 2.3z" fill="#f7db2b" stroke="#f7db2b"/>
<path d="M679.2 284.7l-4.3-.6 3.3 1.8 7.7 2.3z" fill="#f5e825" stroke="#f5e825"/>
<path d="M674.9 284.1l-4.4-.6 7.7 2.4z" fill="#f7f51b" stroke="#f7f51b"/>
</g>
<g opacity="0.5">
<path d="M704 320.4l43.6-13.6 -7.7-2.3 -39.2 12.2z" fill="#90ca4d" stroke="#90ca4d"/>
<path d="M739.9 304.5l-7.7-2.3 -34.9 10.8 3.4 3.7z" fill="#adc638" stroke="#adc638"/>
<path d="M732.2 302.2l-7.7-2.4 -30.6 9.5 3.4 3.7z" fill="#c8c129" stroke="#c8c129"/>
<path d="M724.5 299.8l-7.7-2.3 -26.2 8.1 3.3 3.7z" fill="#e0bc2a" stroke="#e0bc2a"/>
<path d="M716.8 297.5l-7.7-2.3 -21.9 6.7 3.4 3.7z" fill="#f3ba39" stroke="#f3ba39"/>
<path d="M709 295.2l-7.7-2.3 -17.4 5.4 3.3 3.6z" fill="#fec13a" stroke="#fec13a"/>
<path d="M701.3 292.9l-7.7-2.4 -13 4.1 3.3 3.7z" fill="#fdcd31" stroke="#fdcd31"/>
<path d="M693.6 290.5l-7.7-2.3 -8.7 2.7 3.4 3.7z" fill="#f7db2b" stroke="#f7db2b"/>
<path d="M685.9 288.2l-7.7-2.3 -4.4 1.3 3.4 3.7z" fill="#f5e825" stroke="#f5e825"/>
<path d="M678.2 285.9l-7.7-2.4 3.3 3.7z" fill="#f7f51b" stroke="#f7f51b"/>
</g>
<g opacity="0.5">
<path d="M752 303.6l-4.4 3.2 7.7-1.5z" fill="#90ca4d" stroke="#90ca4d"/>
<path d="M756.3 300.3l-4.3 3.3 3.3 1.7 7.7-1.5z" fill="#adc638" stroke="#adc638"/>
<path d="M760.7 297l-4.4 3.3 6.7 3.5 7.7-1.5z" fill="#c8c129" stroke="#c8c129"/>
<path d="M765 293.7l-4.3 3.3 10 5.3 7.7-1.5z" fill="#e0bc2a" stroke="#e0bc2a"/>
<path d="M769.4 290.4l-4.4 3.3 13.4 7.1 7.8-1.6z" fill="#f3ba39" stroke="#f3ba39"/>
<path d="M773.8 287.2l-4.4 3.2 16.8 8.8 7.7-1.5z" fill="#fec13a" stroke="#fec13a"/>
<path d="M778.1 283.9l-4.3 3.3 20.1 10.5 7.7-1.5z" fill="#fdcd31" stroke="#fdcd31"/>
<path d="M782.5 280.6l-4.4 3.3 23.5 12.3 7.7-1.5z" fill="#f7db2b" stroke="#f7db2b"/>
<path d="M786.8 277.3l-4.3 3.3 26.8 14.1 7.7-1.5z" fill="#f5e825" stroke="#f5e825"/>
<path d="M824.7 291.7l-33.5-17.6 -4.4 3.2 30.2 15.9z" fill="#f7f51b" stroke="#f7f51b"/>
</g>
<g opacity="0.5">
<path d="M755.3 305.3l-7.7 1.5 3.3-.1z" fill="#90ca4d" stroke="#90ca4d"/>
<path d="M763 303.8l-7.7 1.5 -4.4 1.4 3.4-.2z" fill="#adc638" stroke="#adc638"/>
<path d="M770.7 302.3l-7.7 1.5 -8.7 2.7 3.4-.2z" fill="#c8c129" stroke="#c8c129"/>
<path d="M778.4 300.8l-7.7 1.5 -13 4 3.3-.1z" fill="#e0bc2a" stroke="#e0bc2a"/>
<path d="M786.2 299.2l-7.8 1.6 -17.4 5.4 3.4-.2z" fill="#f3ba39" stroke="#f3ba39"/>
<path d="M793.9 297.7l-7.7 1.5 -21.8 6.8 3.3-.1z" fill="#fec13a" stroke="#fec13a"/>
<path d="M801.6 296.2l-7.7 1.5 -26.2 8.2 3.3-.2z" fill="#fdcd31" stroke="#fdcd31"/>
<path d="M809.3 294.7l-7.7 1.5 -30.6 9.5 3.4-.2z" fill="#f7db2b" stroke="#f7db2b"/>
<path d="M817 293.2l-7.7 1.5 -34.9 10.8 3.4-.1z" fill="#f5e825" stroke="#f5e825"/>
<path d="M781.1 305.2l43.6-13.5 -7.7 1.5 -39.2 12.2z" fill="#f7f51b" stroke="#f7f51b"/>
</g>
<g opacity="0.5">
<path d="M978.9 319l-3.3-3.6 -4.4 1.3z" fill="#90ca4d" stroke="#90ca4d"/>
<path d="M975.6 315.4l-3.4-3.7 -8.7 2.7 7.7 2.3z" fill="#adc638" stroke="#adc638"/>
<path d="M972.2 311.7l-3.4-3.7 -13 4 7.7 2.4z" fill="#c8c129" stroke="#c8c129"/>
<path d="M968.8 308l-3.3-3.7 -17.4 5.4 7.7 2.3z" fill="#e0bc2a" stroke="#e0bc2a"/>
<path d="M965.5 304.3l-3.3-3.7 -21.8 6.8 7.7 2.3z" fill="#f3ba39" stroke="#f3ba39"/>
<path d="M962.2 300.6l-3.4-3.7 -26.2 8.2 7.8 2.3z" fill="#fec13a" stroke="#fec13a"/>
<path d="M958.8 296.9l-3.3-3.6 -30.6 9.4 7.7 2.4z" fill="#fdcd31" stroke="#fdcd31"/>
<path d="M955.5 293.3l-3.4-3.7 -34.9 10.8 7.7 2.3z" fill="#f7db2b" stroke="#f7db2b"/>
<path d="M952.1 289.6l-3.4-3.7 -39.2 12.2 7.7 2.3z" fill="#f5e825" stroke="#f5e825"/>
<path d="M948.7 285.9l-3.3-3.7 -43.6 13.5 7.7 2.4z" fill="#f7f51b" stroke="#f7f51b"/>
</g>
<g opacity="0.5">
<path d="M974.5 318.5l4.4 .5 -7.7-2.3z" fill="#90ca4d" stroke="#90ca4d"/>
<path d="M970.2 317.9l4.3 .6 -3.3-1.8 -7.7-2.3z" fill="#adc638" stroke="#adc638"/>
<path d="M965.8 317.3l4.4 .6 -6.7-3.5 -7.7-2.4z" fill="#c8c129" stroke="#c8c129"/>
<path d="M961.5 316.8l4.3 .5 -10-5.3 -7.7-2.3z" fill="#e0bc2a" stroke="#e0bc2a"/>
<path d="M957.1 316.2l4.4 .6 -13.4-7.1 -7.7-2.3z" fill="#f3ba39" stroke="#f3ba39"/>
<path d="M952.7 315.6l4.4 .6 -16.7-8.8 -7.8-2.3z" fill="#fec13a" stroke="#fec13a"/>
<path d="M948.4 315l4.3 .6 -20.1-10.5 -7.7-2.4z" fill="#fdcd31" stroke="#fdcd31"/>
<path d="M944 314.5l4.4 .5 -23.5-12.3 -7.7-2.3z" fill="#f7db2b" stroke="#f7db2b"/>
<path d="M939.7 313.9l4.3 .6 -26.8-14.1 -7.7-2.3z" fill="#f5e825" stroke="#f5e825"/>
<path d="M935.3 313.3l4.4 .6 -30.2-15.8 -7.7-2.4z" fill="#f7f51b" stroke="#f7f51b"/>
</g>
<g opacity="0.5">
<path d="M1056 323.1l-3.3-3.7 -69.4-3.6 -4.4 3.2z" fill="#90ca4d" stroke="#90ca4d"/>
<path d="M1052.7 319.4l-3.4-3.7 -61.7-3.2 -4.3 3.3z" fill="#adc638" stroke="#adc638"/>
<path d="M1049.3 315.7l-3.4-3.7 -53.9-2.8 -4.4 3.3z" fill="#c8c129" stroke="#c8c129"/>
<path d="M1045.9 312l-3.3-3.6 -46.3-2.5 -4.3 3.3z" fill="#e0bc2a" stroke="#e0bc2a"/>
<path d="M1042.6 308.4l-3.4-3.7 -38.5-2.1 -4.4 3.3z" fill="#f3ba39" stroke="#f3ba39"/>
<path d="M1039.2 304.7l-3.3-3.7 -30.8-1.6 -4.4 3.2z" fill="#fec13a" stroke="#fec13a"/>
<path d="M1035.9 301l-3.3-3.7 -23.2-1.2 -4.3 3.3z" fill="#fdcd31" stroke="#fdcd31"/>
<path d="M1032.6 297.3l-3.4-3.7 -15.4-.8 -4.4 3.3z" fill="#f7db2b" stroke="#f7db2b"/>
<path d="M1029.2 293.6l-3.4-3.7 -7.7-.4 -4.3 3.3z" fill="#f5e825" stroke="#f5e825"/>
<path d="M1025.8 289.9l-3.3-3.6 -4.4 3.2z" fill="#f7f51b" stroke="#f7f51b"/>
</g>
<g opacity="0.5">
<path d="M1051.6 322.5l4.4 .6 -77.1-4.1 3.3-.1z" fill="#90ca4d" stroke="#90ca4d"/>
<path d="M1047.3 322l4.3 .5 -69.4-3.6 3.4-.2z" fill="#adc638" stroke="#adc638"/>
<path d="M1042.9 321.4l4.4 .6 -61.7-3.3 3.4-.2z" fill="#c8c129" stroke="#c8c129"/>
<path d="M1038.6 320.8l4.3 .6 -53.9-2.9 3.3-.1z" fill="#e0bc2a" stroke="#e0bc2a"/>
<path d="M1034.2 320.2l4.4 .6 -46.3-2.4 3.3-.2z" fill="#f3ba39" stroke="#f3ba39"/>
<path d="M1029.8 319.7l4.4 .5 -38.6-2 3.4-.1z" fill="#fec13a" stroke="#fec13a"/>
<path d="M1025.5 319.1l4.3 .6 -30.8-1.6 3.3-.2z" fill="#fdcd31" stroke="#fdcd31"/>
<path d="M1021.1 318.5l4.4 .6 -23.2-1.2 3.4-.2z" fill="#f7db2b" stroke="#f7db2b"/>
<path d="M1016.8 318l4.3 .5 -15.4-.8 3.4-.1z" fill="#f5e825" stroke="#f5e825"/>
<path d="M1012.4 317.4l4.4 .6 -7.7-.4z" fill="#f7f51b" stroke="#f7f51b"/>
</g>
<g opacity="0.5">
<path d="M1060.4 319.8l-4.4 3.3 7.7-1.5z" fill="#90ca4d" stroke="#90ca4d"/>
<path d="M1064.7 316.5l-4.3 3.3 3.3 1.8 7.7-1.5z" fill="#adc638" stroke="#adc638"/>
<path d="M1069.1 313.3l-4.4 3.2 6.7 3.6 7.7-1.6z" fill="#c8c129" stroke="#c8c129"/>
<path d="M1073.4 310l-4.3 3.3 10 5.2 7.7-1.5z" fill="#e0bc2a" stroke="#e0bc2a"/>
<path d="M1077.8 306.7l-4.4 3.3 13.4 7 7.8-1.5z" fill="#f3ba39" stroke="#f3ba39"/>
<path d="M1082.2 303.4l-4.4 3.3 16.8 8.8 7.7-1.5z" fill="#fec13a" stroke="#fec13a"/>
<path d="M1086.5 300.2l-4.3 3.2 20.1 10.6 7.7-1.5z" fill="#fdcd31" stroke="#fdcd31"/>
<path d="M1090.9 296.9l-4.4 3.3 23.5 12.3 7.7-1.5z" fill="#f7db2b" stroke="#f7db2b"/>
<path d="M1095.2 293.6l-4.3 3.3 26.8 14.1 7.7-1.6z" fill="#f5e825" stroke="#f5e825"/>
<path d="M1133.1 307.9l-33.5-17.6 -4.4 3.3 30.2 15.8z" fill="#f7f51b" stroke="#f7f51b"/>
</g>
<g opacity="0.5">
<path d="M1089.5 340.7l4.4-3.3 -30.2-15.8 -7.7 1.5z" fill="#90ca4d" stroke="#90ca4d"/>
<path d="M1093.9 337.4l4.3-3.3 -26.8-14 -7.7 1.5z" fill="#adc638" stroke="#adc638"/>
<path d="M1098.2 334.1l4.4-3.2 -23.5-12.4 -7.7 1.6z" fill="#c8c129" stroke="#c8c129"/>
<path d="M1102.6 330.9l4.3-3.3 -20.1-10.6 -7.7 1.5z" fill="#e0bc2a" stroke="#e0bc2a"/>
<path d="M1106.9 327.6l4.4-3.3 -16.7-8.8 -7.8 1.5z" fill="#f3ba39" stroke="#f3ba39"/>
<path d="M1111.3 324.3l4.4-3.3 -13.4-7 -7.7 1.5z" fill="#fec13a" stroke="#fec13a"/>
<path d="M1115.7 321l4.3-3.2 -10-5.3 -7.7 1.5z" fill="#fdcd31" stroke="#fdcd31"/>
<path d="M1120 317.8l4.4-3.3 -6.7-3.5 -7.7 1.5z" fill="#f7db2b" stroke="#f7db2b"/>
<path d="M1124.4 314.5l4.3-3.3 -3.3-1.8 -7.7 1.6z" fill="#f5e825" stroke="#f5e825"/>
<path d="M1128.7 311.2l4.4-3.3 -7.7 1.5z" fill="#f7f51b" stroke="#f7f51b"/>
</g>
<g opacity="0.5">
<path d="M365.4 286.3l-3.3 .2 -4.4-.6z" fill="#90ca4d" stroke="#90ca4d"/>
<path d="M368.8 286.2l-3.4 .1 -7.7-.4 -4.3-.5z" fill="#adc638" stroke="#adc638"/>
<path d="M372.2 286l-3.4 .2 -15.4-.8 -4.4-.6z" fill="#c8c129" stroke="#c8c129"/>
<path d="M375.5 285.8l-3.3 .2 -23.2-1.2 -4.3-.6z" fill="#e0bc2a" stroke="#e0bc2a"/>
<path d="M378.8 285.7l-3.3 .1 -30.8-1.6 -4.4-.6z" fill="#f3ba39" stroke="#f3ba39"/>
<path d="M382.2 285.5l-3.4 .2 -38.5-2.1 -4.4-.5z" fill="#fec13a" stroke="#fec13a"/>
<path d="M385.5 285.4l-3.3 .1 -46.3-2.4 -4.3-.6z" fill="#fdcd31" stroke="#fdcd31"/>
<path d="M388.9 285.2l-3.4 .2 -53.9-2.9 -4.4-.6z" fill="#f7db2b" stroke="#f7db2b"/>
<path d="M392.3 285l-3.4 .2 -61.7-3.3 -4.3-.5z" fill="#f5e825" stroke="#f5e825"/>
<path d="M395.6 284.9l-3.3 .1 -69.4-3.6 -4.4-.6z" fill="#f7f51b" stroke="#f7f51b"/>
</g>
<g opacity="0.5">
<path d="M352 317.6l4.4-3.2 -7.7-.4z" fill="#90ca4d" stroke="#90ca4d"/>
<path d="M356.4 314.4l4.3-3.3 -15.4-.8 3.4 3.7z" fill="#adc638" stroke="#adc638"/>
<path d="M360.7 311.1l4.4-3.3 -23.2-1.2 3.4 3.7z" fill="#c8c129" stroke="#c8c129"/>
<path d="M365.1 307.8l4.3-3.3 -30.8-1.6 3.3 3.7z" fill="#e0bc2a" stroke="#e0bc2a"/>
<path d="M369.4 304.5l4.4-3.3 -38.6-2 3.4 3.7z" fill="#f3ba39" stroke="#f3ba39"/>
<path d="M373.8 301.2l4.4-3.2 -46.3-2.5 3.3 3.7z" fill="#fec13a" stroke="#fec13a"/>
<path d="M378.2 298l4.3-3.3 -53.9-2.8 3.3 3.6z" fill="#fdcd31" stroke="#fdcd31"/>
<path d="M382.5 294.7l4.4-3.3 -61.7-3.2 3.4 3.7z" fill="#f7db2b" stroke="#f7db2b"/>
<path d="M386.9 291.4l4.3-3.3 -69.4-3.6 3.4 3.7z" fill="#f5e825" stroke="#f5e825"/>
<path d="M391.2 288.1l4.4-3.2 -77.1-4.1 3.3 3.7z" fill="#f7f51b" stroke="#f7f51b"/>
</g>
<g opacity="0.5">
<path d="M472.7 327.4l-1.7-2.8 -2.2 .7z" fill="#259ce7" stroke="#259ce7"/>
<path d="M471 324.6l-1.7-2.8 -4.3 1.3 3.8 2.2z" fill="#1fa5e2" stroke="#1fa5e2"/>
<path d="M469.3 321.8l-1.6-2.8 -6.6 2 3.9 2.1z" fill="#17aeda" stroke="#17aeda"/>
<path d="M467.7 319l-1.7-2.8 -8.7 2.7 3.8 2.1z" fill="#05b6ce" stroke="#05b6ce"/>
<path d="M466 316.2l-1.7-2.8 -10.9 3.4 3.9 2.1z" fill="#06bcc0" stroke="#06bcc0"/>
<path d="M464.3 313.4l-1.7-2.8 -13 4 3.8 2.2z" fill="#1fc0b2" stroke="#1fc0b2"/>
<path d="M462.6 310.6l-1.6-2.8 -15.3 4.7 3.9 2.1z" fill="#2fc5a2" stroke="#2fc5a2"/>
<path d="M461 307.8l-1.7-2.8 -17.4 5.4 3.8 2.1z" fill="#3dc990" stroke="#3dc990"/>
<path d="M459.3 305l-1.7-2.8 -19.6 6.1 3.9 2.1z" fill="#55cc7c" stroke="#55cc7c"/>
<path d="M457.6 302.2l-1.7-2.8 -21.8 6.7 3.9 2.2z" fill="#71cd64" stroke="#71cd64"/>
<path d="M455.9 299.4l-1.6-2.8 -24 7.4 3.8 2.1z" fill="#90ca4d" stroke="#90ca4d"/>
<path d="M454.3 296.6l-1.7-2.8 -26.2 8.1 3.9 2.1z" fill="#adc638" stroke="#adc638"/>
<path d="M452.6 293.8l-1.7-2.8 -28.3 8.8 3.8 2.1z" fill="#c8c129" stroke="#c8c129"/>
<path d="M450.9 291l-1.6-2.8 -30.6 9.4 3.9 2.2z" fill="#e0bc2a" stroke="#e0bc2a"/>
<path d="M449.3 288.2l-1.7-2.9 -32.7 10.2 3.8 2.1z" fill="#f3ba39" stroke="#f3ba39"/>
<path d="M447.6 285.3l-1.7-2.8 -34.9 10.9 3.9 2.1z" fill="#fec13a" stroke="#fec13a"/>
<path d="M445.9 282.5l-1.7-2.8 -37 11.5 3.8 2.2z" fill="#fdcd31" stroke="#fdcd31"/>
<path d="M444.2 279.7l-1.7-2.8 -39.2 12.2 3.9 2.1z" fill="#f7db2b" stroke="#f7db2b"/>
<path d="M442.5 276.9l-1.6-2.8 -41.4 12.9 3.8 2.1z" fill="#f5e825" stroke="#f5e825"/>
<path d="M440.9 274.1l-1.7-2.8 -43.6 13.6 3.9 2.1z" fill="#f7f51b" stroke="#f7f51b"/>
</g>
<g opacity="0.5">
<path d="M468.3 326.8l4.4 .6 -3.9-2.1z" fill="#259ce7" stroke="#259ce7"/>
<path d="M464 326.3l4.3 .5 .5-1.5 -3.8-2.2z" fill="#1fa5e2" stroke="#1fa5e2"/>
<path d="M459.6 325.7l4.4 .6 1-3.2 -3.9-2.1z" fill="#17aeda" stroke="#17aeda"/>
<path d="M455.3 325.1l4.3 .6 1.5-4.7 -3.8-2.1z" fill="#05b6ce" stroke="#05b6ce"/>
<path d="M450.9 324.5l4.4 .6 2-6.2 -3.9-2.1z" fill="#06bcc0" stroke="#06bcc0"/>
<path d="M446.5 324l4.4 .5 2.5-7.7 -3.8-2.2z" fill="#1fc0b2" stroke="#1fc0b2"/>
<path d="M442.2 323.4l4.3 .6 3.1-9.4 -3.9-2.1z" fill="#2fc5a2" stroke="#2fc5a2"/>
<path d="M437.8 322.8l4.4 .6 3.5-10.9 -3.8-2.1z" fill="#3dc990" stroke="#3dc990"/>
<path d="M433.5 322.3l4.3 .5 4.1-12.4 -3.9-2.1z" fill="#55cc7c" stroke="#55cc7c"/>
<path d="M429.1 321.7l4.4 .6 4.5-14 -3.9-2.2 -5 15.6z" fill="#71cd64" stroke="#71cd64"/>
<path d="M429.1 321.7l0 0 5-15.6 -3.8-2.1 -4.5 14z" fill="#90ca4d" stroke="#90ca4d"/>
<path d="M430.3 304l-3.9-2.1 -4 12.4 3.4 3.7z" fill="#adc638" stroke="#adc638"/>
<path d="M426.4 301.9l-3.8-2.1 -3.6 10.8 3.4 3.7z" fill="#c8c129" stroke="#c8c129"/>
<path d="M422.6 299.8l-3.9-2.2 -3 9.4 3.3 3.6z" fill="#e0bc2a" stroke="#e0bc2a"/>
<path d="M418.7 297.6l-3.8-2.1 -2.5 7.8 3.3 3.7z" fill="#f3ba39" stroke="#f3ba39"/>
<path d="M414.9 295.5l-3.9-2.1 -2 6.2 3.4 3.7z" fill="#fec13a" stroke="#fec13a"/>
<path d="M411 293.4l-3.8-2.2 -1.5 4.7 3.3 3.7z" fill="#fdcd31" stroke="#fdcd31"/>
<path d="M407.2 291.2l-3.9-2.1 -1 3.1 3.4 3.7z" fill="#f7db2b" stroke="#f7db2b"/>
<path d="M403.3 289.1l-3.8-2.1 -.6 1.5 3.4 3.7z" fill="#f5e825" stroke="#f5e825"/>
<path d="M399.5 287l-3.9-2.1 3.3 3.6z" fill="#f7f51b" stroke="#f7f51b"/>
</g>
<g opacity="0.5">
<path d="M477.1 324.1l-4.4 3.3 7.7-1.5z" fill="#259ce7" stroke="#259ce7"/>
<path d="M481.4 320.8l-4.3 3.3 3.3 1.8 7.7-1.5z" fill="#1fa5e2" stroke="#1fa5e2"/>
<path d="M485.8 317.6l-4.4 3.2 6.7 3.6 7.7-1.5z" fill="#17aeda" stroke="#17aeda"/>
<path d="M490.1 314.3l-4.3 3.3 10 5.3 7.7-1.6z" fill="#05b6ce" stroke="#05b6ce"/>
<path d="M494.5 311l-4.4 3.3 13.4 7 7.8-1.5z" fill="#06bcc0" stroke="#06bcc0"/>
<path d="M498.9 307.7l-4.4 3.3 16.8 8.8 7.7-1.5z" fill="#1fc0b2" stroke="#1fc0b2"/>
<path d="M503.2 304.5l-4.3 3.2 20.1 10.6 7.7-1.5z" fill="#2fc5a2" stroke="#2fc5a2"/>
<path d="M507.6 301.2l-4.4 3.3 23.5 12.3 7.7-1.5z" fill="#3dc990" stroke="#3dc990"/>
<path d="M511.9 297.9l-4.3 3.3 26.8 14.1 7.7-1.6z" fill="#55cc7c" stroke="#55cc7c"/>
<path d="M549.8 312.2l-33.5-17.6 -4.4 3.3 30.2 15.8z" fill="#71cd64" stroke="#71cd64"/>
</g>
<g opacity="0.5">
<path d="M506.2 345l4.4-3.3 -30.2-15.8 -7.7 1.5z" fill="#259ce7" stroke="#259ce7"/>
<path d="M510.6 341.7l4.3-3.3 -26.8-14 -7.7 1.5z" fill="#1fa5e2" stroke="#1fa5e2"/>
<path d="M514.9 338.4l4.4-3.2 -23.5-12.3 -7.7 1.5z" fill="#17aeda" stroke="#17aeda"/>
<path d="M519.3 335.2l4.3-3.3 -20.1-10.6 -7.7 1.6z" fill="#05b6ce" stroke="#05b6ce"/>
<path d="M523.6 331.9l4.4-3.3 -16.7-8.8 -7.8 1.5z" fill="#06bcc0" stroke="#06bcc0"/>
<path d="M528 328.6l4.4-3.3 -13.4-7 -7.7 1.5z" fill="#1fc0b2" stroke="#1fc0b2"/>
<path d="M532.4 325.3l4.3-3.2 -10-5.3 -7.7 1.5z" fill="#2fc5a2" stroke="#2fc5a2"/>
<path d="M536.7 322.1l4.4-3.3 -6.7-3.5 -7.7 1.5z" fill="#3dc990" stroke="#3dc990"/>
<path d="M541.1 318.8l4.3-3.3 -3.3-1.8 -7.7 1.6z" fill="#55cc7c" stroke="#55cc7c"/>
<path d="M545.4 315.5l4.4-3.3 -7.7 1.5z" fill="#71cd64" stroke="#71cd64"/>
</g>
<g opacity="0.5">
<path d="M626.9 335.5l-1.7-2.8 -6 .5z" fill="#259ce7" stroke="#259ce7"/>
<path d="M625.2 332.7l-1.7-2.8 -12 1 7.7 2.3z" fill="#1fa5e2" stroke="#1fa5e2"/>
<path d="M623.5 329.9l-1.6-2.8 -18.1 1.4 7.7 2.4z" fill="#17aeda" stroke="#17aeda"/>
<path d="M621.9 327.1l-1.7-2.8 -24.1 1.9 7.7 2.3z" fill="#05b6ce" stroke="#05b6ce"/>
<path d="M620.2 324.3l-1.7-2.8 -30.2 2.4 7.8 2.3z" fill="#06bcc0" stroke="#06bcc0"/>
<path d="M618.5 321.5l-1.7-2.8 -36.2 2.9 7.7 2.3z" fill="#1fc0b2" stroke="#1fc0b2"/>
<path d="M616.8 318.7l-1.6-2.8 -42.3 3.3 7.7 2.4z" fill="#2fc5a2" stroke="#2fc5a2"/>
<path d="M615.2 315.9l-1.7-2.8 -48.3 3.8 7.7 2.3z" fill="#3dc990" stroke="#3dc990"/>
<path d="M613.5 313.1l-1.7-2.8 -54.3 4.3 7.7 2.3z" fill="#55cc7c" stroke="#55cc7c"/>
<path d="M611.8 310.3l-1.7-2.8 -60.3 4.7 0 0 7.7 2.4z" fill="#71cd64" stroke="#71cd64"/>
<path d="M610.1 307.5l-1.6-2.8 -54.3 4.3 -4.4 3.2 0 0z" fill="#90ca4d" stroke="#90ca4d"/>
<path d="M608.5 304.7l-1.7-2.8 -48.3 3.8 -4.3 3.3z" fill="#adc638" stroke="#adc638"/>
<path d="M606.8 301.9l-1.7-2.8 -42.2 3.3 -4.4 3.3z" fill="#c8c129" stroke="#c8c129"/>
<path d="M605.1 299.1l-1.6-2.8 -36.3 2.8 -4.3 3.3z" fill="#e0bc2a" stroke="#e0bc2a"/>
<path d="M603.5 296.3l-1.7-2.8 -30.2 2.3 -4.4 3.3z" fill="#f3ba39" stroke="#f3ba39"/>
<path d="M601.8 293.5l-1.7-2.8 -24.1 1.9 -4.4 3.2z" fill="#fec13a" stroke="#fec13a"/>
<path d="M600.1 290.7l-1.7-2.8 -18.1 1.4 -4.3 3.3z" fill="#fdcd31" stroke="#fdcd31"/>
<path d="M598.4 287.9l-1.7-2.8 -12 .9 -4.4 3.3z" fill="#f7db2b" stroke="#f7db2b"/>
<path d="M596.7 285.1l-1.6-2.8 -6.1 .4 -4.3 3.3z" fill="#f5e825" stroke="#f5e825"/>
<path d="M595.1 282.3l-1.7-2.8 -4.4 3.2z" fill="#f7f51b" stroke="#f7f51b"/>
</g>
<g opacity="0.5">
<path d="M624.7 334.3l2.2 1.2 -7.7-2.3z" fill="#259ce7" stroke="#259ce7"/>
<path d="M622.5 333l2.2 1.3 -5.5-1.1 -7.7-2.3z" fill="#1fa5e2" stroke="#1fa5e2"/>
<path d="M620.4 331.8l2.1 1.2 -11-2.1 -7.7-2.4z" fill="#17aeda" stroke="#17aeda"/>
<path d="M618.2 330.5l2.2 1.3 -16.6-3.3 -7.7-2.3z" fill="#05b6ce" stroke="#05b6ce"/>
<path d="M616 329.3l2.2 1.2 -22.1-4.3 -7.8-2.3z" fill="#06bcc0" stroke="#06bcc0"/>
<path d="M613.8 328.1l2.2 1.2 -27.7-5.4 -7.7-2.3z" fill="#1fc0b2" stroke="#1fc0b2"/>
<path d="M611.6 326.8l2.2 1.3 -33.2-6.5 -7.7-2.4z" fill="#2fc5a2" stroke="#2fc5a2"/>
<path d="M609.5 325.6l2.1 1.2 -38.7-7.6 -7.7-2.3z" fill="#3dc990" stroke="#3dc990"/>
<path d="M607.3 324.3l2.2 1.3 -44.3-8.7 -7.7-2.3z" fill="#55cc7c" stroke="#55cc7c"/>
<path d="M605.1 323.1l2.2 1.2 -49.8-9.7 -7.7-2.4 0 0z" fill="#71cd64" stroke="#71cd64"/>
<path d="M602.9 321.8l2.2 1.3 -55.3-10.9 0 0 3.3-.1z" fill="#90ca4d" stroke="#90ca4d"/>
<path d="M600.7 320.6l2.2 1.2 -49.8-9.7 3.4-.2z" fill="#adc638" stroke="#adc638"/>
<path d="M598.6 319.3l2.1 1.3 -44.2-8.7 3.4-.2z" fill="#c8c129" stroke="#c8c129"/>
<path d="M596.4 318.1l2.2 1.2 -38.7-7.6 3.3-.1z" fill="#e0bc2a" stroke="#e0bc2a"/>
<path d="M594.2 316.8l2.2 1.3 -33.2-6.5 3.4-.2z" fill="#f3ba39" stroke="#f3ba39"/>
<path d="M592 315.6l2.2 1.2 -27.6-5.4 3.3-.1z" fill="#fec13a" stroke="#fec13a"/>
<path d="M589.8 314.3l2.2 1.3 -22.1-4.3 3.3-.2z" fill="#fdcd31" stroke="#fdcd31"/>
<path d="M587.7 313.1l2.1 1.2 -16.6-3.2 3.4-.2z" fill="#f7db2b" stroke="#f7db2b"/>
<path d="M585.5 311.8l2.2 1.3 -11.1-2.2 3.4-.1z" fill="#f5e825" stroke="#f5e825"/>
<path d="M583.3 310.6l2.2 1.2 -5.5-1z" fill="#f7f51b" stroke="#f7f51b"/>
</g>
<g opacity="0.5">
<path d="M629.1 332.9l-2.2 2.6 7.7-1.5z" fill="#259ce7" stroke="#259ce7"/>
<path d="M631.3 330.3l-2.2 2.6 5.5 1.1 7.7-1.5z" fill="#1fa5e2" stroke="#1fa5e2"/>
<path d="M633.4 327.7l-2.1 2.6 11 2.2 7.7-1.5z" fill="#17aeda" stroke="#17aeda"/>
<path d="M635.6 325.1l-2.2 2.6 16.6 3.3 7.7-1.5z" fill="#05b6ce" stroke="#05b6ce"/>
<path d="M637.8 322.5l-2.2 2.6 22.1 4.4 7.8-1.6z" fill="#06bcc0" stroke="#06bcc0"/>
<path d="M640 319.9l-2.2 2.6 27.7 5.4 7.7-1.5z" fill="#1fc0b2" stroke="#1fc0b2"/>
<path d="M642.2 317.3l-2.2 2.6 33.2 6.5 7.7-1.5z" fill="#2fc5a2" stroke="#2fc5a2"/>
<path d="M644.3 314.7l-2.1 2.6 38.7 7.6 7.7-1.5z" fill="#3dc990" stroke="#3dc990"/>
<path d="M646.5 312.1l-2.2 2.6 44.3 8.7 7.7-1.5z" fill="#55cc7c" stroke="#55cc7c"/>
<path d="M704 320.4l0 0 -55.3-10.9 -2.2 2.6 49.8 9.8z" fill="#71cd64" stroke="#71cd64"/>
<path d="M704 320.4l-3.3-3.7 -49.8-9.8 -2.2 2.6 55.3 10.9z" fill="#90ca4d" stroke="#90ca4d"/>
<path d="M700.7 316.7l-3.4-3.7 -44.2-8.7 -2.2 2.6z" fill="#adc638" stroke="#adc638"/>
<path d="M697.3 313l-3.4-3.7 -38.7-7.6 -2.1 2.6z" fill="#c8c129" stroke="#c8c129"/>
<path d="M693.9 309.3l-3.3-3.7 -33.2-6.5 -2.2 2.6z" fill="#e0bc2a" stroke="#e0bc2a"/>
<path d="M690.6 305.6l-3.4-3.7 -27.6-5.4 -2.2 2.6z" fill="#f3ba39" stroke="#f3ba39"/>
<path d="M687.2 301.9l-3.3-3.6 -22.1-4.4 -2.2 2.6z" fill="#fec13a" stroke="#fec13a"/>
<path d="M683.9 298.3l-3.3-3.7 -16.6-3.3 -2.2 2.6z" fill="#fdcd31" stroke="#fdcd31"/>
<path d="M680.6 294.6l-3.4-3.7 -11.1-2.2 -2.1 2.6z" fill="#f7db2b" stroke="#f7db2b"/>
<path d="M677.2 290.9l-3.4-3.7 -5.5-1.1 -2.2 2.6z" fill="#f5e825" stroke="#f5e825"/>
<path d="M673.8 287.2l-3.3-3.7 -2.2 2.6z" fill="#f7f51b" stroke="#f7f51b"/>
</g>
<g opacity="0.5">
<path d="M634.6 334l-7.7 1.5 1.7-1z" fill="#259ce7" stroke="#259ce7"/>
<path d="M642.3 332.5l-7.7 1.5 -6 .5 1.7-1.1z" fill="#1fa5e2" stroke="#1fa5e2"/>
<path d="M650 331l-7.7 1.5 -12 .9 1.6-1z" fill="#17aeda" stroke="#17aeda"/>
<path d="M657.7 329.5l-7.7 1.5 -18.1 1.4 1.7-1z" fill="#05b6ce" stroke="#05b6ce"/>
<path d="M665.5 327.9l-7.8 1.6 -24.1 1.9 1.7-1.1z" fill="#06bcc0" stroke="#06bcc0"/>
<path d="M673.2 326.4l-7.7 1.5 -30.2 2.4 1.7-1z" fill="#1fc0b2" stroke="#1fc0b2"/>
<path d="M680.9 324.9l-7.7 1.5 -36.2 2.9 1.6-1.1z" fill="#2fc5a2" stroke="#2fc5a2"/>
<path d="M688.6 323.4l-7.7 1.5 -42.3 3.3 1.7-1z" fill="#3dc990" stroke="#3dc990"/>
<path d="M696.3 321.9l-7.7 1.5 -48.3 3.8 1.7-1.1z" fill="#55cc7c" stroke="#55cc7c"/>
<path d="M704 320.4l0 0 -7.7 1.5 -54.3 4.2 1.7-1z" fill="#71cd64" stroke="#71cd64"/>
<path d="M699.6 319.8l4.4 .6 0 0 -60.3 4.7 1.6-1z" fill="#90ca4d" stroke="#90ca4d"/>
<path d="M695.3 319.2l4.3 .6 -54.3 4.3 1.7-1.1z" fill="#adc638" stroke="#adc638"/>
<path d="M690.9 318.7l4.4 .5 -48.3 3.8 1.7-1z" fill="#c8c129" stroke="#c8c129"/>
<path d="M686.6 318.1l4.3 .6 -42.2 3.3 1.6-1.1z" fill="#e0bc2a" stroke="#e0bc2a"/>
<path d="M682.2 317.5l4.4 .6 -36.3 2.8 1.7-1z" fill="#f3ba39" stroke="#f3ba39"/>
<path d="M677.8 316.9l4.4 .6 -30.2 2.4 1.7-1.1z" fill="#fec13a" stroke="#fec13a"/>
<path d="M673.5 316.4l4.3 .5 -24.1 1.9 1.7-1z" fill="#fdcd31" stroke="#fdcd31"/>
<path d="M669.1 315.8l4.4 .6 -18.1 1.4 1.7-1z" fill="#f7db2b" stroke="#f7db2b"/>
<path d="M664.8 315.2l4.3 .6 -12 1 1.6-1.1z" fill="#f5e825" stroke="#f5e825"/>
<path d="M660.4 314.7l4.4 .5 -6.1 .5z" fill="#f7f51b" stroke="#f7f51b"/>
</g>
<g opacity="0.5">
<path d="M750.9 306.7l-3.3 .1 -43.6 13.6 7.7-1.5z" fill="#90ca4d" stroke="#90ca4d"/>
<path d="M754.3 306.5l-3.4 .2 -39.2 12.2 7.7-1.6z" fill="#adc638" stroke="#adc638"/>
<path d="M757.7 306.3l-3.4 .2 -34.9 10.8 7.7-1.5z" fill="#c8c129" stroke="#c8c129"/>
<path d="M761 306.2l-3.3 .1 -30.6 9.5 7.7-1.5z" fill="#e0bc2a" stroke="#e0bc2a"/>
<path d="M764.4 306l-3.4 .2 -26.2 8.1 7.8-1.5z" fill="#f3ba39" stroke="#f3ba39"/>
<path d="M767.7 305.9l-3.3 .1 -21.8 6.8 7.7-1.5z" fill="#fec13a" stroke="#fec13a"/>
<path d="M771 305.7l-3.3 .2 -17.4 5.4 7.7-1.5z" fill="#fdcd31" stroke="#fdcd31"/>
<path d="M774.4 305.5l-3.4 .2 -13 4.1 7.7-1.6z" fill="#f7db2b" stroke="#f7db2b"/>
<path d="M777.8 305.4l-3.4 .1 -8.7 2.7 7.7-1.5z" fill="#f5e825" stroke="#f5e825"/>
<path d="M781.1 305.2l-3.3 .2 -4.4 1.3z" fill="#f7f51b" stroke="#f7f51b"/>
</g>
<g opacity="0.5">
<path d="M711.7 318.9l-7.7 1.5 3.3-.2z" fill="#90ca4d" stroke="#90ca4d"/>
<path d="M719.4 317.3l-7.7 1.6 -4.4 1.3 3.4-.2z" fill="#adc638" stroke="#adc638"/>
<path d="M727.1 315.8l-7.7 1.5 -8.7 2.7 3.4-.1z" fill="#c8c129" stroke="#c8c129"/>
<path d="M734.8 314.3l-7.7 1.5 -13 4.1 3.3-.2z" fill="#e0bc2a" stroke="#e0bc2a"/>
<path d="M742.6 312.8l-7.8 1.5 -17.4 5.4 3.4-.2z" fill="#f3ba39" stroke="#f3ba39"/>
<path d="M750.3 311.3l-7.7 1.5 -21.8 6.7 3.3-.1z" fill="#fec13a" stroke="#fec13a"/>
<path d="M758 309.8l-7.7 1.5 -26.2 8.1 3.3-.2z" fill="#fdcd31" stroke="#fdcd31"/>
<path d="M765.7 308.2l-7.7 1.6 -30.6 9.4 3.4-.1z" fill="#f7db2b" stroke="#f7db2b"/>
<path d="M773.4 306.7l-7.7 1.5 -34.9 10.9 3.4-.2z" fill="#f5e825" stroke="#f5e825"/>
<path d="M737.5 318.7l43.6-13.5 -7.7 1.5 -39.2 12.2z" fill="#f7f51b" stroke="#f7f51b"/>
</g>
<path d="M858.2 309.3l-33.5-17.6 -43.6 13.5z" fill="#f9fb15" fill-opacity="0.5" stroke="none"/>
<g opacity="0.5">
<path d="M814.6 342l4.4-3.2 -7.7-.4z" fill="#90ca4d" stroke="#90ca4d"/>
<path d="M819 338.8l4.3-3.3 -15.4-.8 3.4 3.7z" fill="#adc638" stroke="#adc638"/>
<path d="M823.3 335.5l4.4-3.3 -23.2-1.2 3.4 3.7z" fill="#c8c129" stroke="#c8c129"/>
<path d="M827.7 332.2l4.3-3.3 -30.8-1.6 3.3 3.7z" fill="#e0bc2a" stroke="#e0bc2a"/>
<path d="M832 328.9l4.4-3.3 -38.6-2 3.4 3.7z" fill="#f3ba39" stroke="#f3ba39"/>
<path d="M836.4 325.6l4.4-3.2 -46.3-2.5 3.3 3.7z" fill="#fec13a" stroke="#fec13a"/>
<path d="M840.8 322.4l4.3-3.3 -53.9-2.8 3.3 3.6z" fill="#fdcd31" stroke="#fdcd31"/>
<path d="M845.1 319.1l4.4-3.3 -61.7-3.2 3.4 3.7z" fill="#f7db2b" stroke="#f7db2b"/>
<path d="M849.5 315.8l4.3-3.3 -69.4-3.6 3.4 3.7z" fill="#f5e825" stroke="#f5e825"/>
<path d="M853.8 312.5l4.4-3.2 -77.1-4.1 3.3 3.7z" fill="#f7f51b" stroke="#f7f51b"/>
</g>
<g opacity="0.5">
<path d="M982.2 318.9l-3.3 .1 -4.4-.5z" fill="#90ca4d" stroke="#90ca4d"/>
<path d="M985.6 318.7l-3.4 .2 -7.7-.4 -4.3-.6z" fill="#adc638" stroke="#adc638"/>
<path d="M989 318.5l-3.4 .2 -15.4-.8 -4.4-.6z" fill="#c8c129" stroke="#c8c129"/>
<path d="M992.3 318.4l-3.3 .1 -23.2-1.2 -4.3-.5z" fill="#e0bc2a" stroke="#e0bc2a"/>
<path d="M995.6 318.2l-3.3 .2 -30.8-1.6 -4.4-.6z" fill="#f3ba39" stroke="#f3ba39"/>
<path d="M999 318.1l-3.4 .1 -38.5-2 -4.4-.6z" fill="#fec13a" stroke="#fec13a"/>
<path d="M1002.3 317.9l-3.3 .2 -46.3-2.5 -4.3-.6z" fill="#fdcd31" stroke="#fdcd31"/>
<path d="M1005.7 317.7l-3.4 .2 -53.9-2.9 -4.4-.5z" fill="#f7db2b" stroke="#f7db2b"/>
<path d="M1009.1 317.6l-3.4 .1 -61.7-3.2 -4.3-.6z" fill="#f5e825" stroke="#f5e825"/>
<path d="M1012.4 317.4l-3.3 .2 -69.4-3.7 -4.4-.6z" fill="#f7f51b" stroke="#f7f51b"/>
</g>
<path d="M968.8 330.9l43.6-13.5 -77.1-4.1z" fill="#f9fb15" fill-opacity="0.5" stroke="none"/>
<g opacity="0.5">
<path d="M1089.5 340.7l-33.5-17.6 -4.4-.6 30.2 15.9z" fill="#90ca4d" stroke="#90ca4d"/>
<path d="M1051.6 322.5l-4.3-.5 26.8 14 7.7 2.4z" fill="#adc638" stroke="#adc638"/>
<path d="M1047.3 322l-4.4-.6 23.5 12.3 7.7 2.3z" fill="#c8c129" stroke="#c8c129"/>
<path d="M1042.9 321.4l-4.3-.6 20.1 10.6 7.7 2.3z" fill="#e0bc2a" stroke="#e0bc2a"/>
<path d="M1038.6 320.8l-4.4-.6 16.8 8.8 7.7 2.4z" fill="#f3ba39" stroke="#f3ba39"/>
<path d="M1034.2 320.2l-4.4-.5 13.4 7 7.8 2.3z" fill="#fec13a" stroke="#fec13a"/>
<path d="M1029.8 319.7l-4.3-.6 10 5.3 7.7 2.3z" fill="#fdcd31" stroke="#fdcd31"/>
<path d="M1025.5 319.1l-4.4-.6 6.7 3.6 7.7 2.3z" fill="#f7db2b" stroke="#f7db2b"/>
<path d="M1021.1 318.5l-4.3-.5 3.3 1.7 7.7 2.4z" fill="#f5e825" stroke="#f5e825"/>
<path d="M1016.8 318l-4.4-.6 7.7 2.3z" fill="#f7f51b" stroke="#f7f51b"/>
</g>
<g opacity="0.5">
<path d="M1085.1 340.1l4.4 .6 -7.7-2.3z" fill="#90ca4d" stroke="#90ca4d"/>
<path d="M1080.8 339.6l4.3 .5 -3.3-1.7 -7.7-2.4z" fill="#adc638" stroke="#adc638"/>
<path d="M1076.4 339l4.4 .6 -6.7-3.6 -7.7-2.3z" fill="#c8c129" stroke="#c8c129"/>
<path d="M1072.1 338.4l4.3 .6 -10-5.3 -7.7-2.3z" fill="#e0bc2a" stroke="#e0bc2a"/>
<path d="M1067.7 337.8l4.4 .6 -13.4-7 -7.7-2.4z" fill="#f3ba39" stroke="#f3ba39"/>
<path d="M1063.3 337.3l4.4 .5 -16.7-8.8 -7.8-2.3z" fill="#fec13a" stroke="#fec13a"/>
<path d="M1059 336.7l4.3 .6 -20.1-10.6 -7.7-2.3z" fill="#fdcd31" stroke="#fdcd31"/>
<path d="M1054.6 336.1l4.4 .6 -23.5-12.3 -7.7-2.3z" fill="#f7db2b" stroke="#f7db2b"/>
<path d="M1050.3 335.6l4.3 .5 -26.8-14 -7.7-2.4z" fill="#f5e825" stroke="#f5e825"/>
<path d="M1045.9 335l4.4 .6 -30.2-15.9 -7.7-2.3z" fill="#f7f51b" stroke="#f7f51b"/>
</g>
<g opacity="0.5">
<path d="M1093.9 337.4l-4.4 3.3 7.7-1.5z" fill="#90ca4d" stroke="#90ca4d"/>
<path d="M1098.2 334.1l-4.3 3.3 3.3 1.8 7.7-1.5z" fill="#adc638" stroke="#adc638"/>
<path d="M1102.6 330.9l-4.4 3.2 6.7 3.6 7.7-1.6z" fill="#c8c129" stroke="#c8c129"/>
<path d="M1106.9 327.6l-4.3 3.3 10 5.2 7.7-1.5z" fill="#e0bc2a" stroke="#e0bc2a"/>
<path d="M1111.3 324.3l-4.4 3.3 13.4 7 7.7-1.5z" fill="#f3ba39" stroke="#f3ba39"/>
<path d="M1115.7 321l-4.4 3.3 16.7 8.8 7.8-1.5z" fill="#fec13a" stroke="#fec13a"/>
<path d="M1120 317.8l-4.3 3.2 20.1 10.6 7.7-1.5z" fill="#fdcd31" stroke="#fdcd31"/>
<path d="M1124.4 314.5l-4.4 3.3 23.5 12.3 7.7-1.5z" fill="#f7db2b" stroke="#f7db2b"/>
<path d="M1128.7 311.2l-4.3 3.3 26.8 14.1 7.7-1.6z" fill="#f5e825" stroke="#f5e825"/>
<path d="M1166.6 325.5l-33.5-17.6 -4.4 3.3 30.2 15.8z" fill="#f7f51b" stroke="#f7f51b"/>
</g>
<g opacity="0.5">
<path d="M1097.2 339.2l-7.7 1.5 3.3-.2z" fill="#90ca4d" stroke="#90ca4d"/>
<path d="M1104.9 337.7l-7.7 1.5 -4.4 1.3 3.4-.1z" fill="#adc638" stroke="#adc638"/>
<path d="M1112.6 336.1l-7.7 1.6 -8.7 2.7 3.4-.2z" fill="#c8c129" stroke="#c8c129"/>
<path d="M1120.3 334.6l-7.7 1.5 -13 4.1 3.3-.2z" fill="#e0bc2a" stroke="#e0bc2a"/>
<path d="M1128 333.1l-7.7 1.5 -17.4 5.4 3.3-.1z" fill="#f3ba39" stroke="#f3ba39"/>
<path d="M1135.8 331.6l-7.8 1.5 -21.8 6.8 3.4-.2z" fill="#fec13a" stroke="#fec13a"/>
<path d="M1143.5 330.1l-7.7 1.5 -26.2 8.1 3.3-.1z" fill="#fdcd31" stroke="#fdcd31"/>
<path d="M1151.2 328.6l-7.7 1.5 -30.6 9.5 3.4-.2z" fill="#f7db2b" stroke="#f7db2b"/>
<path d="M1158.9 327l-7.7 1.6 -34.9 10.8 3.4-.2z" fill="#f5e825" stroke="#f5e825"/>
<path d="M1123 339.1l43.6-13.6 -7.7 1.5 -39.2 12.2z" fill="#f7f51b" stroke="#f7f51b"/>
</g>
<g opacity="0.5">
<path d="M429.1 321.7l-3.3-3.7 -69.4-3.6 -4.4 3.2z" fill="#90ca4d" stroke="#90ca4d"/>
<path d="M425.8 318l-3.4-3.7 -61.7-3.2 -4.3 3.3z" fill="#adc638" stroke="#adc638"/>
<path d="M422.4 314.3l-3.4-3.7 -53.9-2.8 -4.4 3.3z" fill="#c8c129" stroke="#c8c129"/>
<path d="M419 310.6l-3.3-3.6 -46.3-2.5 -4.3 3.3z" fill="#e0bc2a" stroke="#e0bc2a"/>
<path d="M415.7 307l-3.3-3.7 -38.6-2.1 -4.4 3.3z" fill="#f3ba39" stroke="#f3ba39"/>
<path d="M412.4 303.3l-3.4-3.7 -30.8-1.6 -4.4 3.2z" fill="#fec13a" stroke="#fec13a"/>
<path d="M409 299.6l-3.3-3.7 -23.2-1.2 -4.3 3.3z" fill="#fdcd31" stroke="#fdcd31"/>
<path d="M405.7 295.9l-3.4-3.7 -15.4-.8 -4.4 3.3z" fill="#f7db2b" stroke="#f7db2b"/>
<path d="M402.3 292.2l-3.4-3.7 -7.7-.4 -4.3 3.3z" fill="#f5e825" stroke="#f5e825"/>
<path d="M398.9 288.5l-3.3-3.6 -4.4 3.2z" fill="#f7f51b" stroke="#f7f51b"/>
</g>
<g opacity="0.5">
<path d="M424.7 321.1l4.4 .6 -77.1-4.1 3.3-.1z" fill="#90ca4d" stroke="#90ca4d"/>
<path d="M420.4 320.6l4.3 .5 -69.4-3.6 3.4-.2z" fill="#adc638" stroke="#adc638"/>
<path d="M416 320l4.4 .6 -61.7-3.3 3.4-.2z" fill="#c8c129" stroke="#c8c129"/>
<path d="M411.7 319.4l4.3 .6 -53.9-2.9 3.3-.1z" fill="#e0bc2a" stroke="#e0bc2a"/>
<path d="M407.3 318.8l4.4 .6 -46.3-2.4 3.4-.2z" fill="#f3ba39" stroke="#f3ba39"/>
<path d="M402.9 318.3l4.4 .5 -38.5-2 3.3-.1z" fill="#fec13a" stroke="#fec13a"/>
<path d="M398.6 317.7l4.3 .6 -30.8-1.6 3.3-.2z" fill="#fdcd31" stroke="#fdcd31"/>
<path d="M394.2 317.1l4.4 .6 -23.2-1.2 3.4-.2z" fill="#f7db2b" stroke="#f7db2b"/>
<path d="M389.9 316.6l4.3 .5 -15.4-.8 3.4-.1z" fill="#f5e825" stroke="#f5e825"/>
<path d="M385.5 316l4.4 .6 -7.7-.4z" fill="#f7f51b" stroke="#f7f51b"/>
</g>
<g opacity="0.5">
<path d="M506.2 345l-33.5-17.6 -4.4-.6 30.2 15.9z" fill="#259ce7" stroke="#259ce7"/>
<path d="M468.3 326.8l-4.3-.5 26.8 14 7.7 2.4z" fill="#1fa5e2" stroke="#1fa5e2"/>
<path d="M464 326.3l-4.4-.6 23.5 12.3 7.7 2.3z" fill="#17aeda" stroke="#17aeda"/>
<path d="M459.6 325.7l-4.3-.6 20.1 10.6 7.7 2.3z" fill="#05b6ce" stroke="#05b6ce"/>
<path d="M455.3 325.1l-4.4-.6 16.7 8.8 7.8 2.4z" fill="#06bcc0" stroke="#06bcc0"/>
<path d="M450.9 324.5l-4.4-.5 13.4 7 7.7 2.3z" fill="#1fc0b2" stroke="#1fc0b2"/>
<path d="M446.5 324l-4.3-.6 10 5.3 7.7 2.3z" fill="#2fc5a2" stroke="#2fc5a2"/>
<path d="M442.2 323.4l-4.4-.6 6.7 3.6 7.7 2.3z" fill="#3dc990" stroke="#3dc990"/>
<path d="M437.8 322.8l-4.3-.5 3.3 1.7 7.7 2.4z" fill="#55cc7c" stroke="#55cc7c"/>
<path d="M433.5 322.3l-4.4-.6 7.7 2.3z" fill="#71cd64" stroke="#71cd64"/>
</g>
<g opacity="0.5">
<path d="M504 343.8l2.2 1.2 -7.7-2.3z" fill="#259ce7" stroke="#259ce7"/>
<path d="M501.8 342.5l2.2 1.3 -5.5-1.1 -7.7-2.4z" fill="#1fa5e2" stroke="#1fa5e2"/>
<path d="M499.7 341.3l2.1 1.2 -11-2.2 -7.7-2.3z" fill="#17aeda" stroke="#17aeda"/>
<path d="M497.5 340l2.2 1.3 -16.6-3.3 -7.7-2.3z" fill="#05b6ce" stroke="#05b6ce"/>
<path d="M495.3 338.8l2.2 1.2 -22.1-4.3 -7.8-2.4z" fill="#06bcc0" stroke="#06bcc0"/>
<path d="M493.1 337.5l2.2 1.3 -27.7-5.5 -7.7-2.3z" fill="#1fc0b2" stroke="#1fc0b2"/>
<path d="M490.9 336.3l2.2 1.2 -33.2-6.5 -7.7-2.3z" fill="#2fc5a2" stroke="#2fc5a2"/>
<path d="M488.8 335l2.1 1.3 -38.7-7.6 -7.7-2.3z" fill="#3dc990" stroke="#3dc990"/>
<path d="M486.6 333.8l2.2 1.2 -44.3-8.6 -7.7-2.4z" fill="#55cc7c" stroke="#55cc7c"/>
<path d="M484.4 332.5l2.2 1.3 -49.8-9.8 -7.7-2.3 0 0z" fill="#71cd64" stroke="#71cd64"/>
<path d="M482.2 331.3l2.2 1.2 -55.3-10.8 0 0 3.3-.2z" fill="#90ca4d" stroke="#90ca4d"/>
<path d="M480 330l2.2 1.3 -49.8-9.8 3.4-.1z" fill="#adc638" stroke="#adc638"/>
<path d="M477.9 328.8l2.1 1.2 -44.2-8.6 3.4-.2z" fill="#c8c129" stroke="#c8c129"/>
<path d="M475.7 327.5l2.2 1.3 -38.7-7.6 3.3-.2z" fill="#e0bc2a" stroke="#e0bc2a"/>
<path d="M473.5 326.3l2.2 1.2 -33.2-6.5 3.3-.1z" fill="#f3ba39" stroke="#f3ba39"/>
<path d="M471.3 325.1l2.2 1.2 -27.7-5.4 3.4-.2z" fill="#fec13a" stroke="#fec13a"/>
<path d="M469.1 323.8l2.2 1.3 -22.1-4.4 3.3-.1z" fill="#fdcd31" stroke="#fdcd31"/>
<path d="M467 322.6l2.1 1.2 -16.6-3.2 3.4-.2z" fill="#f7db2b" stroke="#f7db2b"/>
<path d="M464.8 321.3l2.2 1.3 -11.1-2.2 3.4-.2z" fill="#f5e825" stroke="#f5e825"/>
<path d="M462.6 320.1l2.2 1.2 -5.5-1.1z" fill="#f7f51b" stroke="#f7f51b"/>
</g>
<g opacity="0.5">
<path d="M510.6 341.7l-4.4 3.3 3.9-1.7z" fill="#259ce7" stroke="#259ce7"/>
<path d="M514.9 338.4l-4.3 3.3 -.5 1.6 3.8-1.7z" fill="#1fa5e2" stroke="#1fa5e2"/>
<path d="M519.3 335.2l-4.4 3.2 -1 3.2 3.9-1.8z" fill="#17aeda" stroke="#17aeda"/>
<path d="M523.6 331.9l-4.3 3.3 -1.5 4.6 3.8-1.7z" fill="#05b6ce" stroke="#05b6ce"/>
<path d="M528 328.6l-4.4 3.3 -2 6.2 3.9-1.7z" fill="#06bcc0" stroke="#06bcc0"/>
<path d="M532.4 325.3l-4.4 3.3 -2.5 7.8 3.8-1.7z" fill="#1fc0b2" stroke="#1fc0b2"/>
<path d="M536.7 322.1l-4.3 3.2 -3.1 9.4 3.9-1.7z" fill="#2fc5a2" stroke="#2fc5a2"/>
<path d="M541.1 318.8l-4.4 3.3 -3.5 10.9 3.8-1.8z" fill="#3dc990" stroke="#3dc990"/>
<path d="M545.4 315.5l-4.3 3.3 -4.1 12.4 3.9-1.7z" fill="#55cc7c" stroke="#55cc7c"/>
<path d="M549.8 312.2l0 0 -4.4 3.3 -4.5 14 3.9-1.7z" fill="#71cd64" stroke="#71cd64"/>
<path d="M553.1 312.1l-3.3 .1 0 0 -5 15.6 3.8-1.7z" fill="#90ca4d" stroke="#90ca4d"/>
<path d="M556.5 311.9l-3.4 .2 -4.5 14 3.9-1.7z" fill="#adc638" stroke="#adc638"/>
<path d="M559.9 311.7l-3.4 .2 -4 12.5 3.8-1.8z" fill="#c8c129" stroke="#c8c129"/>
<path d="M563.2 311.6l-3.3 .1 -3.6 10.9 3.9-1.7z" fill="#e0bc2a" stroke="#e0bc2a"/>
<path d="M566.6 311.4l-3.4 .2 -3 9.3 3.8-1.7z" fill="#f3ba39" stroke="#f3ba39"/>
<path d="M569.9 311.3l-3.3 .1 -2.6 7.8 3.9-1.7z" fill="#fec13a" stroke="#fec13a"/>
<path d="M573.2 311.1l-3.3 .2 -2 6.2 3.8-1.7z" fill="#fdcd31" stroke="#fdcd31"/>
<path d="M576.6 310.9l-3.4 .2 -1.5 4.7 3.9-1.8z" fill="#f7db2b" stroke="#f7db2b"/>
<path d="M580 310.8l-3.4 .1 -1 3.1 3.8-1.7z" fill="#f5e825" stroke="#f5e825"/>
<path d="M583.3 310.6l-3.3 .2 -.6 1.5z" fill="#f7f51b" stroke="#f7f51b"/>
</g>
<g opacity="0.5">
<path d="M510.1 343.3l-3.9 1.7 3.4-.2z" fill="#259ce7" stroke="#259ce7"/>
<path d="M513.9 341.6l-3.8 1.7 -.5 1.5 3.3-.1z" fill="#1fa5e2" stroke="#1fa5e2"/>
<path d="M517.8 339.8l-3.9 1.8 -1 3.1 3.3-.2z" fill="#17aeda" stroke="#17aeda"/>
<path d="M521.6 338.1l-3.8 1.7 -1.6 4.7 3.4-.2z" fill="#05b6ce" stroke="#05b6ce"/>
<path d="M525.5 336.4l-3.9 1.7 -2 6.2 3.4-.1z" fill="#06bcc0" stroke="#06bcc0"/>
<path d="M529.3 334.7l-3.8 1.7 -2.5 7.8 3.3-.2z" fill="#1fc0b2" stroke="#1fc0b2"/>
<path d="M533.2 333l-3.9 1.7 -3 9.3 3.4-.1z" fill="#2fc5a2" stroke="#2fc5a2"/>
<path d="M537 331.2l-3.8 1.8 -3.5 10.9 3.3-.2z" fill="#3dc990" stroke="#3dc990"/>
<path d="M540.9 329.5l-3.9 1.7 -4 12.5 3.3-.2z" fill="#55cc7c" stroke="#55cc7c"/>
<path d="M539.7 343.4l0 0 5.1-15.6 -3.9 1.7 -4.6 14z" fill="#71cd64" stroke="#71cd64"/>
<path d="M539.7 343.4l4.4-3.3 4.5-14 -3.8 1.7 -5.1 15.6z" fill="#90ca4d" stroke="#90ca4d"/>
<path d="M544.1 340.1l4.3-3.3 4.1-12.4 -3.9 1.7z" fill="#adc638" stroke="#adc638"/>
<path d="M548.4 336.8l4.4-3.3 3.5-10.9 -3.8 1.8z" fill="#c8c129" stroke="#c8c129"/>
<path d="M552.8 333.5l4.3-3.2 3.1-9.4 -3.9 1.7z" fill="#e0bc2a" stroke="#e0bc2a"/>
<path d="M557.1 330.3l4.4-3.3 2.5-7.8 -3.8 1.7z" fill="#f3ba39" stroke="#f3ba39"/>
<path d="M561.5 327l4.4-3.3 2-6.2 -3.9 1.7z" fill="#fec13a" stroke="#fec13a"/>
<path d="M565.9 323.7l4.3-3.3 1.5-4.6 -3.8 1.7z" fill="#fdcd31" stroke="#fdcd31"/>
<path d="M570.2 320.4l4.4-3.2 1-3.2 -3.9 1.8z" fill="#f7db2b" stroke="#f7db2b"/>
<path d="M574.6 317.2l4.3-3.3 .5-1.6 -3.8 1.7z" fill="#f5e825" stroke="#f5e825"/>
<path d="M578.9 313.9l4.4-3.3 -3.9 1.7z" fill="#f7f51b" stroke="#f7f51b"/>
</g>
<g opacity="0.5">
<path d="M628.6 334.5l-1.7 1 -2.2-1.2z" fill="#259ce7" stroke="#259ce7"/>
<path d="M630.3 333.4l-1.7 1.1 -3.9-.2 -2.2-1.3z" fill="#1fa5e2" stroke="#1fa5e2"/>
<path d="M631.9 332.4l-1.6 1 -7.8-.4 -2.1-1.2z" fill="#17aeda" stroke="#17aeda"/>
<path d="M633.6 331.4l-1.7 1 -11.5-.6 -2.2-1.3z" fill="#05b6ce" stroke="#05b6ce"/>
<path d="M635.3 330.3l-1.7 1.1 -15.4-.9 -2.2-1.2z" fill="#06bcc0" stroke="#06bcc0"/>
<path d="M637 329.3l-1.7 1 -19.3-1 -2.2-1.2z" fill="#1fc0b2" stroke="#1fc0b2"/>
<path d="M638.6 328.2l-1.6 1.1 -23.2-1.2 -2.2-1.3z" fill="#2fc5a2" stroke="#2fc5a2"/>
<path d="M640.3 327.2l-1.7 1 -27-1.4 -2.1-1.2z" fill="#3dc990" stroke="#3dc990"/>
<path d="M642 326.1l-1.7 1.1 -30.8-1.6 -2.2-1.3z" fill="#55cc7c" stroke="#55cc7c"/>
<path d="M643.7 325.1l-1.7 1 -34.7-1.8 -2.2-1.2z" fill="#71cd64" stroke="#71cd64"/>
<path d="M645.3 324.1l-1.6 1 -38.6-2 -2.2-1.3z" fill="#90ca4d" stroke="#90ca4d"/>
<path d="M647 323l-1.7 1.1 -42.4-2.3 -2.2-1.2z" fill="#adc638" stroke="#adc638"/>
<path d="M648.7 322l-1.7 1 -46.3-2.4 -2.1-1.3z" fill="#c8c129" stroke="#c8c129"/>
<path d="M650.3 320.9l-1.6 1.1 -50.1-2.7 -2.2-1.2z" fill="#e0bc2a" stroke="#e0bc2a"/>
<path d="M652 319.9l-1.7 1 -53.9-2.8 -2.2-1.3z" fill="#f3ba39" stroke="#f3ba39"/>
<path d="M653.7 318.8l-1.7 1.1 -57.8-3.1 -2.2-1.2z" fill="#fec13a" stroke="#fec13a"/>
<path d="M655.4 317.8l-1.7 1 -61.7-3.2 -2.2-1.3z" fill="#fdcd31" stroke="#fdcd31"/>
<path d="M657.1 316.8l-1.7 1 -65.6-3.5 -2.1-1.2z" fill="#f7db2b" stroke="#f7db2b"/>
<path d="M658.7 315.7l-1.6 1.1 -69.4-3.7 -2.2-1.3z" fill="#f5e825" stroke="#f5e825"/>
<path d="M660.4 314.7l-1.7 1 -73.2-3.9 -2.2-1.2z" fill="#f7f51b" stroke="#f7f51b"/>
</g>
<g opacity="0.5">
<path d="M616.8 366.7l2.2-2.6 -3.9-.2z" fill="#259ce7" stroke="#259ce7"/>
<path d="M619 364.1l2.2-2.6 -7.8-.4 1.7 2.8z" fill="#1fa5e2" stroke="#1fa5e2"/>
<path d="M621.2 361.5l2.1-2.6 -11.5-.6 1.6 2.8z" fill="#17aeda" stroke="#17aeda"/>
<path d="M623.3 358.9l2.2-2.6 -15.4-.8 1.7 2.8z" fill="#05b6ce" stroke="#05b6ce"/>
<path d="M625.5 356.3l2.2-2.6 -19.3-1.1 1.7 2.9z" fill="#06bcc0" stroke="#06bcc0"/>
<path d="M627.7 353.7l2.2-2.6 -23.2-1.3 1.7 2.8z" fill="#1fc0b2" stroke="#1fc0b2"/>
<path d="M629.9 351.1l2.2-2.6 -27-1.5 1.6 2.8z" fill="#2fc5a2" stroke="#2fc5a2"/>
<path d="M632.1 348.5l2.1-2.6 -30.8-1.7 1.7 2.8z" fill="#3dc990" stroke="#3dc990"/>
<path d="M634.2 345.9l2.2-2.6 -34.7-1.9 1.7 2.8z" fill="#55cc7c" stroke="#55cc7c"/>
<path d="M636.4 343.3l2.2-2.6 -38.6-2.1 1.7 2.8z" fill="#71cd64" stroke="#71cd64"/>
<path d="M638.6 340.7l2.2-2.6 -42.4-2.3 1.6 2.8z" fill="#90ca4d" stroke="#90ca4d"/>
<path d="M640.8 338.1l2.2-2.6 -46.3-2.5 1.7 2.8z" fill="#adc638" stroke="#adc638"/>
<path d="M643 335.5l2.1-2.6 -50.1-2.7 1.7 2.8z" fill="#c8c129" stroke="#c8c129"/>
<path d="M645.1 332.9l2.2-2.6 -53.9-2.9 1.6 2.8z" fill="#e0bc2a" stroke="#e0bc2a"/>
<path d="M647.3 330.3l2.2-2.6 -57.8-3.1 1.7 2.8z" fill="#f3ba39" stroke="#f3ba39"/>
<path d="M649.5 327.7l2.2-2.6 -61.7-3.3 1.7 2.8z" fill="#fec13a" stroke="#fec13a"/>
<path d="M651.7 325.1l2.2-2.6 -65.6-3.5 1.7 2.8z" fill="#fdcd31" stroke="#fdcd31"/>
<path d="M653.9 322.5l2.1-2.6 -69.4-3.7 1.7 2.8z" fill="#f7db2b" stroke="#f7db2b"/>
<path d="M656 319.9l2.2-2.6 -73.2-3.9 1.6 2.8z" fill="#f5e825" stroke="#f5e825"/>
<path d="M658.2 317.3l2.2-2.6 -77.1-4.1 1.7 2.8z" fill="#f7f51b" stroke="#f7f51b"/>
</g>
<g opacity="0.5">
<path d="M707.3 320.2l-3.3 .2 -4.4-.6z" fill="#90ca4d" stroke="#90ca4d"/>
<path d="M710.7 320l-3.4 .2 -7.7-.4 -4.3-.6z" fill="#adc638" stroke="#adc638"/>
<path d="M714.1 319.9l-3.4 .1 -15.4-.8 -4.4-.5z" fill="#c8c129" stroke="#c8c129"/>
<path d="M717.4 319.7l-3.3 .2 -23.2-1.2 -4.3-.6z" fill="#e0bc2a" stroke="#e0bc2a"/>
<path d="M720.8 319.5l-3.4 .2 -30.8-1.6 -4.4-.6z" fill="#f3ba39" stroke="#f3ba39"/>
<path d="M724.1 319.4l-3.3 .1 -38.6-2 -4.4-.6z" fill="#fec13a" stroke="#fec13a"/>
<path d="M727.4 319.2l-3.3 .2 -46.3-2.5 -4.3-.5z" fill="#fdcd31" stroke="#fdcd31"/>
<path d="M730.8 319.1l-3.4 .1 -53.9-2.8 -4.4-.6z" fill="#f7db2b" stroke="#f7db2b"/>
<path d="M734.2 318.9l-3.4 .2 -61.7-3.3 -4.3-.6z" fill="#f5e825" stroke="#f5e825"/>
<path d="M737.5 318.7l-3.3 .2 -69.4-3.7 -4.4-.5z" fill="#f7f51b" stroke="#f7f51b"/>
</g>
<path d="M693.9 332.3l43.6-13.6 -77.1-4z" fill="#f9fb15" fill-opacity="0.5" stroke="none"/>
<g opacity="0.5">
<path d="M814.6 342l-3.3-3.6 -4.4 1.3z" fill="#90ca4d" stroke="#90ca4d"/>
<path d="M811.3 338.4l-3.4-3.7 -8.7 2.7 7.7 2.3z" fill="#adc638" stroke="#adc638"/>
<path d="M807.9 334.7l-3.4-3.7 -13 4 7.7 2.4z" fill="#c8c129" stroke="#c8c129"/>
<path d="M804.5 331l-3.3-3.7 -17.4 5.4 7.7 2.3z" fill="#e0bc2a" stroke="#e0bc2a"/>
<path d="M801.2 327.3l-3.4-3.7 -21.7 6.8 7.7 2.3z" fill="#f3ba39" stroke="#f3ba39"/>
<path d="M797.8 323.6l-3.3-3.7 -26.2 8.2 7.7 2.3z" fill="#fec13a" stroke="#fec13a"/>
<path d="M794.5 319.9l-3.3-3.6 -30.6 9.4 7.7 2.4z" fill="#fdcd31" stroke="#fdcd31"/>
<path d="M791.2 316.3l-3.4-3.7 -34.9 10.8 7.7 2.3z" fill="#f7db2b" stroke="#f7db2b"/>
<path d="M787.8 312.6l-3.4-3.7 -39.2 12.2 7.7 2.3z" fill="#f5e825" stroke="#f5e825"/>
<path d="M784.4 308.9l-3.3-3.7 -43.6 13.5 7.7 2.4z" fill="#f7f51b" stroke="#f7f51b"/>
</g>
<g opacity="0.5">
<path d="M810.2 341.5l4.4 .5 -7.7-2.3z" fill="#90ca4d" stroke="#90ca4d"/>
<path d="M805.9 340.9l4.3 .6 -3.3-1.8 -7.7-2.3z" fill="#adc638" stroke="#adc638"/>
<path d="M801.5 340.3l4.4 .6 -6.7-3.5 -7.7-2.4z" fill="#c8c129" stroke="#c8c129"/>
<path d="M797.2 339.8l4.3 .5 -10-5.3 -7.7-2.3z" fill="#e0bc2a" stroke="#e0bc2a"/>
<path d="M792.8 339.2l4.4 .6 -13.4-7.1 -7.7-2.3z" fill="#f3ba39" stroke="#f3ba39"/>
<path d="M788.4 338.6l4.4 .6 -16.8-8.8 -7.7-2.3z" fill="#fec13a" stroke="#fec13a"/>
<path d="M784.1 338l4.3 .6 -20.1-10.5 -7.7-2.4z" fill="#fdcd31" stroke="#fdcd31"/>
<path d="M779.7 337.5l4.4 .5 -23.5-12.3 -7.7-2.3z" fill="#f7db2b" stroke="#f7db2b"/>
<path d="M775.4 336.9l4.3 .6 -26.8-14.1 -7.7-2.3z" fill="#f5e825" stroke="#f5e825"/>
<path d="M771 336.3l4.4 .6 -30.2-15.8 -7.7-2.4z" fill="#f7f51b" stroke="#f7f51b"/>
</g>
<g opacity="0.5">
<path d="M819 338.8l-4.4 3.2 7.7-1.5z" fill="#90ca4d" stroke="#90ca4d"/>
<path d="M823.3 335.5l-4.3 3.3 3.3 1.7 7.7-1.5z" fill="#adc638" stroke="#adc638"/>
<path d="M827.7 332.2l-4.4 3.3 6.7 3.5 7.7-1.5z" fill="#c8c129" stroke="#c8c129"/>
<path d="M832 328.9l-4.3 3.3 10 5.3 7.7-1.5z" fill="#e0bc2a" stroke="#e0bc2a"/>
<path d="M836.4 325.6l-4.4 3.3 13.4 7.1 7.8-1.6z" fill="#f3ba39" stroke="#f3ba39"/>
<path d="M840.8 322.4l-4.4 3.2 16.8 8.8 7.7-1.5z" fill="#fec13a" stroke="#fec13a"/>
<path d="M845.1 319.1l-4.3 3.3 20.1 10.5 7.7-1.5z" fill="#fdcd31" stroke="#fdcd31"/>
<path d="M849.5 315.8l-4.4 3.3 23.5 12.3 7.7-1.5z" fill="#f7db2b" stroke="#f7db2b"/>
<path d="M853.8 312.5l-4.3 3.3 26.8 14.1 7.7-1.5z" fill="#f5e825" stroke="#f5e825"/>
<path d="M891.7 326.9l-33.5-17.6 -4.4 3.2 30.2 15.9z" fill="#f7f51b" stroke="#f7f51b"/>
</g>
<g opacity="0.5">
<path d="M848.1 359.6l4.4-3.2 -30.2-15.9 -7.7 1.5z" fill="#90ca4d" stroke="#90ca4d"/>
<path d="M852.5 356.4l4.3-3.3 -26.8-14.1 -7.7 1.5z" fill="#adc638" stroke="#adc638"/>
<path d="M856.8 353.1l4.4-3.3 -23.5-12.3 -7.7 1.5z" fill="#c8c129" stroke="#c8c129"/>
<path d="M861.2 349.8l4.3-3.3 -20.1-10.5 -7.7 1.5z" fill="#e0bc2a" stroke="#e0bc2a"/>
<path d="M865.5 346.5l4.4-3.3 -16.7-8.8 -7.8 1.6z" fill="#f3ba39" stroke="#f3ba39"/>
<path d="M869.9 343.2l4.4-3.2 -13.4-7.1 -7.7 1.5z" fill="#fec13a" stroke="#fec13a"/>
<path d="M874.3 340l4.3-3.3 -10-5.3 -7.7 1.5z" fill="#fdcd31" stroke="#fdcd31"/>
<path d="M878.6 336.7l4.4-3.3 -6.7-3.5 -7.7 1.5z" fill="#f7db2b" stroke="#f7db2b"/>
<path d="M883 333.4l4.3-3.3 -3.3-1.7 -7.7 1.5z" fill="#f5e825" stroke="#f5e825"/>
<path d="M887.3 330.1l4.4-3.2 -7.7 1.5z" fill="#f7f51b" stroke="#f7f51b"/>
</g>
<g opacity="0.5">
<path d="M1092.8 340.5l-3.3 .2 -4.4-.6z" fill="#90ca4d" stroke="#90ca4d"/>
<path d="M1096.2 340.4l-3.4 .1 -7.7-.4 -4.3-.5z" fill="#adc638" stroke="#adc638"/>
<path d="M1099.6 340.2l-3.4 .2 -15.4-.8 -4.4-.6z" fill="#c8c129" stroke="#c8c129"/>
<path d="M1102.9 340l-3.3 .2 -23.2-1.2 -4.3-.6z" fill="#e0bc2a" stroke="#e0bc2a"/>
<path d="M1106.2 339.9l-3.3 .1 -30.8-1.6 -4.4-.6z" fill="#f3ba39" stroke="#f3ba39"/>
<path d="M1109.6 339.7l-3.4 .2 -38.5-2.1 -4.4-.5z" fill="#fec13a" stroke="#fec13a"/>
<path d="M1112.9 339.6l-3.3 .1 -46.3-2.4 -4.3-.6z" fill="#fdcd31" stroke="#fdcd31"/>
<path d="M1116.3 339.4l-3.4 .2 -53.9-2.9 -4.4-.6z" fill="#f7db2b" stroke="#f7db2b"/>
<path d="M1119.7 339.2l-3.4 .2 -61.7-3.3 -4.3-.5z" fill="#f5e825" stroke="#f5e825"/>
<path d="M1123 339.1l-3.3 .1 -69.4-3.6 -4.4-.6z" fill="#f7f51b" stroke="#f7f51b"/>
</g>
<path d="M1079.4 352.6l43.6-13.5 -77.1-4.1z" fill="#f9fb15" fill-opacity="0.5" stroke="none"/>
<g opacity="0.5">
<path d="M432.4 321.5l-3.3 .2 -4.4-.6z" fill="#90ca4d" stroke="#90ca4d"/>
<path d="M435.8 321.4l-3.4 .1 -7.7-.4 -4.3-.5z" fill="#adc638" stroke="#adc638"/>
<path d="M439.2 321.2l-3.4 .2 -15.4-.8 -4.4-.6z" fill="#c8c129" stroke="#c8c129"/>
<path d="M442.5 321l-3.3 .2 -23.2-1.2 -4.3-.6z" fill="#e0bc2a" stroke="#e0bc2a"/>
<path d="M445.8 320.9l-3.3 .1 -30.8-1.6 -4.4-.6z" fill="#f3ba39" stroke="#f3ba39"/>
<path d="M449.2 320.7l-3.4 .2 -38.5-2.1 -4.4-.5z" fill="#fec13a" stroke="#fec13a"/>
<path d="M452.5 320.6l-3.3 .1 -46.3-2.4 -4.3-.6z" fill="#fdcd31" stroke="#fdcd31"/>
<path d="M455.9 320.4l-3.4 .2 -53.9-2.9 -4.4-.6z" fill="#f7db2b" stroke="#f7db2b"/>
<path d="M459.3 320.2l-3.4 .2 -61.7-3.3 -4.3-.5z" fill="#f5e825" stroke="#f5e825"/>
<path d="M462.6 320.1l-3.3 .1 -69.4-3.6 -4.4-.6z" fill="#f7f51b" stroke="#f7f51b"/>
</g>
<path d="M419 333.6l43.6-13.5 -77.1-4.1z" fill="#f9fb15" fill-opacity="0.5" stroke="none"/>
<g opacity="0.5">
<path d="M509.6 344.8l-3.4 .2 -2.2-1.2z" fill="#259ce7" stroke="#259ce7"/>
<path d="M512.9 344.7l-3.3 .1 -5.6-1 -2.2-1.3z" fill="#1fa5e2" stroke="#1fa5e2"/>
<path d="M516.2 344.5l-3.3 .2 -11.1-2.2 -2.1-1.2z" fill="#17aeda" stroke="#17aeda"/>
<path d="M519.6 344.3l-3.4 .2 -16.5-3.2 -2.2-1.3z" fill="#05b6ce" stroke="#05b6ce"/>
<path d="M523 344.2l-3.4 .1 -22.1-4.3 -2.2-1.2z" fill="#06bcc0" stroke="#06bcc0"/>
<path d="M526.3 344l-3.3 .2 -27.7-5.4 -2.2-1.3z" fill="#1fc0b2" stroke="#1fc0b2"/>
<path d="M529.7 343.9l-3.4 .1 -33.2-6.5 -2.2-1.2z" fill="#2fc5a2" stroke="#2fc5a2"/>
<path d="M533 343.7l-3.3 .2 -38.8-7.6 -2.1-1.3z" fill="#3dc990" stroke="#3dc990"/>
<path d="M536.3 343.5l-3.3 .2 -44.2-8.7 -2.2-1.2z" fill="#55cc7c" stroke="#55cc7c"/>
<path d="M539.7 343.4l-3.4 .1 -49.7-9.7 -2.2-1.3 55.3 10.9z" fill="#71cd64" stroke="#71cd64"/>
<path d="M539.7 343.4l0 0 -55.3-10.9 -2.2-1.2 49.8 9.7z" fill="#90ca4d" stroke="#90ca4d"/>
<path d="M482.2 331.3l-2.2-1.3 44.3 8.7 7.7 2.3z" fill="#adc638" stroke="#adc638"/>
<path d="M480 330l-2.1-1.2 38.7 7.6 7.7 2.3z" fill="#c8c129" stroke="#c8c129"/>
<path d="M477.9 328.8l-2.2-1.3 33.2 6.5 7.7 2.4z" fill="#e0bc2a" stroke="#e0bc2a"/>
<path d="M475.7 327.5l-2.2-1.2 27.7 5.4 7.7 2.3z" fill="#f3ba39" stroke="#f3ba39"/>
<path d="M473.5 326.3l-2.2-1.2 22.1 4.3 7.8 2.3z" fill="#fec13a" stroke="#fec13a"/>
<path d="M471.3 325.1l-2.2-1.3 16.6 3.3 7.7 2.3z" fill="#fdcd31" stroke="#fdcd31"/>
<path d="M469.1 323.8l-2.1-1.2 11 2.1 7.7 2.4z" fill="#f7db2b" stroke="#f7db2b"/>
<path d="M467 322.6l-2.2-1.3 5.5 1.1 7.7 2.3z" fill="#f5e825" stroke="#f5e825"/>
<path d="M464.8 321.3l-2.2-1.2 7.7 2.3z" fill="#f7f51b" stroke="#f7f51b"/>
</g>
<g opacity="0.5">
<path d="M496.1 356.9l43.6-13.5 -7.7-2.4 -39.2 12.2z" fill="#90ca4d" stroke="#90ca4d"/>
<path d="M532 341l-7.7-2.3 -34.9 10.8 3.4 3.7z" fill="#adc638" stroke="#adc638"/>
<path d="M524.3 338.7l-7.7-2.3 -30.6 9.4 3.4 3.7z" fill="#c8c129" stroke="#c8c129"/>
<path d="M516.6 336.4l-7.7-2.4 -26.2 8.2 3.3 3.6z" fill="#e0bc2a" stroke="#e0bc2a"/>
<path d="M508.9 334l-7.7-2.3 -21.8 6.8 3.3 3.7z" fill="#f3ba39" stroke="#f3ba39"/>
<path d="M501.2 331.7l-7.8-2.3 -17.4 5.4 3.4 3.7z" fill="#fec13a" stroke="#fec13a"/>
<path d="M493.4 329.4l-7.7-2.3 -13 4 3.3 3.7z" fill="#fdcd31" stroke="#fdcd31"/>
<path d="M485.7 327.1l-7.7-2.4 -8.7 2.7 3.4 3.7z" fill="#f7db2b" stroke="#f7db2b"/>
<path d="M478 324.7l-7.7-2.3 -4.4 1.3 3.4 3.7z" fill="#f5e825" stroke="#f5e825"/>
<path d="M470.3 322.4l-7.7-2.3 3.3 3.6z" fill="#f7f51b" stroke="#f7f51b"/>
</g>
<g opacity="0.5">
<path d="M616.8 366.7l-1.7-2.8 -6 .4z" fill="#259ce7" stroke="#259ce7"/>
<path d="M615.1 363.9l-1.7-2.8 -12 .9 7.7 2.3z" fill="#1fa5e2" stroke="#1fa5e2"/>
<path d="M613.4 361.1l-1.6-2.8 -18.1 1.4 7.7 2.3z" fill="#17aeda" stroke="#17aeda"/>
<path d="M611.8 358.3l-1.7-2.8 -24.1 1.8 7.7 2.4z" fill="#05b6ce" stroke="#05b6ce"/>
<path d="M610.1 355.5l-1.7-2.9 -30.2 2.4 7.8 2.3z" fill="#06bcc0" stroke="#06bcc0"/>
<path d="M608.4 352.6l-1.7-2.8 -36.2 2.9 7.7 2.3z" fill="#1fc0b2" stroke="#1fc0b2"/>
<path d="M606.7 349.8l-1.6-2.8 -42.3 3.4 7.7 2.3z" fill="#2fc5a2" stroke="#2fc5a2"/>
<path d="M605.1 347l-1.7-2.8 -48.3 3.8 7.7 2.4z" fill="#3dc990" stroke="#3dc990"/>
<path d="M603.4 344.2l-1.7-2.8 -54.3 4.3 7.7 2.3z" fill="#55cc7c" stroke="#55cc7c"/>
<path d="M601.7 341.4l-1.7-2.8 -60.3 4.8 0 0 7.7 2.3z" fill="#71cd64" stroke="#71cd64"/>
<path d="M600 338.6l-1.6-2.8 -54.3 4.3 -4.4 3.3 0 0z" fill="#90ca4d" stroke="#90ca4d"/>
<path d="M598.4 335.8l-1.7-2.8 -48.3 3.8 -4.3 3.3z" fill="#adc638" stroke="#adc638"/>
<path d="M596.7 333l-1.7-2.8 -42.2 3.3 -4.4 3.3z" fill="#c8c129" stroke="#c8c129"/>
<path d="M595 330.2l-1.6-2.8 -36.3 2.9 -4.3 3.2z" fill="#e0bc2a" stroke="#e0bc2a"/>
<path d="M593.4 327.4l-1.7-2.8 -30.2 2.4 -4.4 3.3z" fill="#f3ba39" stroke="#f3ba39"/>
<path d="M591.7 324.6l-1.7-2.8 -24.1 1.9 -4.4 3.3z" fill="#fec13a" stroke="#fec13a"/>
<path d="M590 321.8l-1.7-2.8 -18.1 1.4 -4.3 3.3z" fill="#fdcd31" stroke="#fdcd31"/>
<path d="M588.3 319l-1.7-2.8 -12 1 -4.4 3.2z" fill="#f7db2b" stroke="#f7db2b"/>
<path d="M586.6 316.2l-1.6-2.8 -6.1 .5 -4.3 3.3z" fill="#f5e825" stroke="#f5e825"/>
<path d="M585 313.4l-1.7-2.8 -4.4 3.3z" fill="#f7f51b" stroke="#f7f51b"/>
</g>
<g opacity="0.5">
<path d="M614.6 365.4l2.2 1.3 -7.7-2.4z" fill="#259ce7" stroke="#259ce7"/>
<path d="M612.4 364.2l2.2 1.2 -5.5-1.1 -7.7-2.3z" fill="#1fa5e2" stroke="#1fa5e2"/>
<path d="M610.3 362.9l2.1 1.3 -11-2.2 -7.7-2.3z" fill="#17aeda" stroke="#17aeda"/>
<path d="M608.1 361.7l2.2 1.2 -16.6-3.2 -7.7-2.4z" fill="#05b6ce" stroke="#05b6ce"/>
<path d="M605.9 360.4l2.2 1.3 -22.1-4.4 -7.8-2.3z" fill="#06bcc0" stroke="#06bcc0"/>
<path d="M603.7 359.2l2.2 1.2 -27.7-5.4 -7.7-2.3z" fill="#1fc0b2" stroke="#1fc0b2"/>
<path d="M601.5 357.9l2.2 1.3 -33.2-6.5 -7.7-2.3z" fill="#2fc5a2" stroke="#2fc5a2"/>
<path d="M599.4 356.7l2.1 1.2 -38.7-7.5 -7.7-2.4z" fill="#3dc990" stroke="#3dc990"/>
<path d="M597.2 355.4l2.2 1.3 -44.3-8.7 -7.7-2.3z" fill="#55cc7c" stroke="#55cc7c"/>
<path d="M595 354.2l2.2 1.2 -49.8-9.7 -7.7-2.3 0 0z" fill="#71cd64" stroke="#71cd64"/>
<path d="M592.8 353l2.2 1.2 -55.3-10.8 0 0 3.3-.2z" fill="#90ca4d" stroke="#90ca4d"/>
<path d="M590.6 351.7l2.2 1.3 -49.8-9.8 3.4-.2z" fill="#adc638" stroke="#adc638"/>
<path d="M588.5 350.5l2.1 1.2 -44.2-8.7 3.4-.1z" fill="#c8c129" stroke="#c8c129"/>
<path d="M586.3 349.2l2.2 1.3 -38.7-7.6 3.3-.2z" fill="#e0bc2a" stroke="#e0bc2a"/>
<path d="M584.1 348l2.2 1.2 -33.2-6.5 3.3-.2z" fill="#f3ba39" stroke="#f3ba39"/>
<path d="M581.9 346.7l2.2 1.3 -27.7-5.5 3.4-.1z" fill="#fec13a" stroke="#fec13a"/>
<path d="M579.7 345.5l2.2 1.2 -22.1-4.3 3.3-.2z" fill="#fdcd31" stroke="#fdcd31"/>
<path d="M577.6 344.2l2.1 1.3 -16.6-3.3 3.4-.1z" fill="#f7db2b" stroke="#f7db2b"/>
<path d="M575.4 343l2.2 1.2 -11.1-2.1 3.4-.2z" fill="#f5e825" stroke="#f5e825"/>
<path d="M573.2 341.7l2.2 1.3 -5.5-1.1z" fill="#f7f51b" stroke="#f7f51b"/>
</g>
<g opacity="0.5">
<path d="M619 364.1l-2.2 2.6 3.9-1.8z" fill="#259ce7" stroke="#259ce7"/>
<path d="M621.2 361.5l-2.2 2.6 1.7 .8 3.8-1.7z" fill="#1fa5e2" stroke="#1fa5e2"/>
<path d="M623.3 358.9l-2.1 2.6 3.3 1.7 3.9-1.7z" fill="#17aeda" stroke="#17aeda"/>
<path d="M625.5 356.3l-2.2 2.6 5.1 2.6 3.8-1.7z" fill="#05b6ce" stroke="#05b6ce"/>
<path d="M627.7 353.7l-2.2 2.6 6.7 3.5 3.9-1.7z" fill="#06bcc0" stroke="#06bcc0"/>
<path d="M629.9 351.1l-2.2 2.6 8.4 4.4 3.8-1.8z" fill="#1fc0b2" stroke="#1fc0b2"/>
<path d="M632.1 348.5l-2.2 2.6 10 5.2 3.9-1.7z" fill="#2fc5a2" stroke="#2fc5a2"/>
<path d="M634.2 345.9l-2.1 2.6 11.7 6.1 3.8-1.7z" fill="#3dc990" stroke="#3dc990"/>
<path d="M636.4 343.3l-2.2 2.6 13.4 7 3.9-1.7z" fill="#55cc7c" stroke="#55cc7c"/>
<path d="M638.6 340.7l-2.2 2.6 15.1 7.9 3.9-1.7z" fill="#71cd64" stroke="#71cd64"/>
<path d="M640.8 338.1l-2.2 2.6 16.8 8.8 3.8-1.8z" fill="#90ca4d" stroke="#90ca4d"/>
<path d="M643 335.5l-2.2 2.6 18.4 9.6 3.9-1.7z" fill="#adc638" stroke="#adc638"/>
<path d="M645.1 332.9l-2.1 2.6 20.1 10.5 3.8-1.7z" fill="#c8c129" stroke="#c8c129"/>
<path d="M647.3 330.3l-2.2 2.6 21.8 11.4 3.9-1.7z" fill="#e0bc2a" stroke="#e0bc2a"/>
<path d="M649.5 327.7l-2.2 2.6 23.5 12.3 3.8-1.7z" fill="#f3ba39" stroke="#f3ba39"/>
<path d="M651.7 325.1l-2.2 2.6 25.1 13.2 3.9-1.8z" fill="#fec13a" stroke="#fec13a"/>
<path d="M653.9 322.5l-2.2 2.6 26.8 14 3.8-1.7z" fill="#fdcd31" stroke="#fdcd31"/>
<path d="M656 319.9l-2.1 2.6 28.4 14.9 3.9-1.7z" fill="#f7db2b" stroke="#f7db2b"/>
<path d="M658.2 317.3l-2.2 2.6 30.2 15.8 3.8-1.7z" fill="#f5e825" stroke="#f5e825"/>
<path d="M693.9 332.3l-33.5-17.6 -2.2 2.6 31.8 16.7z" fill="#f7f51b" stroke="#f7f51b"/>
</g>
<g opacity="0.5">
<path d="M620.7 364.9l-3.9 1.8 1.7-1.1z" fill="#259ce7" stroke="#259ce7"/>
<path d="M624.5 363.2l-3.8 1.7 -2.2 .7 1.7-1z" fill="#1fa5e2" stroke="#1fa5e2"/>
<path d="M628.4 361.5l-3.9 1.7 -4.3 1.4 1.6-1.1z" fill="#17aeda" stroke="#17aeda"/>
<path d="M632.2 359.8l-3.8 1.7 -6.6 2 1.7-1z" fill="#05b6ce" stroke="#05b6ce"/>
<path d="M636.1 358.1l-3.9 1.7 -8.7 2.7 1.7-1.1z" fill="#06bcc0" stroke="#06bcc0"/>
<path d="M639.9 356.3l-3.8 1.8 -10.9 3.3 1.7-1z" fill="#1fc0b2" stroke="#1fc0b2"/>
<path d="M643.8 354.6l-3.9 1.7 -13 4.1 1.6-1z" fill="#2fc5a2" stroke="#2fc5a2"/>
<path d="M647.6 352.9l-3.8 1.7 -15.3 4.8 1.7-1.1z" fill="#3dc990" stroke="#3dc990"/>
<path d="M651.5 351.2l-3.9 1.7 -17.4 5.4 1.7-1z" fill="#55cc7c" stroke="#55cc7c"/>
<path d="M655.4 349.5l-3.9 1.7 -19.6 6.1 1.7-1.1z" fill="#71cd64" stroke="#71cd64"/>
<path d="M659.2 347.7l-3.8 1.8 -21.8 6.7 1.6-1z" fill="#90ca4d" stroke="#90ca4d"/>
<path d="M663.1 346l-3.9 1.7 -24 7.5 1.7-1.1z" fill="#adc638" stroke="#adc638"/>
<path d="M666.9 344.3l-3.8 1.7 -26.2 8.1 1.7-1z" fill="#c8c129" stroke="#c8c129"/>
<path d="M670.8 342.6l-3.9 1.7 -28.3 8.8 1.6-1z" fill="#e0bc2a" stroke="#e0bc2a"/>
<path d="M674.6 340.9l-3.8 1.7 -30.6 9.5 1.7-1.1z" fill="#f3ba39" stroke="#f3ba39"/>
<path d="M678.5 339.1l-3.9 1.8 -32.7 10.1 1.7-1z" fill="#fec13a" stroke="#fec13a"/>
<path d="M682.3 337.4l-3.8 1.7 -34.9 10.9 1.7-1.1z" fill="#fdcd31" stroke="#fdcd31"/>
<path d="M686.2 335.7l-3.9 1.7 -37 11.5 1.7-1z" fill="#f7db2b" stroke="#f7db2b"/>
<path d="M690 334l-3.8 1.7 -39.2 12.2 1.6-1.1z" fill="#f5e825" stroke="#f5e825"/>
<path d="M650.3 345.8l43.6-13.5 -3.9 1.7 -41.4 12.8z" fill="#f7f51b" stroke="#f7f51b"/>
</g>
<g opacity="0.5">
<path d="M848.1 359.6l-33.5-17.6 -4.4-.5 30.2 15.8z" fill="#90ca4d" stroke="#90ca4d"/>
<path d="M810.2 341.5l-4.3-.6 26.8 14.1 7.7 2.3z" fill="#adc638" stroke="#adc638"/>
<path d="M805.9 340.9l-4.4-.6 23.5 12.3 7.7 2.4z" fill="#c8c129" stroke="#c8c129"/>
<path d="M801.5 340.3l-4.3-.5 20.1 10.5 7.7 2.3z" fill="#e0bc2a" stroke="#e0bc2a"/>
<path d="M797.2 339.8l-4.4-.6 16.8 8.8 7.7 2.3z" fill="#f3ba39" stroke="#f3ba39"/>
<path d="M792.8 339.2l-4.4-.6 13.4 7.1 7.8 2.3z" fill="#fec13a" stroke="#fec13a"/>
<path d="M788.4 338.6l-4.3-.6 10 5.3 7.7 2.4z" fill="#fdcd31" stroke="#fdcd31"/>
<path d="M784.1 338l-4.4-.5 6.7 3.5 7.7 2.3z" fill="#f7db2b" stroke="#f7db2b"/>
<path d="M779.7 337.5l-4.3-.6 3.3 1.8 7.7 2.3z" fill="#f5e825" stroke="#f5e825"/>
<path d="M775.4 336.9l-4.4-.6 7.7 2.4z" fill="#f7f51b" stroke="#f7f51b"/>
</g>
<g opacity="0.5">
<path d="M843.7 359.1l4.4 .5 -7.7-2.3z" fill="#90ca4d" stroke="#90ca4d"/>
<path d="M839.4 358.5l4.3 .6 -3.3-1.8 -7.7-2.3z" fill="#adc638" stroke="#adc638"/>
<path d="M835 357.9l4.4 .6 -6.7-3.5 -7.7-2.4z" fill="#c8c129" stroke="#c8c129"/>
<path d="M830.7 357.4l4.3 .5 -10-5.3 -7.7-2.3z" fill="#e0bc2a" stroke="#e0bc2a"/>
<path d="M826.3 356.8l4.4 .6 -13.4-7.1 -7.7-2.3z" fill="#f3ba39" stroke="#f3ba39"/>
<path d="M821.9 356.2l4.4 .6 -16.7-8.8 -7.8-2.3z" fill="#fec13a" stroke="#fec13a"/>
<path d="M817.6 355.6l4.3 .6 -20.1-10.5 -7.7-2.4z" fill="#fdcd31" stroke="#fdcd31"/>
<path d="M813.2 355.1l4.4 .5 -23.5-12.3 -7.7-2.3z" fill="#f7db2b" stroke="#f7db2b"/>
<path d="M808.9 354.5l4.3 .6 -26.8-14.1 -7.7-2.3z" fill="#f5e825" stroke="#f5e825"/>
<path d="M804.5 353.9l4.4 .6 -30.2-15.8 -7.7-2.4z" fill="#f7f51b" stroke="#f7f51b"/>
</g>
<g opacity="0.5">
<path d="M852.5 356.4l-4.4 3.2 7.7-1.5z" fill="#90ca4d" stroke="#90ca4d"/>
<path d="M856.8 353.1l-4.3 3.3 3.3 1.7 7.7-1.5z" fill="#adc638" stroke="#adc638"/>
<path d="M861.2 349.8l-4.4 3.3 6.7 3.5 7.7-1.5z" fill="#c8c129" stroke="#c8c129"/>
<path d="M865.5 346.5l-4.3 3.3 10 5.3 7.7-1.5z" fill="#e0bc2a" stroke="#e0bc2a"/>
<path d="M869.9 343.2l-4.4 3.3 13.4 7.1 7.7-1.6z" fill="#f3ba39" stroke="#f3ba39"/>
<path d="M874.3 340l-4.4 3.2 16.7 8.8 7.8-1.5z" fill="#fec13a" stroke="#fec13a"/>
<path d="M878.6 336.7l-4.3 3.3 20.1 10.5 7.7-1.5z" fill="#fdcd31" stroke="#fdcd31"/>
<path d="M883 333.4l-4.4 3.3 23.5 12.3 7.7-1.5z" fill="#f7db2b" stroke="#f7db2b"/>
<path d="M887.3 330.1l-4.3 3.3 26.8 14.1 7.7-1.5z" fill="#f5e825" stroke="#f5e825"/>
<path d="M925.2 344.5l-33.5-17.6 -4.4 3.2 30.2 15.9z" fill="#f7f51b" stroke="#f7f51b"/>
</g>
<g opacity="0.5">
<path d="M881.6 377.2l4.4-3.2 -30.2-15.9 -7.7 1.5z" fill="#90ca4d" stroke="#90ca4d"/>
<path d="M886 374l4.3-3.3 -26.8-14.1 -7.7 1.5z" fill="#adc638" stroke="#adc638"/>
<path d="M890.3 370.7l4.4-3.3 -23.5-12.3 -7.7 1.5z" fill="#c8c129" stroke="#c8c129"/>
<path d="M894.7 367.4l4.3-3.3 -20.1-10.5 -7.7 1.5z" fill="#e0bc2a" stroke="#e0bc2a"/>
<path d="M899 364.1l4.4-3.3 -16.8-8.8 -7.7 1.6z" fill="#f3ba39" stroke="#f3ba39"/>
<path d="M903.4 360.8l4.4-3.2 -13.4-7.1 -7.8 1.5z" fill="#fec13a" stroke="#fec13a"/>
<path d="M907.8 357.6l4.3-3.3 -10-5.3 -7.7 1.5z" fill="#fdcd31" stroke="#fdcd31"/>
<path d="M912.1 354.3l4.4-3.3 -6.7-3.5 -7.7 1.5z" fill="#f7db2b" stroke="#f7db2b"/>
<path d="M916.5 351l4.3-3.3 -3.3-1.7 -7.7 1.5z" fill="#f5e825" stroke="#f5e825"/>
<path d="M920.8 347.7l4.4-3.2 -7.7 1.5z" fill="#f7f51b" stroke="#f7f51b"/>
</g>
<path d="M1002.3 348.5l-33.5-17.6 -43.6 13.6z" fill="#f9fb15" fill-opacity="0.5" stroke="none"/>
<g opacity="0.5">
<path d="M958.7 381.3l4.4-3.3 -7.7-.4z" fill="#90ca4d" stroke="#90ca4d"/>
<path d="M963.1 378l4.3-3.3 -15.4-.8 3.4 3.7z" fill="#adc638" stroke="#adc638"/>
<path d="M967.4 374.7l4.4-3.2 -23.2-1.3 3.4 3.7z" fill="#c8c129" stroke="#c8c129"/>
<path d="M971.8 371.5l4.3-3.3 -30.8-1.6 3.3 3.6z" fill="#e0bc2a" stroke="#e0bc2a"/>
<path d="M976.1 368.2l4.4-3.3 -38.5-2 3.3 3.7z" fill="#f3ba39" stroke="#f3ba39"/>
<path d="M980.5 364.9l4.4-3.3 -46.3-2.4 3.4 3.7z" fill="#fec13a" stroke="#fec13a"/>
<path d="M984.9 361.6l4.3-3.2 -53.9-2.9 3.3 3.7z" fill="#fdcd31" stroke="#fdcd31"/>
<path d="M989.2 358.4l4.4-3.3 -61.7-3.3 3.4 3.7z" fill="#f7db2b" stroke="#f7db2b"/>
<path d="M993.6 355.1l4.3-3.3 -69.4-3.7 3.4 3.7z" fill="#f5e825" stroke="#f5e825"/>
<path d="M997.9 351.8l4.4-3.3 -77.1-4 3.3 3.6z" fill="#f7f51b" stroke="#f7f51b"/>
</g>
<g opacity="0.5">
<path d="M496.1 356.9l-3.3-3.7 -4.4 1.4z" fill="#90ca4d" stroke="#90ca4d"/>
<path d="M492.8 353.2l-3.4-3.7 -8.7 2.7 7.7 2.4z" fill="#adc638" stroke="#adc638"/>
<path d="M489.4 349.5l-3.4-3.7 -13 4.1 7.7 2.3z" fill="#c8c129" stroke="#c8c129"/>
<path d="M486 345.8l-3.3-3.6 -17.4 5.4 7.7 2.3z" fill="#e0bc2a" stroke="#e0bc2a"/>
<path d="M482.7 342.2l-3.3-3.7 -21.8 6.7 7.7 2.4z" fill="#f3ba39" stroke="#f3ba39"/>
<path d="M479.4 338.5l-3.4-3.7 -26.2 8.1 7.8 2.3z" fill="#fec13a" stroke="#fec13a"/>
<path d="M476 334.8l-3.3-3.7 -30.6 9.5 7.7 2.3z" fill="#fdcd31" stroke="#fdcd31"/>
<path d="M472.7 331.1l-3.4-3.7 -34.9 10.9 7.7 2.3z" fill="#f7db2b" stroke="#f7db2b"/>
<path d="M469.3 327.4l-3.4-3.7 -39.2 12.2 7.7 2.4z" fill="#f5e825" stroke="#f5e825"/>
<path d="M465.9 323.7l-3.3-3.6 -43.6 13.5 7.7 2.3z" fill="#f7f51b" stroke="#f7f51b"/>
</g>
<g opacity="0.5">
<path d="M491.7 356.3l4.4 .6 -7.7-2.3z" fill="#90ca4d" stroke="#90ca4d"/>
<path d="M487.4 355.8l4.3 .5 -3.3-1.7 -7.7-2.4z" fill="#adc638" stroke="#adc638"/>
<path d="M483 355.2l4.4 .6 -6.7-3.6 -7.7-2.3z" fill="#c8c129" stroke="#c8c129"/>
<path d="M478.7 354.6l4.3 .6 -10-5.3 -7.7-2.3z" fill="#e0bc2a" stroke="#e0bc2a"/>
<path d="M474.3 354l4.4 .6 -13.4-7 -7.7-2.4z" fill="#f3ba39" stroke="#f3ba39"/>
<path d="M469.9 353.5l4.4 .5 -16.7-8.8 -7.8-2.3z" fill="#fec13a" stroke="#fec13a"/>
<path d="M465.6 352.9l4.3 .6 -20.1-10.6 -7.7-2.3z" fill="#fdcd31" stroke="#fdcd31"/>
<path d="M461.2 352.3l4.4 .6 -23.5-12.3 -7.7-2.3z" fill="#f7db2b" stroke="#f7db2b"/>
<path d="M456.9 351.8l4.3 .5 -26.8-14 -7.7-2.4z" fill="#f5e825" stroke="#f5e825"/>
<path d="M452.5 351.2l4.4 .6 -30.2-15.9 -7.7-2.3z" fill="#f7f51b" stroke="#f7f51b"/>
</g>
<g opacity="0.5">
<path d="M543 343.2l-3.3 .2 -43.6 13.5 7.7-1.5z" fill="#90ca4d" stroke="#90ca4d"/>
<path d="M546.4 343l-3.4 .2 -39.2 12.2 7.7-1.5z" fill="#adc638" stroke="#adc638"/>
<path d="M549.8 342.9l-3.4 .1 -34.9 10.9 7.7-1.6z" fill="#c8c129" stroke="#c8c129"/>
<path d="M553.1 342.7l-3.3 .2 -30.6 9.4 7.7-1.5z" fill="#e0bc2a" stroke="#e0bc2a"/>
<path d="M556.4 342.5l-3.3 .2 -26.2 8.1 7.7-1.5z" fill="#f3ba39" stroke="#f3ba39"/>
<path d="M559.8 342.4l-3.4 .1 -21.7 6.8 7.7-1.5z" fill="#fec13a" stroke="#fec13a"/>
<path d="M563.1 342.2l-3.3 .2 -17.4 5.4 7.7-1.5z" fill="#fdcd31" stroke="#fdcd31"/>
<path d="M566.5 342.1l-3.4 .1 -13 4.1 7.7-1.5z" fill="#f7db2b" stroke="#f7db2b"/>
<path d="M569.9 341.9l-3.4 .2 -8.7 2.7 7.7-1.6z" fill="#f5e825" stroke="#f5e825"/>
<path d="M573.2 341.7l-3.3 .2 -4.4 1.3z" fill="#f7f51b" stroke="#f7f51b"/>
</g>
<g opacity="0.5">
<path d="M503.8 355.4l-7.7 1.5 3.3-.2z" fill="#90ca4d" stroke="#90ca4d"/>
<path d="M511.5 353.9l-7.7 1.5 -4.4 1.3 3.4-.1z" fill="#adc638" stroke="#adc638"/>
<path d="M519.2 352.3l-7.7 1.6 -8.7 2.7 3.4-.2z" fill="#c8c129" stroke="#c8c129"/>
<path d="M526.9 350.8l-7.7 1.5 -13 4.1 3.3-.2z" fill="#e0bc2a" stroke="#e0bc2a"/>
<path d="M534.6 349.3l-7.7 1.5 -17.4 5.4 3.3-.1z" fill="#f3ba39" stroke="#f3ba39"/>
<path d="M542.4 347.8l-7.7 1.5 -21.9 6.8 3.4-.2z" fill="#fec13a" stroke="#fec13a"/>
<path d="M550.1 346.3l-7.7 1.5 -26.2 8.1 3.3-.1z" fill="#fdcd31" stroke="#fdcd31"/>
<path d="M557.8 344.8l-7.7 1.5 -30.6 9.5 3.4-.2z" fill="#f7db2b" stroke="#f7db2b"/>
<path d="M565.5 343.2l-7.7 1.6 -34.9 10.8 3.4-.2z" fill="#f5e825" stroke="#f5e825"/>
<path d="M529.6 355.3l43.6-13.6 -7.7 1.5 -39.2 12.2z" fill="#f7f51b" stroke="#f7f51b"/>
</g>
<g opacity="0.5">
<path d="M618.5 365.6l-1.7 1.1 -2.2-1.3z" fill="#259ce7" stroke="#259ce7"/>
<path d="M620.2 364.6l-1.7 1 -3.9-.2 -2.2-1.2z" fill="#1fa5e2" stroke="#1fa5e2"/>
<path d="M621.8 363.5l-1.6 1.1 -7.8-.4 -2.1-1.3z" fill="#17aeda" stroke="#17aeda"/>
<path d="M623.5 362.5l-1.7 1 -11.5-.6 -2.2-1.2z" fill="#05b6ce" stroke="#05b6ce"/>
<path d="M625.2 361.4l-1.7 1.1 -15.4-.8 -2.2-1.3z" fill="#06bcc0" stroke="#06bcc0"/>
<path d="M626.9 360.4l-1.7 1 -19.3-1 -2.2-1.2z" fill="#1fc0b2" stroke="#1fc0b2"/>
<path d="M628.5 359.4l-1.6 1 -23.2-1.2 -2.2-1.3z" fill="#2fc5a2" stroke="#2fc5a2"/>
<path d="M630.2 358.3l-1.7 1.1 -27-1.5 -2.1-1.2z" fill="#3dc990" stroke="#3dc990"/>
<path d="M631.9 357.3l-1.7 1 -30.8-1.6 -2.2-1.3z" fill="#55cc7c" stroke="#55cc7c"/>
<path d="M633.6 356.2l-1.7 1.1 -34.7-1.9 -2.2-1.2z" fill="#71cd64" stroke="#71cd64"/>
<path d="M635.2 355.2l-1.6 1 -38.6-2 -2.2-1.2z" fill="#90ca4d" stroke="#90ca4d"/>
<path d="M636.9 354.1l-1.7 1.1 -42.4-2.2 -2.2-1.3z" fill="#adc638" stroke="#adc638"/>
<path d="M638.6 353.1l-1.7 1 -46.3-2.4 -2.1-1.2z" fill="#c8c129" stroke="#c8c129"/>
<path d="M640.2 352.1l-1.6 1 -50.1-2.6 -2.2-1.3z" fill="#e0bc2a" stroke="#e0bc2a"/>
<path d="M641.9 351l-1.7 1.1 -53.9-2.9 -2.2-1.2z" fill="#f3ba39" stroke="#f3ba39"/>
<path d="M643.6 350l-1.7 1 -57.8-3 -2.2-1.3z" fill="#fec13a" stroke="#fec13a"/>
<path d="M645.3 348.9l-1.7 1.1 -61.7-3.3 -2.2-1.2z" fill="#fdcd31" stroke="#fdcd31"/>
<path d="M647 347.9l-1.7 1 -65.6-3.4 -2.1-1.3z" fill="#f7db2b" stroke="#f7db2b"/>
<path d="M648.6 346.8l-1.6 1.1 -69.4-3.7 -2.2-1.2z" fill="#f5e825" stroke="#f5e825"/>
<path d="M650.3 345.8l-1.7 1 -73.2-3.8 -2.2-1.3z" fill="#f7f51b" stroke="#f7f51b"/>
</g>
<g opacity="0.5">
<path d="M606.7 378.6l4.4-3.3 -7.7-.4z" fill="#90ca4d" stroke="#90ca4d"/>
<path d="M611.1 375.3l4.3-3.3 -15.4-.8 3.4 3.7z" fill="#adc638" stroke="#adc638"/>
<path d="M615.4 372l4.4-3.3 -23.2-1.2 3.4 3.7z" fill="#c8c129" stroke="#c8c129"/>
<path d="M619.8 368.7l4.3-3.2 -30.8-1.7 3.3 3.7z" fill="#e0bc2a" stroke="#e0bc2a"/>
<path d="M624.1 365.5l4.4-3.3 -38.5-2.1 3.3 3.7z" fill="#f3ba39" stroke="#f3ba39"/>
<path d="M628.5 362.2l4.4-3.3 -46.3-2.4 3.4 3.6z" fill="#fec13a" stroke="#fec13a"/>
<path d="M632.9 358.9l4.3-3.3 -53.9-2.8 3.3 3.7z" fill="#fdcd31" stroke="#fdcd31"/>
<path d="M637.2 355.6l4.4-3.2 -61.7-3.3 3.4 3.7z" fill="#f7db2b" stroke="#f7db2b"/>
<path d="M641.6 352.4l4.3-3.3 -69.4-3.7 3.4 3.7z" fill="#f5e825" stroke="#f5e825"/>
<path d="M645.9 349.1l4.4-3.3 -77.1-4.1 3.3 3.7z" fill="#f7f51b" stroke="#f7f51b"/>
</g>
<path d="M727.4 349.9l-33.5-17.6 -43.6 13.5z" fill="#f9fb15" fill-opacity="0.5" stroke="none"/>
<g opacity="0.5">
<path d="M683.8 382.6l4.4-3.2 -7.7-.4z" fill="#90ca4d" stroke="#90ca4d"/>
<path d="M688.2 379.4l4.3-3.3 -15.4-.8 3.4 3.7z" fill="#adc638" stroke="#adc638"/>
<path d="M692.5 376.1l4.4-3.3 -23.2-1.2 3.4 3.7z" fill="#c8c129" stroke="#c8c129"/>
<path d="M696.9 372.8l4.3-3.3 -30.8-1.6 3.3 3.7z" fill="#e0bc2a" stroke="#e0bc2a"/>
<path d="M701.2 369.5l4.4-3.3 -38.6-2 3.4 3.7z" fill="#f3ba39" stroke="#f3ba39"/>
<path d="M705.6 366.2l4.4-3.2 -46.3-2.5 3.3 3.7z" fill="#fec13a" stroke="#fec13a"/>
<path d="M710 363l4.3-3.3 -53.9-2.8 3.3 3.6z" fill="#fdcd31" stroke="#fdcd31"/>
<path d="M714.3 359.7l4.4-3.3 -61.7-3.2 3.4 3.7z" fill="#f7db2b" stroke="#f7db2b"/>
<path d="M718.7 356.4l4.3-3.3 -69.4-3.6 3.4 3.7z" fill="#f5e825" stroke="#f5e825"/>
<path d="M723 353.1l4.4-3.2 -77.1-4.1 3.3 3.7z" fill="#f7f51b" stroke="#f7f51b"/>
</g>
<g opacity="0.5">
<path d="M881.6 377.2l-33.5-17.6 -4.4-.5 30.2 15.8z" fill="#90ca4d" stroke="#90ca4d"/>
<path d="M843.7 359.1l-4.3-.6 26.8 14.1 7.7 2.3z" fill="#adc638" stroke="#adc638"/>
<path d="M839.4 358.5l-4.4-.6 23.5 12.3 7.7 2.4z" fill="#c8c129" stroke="#c8c129"/>
<path d="M835 357.9l-4.3-.5 20.1 10.5 7.7 2.3z" fill="#e0bc2a" stroke="#e0bc2a"/>
<path d="M830.7 357.4l-4.4-.6 16.7 8.8 7.8 2.3z" fill="#f3ba39" stroke="#f3ba39"/>
<path d="M826.3 356.8l-4.4-.6 13.4 7.1 7.7 2.3z" fill="#fec13a" stroke="#fec13a"/>
<path d="M821.9 356.2l-4.3-.6 10 5.3 7.7 2.4z" fill="#fdcd31" stroke="#fdcd31"/>
<path d="M817.6 355.6l-4.4-.5 6.7 3.5 7.7 2.3z" fill="#f7db2b" stroke="#f7db2b"/>
<path d="M813.2 355.1l-4.3-.6 3.3 1.8 7.7 2.3z" fill="#f5e825" stroke="#f5e825"/>
<path d="M808.9 354.5l-4.4-.6 7.7 2.4z" fill="#f7f51b" stroke="#f7f51b"/>
</g>
<g opacity="0.5">
<path d="M877.2 376.7l4.4 .5 -7.7-2.3z" fill="#90ca4d" stroke="#90ca4d"/>
<path d="M872.9 376.1l4.3 .6 -3.3-1.8 -7.7-2.3z" fill="#adc638" stroke="#adc638"/>
<path d="M868.5 375.5l4.4 .6 -6.7-3.5 -7.7-2.4z" fill="#c8c129" stroke="#c8c129"/>
<path d="M864.2 375l4.3 .5 -10-5.3 -7.7-2.3z" fill="#e0bc2a" stroke="#e0bc2a"/>
<path d="M859.8 374.4l4.4 .6 -13.4-7.1 -7.8-2.3z" fill="#f3ba39" stroke="#f3ba39"/>
<path d="M855.4 373.8l4.4 .6 -16.8-8.8 -7.7-2.3z" fill="#fec13a" stroke="#fec13a"/>
<path d="M851.1 373.2l4.3 .6 -20.1-10.5 -7.7-2.4z" fill="#fdcd31" stroke="#fdcd31"/>
<path d="M846.7 372.7l4.4 .5 -23.5-12.3 -7.7-2.3z" fill="#f7db2b" stroke="#f7db2b"/>
<path d="M842.4 372.1l4.3 .6 -26.8-14.1 -7.7-2.3z" fill="#f5e825" stroke="#f5e825"/>
<path d="M838 371.5l4.4 .6 -30.2-15.8 -7.7-2.4z" fill="#f7f51b" stroke="#f7f51b"/>
</g>
<g opacity="0.5">
<path d="M958.7 381.3l-3.3-3.7 -69.4-3.6 -4.4 3.2z" fill="#90ca4d" stroke="#90ca4d"/>
<path d="M955.4 377.6l-3.4-3.7 -61.7-3.2 -4.3 3.3z" fill="#adc638" stroke="#adc638"/>
<path d="M952 373.9l-3.4-3.7 -53.9-2.8 -4.4 3.3z" fill="#c8c129" stroke="#c8c129"/>
<path d="M948.6 370.2l-3.3-3.6 -46.3-2.5 -4.3 3.3z" fill="#e0bc2a" stroke="#e0bc2a"/>
<path d="M945.3 366.6l-3.3-3.7 -38.6-2.1 -4.4 3.3z" fill="#f3ba39" stroke="#f3ba39"/>
<path d="M942 362.9l-3.4-3.7 -30.8-1.6 -4.4 3.2z" fill="#fec13a" stroke="#fec13a"/>
<path d="M938.6 359.2l-3.3-3.7 -23.2-1.2 -4.3 3.3z" fill="#fdcd31" stroke="#fdcd31"/>
<path d="M935.3 355.5l-3.4-3.7 -15.4-.8 -4.4 3.3z" fill="#f7db2b" stroke="#f7db2b"/>
<path d="M931.9 351.8l-3.4-3.7 -7.7-.4 -4.3 3.3z" fill="#f5e825" stroke="#f5e825"/>
<path d="M928.5 348.1l-3.3-3.6 -4.4 3.2z" fill="#f7f51b" stroke="#f7f51b"/>
</g>
<g opacity="0.5">
<path d="M954.3 380.7l4.4 .6 -77.1-4.1 3.3-.1z" fill="#90ca4d" stroke="#90ca4d"/>
<path d="M950 380.2l4.3 .5 -69.4-3.6 3.4-.2z" fill="#adc638" stroke="#adc638"/>
<path d="M945.6 379.6l4.4 .6 -61.7-3.3 3.4-.2z" fill="#c8c129" stroke="#c8c129"/>
<path d="M941.3 379l4.3 .6 -53.9-2.9 3.3-.1z" fill="#e0bc2a" stroke="#e0bc2a"/>
<path d="M936.9 378.4l4.4 .6 -46.3-2.4 3.4-.2z" fill="#f3ba39" stroke="#f3ba39"/>
<path d="M932.5 377.9l4.4 .5 -38.5-2 3.3-.1z" fill="#fec13a" stroke="#fec13a"/>
<path d="M928.2 377.3l4.3 .6 -30.8-1.6 3.3-.2z" fill="#fdcd31" stroke="#fdcd31"/>
<path d="M923.8 376.7l4.4 .6 -23.2-1.2 3.4-.2z" fill="#f7db2b" stroke="#f7db2b"/>
<path d="M919.5 376.2l4.3 .5 -15.4-.8 3.4-.1z" fill="#f5e825" stroke="#f5e825"/>
<path d="M915.1 375.6l4.4 .6 -7.7-.4z" fill="#f7f51b" stroke="#f7f51b"/>
</g>
<g opacity="0.5">
<path d="M963.1 378l-4.4 3.3 7.7-1.5z" fill="#90ca4d" stroke="#90ca4d"/>
<path d="M967.4 374.7l-4.3 3.3 3.3 1.8 7.7-1.5z" fill="#adc638" stroke="#adc638"/>
<path d="M971.8 371.5l-4.4 3.2 6.7 3.6 7.7-1.6z" fill="#c8c129" stroke="#c8c129"/>
<path d="M976.1 368.2l-4.3 3.3 10 5.2 7.7-1.5z" fill="#e0bc2a" stroke="#e0bc2a"/>
<path d="M980.5 364.9l-4.4 3.3 13.4 7 7.7-1.5z" fill="#f3ba39" stroke="#f3ba39"/>
<path d="M984.9 361.6l-4.4 3.3 16.7 8.8 7.8-1.5z" fill="#fec13a" stroke="#fec13a"/>
<path d="M989.2 358.4l-4.3 3.2 20.1 10.6 7.7-1.5z" fill="#fdcd31" stroke="#fdcd31"/>
<path d="M993.6 355.1l-4.4 3.3 23.5 12.3 7.7-1.5z" fill="#f7db2b" stroke="#f7db2b"/>
<path d="M997.9 351.8l-4.3 3.3 26.8 14.1 7.7-1.6z" fill="#f5e825" stroke="#f5e825"/>
<path d="M1035.8 366.1l-33.5-17.6 -4.4 3.3 30.2 15.8z" fill="#f7f51b" stroke="#f7f51b"/>
</g>
<g opacity="0.5">
<path d="M966.4 379.8l-7.7 1.5 3.3-.2z" fill="#90ca4d" stroke="#90ca4d"/>
<path d="M974.1 378.3l-7.7 1.5 -4.4 1.3 3.4-.1z" fill="#adc638" stroke="#adc638"/>
<path d="M981.8 376.7l-7.7 1.6 -8.7 2.7 3.4-.2z" fill="#c8c129" stroke="#c8c129"/>
<path d="M989.5 375.2l-7.7 1.5 -13 4.1 3.3-.2z" fill="#e0bc2a" stroke="#e0bc2a"/>
<path d="M997.2 373.7l-7.7 1.5 -17.4 5.4 3.3-.1z" fill="#f3ba39" stroke="#f3ba39"/>
<path d="M1005 372.2l-7.8 1.5 -21.8 6.8 3.4-.2z" fill="#fec13a" stroke="#fec13a"/>
<path d="M1012.7 370.7l-7.7 1.5 -26.2 8.1 3.3-.1z" fill="#fdcd31" stroke="#fdcd31"/>
<path d="M1020.4 369.2l-7.7 1.5 -30.6 9.5 3.4-.2z" fill="#f7db2b" stroke="#f7db2b"/>
<path d="M1028.1 367.6l-7.7 1.6 -34.9 10.8 3.4-.2z" fill="#f5e825" stroke="#f5e825"/>
<path d="M992.2 379.7l43.6-13.6 -7.7 1.5 -39.2 12.2z" fill="#f7f51b" stroke="#f7f51b"/>
</g>
<path d="M1112.9 370.2l-33.5-17.6 -43.6 13.5z" fill="#f9fb15" fill-opacity="0.5" stroke="none"/>
<g opacity="0.5">
<path d="M1069.3 403l4.4-3.3 -7.7-.4z" fill="#90ca4d" stroke="#90ca4d"/>
<path d="M1073.7 399.7l4.3-3.3 -15.4-.8 3.4 3.7z" fill="#adc638" stroke="#adc638"/>
<path d="M1078 396.4l4.4-3.3 -23.2-1.2 3.4 3.7z" fill="#c8c129" stroke="#c8c129"/>
<path d="M1082.4 393.1l4.3-3.2 -30.8-1.7 3.3 3.7z" fill="#e0bc2a" stroke="#e0bc2a"/>
<path d="M1086.7 389.9l4.4-3.3 -38.5-2.1 3.3 3.7z" fill="#f3ba39" stroke="#f3ba39"/>
<path d="M1091.1 386.6l4.4-3.3 -46.3-2.4 3.4 3.6z" fill="#fec13a" stroke="#fec13a"/>
<path d="M1095.5 383.3l4.3-3.3 -53.9-2.8 3.3 3.7z" fill="#fdcd31" stroke="#fdcd31"/>
<path d="M1099.8 380l4.4-3.2 -61.7-3.3 3.4 3.7z" fill="#f7db2b" stroke="#f7db2b"/>
<path d="M1104.2 376.8l4.3-3.3 -69.4-3.7 3.4 3.7z" fill="#f5e825" stroke="#f5e825"/>
<path d="M1108.5 373.5l4.4-3.3 -77.1-4.1 3.3 3.7z" fill="#f7f51b" stroke="#f7f51b"/>
</g>
<g opacity="0.5">
<path d="M499.4 356.7l-3.3 .2 -4.4-.6z" fill="#90ca4d" stroke="#90ca4d"/>
<path d="M502.8 356.6l-3.4 .1 -7.7-.4 -4.3-.5z" fill="#adc638" stroke="#adc638"/>
<path d="M506.2 356.4l-3.4 .2 -15.4-.8 -4.4-.6z" fill="#c8c129" stroke="#c8c129"/>
<path d="M509.5 356.2l-3.3 .2 -23.2-1.2 -4.3-.6z" fill="#e0bc2a" stroke="#e0bc2a"/>
<path d="M512.8 356.1l-3.3 .1 -30.8-1.6 -4.4-.6z" fill="#f3ba39" stroke="#f3ba39"/>
<path d="M516.2 355.9l-3.4 .2 -38.5-2.1 -4.4-.5z" fill="#fec13a" stroke="#fec13a"/>
<path d="M519.5 355.8l-3.3 .1 -46.3-2.4 -4.3-.6z" fill="#fdcd31" stroke="#fdcd31"/>
<path d="M522.9 355.6l-3.4 .2 -53.9-2.9 -4.4-.6z" fill="#f7db2b" stroke="#f7db2b"/>
<path d="M526.3 355.4l-3.4 .2 -61.7-3.3 -4.3-.5z" fill="#f5e825" stroke="#f5e825"/>
<path d="M529.6 355.3l-3.3 .1 -69.4-3.6 -4.4-.6z" fill="#f7f51b" stroke="#f7f51b"/>
</g>
<g opacity="0.5">
<path d="M486 407.3l2.2-2.6 -3.9-.2z" fill="#259ce7" stroke="#259ce7"/>
<path d="M488.2 404.7l2.2-2.6 -7.8-.4 1.7 2.8z" fill="#1fa5e2" stroke="#1fa5e2"/>
<path d="M490.4 402.1l2.1-2.6 -11.5-.6 1.6 2.8z" fill="#17aeda" stroke="#17aeda"/>
<path d="M492.5 399.5l2.2-2.6 -15.4-.8 1.7 2.8z" fill="#05b6ce" stroke="#05b6ce"/>
<path d="M494.7 396.9l2.2-2.6 -19.3-1.1 1.7 2.9z" fill="#06bcc0" stroke="#06bcc0"/>
<path d="M496.9 394.3l2.2-2.6 -23.2-1.3 1.7 2.8z" fill="#1fc0b2" stroke="#1fc0b2"/>
<path d="M499.1 391.7l2.2-2.6 -27-1.5 1.6 2.8z" fill="#2fc5a2" stroke="#2fc5a2"/>
<path d="M501.3 389.1l2.1-2.6 -30.8-1.7 1.7 2.8z" fill="#3dc990" stroke="#3dc990"/>
<path d="M503.4 386.5l2.2-2.6 -34.7-1.9 1.7 2.8z" fill="#55cc7c" stroke="#55cc7c"/>
<path d="M505.6 383.9l2.2-2.6 -38.6-2.1 1.7 2.8z" fill="#71cd64" stroke="#71cd64"/>
<path d="M507.8 381.3l2.2-2.6 -42.4-2.3 1.6 2.8z" fill="#90ca4d" stroke="#90ca4d"/>
<path d="M510 378.7l2.2-2.6 -46.3-2.5 1.7 2.8z" fill="#adc638" stroke="#adc638"/>
<path d="M512.2 376.1l2.1-2.6 -50.1-2.7 1.7 2.8z" fill="#c8c129" stroke="#c8c129"/>
<path d="M514.3 373.5l2.2-2.6 -53.9-2.9 1.6 2.8z" fill="#e0bc2a" stroke="#e0bc2a"/>
<path d="M516.5 370.9l2.2-2.6 -57.8-3.1 1.7 2.8z" fill="#f3ba39" stroke="#f3ba39"/>
<path d="M518.7 368.3l2.2-2.6 -61.7-3.3 1.7 2.8z" fill="#fec13a" stroke="#fec13a"/>
<path d="M520.9 365.7l2.2-2.6 -65.6-3.5 1.7 2.8z" fill="#fdcd31" stroke="#fdcd31"/>
<path d="M523.1 363.1l2.1-2.6 -69.4-3.7 1.7 2.8z" fill="#f7db2b" stroke="#f7db2b"/>
<path d="M525.2 360.5l2.2-2.6 -73.2-3.9 1.6 2.8z" fill="#f5e825" stroke="#f5e825"/>
<path d="M527.4 357.9l2.2-2.6 -77.1-4.1 1.7 2.8z" fill="#f7f51b" stroke="#f7f51b"/>
</g>
<g opacity="0.5">
<path d="M606.7 378.6l-3.3-3.7 -4.4 1.3z" fill="#90ca4d" stroke="#90ca4d"/>
<path d="M603.4 374.9l-3.4-3.7 -8.7 2.7 7.7 2.3z" fill="#adc638" stroke="#adc638"/>
<path d="M600 371.2l-3.4-3.7 -13 4.1 7.7 2.3z" fill="#c8c129" stroke="#c8c129"/>
<path d="M596.6 367.5l-3.3-3.7 -17.4 5.4 7.7 2.4z" fill="#e0bc2a" stroke="#e0bc2a"/>
<path d="M593.3 363.8l-3.3-3.7 -21.8 6.8 7.7 2.3z" fill="#f3ba39" stroke="#f3ba39"/>
<path d="M590 360.1l-3.4-3.6 -26.2 8.1 7.8 2.3z" fill="#fec13a" stroke="#fec13a"/>
<path d="M586.6 356.5l-3.3-3.7 -30.6 9.5 7.7 2.3z" fill="#fdcd31" stroke="#fdcd31"/>
<path d="M583.3 352.8l-3.4-3.7 -34.9 10.8 7.7 2.4z" fill="#f7db2b" stroke="#f7db2b"/>
<path d="M579.9 349.1l-3.4-3.7 -39.2 12.2 7.7 2.3z" fill="#f5e825" stroke="#f5e825"/>
<path d="M576.5 345.4l-3.3-3.7 -43.6 13.6 7.7 2.3z" fill="#f7f51b" stroke="#f7f51b"/>
</g>
<g opacity="0.5">
<path d="M602.3 378l4.4 .6 -7.7-2.4z" fill="#90ca4d" stroke="#90ca4d"/>
<path d="M598 377.4l4.3 .6 -3.3-1.8 -7.7-2.3z" fill="#adc638" stroke="#adc638"/>
<path d="M593.6 376.9l4.4 .5 -6.7-3.5 -7.7-2.3z" fill="#c8c129" stroke="#c8c129"/>
<path d="M589.3 376.3l4.3 .6 -10-5.3 -7.7-2.4z" fill="#e0bc2a" stroke="#e0bc2a"/>
<path d="M584.9 375.7l4.4 .6 -13.4-7.1 -7.7-2.3z" fill="#f3ba39" stroke="#f3ba39"/>
<path d="M580.5 375.1l4.4 .6 -16.7-8.8 -7.8-2.3z" fill="#fec13a" stroke="#fec13a"/>
<path d="M576.2 374.6l4.3 .5 -20.1-10.5 -7.7-2.3z" fill="#fdcd31" stroke="#fdcd31"/>
<path d="M571.8 374l4.4 .6 -23.5-12.3 -7.7-2.4z" fill="#f7db2b" stroke="#f7db2b"/>
<path d="M567.5 373.4l4.3 .6 -26.8-14.1 -7.7-2.3z" fill="#f5e825" stroke="#f5e825"/>
<path d="M563.1 372.9l4.4 .5 -30.2-15.8 -7.7-2.3z" fill="#f7f51b" stroke="#f7f51b"/>
</g>
<g opacity="0.5">
<path d="M683.8 382.6l-3.3-3.6 -69.4-3.7 -4.4 3.3z" fill="#90ca4d" stroke="#90ca4d"/>
<path d="M680.5 379l-3.4-3.7 -61.7-3.3 -4.3 3.3z" fill="#adc638" stroke="#adc638"/>
<path d="M677.1 375.3l-3.4-3.7 -53.9-2.9 -4.4 3.3z" fill="#c8c129" stroke="#c8c129"/>
<path d="M673.7 371.6l-3.3-3.7 -46.3-2.4 -4.3 3.2z" fill="#e0bc2a" stroke="#e0bc2a"/>
<path d="M670.4 367.9l-3.4-3.7 -38.5-2 -4.4 3.3z" fill="#f3ba39" stroke="#f3ba39"/>
<path d="M667 364.2l-3.3-3.7 -30.8-1.6 -4.4 3.3z" fill="#fec13a" stroke="#fec13a"/>
<path d="M663.7 360.5l-3.3-3.6 -23.2-1.3 -4.3 3.3z" fill="#fdcd31" stroke="#fdcd31"/>
<path d="M660.4 356.9l-3.4-3.7 -15.4-.8 -4.4 3.2z" fill="#f7db2b" stroke="#f7db2b"/>
<path d="M657 353.2l-3.4-3.7 -7.7-.4 -4.3 3.3z" fill="#f5e825" stroke="#f5e825"/>
<path d="M653.6 349.5l-3.3-3.7 -4.4 3.3z" fill="#f7f51b" stroke="#f7f51b"/>
</g>
<g opacity="0.5">
<path d="M679.4 382.1l4.4 .5 -77.1-4 3.3-.2z" fill="#90ca4d" stroke="#90ca4d"/>
<path d="M675.1 381.5l4.3 .6 -69.4-3.7 3.4-.2z" fill="#adc638" stroke="#adc638"/>
<path d="M670.7 380.9l4.4 .6 -61.7-3.3 3.4-.1z" fill="#c8c129" stroke="#c8c129"/>
<path d="M666.4 380.4l4.3 .5 -53.9-2.8 3.3-.2z" fill="#e0bc2a" stroke="#e0bc2a"/>
<path d="M662 379.8l4.4 .6 -46.3-2.5 3.3-.2z" fill="#f3ba39" stroke="#f3ba39"/>
<path d="M657.6 379.2l4.4 .6 -38.6-2.1 3.4-.1z" fill="#fec13a" stroke="#fec13a"/>
<path d="M653.3 378.6l4.3 .6 -30.8-1.6 3.3-.2z" fill="#fdcd31" stroke="#fdcd31"/>
<path d="M648.9 378.1l4.4 .5 -23.2-1.2 3.4-.1z" fill="#f7db2b" stroke="#f7db2b"/>
<path d="M644.6 377.5l4.3 .6 -15.4-.8 3.4-.2z" fill="#f5e825" stroke="#f5e825"/>
<path d="M640.2 376.9l4.4 .6 -7.7-.4z" fill="#f7f51b" stroke="#f7f51b"/>
</g>
<g opacity="0.5">
<path d="M688.2 379.4l-4.4 3.2 7.7-1.5z" fill="#90ca4d" stroke="#90ca4d"/>
<path d="M692.5 376.1l-4.3 3.3 3.3 1.7 7.7-1.5z" fill="#adc638" stroke="#adc638"/>
<path d="M696.9 372.8l-4.4 3.3 6.7 3.5 7.7-1.5z" fill="#c8c129" stroke="#c8c129"/>
<path d="M701.2 369.5l-4.3 3.3 10 5.3 7.7-1.5z" fill="#e0bc2a" stroke="#e0bc2a"/>
<path d="M705.6 366.2l-4.4 3.3 13.4 7.1 7.7-1.6z" fill="#f3ba39" stroke="#f3ba39"/>
<path d="M710 363l-4.4 3.2 16.7 8.8 7.8-1.5z" fill="#fec13a" stroke="#fec13a"/>
<path d="M714.3 359.7l-4.3 3.3 20.1 10.5 7.7-1.5z" fill="#fdcd31" stroke="#fdcd31"/>
<path d="M718.7 356.4l-4.4 3.3 23.5 12.3 7.7-1.5z" fill="#f7db2b" stroke="#f7db2b"/>
<path d="M723 353.1l-4.3 3.3 26.8 14.1 7.7-1.5z" fill="#f5e825" stroke="#f5e825"/>
<path d="M760.9 367.5l-33.5-17.6 -4.4 3.2 30.2 15.9z" fill="#f7f51b" stroke="#f7f51b"/>
</g>
<g opacity="0.5">
<path d="M691.5 381.1l-7.7 1.5 3.3-.1z" fill="#90ca4d" stroke="#90ca4d"/>
<path d="M699.2 379.6l-7.7 1.5 -4.4 1.4 3.4-.2z" fill="#adc638" stroke="#adc638"/>
<path d="M706.9 378.1l-7.7 1.5 -8.7 2.7 3.4-.2z" fill="#c8c129" stroke="#c8c129"/>
<path d="M714.6 376.6l-7.7 1.5 -13 4 3.3-.1z" fill="#e0bc2a" stroke="#e0bc2a"/>
<path d="M722.3 375l-7.7 1.6 -17.4 5.4 3.4-.2z" fill="#f3ba39" stroke="#f3ba39"/>
<path d="M730.1 373.5l-7.8 1.5 -21.7 6.8 3.3-.1z" fill="#fec13a" stroke="#fec13a"/>
<path d="M737.8 372l-7.7 1.5 -26.2 8.2 3.3-.2z" fill="#fdcd31" stroke="#fdcd31"/>
<path d="M745.5 370.5l-7.7 1.5 -30.6 9.5 3.4-.2z" fill="#f7db2b" stroke="#f7db2b"/>
<path d="M753.2 369l-7.7 1.5 -34.9 10.8 3.4-.1z" fill="#f5e825" stroke="#f5e825"/>
<path d="M717.3 381l43.6-13.5 -7.7 1.5 -39.2 12.2z" fill="#f7f51b" stroke="#f7f51b"/>
</g>
<g opacity="0.5">
<path d="M884.9 377.1l-3.3 .1 -4.4-.5z" fill="#90ca4d" stroke="#90ca4d"/>
<path d="M888.3 376.9l-3.4 .2 -7.7-.4 -4.3-.6z" fill="#adc638" stroke="#adc638"/>
<path d="M891.7 376.7l-3.4 .2 -15.4-.8 -4.4-.6z" fill="#c8c129" stroke="#c8c129"/>
<path d="M895 376.6l-3.3 .1 -23.2-1.2 -4.3-.5z" fill="#e0bc2a" stroke="#e0bc2a"/>
<path d="M898.4 376.4l-3.4 .2 -30.8-1.6 -4.4-.6z" fill="#f3ba39" stroke="#f3ba39"/>
<path d="M901.7 376.3l-3.3 .1 -38.6-2 -4.4-.6z" fill="#fec13a" stroke="#fec13a"/>
<path d="M905 376.1l-3.3 .2 -46.3-2.5 -4.3-.6z" fill="#fdcd31" stroke="#fdcd31"/>
<path d="M908.4 375.9l-3.4 .2 -53.9-2.9 -4.4-.5z" fill="#f7db2b" stroke="#f7db2b"/>
<path d="M911.8 375.8l-3.4 .1 -61.7-3.2 -4.3-.6z" fill="#f5e825" stroke="#f5e825"/>
<path d="M915.1 375.6l-3.3 .2 -69.4-3.7 -4.4-.6z" fill="#f7f51b" stroke="#f7f51b"/>
</g>
<path d="M871.5 389.1l43.6-13.5 -77.1-4.1z" fill="#f9fb15" fill-opacity="0.5" stroke="none"/>
<g opacity="0.5">
<path d="M962 381.1l-3.3 .2 -4.4-.6z" fill="#90ca4d" stroke="#90ca4d"/>
<path d="M965.4 381l-3.4 .1 -7.7-.4 -4.3-.5z" fill="#adc638" stroke="#adc638"/>
<path d="M968.8 380.8l-3.4 .2 -15.4-.8 -4.4-.6z" fill="#c8c129" stroke="#c8c129"/>
<path d="M972.1 380.6l-3.3 .2 -23.2-1.2 -4.3-.6z" fill="#e0bc2a" stroke="#e0bc2a"/>
<path d="M975.4 380.5l-3.3 .1 -30.8-1.6 -4.4-.6z" fill="#f3ba39" stroke="#f3ba39"/>
<path d="M978.8 380.3l-3.4 .2 -38.5-2.1 -4.4-.5z" fill="#fec13a" stroke="#fec13a"/>
<path d="M982.1 380.2l-3.3 .1 -46.3-2.4 -4.3-.6z" fill="#fdcd31" stroke="#fdcd31"/>
<path d="M985.5 380l-3.4 .2 -53.9-2.9 -4.4-.6z" fill="#f7db2b" stroke="#f7db2b"/>
<path d="M988.9 379.8l-3.4 .2 -61.7-3.3 -4.3-.5z" fill="#f5e825" stroke="#f5e825"/>
<path d="M992.2 379.7l-3.3 .1 -69.4-3.6 -4.4-.6z" fill="#f7f51b" stroke="#f7f51b"/>
</g>
<g opacity="0.5">
<path d="M948.6 412.4l4.4-3.2 -7.7-.4z" fill="#90ca4d" stroke="#90ca4d"/>
<path d="M953 409.2l4.3-3.3 -15.4-.8 3.4 3.7z" fill="#adc638" stroke="#adc638"/>
<path d="M957.3 405.9l4.4-3.3 -23.2-1.2 3.4 3.7z" fill="#c8c129" stroke="#c8c129"/>
<path d="M961.7 402.6l4.3-3.3 -30.8-1.6 3.3 3.7z" fill="#e0bc2a" stroke="#e0bc2a"/>
<path d="M966 399.3l4.4-3.3 -38.6-2 3.4 3.7z" fill="#f3ba39" stroke="#f3ba39"/>
<path d="M970.4 396l4.4-3.2 -46.3-2.5 3.3 3.7z" fill="#fec13a" stroke="#fec13a"/>
<path d="M974.8 392.8l4.3-3.3 -53.9-2.8 3.3 3.6z" fill="#fdcd31" stroke="#fdcd31"/>
<path d="M979.1 389.5l4.4-3.3 -61.7-3.2 3.4 3.7z" fill="#f7db2b" stroke="#f7db2b"/>
<path d="M983.5 386.2l4.3-3.3 -69.4-3.6 3.4 3.7z" fill="#f5e825" stroke="#f5e825"/>
<path d="M987.8 382.9l4.4-3.2 -77.1-4.1 3.3 3.7z" fill="#f7f51b" stroke="#f7f51b"/>
</g>
<g opacity="0.5">
<path d="M1069.3 403l-3.3-3.7 -4.4 1.3z" fill="#90ca4d" stroke="#90ca4d"/>
<path d="M1066 399.3l-3.4-3.7 -8.7 2.7 7.7 2.3z" fill="#adc638" stroke="#adc638"/>
<path d="M1062.6 395.6l-3.4-3.7 -13 4.1 7.7 2.3z" fill="#c8c129" stroke="#c8c129"/>
<path d="M1059.2 391.9l-3.3-3.7 -17.4 5.4 7.7 2.4z" fill="#e0bc2a" stroke="#e0bc2a"/>
<path d="M1055.9 388.2l-3.3-3.7 -21.8 6.8 7.7 2.3z" fill="#f3ba39" stroke="#f3ba39"/>
<path d="M1052.6 384.5l-3.4-3.6 -26.2 8.1 7.8 2.3z" fill="#fec13a" stroke="#fec13a"/>
<path d="M1049.2 380.9l-3.3-3.7 -30.6 9.5 7.7 2.3z" fill="#fdcd31" stroke="#fdcd31"/>
<path d="M1045.9 377.2l-3.4-3.7 -34.9 10.8 7.7 2.4z" fill="#f7db2b" stroke="#f7db2b"/>
<path d="M1042.5 373.5l-3.4-3.7 -39.2 12.2 7.7 2.3z" fill="#f5e825" stroke="#f5e825"/>
<path d="M1039.1 369.8l-3.3-3.7 -43.6 13.6 7.7 2.3z" fill="#f7f51b" stroke="#f7f51b"/>
</g>
<g opacity="0.5">
<path d="M1064.9 402.4l4.4 .6 -7.7-2.4z" fill="#90ca4d" stroke="#90ca4d"/>
<path d="M1060.6 401.8l4.3 .6 -3.3-1.8 -7.7-2.3z" fill="#adc638" stroke="#adc638"/>
<path d="M1056.2 401.3l4.4 .5 -6.7-3.5 -7.7-2.3z" fill="#c8c129" stroke="#c8c129"/>
<path d="M1051.9 400.7l4.3 .6 -10-5.3 -7.7-2.4z" fill="#e0bc2a" stroke="#e0bc2a"/>
<path d="M1047.5 400.1l4.4 .6 -13.4-7.1 -7.7-2.3z" fill="#f3ba39" stroke="#f3ba39"/>
<path d="M1043.1 399.5l4.4 .6 -16.7-8.8 -7.8-2.3z" fill="#fec13a" stroke="#fec13a"/>
<path d="M1038.8 399l4.3 .5 -20.1-10.5 -7.7-2.3z" fill="#fdcd31" stroke="#fdcd31"/>
<path d="M1034.4 398.4l4.4 .6 -23.5-12.3 -7.7-2.4z" fill="#f7db2b" stroke="#f7db2b"/>
<path d="M1030.1 397.8l4.3 .6 -26.8-14.1 -7.7-2.3z" fill="#f5e825" stroke="#f5e825"/>
<path d="M1025.7 397.3l4.4 .5 -30.2-15.8 -7.7-2.3z" fill="#f7f51b" stroke="#f7f51b"/>
</g>
<g opacity="0.5">
<path d="M488.2 404.7l-2.2 2.6 3.9-1.8z" fill="#259ce7" stroke="#259ce7"/>
<path d="M490.4 402.1l-2.2 2.6 1.7 .8 3.8-1.7z" fill="#1fa5e2" stroke="#1fa5e2"/>
<path d="M492.5 399.5l-2.1 2.6 3.3 1.7 3.9-1.7z" fill="#17aeda" stroke="#17aeda"/>
<path d="M494.7 396.9l-2.2 2.6 5.1 2.6 3.8-1.7z" fill="#05b6ce" stroke="#05b6ce"/>
<path d="M496.9 394.3l-2.2 2.6 6.7 3.5 3.9-1.7z" fill="#06bcc0" stroke="#06bcc0"/>
<path d="M499.1 391.7l-2.2 2.6 8.4 4.4 3.8-1.8z" fill="#1fc0b2" stroke="#1fc0b2"/>
<path d="M501.3 389.1l-2.2 2.6 10 5.2 3.9-1.7z" fill="#2fc5a2" stroke="#2fc5a2"/>
<path d="M503.4 386.5l-2.1 2.6 11.7 6.1 3.8-1.7z" fill="#3dc990" stroke="#3dc990"/>
<path d="M505.6 383.9l-2.2 2.6 13.4 7 3.9-1.7z" fill="#55cc7c" stroke="#55cc7c"/>
<path d="M507.8 381.3l-2.2 2.6 15.1 7.9 3.9-1.7z" fill="#71cd64" stroke="#71cd64"/>
<path d="M510 378.7l-2.2 2.6 16.8 8.8 3.8-1.8z" fill="#90ca4d" stroke="#90ca4d"/>
<path d="M512.2 376.1l-2.2 2.6 18.4 9.6 3.9-1.7z" fill="#adc638" stroke="#adc638"/>
<path d="M514.3 373.5l-2.1 2.6 20.1 10.5 3.8-1.7z" fill="#c8c129" stroke="#c8c129"/>
<path d="M516.5 370.9l-2.2 2.6 21.8 11.4 3.9-1.7z" fill="#e0bc2a" stroke="#e0bc2a"/>
<path d="M518.7 368.3l-2.2 2.6 23.5 12.3 3.8-1.7z" fill="#f3ba39" stroke="#f3ba39"/>
<path d="M520.9 365.7l-2.2 2.6 25.1 13.2 3.9-1.8z" fill="#fec13a" stroke="#fec13a"/>
<path d="M523.1 363.1l-2.2 2.6 26.8 14 3.8-1.7z" fill="#fdcd31" stroke="#fdcd31"/>
<path d="M525.2 360.5l-2.1 2.6 28.4 14.9 3.9-1.7z" fill="#f7db2b" stroke="#f7db2b"/>
<path d="M527.4 357.9l-2.2 2.6 30.2 15.8 3.8-1.7z" fill="#f5e825" stroke="#f5e825"/>
<path d="M563.1 372.9l-33.5-17.6 -2.2 2.6 31.8 16.7z" fill="#f7f51b" stroke="#f7f51b"/>
</g>
<g opacity="0.5">
<path d="M489.9 405.5l-3.9 1.8 3.4-.2z" fill="#259ce7" stroke="#259ce7"/>
<path d="M493.7 403.8l-3.8 1.7 -.5 1.6 3.3-.2z" fill="#1fa5e2" stroke="#1fa5e2"/>
<path d="M497.6 402.1l-3.9 1.7 -1 3.1 3.3-.1z" fill="#17aeda" stroke="#17aeda"/>
<path d="M501.4 400.4l-3.8 1.7 -1.6 4.7 3.4-.2z" fill="#05b6ce" stroke="#05b6ce"/>
<path d="M505.3 398.7l-3.9 1.7 -2 6.2 3.4-.2z" fill="#06bcc0" stroke="#06bcc0"/>
<path d="M509.1 396.9l-3.8 1.8 -2.5 7.7 3.3-.1z" fill="#1fc0b2" stroke="#1fc0b2"/>
<path d="M513 395.2l-3.9 1.7 -3 9.4 3.4-.2z" fill="#2fc5a2" stroke="#2fc5a2"/>
<path d="M516.8 393.5l-3.8 1.7 -3.5 10.9 3.3-.1z" fill="#3dc990" stroke="#3dc990"/>
<path d="M520.7 391.8l-3.9 1.7 -4 12.5 3.3-.2z" fill="#55cc7c" stroke="#55cc7c"/>
<path d="M519.5 405.6l0 0 5.1-15.5 -3.9 1.7 -4.6 14z" fill="#71cd64" stroke="#71cd64"/>
<path d="M519.5 405.6l4.4-3.2 4.5-14.1 -3.8 1.8 -5.1 15.5z" fill="#90ca4d" stroke="#90ca4d"/>
<path d="M523.9 402.4l4.3-3.3 4.1-12.5 -3.9 1.7z" fill="#adc638" stroke="#adc638"/>
<path d="M528.2 399.1l4.4-3.3 3.5-10.9 -3.8 1.7z" fill="#c8c129" stroke="#c8c129"/>
<path d="M532.6 395.8l4.3-3.3 3.1-9.3 -3.9 1.7z" fill="#e0bc2a" stroke="#e0bc2a"/>
<path d="M536.9 392.5l4.4-3.3 2.5-7.7 -3.8 1.7z" fill="#f3ba39" stroke="#f3ba39"/>
<path d="M541.3 389.2l4.4-3.2 2-6.3 -3.9 1.8z" fill="#fec13a" stroke="#fec13a"/>
<path d="M545.7 386l4.3-3.3 1.5-4.7 -3.8 1.7z" fill="#fdcd31" stroke="#fdcd31"/>
<path d="M550 382.7l4.4-3.3 1-3.1 -3.9 1.7z" fill="#f7db2b" stroke="#f7db2b"/>
<path d="M554.4 379.4l4.3-3.3 .5-1.5 -3.8 1.7z" fill="#f5e825" stroke="#f5e825"/>
<path d="M558.7 376.1l4.4-3.2 -3.9 1.7z" fill="#f7f51b" stroke="#f7f51b"/>
</g>
<g opacity="0.5">
<path d="M610 378.4l-3.3 .2 -4.4-.6z" fill="#90ca4d" stroke="#90ca4d"/>
<path d="M613.4 378.2l-3.4 .2 -7.7-.4 -4.3-.6z" fill="#adc638" stroke="#adc638"/>
<path d="M616.8 378.1l-3.4 .1 -15.4-.8 -4.4-.5z" fill="#c8c129" stroke="#c8c129"/>
<path d="M620.1 377.9l-3.3 .2 -23.2-1.2 -4.3-.6z" fill="#e0bc2a" stroke="#e0bc2a"/>
<path d="M623.4 377.7l-3.3 .2 -30.8-1.6 -4.4-.6z" fill="#f3ba39" stroke="#f3ba39"/>
<path d="M626.8 377.6l-3.4 .1 -38.5-2 -4.4-.6z" fill="#fec13a" stroke="#fec13a"/>
<path d="M630.1 377.4l-3.3 .2 -46.3-2.5 -4.3-.5z" fill="#fdcd31" stroke="#fdcd31"/>
<path d="M633.5 377.3l-3.4 .1 -53.9-2.8 -4.4-.6z" fill="#f7db2b" stroke="#f7db2b"/>
<path d="M636.9 377.1l-3.4 .2 -61.7-3.3 -4.3-.6z" fill="#f5e825" stroke="#f5e825"/>
<path d="M640.2 376.9l-3.3 .2 -69.4-3.7 -4.4-.5z" fill="#f7f51b" stroke="#f7f51b"/>
</g>
<g opacity="0.5">
<path d="M596.6 409.7l4.4-3.3 -7.7-.4z" fill="#90ca4d" stroke="#90ca4d"/>
<path d="M601 406.4l4.3-3.3 -15.4-.8 3.4 3.7z" fill="#adc638" stroke="#adc638"/>
<path d="M605.3 403.1l4.4-3.2 -23.2-1.3 3.4 3.7z" fill="#c8c129" stroke="#c8c129"/>
<path d="M609.7 399.9l4.3-3.3 -30.8-1.6 3.3 3.6z" fill="#e0bc2a" stroke="#e0bc2a"/>
<path d="M614 396.6l4.4-3.3 -38.6-2 3.4 3.7z" fill="#f3ba39" stroke="#f3ba39"/>
<path d="M618.4 393.3l4.4-3.3 -46.3-2.4 3.3 3.7z" fill="#fec13a" stroke="#fec13a"/>
<path d="M622.8 390l4.3-3.2 -53.9-2.9 3.3 3.7z" fill="#fdcd31" stroke="#fdcd31"/>
<path d="M627.1 386.8l4.4-3.3 -61.7-3.3 3.4 3.7z" fill="#f7db2b" stroke="#f7db2b"/>
<path d="M631.5 383.5l4.3-3.3 -69.4-3.7 3.4 3.7z" fill="#f5e825" stroke="#f5e825"/>
<path d="M635.8 380.2l4.4-3.3 -77.1-4 3.3 3.6z" fill="#f7f51b" stroke="#f7f51b"/>
</g>
<g opacity="0.5">
<path d="M687.1 382.5l-3.3 .1 -4.4-.5z" fill="#90ca4d" stroke="#90ca4d"/>
<path d="M690.5 382.3l-3.4 .2 -7.7-.4 -4.3-.6z" fill="#adc638" stroke="#adc638"/>
<path d="M693.9 382.1l-3.4 .2 -15.4-.8 -4.4-.6z" fill="#c8c129" stroke="#c8c129"/>
<path d="M697.2 382l-3.3 .1 -23.2-1.2 -4.3-.5z" fill="#e0bc2a" stroke="#e0bc2a"/>
<path d="M700.6 381.8l-3.4 .2 -30.8-1.6 -4.4-.6z" fill="#f3ba39" stroke="#f3ba39"/>
<path d="M703.9 381.7l-3.3 .1 -38.6-2 -4.4-.6z" fill="#fec13a" stroke="#fec13a"/>
<path d="M707.2 381.5l-3.3 .2 -46.3-2.5 -4.3-.6z" fill="#fdcd31" stroke="#fdcd31"/>
<path d="M710.6 381.3l-3.4 .2 -53.9-2.9 -4.4-.5z" fill="#f7db2b" stroke="#f7db2b"/>
<path d="M714 381.2l-3.4 .1 -61.7-3.2 -4.3-.6z" fill="#f5e825" stroke="#f5e825"/>
<path d="M717.3 381l-3.3 .2 -69.4-3.7 -4.4-.6z" fill="#f7f51b" stroke="#f7f51b"/>
</g>
<path d="M673.7 394.5l43.6-13.5 -77.1-4.1z" fill="#f9fb15" fill-opacity="0.5" stroke="none"/>
<g opacity="0.5">
<path d="M948.6 412.4l-3.3-3.6 -4.4 1.3z" fill="#90ca4d" stroke="#90ca4d"/>
<path d="M945.3 408.8l-3.4-3.7 -8.7 2.7 7.7 2.3z" fill="#adc638" stroke="#adc638"/>
<path d="M941.9 405.1l-3.4-3.7 -13 4 7.7 2.4z" fill="#c8c129" stroke="#c8c129"/>
<path d="M938.5 401.4l-3.3-3.7 -17.4 5.4 7.7 2.3z" fill="#e0bc2a" stroke="#e0bc2a"/>
<path d="M935.2 397.7l-3.4-3.7 -21.8 6.8 7.8 2.3z" fill="#f3ba39" stroke="#f3ba39"/>
<path d="M931.8 394l-3.3-3.7 -26.2 8.2 7.7 2.3z" fill="#fec13a" stroke="#fec13a"/>
<path d="M928.5 390.3l-3.3-3.6 -30.6 9.4 7.7 2.4z" fill="#fdcd31" stroke="#fdcd31"/>
<path d="M925.2 386.7l-3.4-3.7 -34.9 10.8 7.7 2.3z" fill="#f7db2b" stroke="#f7db2b"/>
<path d="M921.8 383l-3.4-3.7 -39.2 12.2 7.7 2.3z" fill="#f5e825" stroke="#f5e825"/>
<path d="M918.4 379.3l-3.3-3.7 -43.6 13.5 7.7 2.4z" fill="#f7f51b" stroke="#f7f51b"/>
</g>
<g opacity="0.5">
<path d="M944.2 411.9l4.4 .5 -7.7-2.3z" fill="#90ca4d" stroke="#90ca4d"/>
<path d="M939.9 411.3l4.3 .6 -3.3-1.8 -7.7-2.3z" fill="#adc638" stroke="#adc638"/>
<path d="M935.5 410.7l4.4 .6 -6.7-3.5 -7.7-2.4z" fill="#c8c129" stroke="#c8c129"/>
<path d="M931.2 410.2l4.3 .5 -10-5.3 -7.7-2.3z" fill="#e0bc2a" stroke="#e0bc2a"/>
<path d="M926.8 409.6l4.4 .6 -13.4-7.1 -7.8-2.3z" fill="#f3ba39" stroke="#f3ba39"/>
<path d="M922.4 409l4.4 .6 -16.8-8.8 -7.7-2.3z" fill="#fec13a" stroke="#fec13a"/>
<path d="M918.1 408.4l4.3 .6 -20.1-10.5 -7.7-2.4z" fill="#fdcd31" stroke="#fdcd31"/>
<path d="M913.7 407.9l4.4 .5 -23.5-12.3 -7.7-2.3z" fill="#f7db2b" stroke="#f7db2b"/>
<path d="M909.4 407.3l4.3 .6 -26.8-14.1 -7.7-2.3z" fill="#f5e825" stroke="#f5e825"/>
<path d="M905 406.7l4.4 .6 -30.2-15.8 -7.7-2.4z" fill="#f7f51b" stroke="#f7f51b"/>
</g>
<g opacity="0.5">
<path d="M953 409.2l-4.4 3.2 7.7-1.5z" fill="#90ca4d" stroke="#90ca4d"/>
<path d="M957.3 405.9l-4.3 3.3 3.3 1.7 7.7-1.5z" fill="#adc638" stroke="#adc638"/>
<path d="M961.7 402.6l-4.4 3.3 6.7 3.5 7.7-1.5z" fill="#c8c129" stroke="#c8c129"/>
<path d="M966 399.3l-4.3 3.3 10 5.3 7.7-1.5z" fill="#e0bc2a" stroke="#e0bc2a"/>
<path d="M970.4 396l-4.4 3.3 13.4 7.1 7.8-1.6z" fill="#f3ba39" stroke="#f3ba39"/>
<path d="M974.8 392.8l-4.4 3.2 16.8 8.8 7.7-1.5z" fill="#fec13a" stroke="#fec13a"/>
<path d="M979.1 389.5l-4.3 3.3 20.1 10.5 7.7-1.5z" fill="#fdcd31" stroke="#fdcd31"/>
<path d="M983.5 386.2l-4.4 3.3 23.5 12.3 7.7-1.5z" fill="#f7db2b" stroke="#f7db2b"/>
<path d="M987.8 382.9l-4.3 3.3 26.8 14.1 7.7-1.5z" fill="#f5e825" stroke="#f5e825"/>
<path d="M1025.7 397.3l-33.5-17.6 -4.4 3.2 30.2 15.9z" fill="#f7f51b" stroke="#f7f51b"/>
</g>
<g opacity="0.5">
<path d="M956.3 410.9l-7.7 1.5 3.3-.1z" fill="#90ca4d" stroke="#90ca4d"/>
<path d="M964 409.4l-7.7 1.5 -4.4 1.4 3.4-.2z" fill="#adc638" stroke="#adc638"/>
<path d="M971.7 407.9l-7.7 1.5 -8.7 2.7 3.4-.2z" fill="#c8c129" stroke="#c8c129"/>
<path d="M979.4 406.4l-7.7 1.5 -13 4 3.3-.1z" fill="#e0bc2a" stroke="#e0bc2a"/>
<path d="M987.2 404.8l-7.8 1.6 -17.4 5.4 3.4-.2z" fill="#f3ba39" stroke="#f3ba39"/>
<path d="M994.9 403.3l-7.7 1.5 -21.8 6.8 3.3-.1z" fill="#fec13a" stroke="#fec13a"/>
<path d="M1002.6 401.8l-7.7 1.5 -26.2 8.2 3.3-.2z" fill="#fdcd31" stroke="#fdcd31"/>
<path d="M1010.3 400.3l-7.7 1.5 -30.6 9.5 3.4-.2z" fill="#f7db2b" stroke="#f7db2b"/>
<path d="M1018 398.8l-7.7 1.5 -34.9 10.8 3.4-.1z" fill="#f5e825" stroke="#f5e825"/>
<path d="M982.1 410.8l43.6-13.5 -7.7 1.5 -39.2 12.2z" fill="#f7f51b" stroke="#f7f51b"/>
</g>
<g opacity="0.5">
<path d="M596.6 409.7l-3.3-3.7 -69.4-3.6 -4.4 3.2z" fill="#90ca4d" stroke="#90ca4d"/>
<path d="M593.3 406l-3.4-3.7 -61.7-3.2 -4.3 3.3z" fill="#adc638" stroke="#adc638"/>
<path d="M589.9 402.3l-3.4-3.7 -53.9-2.8 -4.4 3.3z" fill="#c8c129" stroke="#c8c129"/>
<path d="M586.5 398.6l-3.3-3.6 -46.3-2.5 -4.3 3.3z" fill="#e0bc2a" stroke="#e0bc2a"/>
<path d="M583.2 395l-3.4-3.7 -38.5-2.1 -4.4 3.3z" fill="#f3ba39" stroke="#f3ba39"/>
<path d="M579.8 391.3l-3.3-3.7 -30.8-1.6 -4.4 3.2z" fill="#fec13a" stroke="#fec13a"/>
<path d="M576.5 387.6l-3.3-3.7 -23.2-1.2 -4.3 3.3z" fill="#fdcd31" stroke="#fdcd31"/>
<path d="M573.2 383.9l-3.4-3.7 -15.4-.8 -4.4 3.3z" fill="#f7db2b" stroke="#f7db2b"/>
<path d="M569.8 380.2l-3.4-3.7 -7.7-.4 -4.3 3.3z" fill="#f5e825" stroke="#f5e825"/>
<path d="M566.4 376.5l-3.3-3.6 -4.4 3.2z" fill="#f7f51b" stroke="#f7f51b"/>
</g>
<g opacity="0.5">
<path d="M592.2 409.1l4.4 .6 -77.1-4.1 3.3-.1z" fill="#90ca4d" stroke="#90ca4d"/>
<path d="M587.9 408.6l4.3 .5 -69.4-3.6 3.4-.2z" fill="#adc638" stroke="#adc638"/>
<path d="M583.5 408l4.4 .6 -61.7-3.3 3.4-.2z" fill="#c8c129" stroke="#c8c129"/>
<path d="M579.2 407.4l4.3 .6 -53.9-2.9 3.3-.1z" fill="#e0bc2a" stroke="#e0bc2a"/>
<path d="M574.8 406.8l4.4 .6 -46.3-2.4 3.3-.2z" fill="#f3ba39" stroke="#f3ba39"/>
<path d="M570.4 406.3l4.4 .5 -38.6-2 3.4-.1z" fill="#fec13a" stroke="#fec13a"/>
<path d="M566.1 405.7l4.3 .6 -30.8-1.6 3.3-.2z" fill="#fdcd31" stroke="#fdcd31"/>
<path d="M561.7 405.1l4.4 .6 -23.2-1.2 3.4-.2z" fill="#f7db2b" stroke="#f7db2b"/>
<path d="M557.4 404.6l4.3 .5 -15.4-.8 3.4-.1z" fill="#f5e825" stroke="#f5e825"/>
<path d="M553 404l4.4 .6 -7.7-.4z" fill="#f7f51b" stroke="#f7f51b"/>
</g>
<g opacity="0.5">
<path d="M601 406.4l-4.4 3.3 7.7-1.5z" fill="#90ca4d" stroke="#90ca4d"/>
<path d="M605.3 403.1l-4.3 3.3 3.3 1.8 7.7-1.5z" fill="#adc638" stroke="#adc638"/>
<path d="M609.7 399.9l-4.4 3.2 6.7 3.6 7.7-1.6z" fill="#c8c129" stroke="#c8c129"/>
<path d="M614 396.6l-4.3 3.3 10 5.2 7.7-1.5z" fill="#e0bc2a" stroke="#e0bc2a"/>
<path d="M618.4 393.3l-4.4 3.3 13.4 7 7.8-1.5z" fill="#f3ba39" stroke="#f3ba39"/>
<path d="M622.8 390l-4.4 3.3 16.8 8.8 7.7-1.5z" fill="#fec13a" stroke="#fec13a"/>
<path d="M627.1 386.8l-4.3 3.2 20.1 10.6 7.7-1.5z" fill="#fdcd31" stroke="#fdcd31"/>
<path d="M631.5 383.5l-4.4 3.3 23.5 12.3 7.7-1.5z" fill="#f7db2b" stroke="#f7db2b"/>
<path d="M635.8 380.2l-4.3 3.3 26.8 14.1 7.7-1.6z" fill="#f5e825" stroke="#f5e825"/>
<path d="M673.7 394.5l-33.5-17.6 -4.4 3.3 30.2 15.8z" fill="#f7f51b" stroke="#f7f51b"/>
</g>
<g opacity="0.5">
<path d="M604.3 408.2l-7.7 1.5 3.3-.2z" fill="#90ca4d" stroke="#90ca4d"/>
<path d="M612 406.7l-7.7 1.5 -4.4 1.3 3.4-.1z" fill="#adc638" stroke="#adc638"/>
<path d="M619.7 405.1l-7.7 1.6 -8.7 2.7 3.4-.2z" fill="#c8c129" stroke="#c8c129"/>
<path d="M627.4 403.6l-7.7 1.5 -13 4.1 3.3-.2z" fill="#e0bc2a" stroke="#e0bc2a"/>
<path d="M635.2 402.1l-7.8 1.5 -17.4 5.4 3.4-.1z" fill="#f3ba39" stroke="#f3ba39"/>
<path d="M642.9 400.6l-7.7 1.5 -21.8 6.8 3.3-.2z" fill="#fec13a" stroke="#fec13a"/>
<path d="M650.6 399.1l-7.7 1.5 -26.2 8.1 3.3-.1z" fill="#fdcd31" stroke="#fdcd31"/>
<path d="M658.3 397.6l-7.7 1.5 -30.6 9.5 3.4-.2z" fill="#f7db2b" stroke="#f7db2b"/>
<path d="M666 396l-7.7 1.6 -34.9 10.8 3.4-.2z" fill="#f5e825" stroke="#f5e825"/>
<path d="M630.1 408.1l43.6-13.6 -7.7 1.5 -39.2 12.2z" fill="#f7f51b" stroke="#f7f51b"/>
</g>
<g opacity="0.5">
<path d="M951.9 412.3l-3.3 .1 -4.4-.5z" fill="#90ca4d" stroke="#90ca4d"/>
<path d="M955.3 412.1l-3.4 .2 -7.7-.4 -4.3-.6z" fill="#adc638" stroke="#adc638"/>
<path d="M958.7 411.9l-3.4 .2 -15.4-.8 -4.4-.6z" fill="#c8c129" stroke="#c8c129"/>
<path d="M962 411.8l-3.3 .1 -23.2-1.2 -4.3-.5z" fill="#e0bc2a" stroke="#e0bc2a"/>
<path d="M965.4 411.6l-3.4 .2 -30.8-1.6 -4.4-.6z" fill="#f3ba39" stroke="#f3ba39"/>
<path d="M968.7 411.5l-3.3 .1 -38.6-2 -4.4-.6z" fill="#fec13a" stroke="#fec13a"/>
<path d="M972 411.3l-3.3 .2 -46.3-2.5 -4.3-.6z" fill="#fdcd31" stroke="#fdcd31"/>
<path d="M975.4 411.1l-3.4 .2 -53.9-2.9 -4.4-.5z" fill="#f7db2b" stroke="#f7db2b"/>
<path d="M978.8 411l-3.4 .1 -61.7-3.2 -4.3-.6z" fill="#f5e825" stroke="#f5e825"/>
<path d="M982.1 410.8l-3.3 .2 -69.4-3.7 -4.4-.6z" fill="#f7f51b" stroke="#f7f51b"/>
</g>
<path d="M938.5 424.3l43.6-13.5 -77.1-4.1z" fill="#f9fb15" fill-opacity="0.5" stroke="none"/>
<g opacity="0.5">
<path d="M599.9 409.5l-3.3 .2 -4.4-.6z" fill="#90ca4d" stroke="#90ca4d"/>
<path d="M603.3 409.4l-3.4 .1 -7.7-.4 -4.3-.5z" fill="#adc638" stroke="#adc638"/>
<path d="M606.7 409.2l-3.4 .2 -15.4-.8 -4.4-.6z" fill="#c8c129" stroke="#c8c129"/>
<path d="M610 409l-3.3 .2 -23.2-1.2 -4.3-.6z" fill="#e0bc2a" stroke="#e0bc2a"/>
<path d="M613.4 408.9l-3.4 .1 -30.8-1.6 -4.4-.6z" fill="#f3ba39" stroke="#f3ba39"/>
<path d="M616.7 408.7l-3.3 .2 -38.6-2.1 -4.4-.5z" fill="#fec13a" stroke="#fec13a"/>
<path d="M620 408.6l-3.3 .1 -46.3-2.4 -4.3-.6z" fill="#fdcd31" stroke="#fdcd31"/>
<path d="M623.4 408.4l-3.4 .2 -53.9-2.9 -4.4-.6z" fill="#f7db2b" stroke="#f7db2b"/>
<path d="M626.8 408.2l-3.4 .2 -61.7-3.3 -4.3-.5z" fill="#f5e825" stroke="#f5e825"/>
<path d="M630.1 408.1l-3.3 .1 -69.4-3.6 -4.4-.6z" fill="#f7f51b" stroke="#f7f51b"/>
</g>
<path d="M586.5 421.6l43.6-13.5 -77.1-4.1z" fill="#f9fb15" fill-opacity="0.5" stroke="none"/>
<path d="M894.9 437.9l-33.5-17.6 -43.6 13.5z" fill="#f9fb15" fill-opacity="0.5" stroke="none"/>
<g opacity="0.5">
<path d="M851.3 470.6l4.4-3.2 -7.7-.4z" fill="#90ca4d" stroke="#90ca4d"/>
<path d="M855.7 467.4l4.3-3.3 -15.4-.8 3.4 3.7z" fill="#adc638" stroke="#adc638"/>
<path d="M860 464.1l4.4-3.3 -23.2-1.2 3.4 3.7z" fill="#c8c129" stroke="#c8c129"/>
<path d="M864.4 460.8l4.3-3.3 -30.8-1.6 3.3 3.7z" fill="#e0bc2a" stroke="#e0bc2a"/>
<path d="M868.7 457.5l4.4-3.3 -38.5-2 3.3 3.7z" fill="#f3ba39" stroke="#f3ba39"/>
<path d="M873.1 454.2l4.4-3.2 -46.3-2.5 3.4 3.7z" fill="#fec13a" stroke="#fec13a"/>
<path d="M877.5 451l4.3-3.3 -53.9-2.8 3.3 3.6z" fill="#fdcd31" stroke="#fdcd31"/>
<path d="M881.8 447.7l4.4-3.3 -61.7-3.2 3.4 3.7z" fill="#f7db2b" stroke="#f7db2b"/>
<path d="M886.2 444.4l4.3-3.3 -69.4-3.6 3.4 3.7z" fill="#f5e825" stroke="#f5e825"/>
<path d="M890.5 441.1l4.4-3.2 -77.1-4.1 3.3 3.7z" fill="#f7f51b" stroke="#f7f51b"/>
</g>
<g opacity="0.5">
<path d="M851.3 470.6l-3.3-3.6 -4.4 1.3z" fill="#90ca4d" stroke="#90ca4d"/>
<path d="M848 467l-3.4-3.7 -8.7 2.7 7.7 2.3z" fill="#adc638" stroke="#adc638"/>
<path d="M844.6 463.3l-3.4-3.7 -13 4 7.7 2.4z" fill="#c8c129" stroke="#c8c129"/>
<path d="M841.2 459.6l-3.3-3.7 -17.4 5.4 7.7 2.3z" fill="#e0bc2a" stroke="#e0bc2a"/>
<path d="M837.9 455.9l-3.3-3.7 -21.8 6.8 7.7 2.3z" fill="#f3ba39" stroke="#f3ba39"/>
<path d="M834.6 452.2l-3.4-3.7 -26.2 8.2 7.8 2.3z" fill="#fec13a" stroke="#fec13a"/>
<path d="M831.2 448.5l-3.3-3.6 -30.6 9.4 7.7 2.4z" fill="#fdcd31" stroke="#fdcd31"/>
<path d="M827.9 444.9l-3.4-3.7 -34.9 10.8 7.7 2.3z" fill="#f7db2b" stroke="#f7db2b"/>
<path d="M824.5 441.2l-3.4-3.7 -39.2 12.2 7.7 2.3z" fill="#f5e825" stroke="#f5e825"/>
<path d="M821.1 437.5l-3.3-3.7 -43.6 13.5 7.7 2.4z" fill="#f7f51b" stroke="#f7f51b"/>
</g>
<g opacity="0.5">
<path d="M846.9 470.1l4.4 .5 -7.7-2.3z" fill="#90ca4d" stroke="#90ca4d"/>
<path d="M842.6 469.5l4.3 .6 -3.3-1.8 -7.7-2.3z" fill="#adc638" stroke="#adc638"/>
<path d="M838.2 468.9l4.4 .6 -6.7-3.5 -7.7-2.4z" fill="#c8c129" stroke="#c8c129"/>
<path d="M833.9 468.4l4.3 .5 -10-5.3 -7.7-2.3z" fill="#e0bc2a" stroke="#e0bc2a"/>
<path d="M829.5 467.8l4.4 .6 -13.4-7.1 -7.7-2.3z" fill="#f3ba39" stroke="#f3ba39"/>
<path d="M825.1 467.2l4.4 .6 -16.7-8.8 -7.8-2.3z" fill="#fec13a" stroke="#fec13a"/>
<path d="M820.8 466.6l4.3 .6 -20.1-10.5 -7.7-2.4z" fill="#fdcd31" stroke="#fdcd31"/>
<path d="M816.4 466.1l4.4 .5 -23.5-12.3 -7.7-2.3z" fill="#f7db2b" stroke="#f7db2b"/>
<path d="M812.1 465.5l4.3 .6 -26.8-14.1 -7.7-2.3z" fill="#f5e825" stroke="#f5e825"/>
<path d="M807.7 464.9l4.4 .6 -30.2-15.8 -7.7-2.4z" fill="#f7f51b" stroke="#f7f51b"/>
</g>
</g>
<g fill="none" stroke-width="1.2" stroke-opacity=".4" stroke-linecap="round">
<path d="M720.5,492L764.1,478.5M720.5,492L687,474.4M687,474.4L730.6,460.9M687,474.4L653.5,456.8M653.5,456.8L697.1,443.3M653.5,456.8L620,439.2M620,439.2L663.6,425.7M620,439.2L586.5,421.6M586.5,421.6L630.1,408.1M586.5,421.6L553,404M553,404L596.6,409.7M553,404L519.5,405.6M452.5,351.2L496.1,356.9M452.5,351.2L419,333.6M419,333.6L462.6,320.1M419,333.6L385.5,316M385.5,316L429.1,321.7M385.5,316L352,317.6M318.5,280.8L362.1,286.5M318.5,280.8L285,320.9M251.5,245.6L295.1,270.5M251.5,245.6L218,247.2M764.1,478.5L807.7,464.9M764.1,478.5L730.6,460.9M730.6,460.9L774.2,447.3M730.6,460.9L697.1,443.3M697.1,443.3L740.7,429.7M697.1,443.3L663.6,425.7M663.6,425.7L707.2,412.1M663.6,425.7L630.1,408.1M630.1,408.1L673.7,394.5M630.1,408.1L596.6,409.7M563.1,372.9L606.7,378.6M563.1,372.9L529.6,355.3M529.6,355.3L573.2,341.7M529.6,355.3L496.1,356.9M462.6,320.1L506.2,345M462.6,320.1L429.1,321.7M395.6,284.9L439.2,271.3M395.6,284.9L362.1,286.5M261.6,214.5L305.2,200.9M807.7,464.9L851.3,470.6M807.7,464.9L774.2,447.3M774.2,447.3L817.8,433.8M774.2,447.3L740.7,429.7M740.7,429.7L784.3,416.2M740.7,429.7L707.2,412.1M707.2,412.1L750.8,398.6M707.2,412.1L673.7,394.5M673.7,394.5L717.3,381M673.7,394.5L640.2,376.9M640.2,376.9L683.8,382.6M640.2,376.9L606.7,378.6M573.2,341.7L616.8,366.7M573.2,341.7L539.7,343.4M439.2,271.3L482.8,277M439.2,271.3L405.7,253.7M405.7,253.7L449.3,240.2M405.7,253.7L372.2,236.1M372.2,236.1L415.8,222.6M372.2,236.1L338.7,237.8M305.2,200.9L348.8,206.6M817.8,433.8L861.4,420.3M817.8,433.8L784.3,416.2M784.3,416.2L827.9,402.7M784.3,416.2L750.8,398.6M750.8,398.6L794.4,385.1M750.8,398.6L717.3,381M717.3,381L760.9,367.5M717.3,381L683.8,382.6M650.3,345.8L693.9,332.3M650.3,345.8L616.8,366.7M583.3,310.6L626.9,335.5M583.3,310.6L549.8,312.2M449.3,240.2L492.9,226.7M449.3,240.2L415.8,222.6M415.8,222.6L459.4,266.8M415.8,222.6L382.3,224.2M894.9,437.9L938.5,424.3M894.9,437.9L861.4,420.3M861.4,420.3L905,406.7M861.4,420.3L827.9,402.7M827.9,402.7L871.5,389.1M827.9,402.7L794.4,385.1M794.4,385.1L838,371.5M794.4,385.1L760.9,367.5M760.9,367.5L804.5,353.9M760.9,367.5L727.4,349.9M727.4,349.9L771,336.3M727.4,349.9L693.9,332.3M693.9,332.3L737.5,318.7M693.9,332.3L660.4,314.7M660.4,314.7L704,320.4M660.4,314.7L626.9,335.5M593.4,279.5L637,265.9M593.4,279.5L559.9,261.9M559.9,261.9L603.5,248.3M559.9,261.9L526.4,244.3M526.4,244.3L570,230.7M526.4,244.3L492.9,226.7M492.9,226.7L536.5,251.6M492.9,226.7L459.4,266.8M392.4,173.9L436,198.8M938.5,424.3L982.1,410.8M938.5,424.3L905,406.7M905,406.7L948.6,412.4M905,406.7L871.5,389.1M871.5,389.1L915.1,375.6M871.5,389.1L838,371.5M838,371.5L881.6,377.2M838,371.5L804.5,353.9M804.5,353.9L848.1,359.6M804.5,353.9L771,336.3M771,336.3L814.6,342M771,336.3L737.5,318.7M737.5,318.7L781.1,305.2M737.5,318.7L704,320.4M670.5,283.5L714.1,289.2M670.5,283.5L637,265.9M637,265.9L680.6,271.6M637,265.9L603.5,248.3M603.5,248.3L647.1,234.8M603.5,248.3L570,230.7M570,230.7L613.6,236.4M570,230.7L536.5,251.6M503,195.5L546.6,220.5M503,195.5L469.5,177.9M469.5,177.9L513.1,164.4M469.5,177.9L436,198.8M982.1,410.8L1025.7,397.3M982.1,410.8L948.6,412.4M915.1,375.6L958.7,381.3M915.1,375.6L881.6,377.2M781.1,305.2L824.7,291.7M781.1,305.2L747.6,306.8M647.1,234.8L690.7,221.3M647.1,234.8L613.6,236.4M580.1,199.6L623.7,205.3M580.1,199.6L546.6,220.5M513.1,164.4L556.7,150.9M513.1,164.4L479.6,166M1025.7,397.3L1069.3,403M1025.7,397.3L992.2,379.7M992.2,379.7L1035.8,366.1M992.2,379.7L958.7,381.3M925.2,344.5L968.8,330.9M925.2,344.5L891.7,326.9M891.7,326.9L935.3,313.3M891.7,326.9L858.2,309.3M858.2,309.3L901.8,295.7M858.2,309.3L824.7,291.7M824.7,291.7L868.3,278.1M824.7,291.7L791.2,274.1M791.2,274.1L834.8,260.5M791.2,274.1L757.7,275.7M724.2,238.9L767.8,225.3M724.2,238.9L690.7,221.3M690.7,221.3L734.3,207.7M690.7,221.3L657.2,222.9M590.2,168.5L633.8,193.4M590.2,168.5L556.7,150.9M556.7,150.9L600.3,137.3M556.7,150.9L523.2,191M1035.8,366.1L1079.4,352.6M1035.8,366.1L1002.3,348.5M1002.3,348.5L1045.9,335M1002.3,348.5L968.8,330.9M968.8,330.9L1012.4,317.4M968.8,330.9L935.3,313.3M935.3,313.3L978.9,319M935.3,313.3L901.8,295.7M901.8,295.7L945.4,282.2M901.8,295.7L868.3,278.1M868.3,278.1L911.9,264.6M868.3,278.1L834.8,260.5M834.8,260.5L878.4,266.2M834.8,260.5L801.3,262.2M767.8,225.3L811.4,211.8M767.8,225.3L734.3,207.7M734.3,207.7L777.9,194.2M734.3,207.7L700.8,190.1M700.8,190.1L744.4,176.6M700.8,190.1L667.3,191.8M600.3,137.3L643.9,123.8M600.3,137.3L566.8,167.8M1112.9,370.2L1156.5,356.7M1112.9,370.2L1079.4,352.6M1079.4,352.6L1123,339.1M1079.4,352.6L1045.9,335M1045.9,335L1089.5,340.7M1045.9,335L1012.4,317.4M1012.4,317.4L1056,323.1M1012.4,317.4L978.9,319M945.4,282.2L989,268.7M945.4,282.2L911.9,264.6M911.9,264.6L955.5,251.1M911.9,264.6L878.4,266.2M844.9,229.4L888.5,215.9M844.9,229.4L811.4,211.8M811.4,211.8L855,198.3M811.4,211.8L777.9,194.2M777.9,194.2L821.5,180.7M777.9,194.2L744.4,176.6M744.4,176.6L788,182.3M744.4,176.6L710.9,159M710.9,159L754.5,145.5M710.9,159L677.4,160.6M643.9,123.8L687.5,129.5M643.9,123.8L610.4,125.4M1156.5,356.7L1200.1,343.1M1156.5,356.7L1123,339.1M1123,339.1L1166.6,325.5M1123,339.1L1089.5,340.7M1022.5,286.3L1066.1,272.7M1022.5,286.3L989,268.7M989,268.7L1032.6,255.1M989,268.7L955.5,251.1M955.5,251.1L999.1,237.5M955.5,251.1L922,252.7M888.5,215.9L932.1,202.3M888.5,215.9L855,198.3M855,198.3L898.6,223.2M855,198.3L821.5,180.7M821.5,180.7L865.1,186.4M821.5,180.7L788,182.3M754.5,145.5L798.1,151.2M754.5,145.5L721,185.6M1200.1,343.1L1243.7,329.6M1200.1,343.1L1166.6,325.5M1166.6,325.5L1210.2,312M1166.6,325.5L1133.1,307.9M1133.1,307.9L1176.7,294.4M1133.1,307.9L1099.6,290.3M1099.6,290.3L1143.2,276.8M1099.6,290.3L1066.1,272.7M1066.1,272.7L1109.7,259.2M1066.1,272.7L1032.6,255.1M1032.6,255.1L1076.2,241.6M1032.6,255.1L999.1,237.5M999.1,237.5L1042.7,243.2M999.1,237.5L965.6,219.9M965.6,219.9L1009.2,206.4M965.6,219.9L932.1,202.3M932.1,202.3L975.7,188.8M932.1,202.3L898.6,223.2M831.6,149.5L875.2,136M831.6,149.5L798.1,151.2M697.6,79.1L741.2,65.6M1243.7,329.6L1287.3,316.1M1243.7,329.6L1210.2,312M1210.2,312L1253.8,298.5M1210.2,312L1176.7,294.4M1176.7,294.4L1220.3,300.1M1176.7,294.4L1143.2,276.8M1143.2,276.8L1186.8,263.3M1143.2,276.8L1109.7,259.2M1109.7,259.2L1153.3,245.7M1109.7,259.2L1076.2,241.6M1076.2,241.6L1119.8,228.1M1076.2,241.6L1042.7,243.2M1009.2,206.4L1052.8,192.9M1009.2,206.4L975.7,188.8M975.7,188.8L1019.3,175.3M975.7,188.8L942.2,171.2M942.2,171.2L985.8,157.7M942.2,171.2L908.7,153.6M908.7,153.6L952.3,178.5M908.7,153.6L875.2,136M875.2,136L918.8,122.5M875.2,136L841.7,118.4M841.7,118.4L885.3,104.9M841.7,118.4L808.2,100.8M808.2,100.8L851.8,145M808.2,100.8L774.7,102.4M741.2,65.6L784.8,52.1M1287.3,316.1L1330.9,302.5M1287.3,316.1L1253.8,298.5M1253.8,298.5L1297.4,284.9M1253.8,298.5L1220.3,300.1M1186.8,263.3L1230.4,249.7M1186.8,263.3L1153.3,245.7M1153.3,245.7L1196.9,232.1M1153.3,245.7L1119.8,228.1M1119.8,228.1L1163.4,214.5M1119.8,228.1L1086.3,210.5M1086.3,210.5L1129.9,216.2M1086.3,210.5L1052.8,192.9M1052.8,192.9L1096.4,179.3M1052.8,192.9L1019.3,175.3M1019.3,175.3L1062.9,161.7M1019.3,175.3L985.8,157.7M985.8,157.7L1029.4,144.1M985.8,157.7L952.3,178.5M918.8,122.5L962.4,108.9M918.8,122.5L885.3,104.9M885.3,104.9L928.9,91.3M885.3,104.9L851.8,145M818.3,69.7L861.9,94.6M818.3,69.7L784.8,52.1M784.8,52.1L828.4,57.8M1330.9,302.5L1374.5,289M1330.9,302.5L1297.4,284.9M1297.4,284.9L1341,271.4M1297.4,284.9L1263.9,286.6M1230.4,249.7L1274,236.2M1230.4,249.7L1196.9,232.1M1196.9,232.1L1240.5,218.6M1196.9,232.1L1163.4,214.5M1163.4,214.5L1207,201M1163.4,214.5L1129.9,216.2M1096.4,179.3L1140,165.8M1096.4,179.3L1062.9,161.7M1062.9,161.7L1106.5,148.2M1062.9,161.7L1029.4,144.1M1029.4,144.1L1073,130.6M1029.4,144.1L995.9,126.5M995.9,126.5L1039.5,113M995.9,126.5L962.4,108.9M962.4,108.9L1006,95.4M962.4,108.9L928.9,91.3M928.9,91.3L972.5,97M928.9,91.3L895.4,73.7M895.4,73.7L939,60.2M895.4,73.7L861.9,94.6M1374.5,289L1341,271.4M1341,271.4L1307.5,253.8M1307.5,253.8L1274,236.2M1274,236.2L1240.5,218.6M1240.5,218.6L1207,201M1207,201L1173.5,183.4M1173.5,183.4L1140,165.8M1140,165.8L1106.5,148.2M1106.5,148.2L1073,130.6M1073,130.6L1039.5,113M1039.5,113L1006,95.4M1006,95.4L972.5,97M939,60.2L905.5,42.6M905.5,42.6L872,25" stroke="#f9fb15"/>
<path d="M519.5,405.6L563.1,372.9M519.5,405.6L486,407.3M352,317.6L395.6,284.9M352,317.6L318.5,280.8M218,247.2L261.6,214.5M596.6,409.7L640.2,376.9M596.6,409.7L563.1,372.9M496.1,356.9L539.7,343.4M496.1,356.9L462.6,320.1M429.1,321.7L472.7,327.4M429.1,321.7L395.6,284.9M362.1,286.5L405.7,253.7M362.1,286.5L328.6,268.9M328.6,268.9L372.2,236.1M328.6,268.9L295.1,270.5M606.7,378.6L650.3,345.8M606.7,378.6L573.2,341.7M539.7,343.4L583.3,310.6M539.7,343.4L506.2,345M338.7,237.8L382.3,224.2M338.7,237.8L305.2,200.9M851.3,470.6L894.9,437.9M851.3,470.6L817.8,433.8M683.8,382.6L727.4,349.9M683.8,382.6L650.3,345.8M549.8,312.2L593.4,279.5M549.8,312.2L516.3,294.6M516.3,294.6L559.9,261.9M516.3,294.6L482.8,277M482.8,277L526.4,244.3M482.8,277L449.3,240.2M382.3,224.2L425.9,210.7M382.3,224.2L348.8,206.6M348.8,206.6L392.4,173.9M425.9,210.7L469.5,177.9M425.9,210.7L392.4,173.9M704,320.4L747.6,306.8M704,320.4L670.5,283.5M948.6,412.4L992.2,379.7M948.6,412.4L915.1,375.6M881.6,377.2L925.2,344.5M881.6,377.2L848.1,359.6M848.1,359.6L891.7,326.9M848.1,359.6L814.6,342M814.6,342L858.2,309.3M814.6,342L781.1,305.2M747.6,306.8L791.2,274.1M747.6,306.8L714.1,289.2M714.1,289.2L757.7,275.7M714.1,289.2L680.6,271.6M680.6,271.6L724.2,238.9M680.6,271.6L647.1,234.8M613.6,236.4L657.2,222.9M613.6,236.4L580.1,199.6M479.6,166L523.2,191M958.7,381.3L1002.3,348.5M958.7,381.3L925.2,344.5M757.7,275.7L801.3,262.2M757.7,275.7L724.2,238.9M657.2,222.9L700.8,190.1M657.2,222.9L623.7,205.3M623.7,205.3L667.3,191.8M623.7,205.3L590.2,168.5M1069.3,403L1112.9,370.2M1069.3,403L1035.8,366.1M801.3,262.2L844.9,229.4M801.3,262.2L767.8,225.3M667.3,191.8L710.9,159M667.3,191.8L633.8,193.4M978.9,319L1022.5,286.3M978.9,319L945.4,282.2M878.4,266.2L922,252.7M878.4,266.2L844.9,229.4M677.4,160.6L721,185.6M677.4,160.6L643.9,123.8M610.4,125.4L654,150.4M1089.5,340.7L1133.1,307.9M1089.5,340.7L1056,323.1M1056,323.1L1099.6,290.3M1056,323.1L1022.5,286.3M922,252.7L965.6,219.9M922,252.7L888.5,215.9M788,182.3L831.6,149.5M788,182.3L754.5,145.5M687.5,129.5L731.1,135.2M687.5,129.5L654,150.4M865.1,186.4L908.7,153.6M865.1,186.4L831.6,149.5M798.1,151.2L841.7,118.4M798.1,151.2L764.6,133.6M764.6,133.6L808.2,100.8M764.6,133.6L731.1,135.2M1042.7,243.2L1086.3,210.5M1042.7,243.2L1009.2,206.4M774.7,102.4L818.3,69.7M774.7,102.4L741.2,65.6M1220.3,300.1L1263.9,286.6M1220.3,300.1L1186.8,263.3M1263.9,286.6L1307.5,253.8M1263.9,286.6L1230.4,249.7M1129.9,216.2L1173.5,183.4M1129.9,216.2L1096.4,179.3M828.4,57.8L872,25M972.5,97L939,60.2" stroke="#8dd169"/>
<path d="M486,407.3L529.6,355.3M486,407.3L452.5,351.2M295.1,270.5L338.7,237.8M295.1,270.5L261.6,214.5M506.2,345L549.8,312.2M506.2,345L472.7,327.4M472.7,327.4L516.3,294.6M472.7,327.4L439.2,271.3M616.8,366.7L660.4,314.7M616.8,366.7L583.3,310.6M626.9,335.5L670.5,283.5M626.9,335.5L593.4,279.5M536.5,251.6L580.1,199.6M536.5,251.6L503,195.5M436,198.8L479.6,166M546.6,220.5L590.2,168.5M546.6,220.5L513.1,164.4M633.8,193.4L677.4,160.6M633.8,193.4L600.3,137.3M898.6,223.2L942.2,171.2M898.6,223.2L865.1,186.4M731.1,135.2L774.7,102.4M731.1,135.2L697.6,79.1M952.3,178.5L995.9,126.5M952.3,178.5L918.8,122.5M861.9,94.6L905.5,42.6M861.9,94.6L828.4,57.8" stroke="#52abef"/>
<path d="M285,320.9L328.6,268.9M285,320.9L251.5,245.6M459.4,266.8L503,195.5M459.4,266.8L425.9,210.7M523.2,191L566.8,167.8M721,185.6L764.6,133.6M721,185.6L687.5,129.5M654,150.4L697.6,79.1M851.8,145L895.4,73.7M851.8,145L818.3,69.7" stroke="#7867c2"/>
<path d="M566.8,167.8L610.4,125.4" stroke="#7584fb"/>
</g>
<path d="M218,228L218,805" stroke="#6a6a6a" stroke-width="2" fill="none"/>
<path d="M218,805L720.5,1069L1374.5,866M218,805L201.8,796.5M218,708.8L201.8,700.3M218,612.7L201.8,604.2M218,516.5L201.8,508M218,420.3L201.8,411.8M218,324.2L201.8,315.7M218,228L201.8,219.5M720.5,1069L703,1074.4M553,981L535.5,986.4M385.5,893L368,898.4M218,805L200.5,810.4M720.5,1069L736.7,1077.5M938.5,1001.3L954.7,1009.8M1156.5,933.7L1172.7,942.2M1374.5,866L1390.7,874.5M636.8,1025L633.9,1025.9M829.5,1035.2L832.2,1036.6M469.2,937L466.4,937.9M1047.5,967.5L1050.2,968.9M301.8,849L298.9,849.9M1265.5,899.8L1268.2,901.2" stroke="#4a4a4a" stroke-width="1.6" fill="none" stroke-linejoin="round"/>
<g font-family="'Liberation Sans', Arial, Helvetica, sans-serif" font-size="38.6" fill="#363636">
<text x="190.8" y="807.8" text-anchor="end">97%</text>
<text x="190.8" y="711.6" text-anchor="end">97.5%</text>
<text x="190.8" y="615.5" text-anchor="end">98%</text>
<text x="190.8" y="519.3" text-anchor="end">98.5%</text>
<text x="190.8" y="423.1" text-anchor="end">99%</text>
<text x="190.8" y="327" text-anchor="end">99.5%</text>
<text x="190.8" y="230.8" text-anchor="end">100%</text>
<text x="692.2" y="1117.6" text-anchor="end">0.005</text>
<text x="524.7" y="1029.6" text-anchor="end">0.01</text>
<text x="357.2" y="941.6" text-anchor="end">0.015</text>
<text x="189.7" y="853.6" text-anchor="end">0.02</text>
<text x="747" y="1121.5">0.005</text>
<text x="965" y="1053.8">0.01</text>
<text x="1183" y="986.2">0.015</text>
<text x="1401" y="918.5">0.02</text>
</g>
<g font-family="'Liberation Serif', 'Times New Roman', Times, serif" fill="#000">
<g font-size="30" stroke="#000" stroke-width=".3">
<text x="158.4" y="1063.8" textLength="344" lengthAdjust="spacingAndGlyphs">sensor <tspan font-style="italic">w</tspan> maximum pitch</text>
<text x="128" y="1090.3" textLength="303" lengthAdjust="spacingAndGlyphs">angle system error/<tspan font-style="italic">rad</tspan></text>
<text x="1038.4" y="1079.3" textLength="337" lengthAdjust="spacingAndGlyphs">sensor <tspan font-style="italic">v</tspan> maximum pitch</text>
<text x="1008" y="1106.4" textLength="303" lengthAdjust="spacingAndGlyphs">angle system error/<tspan font-style="italic">rad</tspan></text>
</g>
<text x="11" y="593.5" font-size="49" textLength="97.5" lengthAdjust="spacingAndGlyphs"><tspan font-style="italic">Ez</tspan>(<tspan font-style="italic">c</tspan>)</text>
<text x="721" y="1321" font-size="85.5" text-anchor="middle">(</text>
<text transform="translate(753.2 1321) scale(.97 1)" font-size="86" font-weight="bold" text-anchor="middle">c</text>
<text x="784.6" y="1321" font-size="85.5" text-anchor="middle">)</text>
<g font-size="47.5" font-weight="bold" font-style="italic" stroke="#000" stroke-width=".5">
<text x="217.2" y="43.5" textLength="47.6" lengthAdjust="spacingAndGlyphs"><tspan font-style="normal">Δ</tspan>r</text>
<text x="257.6" y="55.6" textLength="19.5" lengthAdjust="spacingAndGlyphs" font-size="26">m</text>
<text x="289.3" y="43.5" textLength="33" lengthAdjust="spacingAndGlyphs" font-style="normal">=</text>
<text x="326.5" y="43.5" textLength="84" lengthAdjust="spacingAndGlyphs" font-style="normal">1000</text>
<text x="411.5" y="43.5" textLength="32.5" lengthAdjust="spacingAndGlyphs">m</text>
<text x="217.2" y="112.3" textLength="57.7" lengthAdjust="spacingAndGlyphs"><tspan font-style="normal">Δ</tspan>θ</text>
<text x="270" y="124.4" textLength="19.5" lengthAdjust="spacingAndGlyphs" font-size="26">m</text>
<text x="301.6" y="112.3" textLength="33" lengthAdjust="spacingAndGlyphs" font-style="normal">=</text>
<text x="338.7" y="112.3" textLength="73.8" lengthAdjust="spacingAndGlyphs" font-style="normal">0.01</text>
<text x="413.5" y="112.3" textLength="68" lengthAdjust="spacingAndGlyphs">rad</text>
</g>
</g>
</svg>
</body></html>
